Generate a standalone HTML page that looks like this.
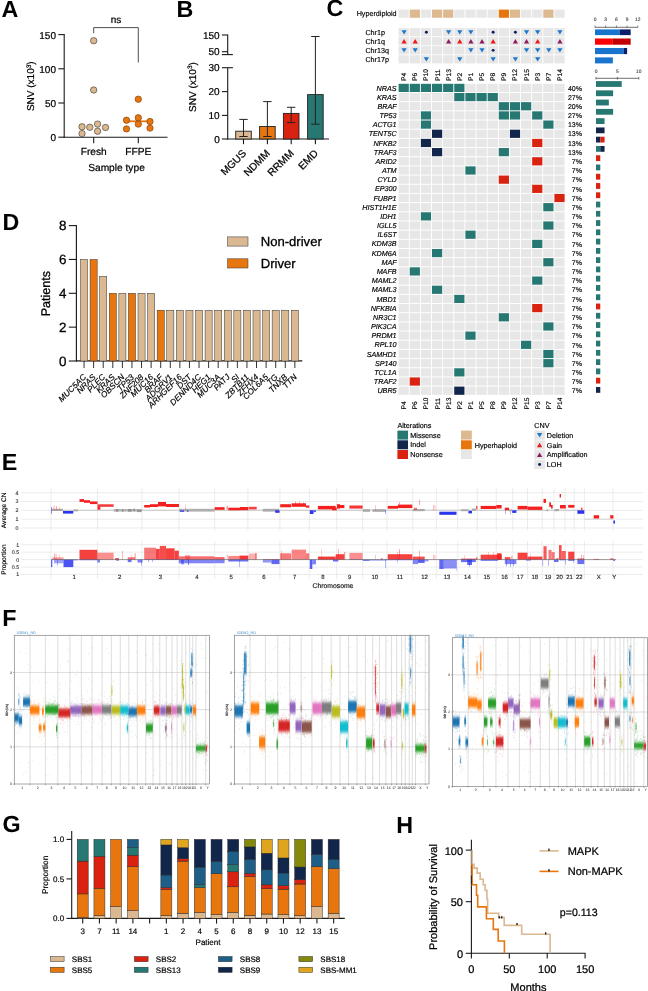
<!DOCTYPE html>
<html lang="en"><head><meta charset="utf-8"><title>Figure</title>
<style>
html,body{margin:0;padding:0;background:#fff;}
svg{display:block;font-family:"Liberation Sans", sans-serif;text-rendering:geometricPrecision;}
</style></head><body>
<svg width="648" height="991" viewBox="0 0 648 991">
<rect width="648" height="991" fill="#fff"/>
<text x="1.40" y="17.40" font-size="23.3" font-weight="bold">A</text>
<text x="176.50" y="17.40" font-size="23.3" font-weight="bold">B</text>
<text x="326.50" y="16.20" font-size="23.3" font-weight="bold">C</text>
<text x="2.50" y="229.80" font-size="23.3" font-weight="bold">D</text>
<text x="1.80" y="469.70" font-size="23.3" font-weight="bold">E</text>
<text x="2.20" y="625.70" font-size="23.3" font-weight="bold">F</text>
<text x="2.50" y="832.20" font-size="23.3" font-weight="bold">G</text>
<text x="396.20" y="833.20" font-size="23.3" font-weight="bold">H</text>
<g id="pA">
<line x1="64.20" y1="34.10" x2="64.20" y2="137.70" stroke="#1a1a1a" stroke-width="1.1"/>
<line x1="63.70" y1="137.20" x2="167.50" y2="137.20" stroke="#1a1a1a" stroke-width="1.1"/>
<line x1="58.30" y1="137.20" x2="64.20" y2="137.20" stroke="#1a1a1a" stroke-width="1.1"/>
<text x="56.00" y="141.20" font-size="10" text-anchor="end" stroke="#000" stroke-width="0.22">0</text>
<line x1="58.30" y1="103.00" x2="64.20" y2="103.00" stroke="#1a1a1a" stroke-width="1.1"/>
<text x="56.00" y="107.00" font-size="10" text-anchor="end" stroke="#000" stroke-width="0.22">50</text>
<line x1="58.30" y1="68.80" x2="64.20" y2="68.80" stroke="#1a1a1a" stroke-width="1.1"/>
<text x="56.00" y="72.80" font-size="10" text-anchor="end" stroke="#000" stroke-width="0.22">100</text>
<line x1="58.30" y1="34.60" x2="64.20" y2="34.60" stroke="#1a1a1a" stroke-width="1.1"/>
<text x="56.00" y="38.60" font-size="10" text-anchor="end" stroke="#000" stroke-width="0.22">150</text>
<line x1="93.70" y1="137.20" x2="93.70" y2="143.30" stroke="#1a1a1a" stroke-width="1.1"/>
<line x1="138.30" y1="137.20" x2="138.30" y2="143.30" stroke="#1a1a1a" stroke-width="1.1"/>
<text x="93.70" y="155.40" font-size="10.2" text-anchor="middle" stroke="#000" stroke-width="0.22">Fresh</text>
<text x="138.30" y="155.40" font-size="10.2" text-anchor="middle" stroke="#000" stroke-width="0.22">FFPE</text>
<text x="116.50" y="170.80" font-size="10.2" text-anchor="middle" stroke="#000" stroke-width="0.22">Sample type</text>
<text x="34.3" y="86.2" font-size="10" text-anchor="middle" stroke="#000" stroke-width="0.22" transform="rotate(-90 34.3 86.2)">SNV (x10<tspan font-size="6.5" dy="-3.6">3</tspan><tspan dy="3.6">)</tspan></text>
<path d="M93.7 33.2V27.6H138.3V62.5" fill="none" stroke="#222" stroke-width="0.8"/>
<text x="116.00" y="22.60" font-size="10" text-anchor="middle" stroke="#000" stroke-width="0.22">ns</text>
<line x1="126.00" y1="121.30" x2="150.50" y2="121.30" stroke="#e8760f" stroke-width="1.8"/>
<circle cx="93.7" cy="40.7" r="3.2" fill="#dab892" stroke="#3a3026" stroke-width="0.6"/>
<circle cx="93.7" cy="90.0" r="3.2" fill="#dab892" stroke="#3a3026" stroke-width="0.6"/>
<circle cx="82.0" cy="126.8" r="3.2" fill="#dab892" stroke="#3a3026" stroke-width="0.6"/>
<circle cx="89.8" cy="127.3" r="3.2" fill="#dab892" stroke="#3a3026" stroke-width="0.6"/>
<circle cx="97.6" cy="124.1" r="3.2" fill="#dab892" stroke="#3a3026" stroke-width="0.6"/>
<circle cx="105.5" cy="127.5" r="3.2" fill="#dab892" stroke="#3a3026" stroke-width="0.6"/>
<circle cx="97.6" cy="131.2" r="3.2" fill="#dab892" stroke="#3a3026" stroke-width="0.6"/>
<circle cx="82.0" cy="133.6" r="3.2" fill="#dab892" stroke="#3a3026" stroke-width="0.6"/>
<circle cx="138.3" cy="99.2" r="3.2" fill="#e8760f" stroke="#7a3a05" stroke-width="0.6"/>
<circle cx="126.5" cy="120.2" r="3.2" fill="#e8760f" stroke="#7a3a05" stroke-width="0.6"/>
<circle cx="138.3" cy="117.8" r="3.2" fill="#e8760f" stroke="#7a3a05" stroke-width="0.6"/>
<circle cx="150.0" cy="121.5" r="3.2" fill="#e8760f" stroke="#7a3a05" stroke-width="0.6"/>
<circle cx="138.3" cy="124.1" r="3.2" fill="#e8760f" stroke="#7a3a05" stroke-width="0.6"/>
<circle cx="126.5" cy="128.9" r="3.2" fill="#e8760f" stroke="#7a3a05" stroke-width="0.6"/>
<circle cx="150.0" cy="128.1" r="3.2" fill="#e8760f" stroke="#7a3a05" stroke-width="0.6"/>
</g>
<g id="pB">
<line x1="227.70" y1="34.50" x2="227.70" y2="54.60" stroke="#1a1a1a" stroke-width="1.1"/>
<line x1="227.70" y1="67.70" x2="227.70" y2="139.50" stroke="#1a1a1a" stroke-width="1.1"/>
<line x1="227.20" y1="139.00" x2="329.00" y2="139.00" stroke="#1a1a1a" stroke-width="1.1"/>
<line x1="221.90" y1="35.00" x2="227.70" y2="35.00" stroke="#1a1a1a" stroke-width="1.1"/>
<text x="219.70" y="38.60" font-size="10" text-anchor="end" stroke="#000" stroke-width="0.22">150</text>
<line x1="221.90" y1="51.70" x2="227.70" y2="51.70" stroke="#1a1a1a" stroke-width="1.1"/>
<text x="219.70" y="55.30" font-size="10" text-anchor="end" stroke="#000" stroke-width="0.22">50</text>
<line x1="221.90" y1="67.70" x2="227.70" y2="67.70" stroke="#1a1a1a" stroke-width="1.1"/>
<text x="219.70" y="71.30" font-size="10" text-anchor="end" stroke="#000" stroke-width="0.22">30</text>
<line x1="221.90" y1="91.60" x2="227.70" y2="91.60" stroke="#1a1a1a" stroke-width="1.1"/>
<text x="219.70" y="95.20" font-size="10" text-anchor="end" stroke="#000" stroke-width="0.22">20</text>
<line x1="221.90" y1="115.40" x2="227.70" y2="115.40" stroke="#1a1a1a" stroke-width="1.1"/>
<text x="219.70" y="119.00" font-size="10" text-anchor="end" stroke="#000" stroke-width="0.22">10</text>
<line x1="221.90" y1="139.00" x2="227.70" y2="139.00" stroke="#1a1a1a" stroke-width="1.1"/>
<text x="219.70" y="142.60" font-size="10" text-anchor="end" stroke="#000" stroke-width="0.22">0</text>
<line x1="221.90" y1="54.60" x2="232.90" y2="54.60" stroke="#1a1a1a" stroke-width="1.1"/>
<line x1="227.70" y1="67.70" x2="232.90" y2="67.70" stroke="#1a1a1a" stroke-width="1.1"/>
<text x="196" y="87" font-size="10" text-anchor="middle" stroke="#000" stroke-width="0.22" transform="rotate(-90 196 87)">SNV (x10<tspan font-size="6.5" dy="-3.6">3</tspan><tspan dy="3.6">)</tspan></text>
<rect x="235.70" y="131.20" width="15.60" height="7.80" fill="#dab892" stroke="#222" stroke-width="0.9"/>
<line x1="243.50" y1="119.40" x2="243.50" y2="136.50" stroke="#222" stroke-width="1.0"/>
<line x1="239.30" y1="119.40" x2="247.70" y2="119.40" stroke="#222" stroke-width="1.0"/>
<line x1="239.30" y1="136.50" x2="247.70" y2="136.50" stroke="#222" stroke-width="1.0"/>
<line x1="243.50" y1="139.00" x2="243.50" y2="144.20" stroke="#1a1a1a" stroke-width="1.1"/>
<text x="246.80" y="154.00" font-size="10.3" text-anchor="end" transform="rotate(-45 246.80 154.00)" stroke="#000" stroke-width="0.23">MGUS</text>
<rect x="259.60" y="126.50" width="15.60" height="12.50" fill="#e8760f" stroke="#222" stroke-width="0.9"/>
<line x1="267.40" y1="101.60" x2="267.40" y2="136.50" stroke="#222" stroke-width="1.0"/>
<line x1="263.20" y1="101.60" x2="271.60" y2="101.60" stroke="#222" stroke-width="1.0"/>
<line x1="263.20" y1="136.50" x2="271.60" y2="136.50" stroke="#222" stroke-width="1.0"/>
<line x1="267.40" y1="139.00" x2="267.40" y2="144.20" stroke="#1a1a1a" stroke-width="1.1"/>
<text x="270.70" y="154.00" font-size="10.3" text-anchor="end" transform="rotate(-45 270.70 154.00)" stroke="#000" stroke-width="0.23">NDMM</text>
<rect x="283.40" y="113.40" width="15.60" height="25.60" fill="#d9220f" stroke="#222" stroke-width="0.9"/>
<line x1="291.20" y1="107.30" x2="291.20" y2="122.60" stroke="#222" stroke-width="1.0"/>
<line x1="287.00" y1="107.30" x2="295.40" y2="107.30" stroke="#222" stroke-width="1.0"/>
<line x1="287.00" y1="122.60" x2="295.40" y2="122.60" stroke="#222" stroke-width="1.0"/>
<line x1="291.20" y1="139.00" x2="291.20" y2="144.20" stroke="#1a1a1a" stroke-width="1.1"/>
<text x="294.50" y="154.00" font-size="10.3" text-anchor="end" transform="rotate(-45 294.50 154.00)" stroke="#000" stroke-width="0.23">RRMM</text>
<rect x="307.60" y="94.60" width="15.60" height="44.40" fill="#277773" stroke="#222" stroke-width="0.9"/>
<line x1="315.40" y1="36.50" x2="315.40" y2="124.20" stroke="#222" stroke-width="1.0"/>
<line x1="311.20" y1="36.50" x2="319.60" y2="36.50" stroke="#222" stroke-width="1.0"/>
<line x1="311.20" y1="124.20" x2="319.60" y2="124.20" stroke="#222" stroke-width="1.0"/>
<line x1="315.40" y1="139.00" x2="315.40" y2="144.20" stroke="#1a1a1a" stroke-width="1.1"/>
<text x="318.70" y="154.00" font-size="10.3" text-anchor="end" transform="rotate(-45 318.70 154.00)" stroke="#000" stroke-width="0.23">EMD</text>
</g>
<g id="pD">
<line x1="76.40" y1="225.00" x2="76.40" y2="361.40" stroke="#1a1a1a" stroke-width="1.15"/>
<line x1="75.85" y1="360.85" x2="302.30" y2="360.85" stroke="#1a1a1a" stroke-width="1.15"/>
<line x1="68.80" y1="361.00" x2="76.40" y2="361.00" stroke="#1a1a1a" stroke-width="1.1"/>
<text x="66.40" y="365.80" font-size="13.4" text-anchor="end" stroke="#000" stroke-width="0.29">0</text>
<line x1="68.80" y1="327.15" x2="76.40" y2="327.15" stroke="#1a1a1a" stroke-width="1.1"/>
<text x="66.40" y="331.95" font-size="13.4" text-anchor="end" stroke="#000" stroke-width="0.29">2</text>
<line x1="68.80" y1="293.30" x2="76.40" y2="293.30" stroke="#1a1a1a" stroke-width="1.1"/>
<text x="66.40" y="298.10" font-size="13.4" text-anchor="end" stroke="#000" stroke-width="0.29">4</text>
<line x1="68.80" y1="259.45" x2="76.40" y2="259.45" stroke="#1a1a1a" stroke-width="1.1"/>
<text x="66.40" y="264.25" font-size="13.4" text-anchor="end" stroke="#000" stroke-width="0.29">6</text>
<line x1="68.80" y1="225.60" x2="76.40" y2="225.60" stroke="#1a1a1a" stroke-width="1.1"/>
<text x="66.40" y="230.40" font-size="13.4" text-anchor="end" stroke="#000" stroke-width="0.29">8</text>
<text x="50.30" y="293.60" font-size="12.6" text-anchor="middle" transform="rotate(-90 50.30 293.60)" stroke="#000" stroke-width="0.28">Patients</text>
<rect x="80.50" y="259.45" width="7.10" height="101.55" fill="#dab892" stroke="#333" stroke-width="0.5"/>
<line x1="84.05" y1="361.00" x2="84.05" y2="368.00" stroke="#1a1a1a" stroke-width="0.9"/>
<text x="86.65" y="377.60" font-size="8.3" text-anchor="end" font-style="italic" transform="rotate(-45 86.65 377.60)" stroke="#000" stroke-width="0.18">MUC5AC</text>
<rect x="90.08" y="259.45" width="7.10" height="101.55" fill="#e8760f" stroke="#333" stroke-width="0.5"/>
<line x1="93.63" y1="361.00" x2="93.63" y2="368.00" stroke="#1a1a1a" stroke-width="0.9"/>
<text x="96.23" y="377.60" font-size="8.3" text-anchor="end" font-style="italic" transform="rotate(-45 96.23 377.60)" stroke="#000" stroke-width="0.18">NRAS</text>
<rect x="99.66" y="276.38" width="7.10" height="84.62" fill="#dab892" stroke="#333" stroke-width="0.5"/>
<line x1="103.21" y1="361.00" x2="103.21" y2="368.00" stroke="#1a1a1a" stroke-width="0.9"/>
<text x="105.81" y="377.60" font-size="8.3" text-anchor="end" font-style="italic" transform="rotate(-45 105.81 377.60)" stroke="#000" stroke-width="0.18">PLEC</text>
<rect x="109.25" y="293.30" width="7.10" height="67.70" fill="#e8760f" stroke="#333" stroke-width="0.5"/>
<line x1="112.80" y1="361.00" x2="112.80" y2="368.00" stroke="#1a1a1a" stroke-width="0.9"/>
<text x="115.40" y="377.60" font-size="8.3" text-anchor="end" font-style="italic" transform="rotate(-45 115.40 377.60)" stroke="#000" stroke-width="0.18">KRAS</text>
<rect x="118.83" y="293.30" width="7.10" height="67.70" fill="#dab892" stroke="#333" stroke-width="0.5"/>
<line x1="122.38" y1="361.00" x2="122.38" y2="368.00" stroke="#1a1a1a" stroke-width="0.9"/>
<text x="124.98" y="377.60" font-size="8.3" text-anchor="end" font-style="italic" transform="rotate(-45 124.98 377.60)" stroke="#000" stroke-width="0.18">OBSCN</text>
<rect x="128.41" y="293.30" width="7.10" height="67.70" fill="#e8760f" stroke="#333" stroke-width="0.5"/>
<line x1="131.96" y1="361.00" x2="131.96" y2="368.00" stroke="#1a1a1a" stroke-width="0.9"/>
<text x="134.56" y="377.60" font-size="8.3" text-anchor="end" font-style="italic" transform="rotate(-45 134.56 377.60)" stroke="#000" stroke-width="0.18">TP53</text>
<rect x="137.99" y="293.30" width="7.10" height="67.70" fill="#dab892" stroke="#333" stroke-width="0.5"/>
<line x1="141.54" y1="361.00" x2="141.54" y2="368.00" stroke="#1a1a1a" stroke-width="0.9"/>
<text x="144.14" y="377.60" font-size="8.3" text-anchor="end" font-style="italic" transform="rotate(-45 144.14 377.60)" stroke="#000" stroke-width="0.18">ZNF208</text>
<rect x="147.57" y="293.30" width="7.10" height="67.70" fill="#dab892" stroke="#333" stroke-width="0.5"/>
<line x1="151.12" y1="361.00" x2="151.12" y2="368.00" stroke="#1a1a1a" stroke-width="0.9"/>
<text x="153.72" y="377.60" font-size="8.3" text-anchor="end" font-style="italic" transform="rotate(-45 153.72 377.60)" stroke="#000" stroke-width="0.18">MUC16</text>
<rect x="157.16" y="310.23" width="7.10" height="50.77" fill="#e8760f" stroke="#333" stroke-width="0.5"/>
<line x1="160.71" y1="361.00" x2="160.71" y2="368.00" stroke="#1a1a1a" stroke-width="0.9"/>
<text x="163.31" y="377.60" font-size="8.3" text-anchor="end" font-style="italic" transform="rotate(-45 163.31 377.60)" stroke="#000" stroke-width="0.18">BRAF</text>
<rect x="166.74" y="310.23" width="7.10" height="50.77" fill="#dab892" stroke="#333" stroke-width="0.5"/>
<line x1="170.29" y1="361.00" x2="170.29" y2="368.00" stroke="#1a1a1a" stroke-width="0.9"/>
<text x="172.89" y="377.60" font-size="8.3" text-anchor="end" font-style="italic" transform="rotate(-45 172.89 377.60)" stroke="#000" stroke-width="0.18">ADGRV1</text>
<rect x="176.32" y="310.23" width="7.10" height="50.77" fill="#dab892" stroke="#333" stroke-width="0.5"/>
<line x1="179.87" y1="361.00" x2="179.87" y2="368.00" stroke="#1a1a1a" stroke-width="0.9"/>
<text x="182.47" y="377.60" font-size="8.3" text-anchor="end" font-style="italic" transform="rotate(-45 182.47 377.60)" stroke="#000" stroke-width="0.18">ARHGEF16</text>
<rect x="185.90" y="310.23" width="7.10" height="50.77" fill="#dab892" stroke="#333" stroke-width="0.5"/>
<line x1="189.45" y1="361.00" x2="189.45" y2="368.00" stroke="#1a1a1a" stroke-width="0.9"/>
<text x="192.05" y="377.60" font-size="8.3" text-anchor="end" font-style="italic" transform="rotate(-45 192.05 377.60)" stroke="#000" stroke-width="0.18">DST</text>
<rect x="195.48" y="310.23" width="7.10" height="50.77" fill="#dab892" stroke="#333" stroke-width="0.5"/>
<line x1="199.03" y1="361.00" x2="199.03" y2="368.00" stroke="#1a1a1a" stroke-width="0.9"/>
<text x="201.63" y="377.60" font-size="8.3" text-anchor="end" font-style="italic" transform="rotate(-45 201.63 377.60)" stroke="#000" stroke-width="0.18">DENND4C</text>
<rect x="205.07" y="310.23" width="7.10" height="50.77" fill="#dab892" stroke="#333" stroke-width="0.5"/>
<line x1="208.62" y1="361.00" x2="208.62" y2="368.00" stroke="#1a1a1a" stroke-width="0.9"/>
<text x="211.22" y="377.60" font-size="8.3" text-anchor="end" font-style="italic" transform="rotate(-45 211.22 377.60)" stroke="#000" stroke-width="0.18">HEG1</text>
<rect x="214.65" y="310.23" width="7.10" height="50.77" fill="#dab892" stroke="#333" stroke-width="0.5"/>
<line x1="218.20" y1="361.00" x2="218.20" y2="368.00" stroke="#1a1a1a" stroke-width="0.9"/>
<text x="220.80" y="377.60" font-size="8.3" text-anchor="end" font-style="italic" transform="rotate(-45 220.80 377.60)" stroke="#000" stroke-width="0.18">MUC3A</text>
<rect x="224.23" y="310.23" width="7.10" height="50.77" fill="#dab892" stroke="#333" stroke-width="0.5"/>
<line x1="227.78" y1="361.00" x2="227.78" y2="368.00" stroke="#1a1a1a" stroke-width="0.9"/>
<text x="230.38" y="377.60" font-size="8.3" text-anchor="end" font-style="italic" transform="rotate(-45 230.38 377.60)" stroke="#000" stroke-width="0.18">PATJ</text>
<rect x="233.81" y="310.23" width="7.10" height="50.77" fill="#dab892" stroke="#333" stroke-width="0.5"/>
<line x1="237.36" y1="361.00" x2="237.36" y2="368.00" stroke="#1a1a1a" stroke-width="0.9"/>
<text x="239.96" y="377.60" font-size="8.3" text-anchor="end" font-style="italic" transform="rotate(-45 239.96 377.60)" stroke="#000" stroke-width="0.18">SI</text>
<rect x="243.39" y="310.23" width="7.10" height="50.77" fill="#dab892" stroke="#333" stroke-width="0.5"/>
<line x1="246.94" y1="361.00" x2="246.94" y2="368.00" stroke="#1a1a1a" stroke-width="0.9"/>
<text x="249.54" y="377.60" font-size="8.3" text-anchor="end" font-style="italic" transform="rotate(-45 249.54 377.60)" stroke="#000" stroke-width="0.18">ZBTB11</text>
<rect x="252.98" y="310.23" width="7.10" height="50.77" fill="#dab892" stroke="#333" stroke-width="0.5"/>
<line x1="256.53" y1="361.00" x2="256.53" y2="368.00" stroke="#1a1a1a" stroke-width="0.9"/>
<text x="259.13" y="377.60" font-size="8.3" text-anchor="end" font-style="italic" transform="rotate(-45 259.13 377.60)" stroke="#000" stroke-width="0.18">ZFHX4</text>
<rect x="262.56" y="310.23" width="7.10" height="50.77" fill="#dab892" stroke="#333" stroke-width="0.5"/>
<line x1="266.11" y1="361.00" x2="266.11" y2="368.00" stroke="#1a1a1a" stroke-width="0.9"/>
<text x="268.71" y="377.60" font-size="8.3" text-anchor="end" font-style="italic" transform="rotate(-45 268.71 377.60)" stroke="#000" stroke-width="0.18">COL6A5</text>
<rect x="272.14" y="310.23" width="7.10" height="50.77" fill="#dab892" stroke="#333" stroke-width="0.5"/>
<line x1="275.69" y1="361.00" x2="275.69" y2="368.00" stroke="#1a1a1a" stroke-width="0.9"/>
<text x="278.29" y="377.60" font-size="8.3" text-anchor="end" font-style="italic" transform="rotate(-45 278.29 377.60)" stroke="#000" stroke-width="0.18">TG</text>
<rect x="281.72" y="310.23" width="7.10" height="50.77" fill="#dab892" stroke="#333" stroke-width="0.5"/>
<line x1="285.27" y1="361.00" x2="285.27" y2="368.00" stroke="#1a1a1a" stroke-width="0.9"/>
<text x="287.87" y="377.60" font-size="8.3" text-anchor="end" font-style="italic" transform="rotate(-45 287.87 377.60)" stroke="#000" stroke-width="0.18">TNXB</text>
<rect x="291.30" y="310.23" width="7.10" height="50.77" fill="#dab892" stroke="#333" stroke-width="0.5"/>
<line x1="294.85" y1="361.00" x2="294.85" y2="368.00" stroke="#1a1a1a" stroke-width="0.9"/>
<text x="297.45" y="377.60" font-size="8.3" text-anchor="end" font-style="italic" transform="rotate(-45 297.45 377.60)" stroke="#000" stroke-width="0.18">TTN</text>
<rect x="227.60" y="236.90" width="20.40" height="9.20" fill="#dab892" stroke="#333" stroke-width="0.5"/>
<rect x="227.60" y="258.80" width="20.40" height="9.20" fill="#e8760f" stroke="#333" stroke-width="0.5"/>
<text x="260.70" y="246.10" font-size="13.1" stroke="#000" stroke-width="0.29">Non-driver</text>
<text x="260.70" y="267.90" font-size="13.1" stroke="#000" stroke-width="0.29">Driver</text>
</g>
<g id="pC">
<rect x="398.60" y="9.60" width="10.20" height="8.15" fill="#e7e7e7"/>
<rect x="409.73" y="9.60" width="10.20" height="8.15" fill="#dcb98f"/>
<rect x="420.86" y="9.60" width="10.20" height="8.15" fill="#e7e7e7"/>
<rect x="431.99" y="9.60" width="10.20" height="8.15" fill="#dcb98f"/>
<rect x="443.12" y="9.60" width="10.20" height="8.15" fill="#dcb98f"/>
<rect x="454.25" y="9.60" width="10.20" height="8.15" fill="#e7e7e7"/>
<rect x="465.38" y="9.60" width="10.20" height="8.15" fill="#e7e7e7"/>
<rect x="476.51" y="9.60" width="10.20" height="8.15" fill="#e7e7e7"/>
<rect x="487.64" y="9.60" width="10.20" height="8.15" fill="#e7e7e7"/>
<rect x="498.77" y="9.60" width="10.20" height="8.15" fill="#e8760f"/>
<rect x="509.90" y="9.60" width="10.20" height="8.15" fill="#dcb98f"/>
<rect x="521.03" y="9.60" width="10.20" height="8.15" fill="#e7e7e7"/>
<rect x="532.16" y="9.60" width="10.20" height="8.15" fill="#e7e7e7"/>
<rect x="543.29" y="9.60" width="10.20" height="8.15" fill="#dcb98f"/>
<rect x="554.42" y="9.60" width="10.20" height="8.15" fill="#e7e7e7"/>
<text x="396.60" y="16.40" font-size="7.2" text-anchor="end" stroke="#000" stroke-width="0.16">Hyperdiploid</text>
<rect x="398.60" y="28.10" width="10.20" height="8.20" fill="#e7e7e7"/>
<path d="M401.50 30.20h5.2l-2.6 4.3z" fill="#1b78cc"/>
<rect x="409.73" y="28.10" width="10.20" height="8.20" fill="#e7e7e7"/>
<rect x="420.86" y="28.10" width="10.20" height="8.20" fill="#e7e7e7"/>
<circle cx="426.36" cy="32.30" r="1.45" fill="#0b1c5e"/>
<rect x="431.99" y="28.10" width="10.20" height="8.20" fill="#e7e7e7"/>
<rect x="443.12" y="28.10" width="10.20" height="8.20" fill="#e7e7e7"/>
<path d="M446.02 30.20h5.2l-2.6 4.3z" fill="#1b78cc"/>
<rect x="454.25" y="28.10" width="10.20" height="8.20" fill="#e7e7e7"/>
<path d="M457.15 30.20h5.2l-2.6 4.3z" fill="#1b78cc"/>
<rect x="465.38" y="28.10" width="10.20" height="8.20" fill="#e7e7e7"/>
<path d="M468.28 30.20h5.2l-2.6 4.3z" fill="#1b78cc"/>
<rect x="476.51" y="28.10" width="10.20" height="8.20" fill="#e7e7e7"/>
<rect x="487.64" y="28.10" width="10.20" height="8.20" fill="#e7e7e7"/>
<circle cx="493.14" cy="32.30" r="1.45" fill="#0b1c5e"/>
<rect x="498.77" y="28.10" width="10.20" height="8.20" fill="#e7e7e7"/>
<rect x="509.90" y="28.10" width="10.20" height="8.20" fill="#e7e7e7"/>
<circle cx="515.40" cy="32.30" r="1.45" fill="#0b1c5e"/>
<rect x="521.03" y="28.10" width="10.20" height="8.20" fill="#e7e7e7"/>
<path d="M523.93 30.20h5.2l-2.6 4.3z" fill="#1b78cc"/>
<rect x="532.16" y="28.10" width="10.20" height="8.20" fill="#e7e7e7"/>
<path d="M535.06 30.20h5.2l-2.6 4.3z" fill="#1b78cc"/>
<rect x="543.29" y="28.10" width="10.20" height="8.20" fill="#e7e7e7"/>
<rect x="554.42" y="28.10" width="10.20" height="8.20" fill="#e7e7e7"/>
<path d="M557.32 30.20h5.2l-2.6 4.3z" fill="#1b78cc"/>
<text x="365.40" y="34.90" font-size="7.2" stroke="#000" stroke-width="0.16">Chr1p</text>
<rect x="398.60" y="37.13" width="10.20" height="8.20" fill="#e7e7e7"/>
<path d="M401.50 43.53h5.2l-2.6 -4.5z" fill="#f01616"/>
<rect x="409.73" y="37.13" width="10.20" height="8.20" fill="#e7e7e7"/>
<path d="M412.63 43.53h5.2l-2.6 -4.5z" fill="#f01616"/>
<rect x="420.86" y="37.13" width="10.20" height="8.20" fill="#e7e7e7"/>
<rect x="431.99" y="37.13" width="10.20" height="8.20" fill="#e7e7e7"/>
<rect x="443.12" y="37.13" width="10.20" height="8.20" fill="#e7e7e7"/>
<path d="M446.02 43.53h5.2l-2.6 -4.5z" fill="#8e1b5e"/>
<rect x="454.25" y="37.13" width="10.20" height="8.20" fill="#e7e7e7"/>
<path d="M457.15 43.53h5.2l-2.6 -4.5z" fill="#f01616"/>
<rect x="465.38" y="37.13" width="10.20" height="8.20" fill="#e7e7e7"/>
<path d="M468.28 43.53h5.2l-2.6 -4.5z" fill="#8e1b5e"/>
<rect x="476.51" y="37.13" width="10.20" height="8.20" fill="#e7e7e7"/>
<path d="M479.41 43.53h5.2l-2.6 -4.5z" fill="#8e1b5e"/>
<rect x="487.64" y="37.13" width="10.20" height="8.20" fill="#e7e7e7"/>
<path d="M490.54 43.53h5.2l-2.6 -4.5z" fill="#f01616"/>
<rect x="498.77" y="37.13" width="10.20" height="8.20" fill="#e7e7e7"/>
<rect x="509.90" y="37.13" width="10.20" height="8.20" fill="#e7e7e7"/>
<path d="M512.80 43.53h5.2l-2.6 -4.5z" fill="#8e1b5e"/>
<rect x="521.03" y="37.13" width="10.20" height="8.20" fill="#e7e7e7"/>
<path d="M523.93 43.53h5.2l-2.6 -4.5z" fill="#8e1b5e"/>
<rect x="532.16" y="37.13" width="10.20" height="8.20" fill="#e7e7e7"/>
<path d="M535.06 43.53h5.2l-2.6 -4.5z" fill="#f01616"/>
<rect x="543.29" y="37.13" width="10.20" height="8.20" fill="#e7e7e7"/>
<rect x="554.42" y="37.13" width="10.20" height="8.20" fill="#e7e7e7"/>
<path d="M557.32 43.53h5.2l-2.6 -4.5z" fill="#8e1b5e"/>
<text x="365.40" y="43.93" font-size="7.2" stroke="#000" stroke-width="0.16">Chr1q</text>
<rect x="398.60" y="46.16" width="10.20" height="8.20" fill="#e7e7e7"/>
<path d="M401.50 48.26h5.2l-2.6 4.3z" fill="#1b78cc"/>
<rect x="409.73" y="46.16" width="10.20" height="8.20" fill="#e7e7e7"/>
<path d="M412.63 48.26h5.2l-2.6 4.3z" fill="#1b78cc"/>
<rect x="420.86" y="46.16" width="10.20" height="8.20" fill="#e7e7e7"/>
<rect x="431.99" y="46.16" width="10.20" height="8.20" fill="#e7e7e7"/>
<rect x="443.12" y="46.16" width="10.20" height="8.20" fill="#e7e7e7"/>
<rect x="454.25" y="46.16" width="10.20" height="8.20" fill="#e7e7e7"/>
<rect x="465.38" y="46.16" width="10.20" height="8.20" fill="#e7e7e7"/>
<path d="M468.28 48.26h5.2l-2.6 4.3z" fill="#1b78cc"/>
<rect x="476.51" y="46.16" width="10.20" height="8.20" fill="#e7e7e7"/>
<path d="M479.41 48.26h5.2l-2.6 4.3z" fill="#1b78cc"/>
<rect x="487.64" y="46.16" width="10.20" height="8.20" fill="#e7e7e7"/>
<circle cx="493.14" cy="50.36" r="1.45" fill="#0b1c5e"/>
<rect x="498.77" y="46.16" width="10.20" height="8.20" fill="#e7e7e7"/>
<rect x="509.90" y="46.16" width="10.20" height="8.20" fill="#e7e7e7"/>
<rect x="521.03" y="46.16" width="10.20" height="8.20" fill="#e7e7e7"/>
<path d="M523.93 48.26h5.2l-2.6 4.3z" fill="#1b78cc"/>
<rect x="532.16" y="46.16" width="10.20" height="8.20" fill="#e7e7e7"/>
<path d="M535.06 48.26h5.2l-2.6 4.3z" fill="#1b78cc"/>
<rect x="543.29" y="46.16" width="10.20" height="8.20" fill="#e7e7e7"/>
<path d="M546.19 48.26h5.2l-2.6 4.3z" fill="#1b78cc"/>
<rect x="554.42" y="46.16" width="10.20" height="8.20" fill="#e7e7e7"/>
<path d="M557.32 48.26h5.2l-2.6 4.3z" fill="#1b78cc"/>
<text x="365.40" y="52.96" font-size="7.2" stroke="#000" stroke-width="0.16">Chr13q</text>
<rect x="398.60" y="55.19" width="10.20" height="8.20" fill="#e7e7e7"/>
<rect x="409.73" y="55.19" width="10.20" height="8.20" fill="#e7e7e7"/>
<rect x="420.86" y="55.19" width="10.20" height="8.20" fill="#e7e7e7"/>
<path d="M423.76 57.29h5.2l-2.6 4.3z" fill="#1b78cc"/>
<rect x="431.99" y="55.19" width="10.20" height="8.20" fill="#e7e7e7"/>
<rect x="443.12" y="55.19" width="10.20" height="8.20" fill="#e7e7e7"/>
<rect x="454.25" y="55.19" width="10.20" height="8.20" fill="#e7e7e7"/>
<path d="M457.15 57.29h5.2l-2.6 4.3z" fill="#1b78cc"/>
<rect x="465.38" y="55.19" width="10.20" height="8.20" fill="#e7e7e7"/>
<rect x="476.51" y="55.19" width="10.20" height="8.20" fill="#e7e7e7"/>
<rect x="487.64" y="55.19" width="10.20" height="8.20" fill="#e7e7e7"/>
<path d="M490.54 57.29h5.2l-2.6 4.3z" fill="#1b78cc"/>
<rect x="498.77" y="55.19" width="10.20" height="8.20" fill="#e7e7e7"/>
<rect x="509.90" y="55.19" width="10.20" height="8.20" fill="#e7e7e7"/>
<path d="M512.80 57.29h5.2l-2.6 4.3z" fill="#1b78cc"/>
<rect x="521.03" y="55.19" width="10.20" height="8.20" fill="#e7e7e7"/>
<rect x="532.16" y="55.19" width="10.20" height="8.20" fill="#e7e7e7"/>
<path d="M535.06 57.29h5.2l-2.6 4.3z" fill="#1b78cc"/>
<rect x="543.29" y="55.19" width="10.20" height="8.20" fill="#e7e7e7"/>
<rect x="554.42" y="55.19" width="10.20" height="8.20" fill="#e7e7e7"/>
<text x="365.40" y="61.99" font-size="7.2" stroke="#000" stroke-width="0.16">Chr17p</text>
<line x1="595.00" y1="27.30" x2="637.80" y2="27.30" stroke="#333" stroke-width="0.7"/>
<line x1="595.00" y1="25.50" x2="595.00" y2="27.60" stroke="#333" stroke-width="0.6"/>
<text x="595.00" y="21.40" font-size="4.9" text-anchor="middle" fill="#444" stroke="#444" stroke-width="0.11">0</text>
<line x1="605.70" y1="25.50" x2="605.70" y2="27.60" stroke="#333" stroke-width="0.6"/>
<text x="605.70" y="21.40" font-size="4.9" text-anchor="middle" fill="#444" stroke="#444" stroke-width="0.11">3</text>
<line x1="616.40" y1="25.50" x2="616.40" y2="27.60" stroke="#333" stroke-width="0.6"/>
<text x="616.40" y="21.40" font-size="4.9" text-anchor="middle" fill="#444" stroke="#444" stroke-width="0.11">6</text>
<line x1="627.10" y1="25.50" x2="627.10" y2="27.60" stroke="#333" stroke-width="0.6"/>
<text x="627.10" y="21.40" font-size="4.9" text-anchor="middle" fill="#444" stroke="#444" stroke-width="0.11">9</text>
<line x1="637.80" y1="25.50" x2="637.80" y2="27.60" stroke="#333" stroke-width="0.6"/>
<text x="637.80" y="21.40" font-size="4.9" text-anchor="middle" fill="#444" stroke="#444" stroke-width="0.11">12</text>
<rect x="595.00" y="29.40" width="24.97" height="5.70" fill="#1874cd"/>
<rect x="619.97" y="29.40" width="10.70" height="5.70" fill="#0c1f6b"/>
<rect x="595.00" y="38.50" width="17.84" height="6.20" fill="#ff0000"/>
<rect x="612.84" y="38.50" width="17.83" height="6.20" fill="#c00000"/>
<rect x="595.00" y="48.00" width="28.54" height="6.10" fill="#1874cd"/>
<rect x="623.54" y="48.00" width="3.57" height="6.10" fill="#0c1f6b"/>
<rect x="595.00" y="57.40" width="17.84" height="6.00" fill="#1874cd"/>
<text x="406.15" y="80.90" font-size="6.7" transform="rotate(-90 406.15 80.90)" stroke="#000" stroke-width="0.15">P4</text>
<text x="406.15" y="409.50" font-size="6.7" transform="rotate(-90 406.15 409.50)" stroke="#000" stroke-width="0.15">P4</text>
<text x="417.28" y="80.90" font-size="6.7" transform="rotate(-90 417.28 80.90)" stroke="#000" stroke-width="0.15">P6</text>
<text x="417.28" y="409.50" font-size="6.7" transform="rotate(-90 417.28 409.50)" stroke="#000" stroke-width="0.15">P6</text>
<text x="428.41" y="80.90" font-size="6.7" transform="rotate(-90 428.41 80.90)" stroke="#000" stroke-width="0.15">P10</text>
<text x="428.41" y="409.50" font-size="6.7" transform="rotate(-90 428.41 409.50)" stroke="#000" stroke-width="0.15">P10</text>
<text x="439.54" y="80.90" font-size="6.7" transform="rotate(-90 439.54 80.90)" stroke="#000" stroke-width="0.15">P11</text>
<text x="439.54" y="409.50" font-size="6.7" transform="rotate(-90 439.54 409.50)" stroke="#000" stroke-width="0.15">P11</text>
<text x="450.67" y="80.90" font-size="6.7" transform="rotate(-90 450.67 80.90)" stroke="#000" stroke-width="0.15">P13</text>
<text x="450.67" y="409.50" font-size="6.7" transform="rotate(-90 450.67 409.50)" stroke="#000" stroke-width="0.15">P13</text>
<text x="461.80" y="80.90" font-size="6.7" transform="rotate(-90 461.80 80.90)" stroke="#000" stroke-width="0.15">P2</text>
<text x="461.80" y="409.50" font-size="6.7" transform="rotate(-90 461.80 409.50)" stroke="#000" stroke-width="0.15">P2</text>
<text x="472.93" y="80.90" font-size="6.7" transform="rotate(-90 472.93 80.90)" stroke="#000" stroke-width="0.15">P1</text>
<text x="472.93" y="409.50" font-size="6.7" transform="rotate(-90 472.93 409.50)" stroke="#000" stroke-width="0.15">P1</text>
<text x="484.06" y="80.90" font-size="6.7" transform="rotate(-90 484.06 80.90)" stroke="#000" stroke-width="0.15">P5</text>
<text x="484.06" y="409.50" font-size="6.7" transform="rotate(-90 484.06 409.50)" stroke="#000" stroke-width="0.15">P5</text>
<text x="495.19" y="80.90" font-size="6.7" transform="rotate(-90 495.19 80.90)" stroke="#000" stroke-width="0.15">P8</text>
<text x="495.19" y="409.50" font-size="6.7" transform="rotate(-90 495.19 409.50)" stroke="#000" stroke-width="0.15">P8</text>
<text x="506.32" y="80.90" font-size="6.7" transform="rotate(-90 506.32 80.90)" stroke="#000" stroke-width="0.15">P9</text>
<text x="506.32" y="409.50" font-size="6.7" transform="rotate(-90 506.32 409.50)" stroke="#000" stroke-width="0.15">P9</text>
<text x="517.45" y="80.90" font-size="6.7" transform="rotate(-90 517.45 80.90)" stroke="#000" stroke-width="0.15">P12</text>
<text x="517.45" y="409.50" font-size="6.7" transform="rotate(-90 517.45 409.50)" stroke="#000" stroke-width="0.15">P12</text>
<text x="528.58" y="80.90" font-size="6.7" transform="rotate(-90 528.58 80.90)" stroke="#000" stroke-width="0.15">P15</text>
<text x="528.58" y="409.50" font-size="6.7" transform="rotate(-90 528.58 409.50)" stroke="#000" stroke-width="0.15">P15</text>
<text x="539.71" y="80.90" font-size="6.7" transform="rotate(-90 539.71 80.90)" stroke="#000" stroke-width="0.15">P3</text>
<text x="539.71" y="409.50" font-size="6.7" transform="rotate(-90 539.71 409.50)" stroke="#000" stroke-width="0.15">P3</text>
<text x="550.84" y="80.90" font-size="6.7" transform="rotate(-90 550.84 80.90)" stroke="#000" stroke-width="0.15">P7</text>
<text x="550.84" y="409.50" font-size="6.7" transform="rotate(-90 550.84 409.50)" stroke="#000" stroke-width="0.15">P7</text>
<text x="561.97" y="80.90" font-size="6.7" transform="rotate(-90 561.97 80.90)" stroke="#000" stroke-width="0.15">P14</text>
<text x="561.97" y="409.50" font-size="6.7" transform="rotate(-90 561.97 409.50)" stroke="#000" stroke-width="0.15">P14</text>
<line x1="596.00" y1="78.30" x2="638.80" y2="78.30" stroke="#333" stroke-width="0.7"/>
<line x1="596.00" y1="76.80" x2="596.00" y2="79.60" stroke="#333" stroke-width="0.6"/>
<text x="596.00" y="72.90" font-size="4.9" text-anchor="middle" fill="#444" stroke="#444" stroke-width="0.11">0</text>
<line x1="617.40" y1="76.80" x2="617.40" y2="79.60" stroke="#333" stroke-width="0.6"/>
<text x="617.40" y="72.90" font-size="4.9" text-anchor="middle" fill="#444" stroke="#444" stroke-width="0.11">5</text>
<line x1="638.80" y1="76.80" x2="638.80" y2="79.60" stroke="#333" stroke-width="0.6"/>
<text x="638.80" y="72.90" font-size="4.9" text-anchor="middle" fill="#444" stroke="#444" stroke-width="0.11">10</text>
<rect x="398.60" y="83.80" width="10.20" height="8.20" fill="#277773"/>
<rect x="409.73" y="83.80" width="10.20" height="8.20" fill="#277773"/>
<rect x="420.86" y="83.80" width="10.20" height="8.20" fill="#277773"/>
<rect x="431.99" y="83.80" width="10.20" height="8.20" fill="#277773"/>
<rect x="443.12" y="83.80" width="10.20" height="8.20" fill="#277773"/>
<rect x="454.25" y="83.80" width="10.20" height="8.20" fill="#277773"/>
<rect x="465.38" y="83.80" width="10.20" height="8.20" fill="#e7e7e7"/>
<rect x="476.51" y="83.80" width="10.20" height="8.20" fill="#e7e7e7"/>
<rect x="487.64" y="83.80" width="10.20" height="8.20" fill="#e7e7e7"/>
<rect x="498.77" y="83.80" width="10.20" height="8.20" fill="#e7e7e7"/>
<rect x="509.90" y="83.80" width="10.20" height="8.20" fill="#e7e7e7"/>
<rect x="521.03" y="83.80" width="10.20" height="8.20" fill="#e7e7e7"/>
<rect x="532.16" y="83.80" width="10.20" height="8.20" fill="#e7e7e7"/>
<rect x="543.29" y="83.80" width="10.20" height="8.20" fill="#e7e7e7"/>
<rect x="554.42" y="83.80" width="10.20" height="8.20" fill="#e7e7e7"/>
<text x="396.60" y="90.50" font-size="7.2" text-anchor="end" font-style="italic" stroke="#000" stroke-width="0.16">NRAS</text>
<text x="581.90" y="90.60" font-size="7.0" text-anchor="end" stroke="#000" stroke-width="0.15">40%</text>
<rect x="596.00" y="81.10" width="25.68" height="5.80" fill="#277773"/>
<rect x="398.60" y="92.98" width="10.20" height="8.20" fill="#e7e7e7"/>
<rect x="409.73" y="92.98" width="10.20" height="8.20" fill="#e7e7e7"/>
<rect x="420.86" y="92.98" width="10.20" height="8.20" fill="#e7e7e7"/>
<rect x="431.99" y="92.98" width="10.20" height="8.20" fill="#e7e7e7"/>
<rect x="443.12" y="92.98" width="10.20" height="8.20" fill="#e7e7e7"/>
<rect x="454.25" y="92.98" width="10.20" height="8.20" fill="#277773"/>
<rect x="465.38" y="92.98" width="10.20" height="8.20" fill="#277773"/>
<rect x="476.51" y="92.98" width="10.20" height="8.20" fill="#277773"/>
<rect x="487.64" y="92.98" width="10.20" height="8.20" fill="#277773"/>
<rect x="498.77" y="92.98" width="10.20" height="8.20" fill="#e7e7e7"/>
<rect x="509.90" y="92.98" width="10.20" height="8.20" fill="#e7e7e7"/>
<rect x="521.03" y="92.98" width="10.20" height="8.20" fill="#e7e7e7"/>
<rect x="532.16" y="92.98" width="10.20" height="8.20" fill="#e7e7e7"/>
<rect x="543.29" y="92.98" width="10.20" height="8.20" fill="#e7e7e7"/>
<rect x="554.42" y="92.98" width="10.20" height="8.20" fill="#e7e7e7"/>
<text x="396.60" y="99.68" font-size="7.2" text-anchor="end" font-style="italic" stroke="#000" stroke-width="0.16">KRAS</text>
<text x="581.90" y="99.78" font-size="7.0" text-anchor="end" stroke="#000" stroke-width="0.15">27%</text>
<rect x="596.00" y="90.37" width="17.12" height="5.80" fill="#277773"/>
<rect x="398.60" y="102.15" width="10.20" height="8.20" fill="#e7e7e7"/>
<rect x="409.73" y="102.15" width="10.20" height="8.20" fill="#e7e7e7"/>
<rect x="420.86" y="102.15" width="10.20" height="8.20" fill="#e7e7e7"/>
<rect x="431.99" y="102.15" width="10.20" height="8.20" fill="#e7e7e7"/>
<rect x="443.12" y="102.15" width="10.20" height="8.20" fill="#e7e7e7"/>
<rect x="454.25" y="102.15" width="10.20" height="8.20" fill="#e7e7e7"/>
<rect x="465.38" y="102.15" width="10.20" height="8.20" fill="#e7e7e7"/>
<rect x="476.51" y="102.15" width="10.20" height="8.20" fill="#e7e7e7"/>
<rect x="487.64" y="102.15" width="10.20" height="8.20" fill="#e7e7e7"/>
<rect x="498.77" y="102.15" width="10.20" height="8.20" fill="#277773"/>
<rect x="509.90" y="102.15" width="10.20" height="8.20" fill="#277773"/>
<rect x="521.03" y="102.15" width="10.20" height="8.20" fill="#277773"/>
<rect x="532.16" y="102.15" width="10.20" height="8.20" fill="#e7e7e7"/>
<rect x="543.29" y="102.15" width="10.20" height="8.20" fill="#e7e7e7"/>
<rect x="554.42" y="102.15" width="10.20" height="8.20" fill="#e7e7e7"/>
<text x="396.60" y="108.85" font-size="7.2" text-anchor="end" font-style="italic" stroke="#000" stroke-width="0.16">BRAF</text>
<text x="581.90" y="108.95" font-size="7.0" text-anchor="end" stroke="#000" stroke-width="0.15">20%</text>
<rect x="596.00" y="99.64" width="12.84" height="5.80" fill="#277773"/>
<rect x="398.60" y="111.33" width="10.20" height="8.20" fill="#e7e7e7"/>
<rect x="409.73" y="111.33" width="10.20" height="8.20" fill="#e7e7e7"/>
<rect x="420.86" y="111.33" width="10.20" height="8.20" fill="#277773"/>
<rect x="431.99" y="111.33" width="10.20" height="8.20" fill="#e7e7e7"/>
<rect x="443.12" y="111.33" width="10.20" height="8.20" fill="#e7e7e7"/>
<rect x="454.25" y="111.33" width="10.20" height="8.20" fill="#e7e7e7"/>
<rect x="465.38" y="111.33" width="10.20" height="8.20" fill="#e7e7e7"/>
<rect x="476.51" y="111.33" width="10.20" height="8.20" fill="#e7e7e7"/>
<rect x="487.64" y="111.33" width="10.20" height="8.20" fill="#e7e7e7"/>
<rect x="498.77" y="111.33" width="10.20" height="8.20" fill="#277773"/>
<rect x="509.90" y="111.33" width="10.20" height="8.20" fill="#277773"/>
<rect x="521.03" y="111.33" width="10.20" height="8.20" fill="#e7e7e7"/>
<rect x="532.16" y="111.33" width="10.20" height="8.20" fill="#277773"/>
<rect x="543.29" y="111.33" width="10.20" height="8.20" fill="#e7e7e7"/>
<rect x="554.42" y="111.33" width="10.20" height="8.20" fill="#e7e7e7"/>
<text x="396.60" y="118.03" font-size="7.2" text-anchor="end" font-style="italic" stroke="#000" stroke-width="0.16">TP53</text>
<text x="581.90" y="118.13" font-size="7.0" text-anchor="end" stroke="#000" stroke-width="0.15">27%</text>
<rect x="596.00" y="108.91" width="17.12" height="5.80" fill="#277773"/>
<rect x="398.60" y="120.50" width="10.20" height="8.20" fill="#e7e7e7"/>
<rect x="409.73" y="120.50" width="10.20" height="8.20" fill="#e7e7e7"/>
<rect x="420.86" y="120.50" width="10.20" height="8.20" fill="#277773"/>
<rect x="431.99" y="120.50" width="10.20" height="8.20" fill="#e7e7e7"/>
<rect x="443.12" y="120.50" width="10.20" height="8.20" fill="#e7e7e7"/>
<rect x="454.25" y="120.50" width="10.20" height="8.20" fill="#e7e7e7"/>
<rect x="465.38" y="120.50" width="10.20" height="8.20" fill="#e7e7e7"/>
<rect x="476.51" y="120.50" width="10.20" height="8.20" fill="#e7e7e7"/>
<rect x="487.64" y="120.50" width="10.20" height="8.20" fill="#e7e7e7"/>
<rect x="498.77" y="120.50" width="10.20" height="8.20" fill="#e7e7e7"/>
<rect x="509.90" y="120.50" width="10.20" height="8.20" fill="#e7e7e7"/>
<rect x="521.03" y="120.50" width="10.20" height="8.20" fill="#e7e7e7"/>
<rect x="532.16" y="120.50" width="10.20" height="8.20" fill="#e7e7e7"/>
<rect x="543.29" y="120.50" width="10.20" height="8.20" fill="#277773"/>
<rect x="554.42" y="120.50" width="10.20" height="8.20" fill="#e7e7e7"/>
<text x="396.60" y="127.20" font-size="7.2" text-anchor="end" font-style="italic" stroke="#000" stroke-width="0.16">ACTG1</text>
<text x="581.90" y="127.30" font-size="7.0" text-anchor="end" stroke="#000" stroke-width="0.15">13%</text>
<rect x="596.00" y="118.18" width="8.56" height="5.80" fill="#277773"/>
<rect x="398.60" y="129.68" width="10.20" height="8.20" fill="#e7e7e7"/>
<rect x="409.73" y="129.68" width="10.20" height="8.20" fill="#e7e7e7"/>
<rect x="420.86" y="129.68" width="10.20" height="8.20" fill="#e7e7e7"/>
<rect x="431.99" y="129.68" width="10.20" height="8.20" fill="#11264a"/>
<rect x="443.12" y="129.68" width="10.20" height="8.20" fill="#e7e7e7"/>
<rect x="454.25" y="129.68" width="10.20" height="8.20" fill="#e7e7e7"/>
<rect x="465.38" y="129.68" width="10.20" height="8.20" fill="#e7e7e7"/>
<rect x="476.51" y="129.68" width="10.20" height="8.20" fill="#e7e7e7"/>
<rect x="487.64" y="129.68" width="10.20" height="8.20" fill="#e7e7e7"/>
<rect x="498.77" y="129.68" width="10.20" height="8.20" fill="#e7e7e7"/>
<rect x="509.90" y="129.68" width="10.20" height="8.20" fill="#11264a"/>
<rect x="521.03" y="129.68" width="10.20" height="8.20" fill="#e7e7e7"/>
<rect x="532.16" y="129.68" width="10.20" height="8.20" fill="#e7e7e7"/>
<rect x="543.29" y="129.68" width="10.20" height="8.20" fill="#e7e7e7"/>
<rect x="554.42" y="129.68" width="10.20" height="8.20" fill="#e7e7e7"/>
<text x="396.60" y="136.38" font-size="7.2" text-anchor="end" font-style="italic" stroke="#000" stroke-width="0.16">TENT5C</text>
<text x="581.90" y="136.48" font-size="7.0" text-anchor="end" stroke="#000" stroke-width="0.15">13%</text>
<rect x="596.00" y="127.45" width="8.56" height="5.80" fill="#11264a"/>
<rect x="398.60" y="138.86" width="10.20" height="8.20" fill="#e7e7e7"/>
<rect x="409.73" y="138.86" width="10.20" height="8.20" fill="#e7e7e7"/>
<rect x="420.86" y="138.86" width="10.20" height="8.20" fill="#11264a"/>
<rect x="431.99" y="138.86" width="10.20" height="8.20" fill="#e7e7e7"/>
<rect x="443.12" y="138.86" width="10.20" height="8.20" fill="#e7e7e7"/>
<rect x="454.25" y="138.86" width="10.20" height="8.20" fill="#e7e7e7"/>
<rect x="465.38" y="138.86" width="10.20" height="8.20" fill="#e7e7e7"/>
<rect x="476.51" y="138.86" width="10.20" height="8.20" fill="#e7e7e7"/>
<rect x="487.64" y="138.86" width="10.20" height="8.20" fill="#e7e7e7"/>
<rect x="498.77" y="138.86" width="10.20" height="8.20" fill="#e7e7e7"/>
<rect x="509.90" y="138.86" width="10.20" height="8.20" fill="#e7e7e7"/>
<rect x="521.03" y="138.86" width="10.20" height="8.20" fill="#e7e7e7"/>
<rect x="532.16" y="138.86" width="10.20" height="8.20" fill="#d9220f"/>
<rect x="543.29" y="138.86" width="10.20" height="8.20" fill="#e7e7e7"/>
<rect x="554.42" y="138.86" width="10.20" height="8.20" fill="#e7e7e7"/>
<text x="396.60" y="145.56" font-size="7.2" text-anchor="end" font-style="italic" stroke="#000" stroke-width="0.16">NFKB2</text>
<text x="581.90" y="145.66" font-size="7.0" text-anchor="end" stroke="#000" stroke-width="0.15">13%</text>
<rect x="596.00" y="136.72" width="4.28" height="5.80" fill="#11264a"/>
<rect x="600.28" y="136.72" width="4.28" height="5.80" fill="#d9220f"/>
<rect x="398.60" y="148.03" width="10.20" height="8.20" fill="#e7e7e7"/>
<rect x="409.73" y="148.03" width="10.20" height="8.20" fill="#e7e7e7"/>
<rect x="420.86" y="148.03" width="10.20" height="8.20" fill="#e7e7e7"/>
<rect x="431.99" y="148.03" width="10.20" height="8.20" fill="#11264a"/>
<rect x="443.12" y="148.03" width="10.20" height="8.20" fill="#e7e7e7"/>
<rect x="454.25" y="148.03" width="10.20" height="8.20" fill="#e7e7e7"/>
<rect x="465.38" y="148.03" width="10.20" height="8.20" fill="#e7e7e7"/>
<rect x="476.51" y="148.03" width="10.20" height="8.20" fill="#e7e7e7"/>
<rect x="487.64" y="148.03" width="10.20" height="8.20" fill="#e7e7e7"/>
<rect x="498.77" y="148.03" width="10.20" height="8.20" fill="#277773"/>
<rect x="509.90" y="148.03" width="10.20" height="8.20" fill="#e7e7e7"/>
<rect x="521.03" y="148.03" width="10.20" height="8.20" fill="#e7e7e7"/>
<rect x="532.16" y="148.03" width="10.20" height="8.20" fill="#e7e7e7"/>
<rect x="543.29" y="148.03" width="10.20" height="8.20" fill="#e7e7e7"/>
<rect x="554.42" y="148.03" width="10.20" height="8.20" fill="#e7e7e7"/>
<text x="396.60" y="154.73" font-size="7.2" text-anchor="end" font-style="italic" stroke="#000" stroke-width="0.16">TRAF3</text>
<text x="581.90" y="154.83" font-size="7.0" text-anchor="end" stroke="#000" stroke-width="0.15">13%</text>
<rect x="596.00" y="145.99" width="4.28" height="5.80" fill="#277773"/>
<rect x="600.28" y="145.99" width="4.28" height="5.80" fill="#11264a"/>
<rect x="398.60" y="157.21" width="10.20" height="8.20" fill="#e7e7e7"/>
<rect x="409.73" y="157.21" width="10.20" height="8.20" fill="#e7e7e7"/>
<rect x="420.86" y="157.21" width="10.20" height="8.20" fill="#e7e7e7"/>
<rect x="431.99" y="157.21" width="10.20" height="8.20" fill="#e7e7e7"/>
<rect x="443.12" y="157.21" width="10.20" height="8.20" fill="#e7e7e7"/>
<rect x="454.25" y="157.21" width="10.20" height="8.20" fill="#e7e7e7"/>
<rect x="465.38" y="157.21" width="10.20" height="8.20" fill="#e7e7e7"/>
<rect x="476.51" y="157.21" width="10.20" height="8.20" fill="#e7e7e7"/>
<rect x="487.64" y="157.21" width="10.20" height="8.20" fill="#e7e7e7"/>
<rect x="498.77" y="157.21" width="10.20" height="8.20" fill="#e7e7e7"/>
<rect x="509.90" y="157.21" width="10.20" height="8.20" fill="#e7e7e7"/>
<rect x="521.03" y="157.21" width="10.20" height="8.20" fill="#e7e7e7"/>
<rect x="532.16" y="157.21" width="10.20" height="8.20" fill="#d9220f"/>
<rect x="543.29" y="157.21" width="10.20" height="8.20" fill="#e7e7e7"/>
<rect x="554.42" y="157.21" width="10.20" height="8.20" fill="#e7e7e7"/>
<text x="396.60" y="163.91" font-size="7.2" text-anchor="end" font-style="italic" stroke="#000" stroke-width="0.16">ARID2</text>
<text x="581.90" y="164.01" font-size="7.0" text-anchor="end" stroke="#000" stroke-width="0.15">7%</text>
<rect x="596.00" y="155.26" width="4.28" height="5.80" fill="#d9220f"/>
<rect x="398.60" y="166.38" width="10.20" height="8.20" fill="#e7e7e7"/>
<rect x="409.73" y="166.38" width="10.20" height="8.20" fill="#e7e7e7"/>
<rect x="420.86" y="166.38" width="10.20" height="8.20" fill="#e7e7e7"/>
<rect x="431.99" y="166.38" width="10.20" height="8.20" fill="#e7e7e7"/>
<rect x="443.12" y="166.38" width="10.20" height="8.20" fill="#e7e7e7"/>
<rect x="454.25" y="166.38" width="10.20" height="8.20" fill="#e7e7e7"/>
<rect x="465.38" y="166.38" width="10.20" height="8.20" fill="#277773"/>
<rect x="476.51" y="166.38" width="10.20" height="8.20" fill="#e7e7e7"/>
<rect x="487.64" y="166.38" width="10.20" height="8.20" fill="#e7e7e7"/>
<rect x="498.77" y="166.38" width="10.20" height="8.20" fill="#e7e7e7"/>
<rect x="509.90" y="166.38" width="10.20" height="8.20" fill="#e7e7e7"/>
<rect x="521.03" y="166.38" width="10.20" height="8.20" fill="#e7e7e7"/>
<rect x="532.16" y="166.38" width="10.20" height="8.20" fill="#e7e7e7"/>
<rect x="543.29" y="166.38" width="10.20" height="8.20" fill="#e7e7e7"/>
<rect x="554.42" y="166.38" width="10.20" height="8.20" fill="#e7e7e7"/>
<text x="396.60" y="173.08" font-size="7.2" text-anchor="end" font-style="italic" stroke="#000" stroke-width="0.16">ATM</text>
<text x="581.90" y="173.18" font-size="7.0" text-anchor="end" stroke="#000" stroke-width="0.15">7%</text>
<rect x="596.00" y="164.53" width="4.28" height="5.80" fill="#277773"/>
<rect x="398.60" y="175.56" width="10.20" height="8.20" fill="#e7e7e7"/>
<rect x="409.73" y="175.56" width="10.20" height="8.20" fill="#e7e7e7"/>
<rect x="420.86" y="175.56" width="10.20" height="8.20" fill="#e7e7e7"/>
<rect x="431.99" y="175.56" width="10.20" height="8.20" fill="#e7e7e7"/>
<rect x="443.12" y="175.56" width="10.20" height="8.20" fill="#e7e7e7"/>
<rect x="454.25" y="175.56" width="10.20" height="8.20" fill="#e7e7e7"/>
<rect x="465.38" y="175.56" width="10.20" height="8.20" fill="#e7e7e7"/>
<rect x="476.51" y="175.56" width="10.20" height="8.20" fill="#e7e7e7"/>
<rect x="487.64" y="175.56" width="10.20" height="8.20" fill="#e7e7e7"/>
<rect x="498.77" y="175.56" width="10.20" height="8.20" fill="#d9220f"/>
<rect x="509.90" y="175.56" width="10.20" height="8.20" fill="#e7e7e7"/>
<rect x="521.03" y="175.56" width="10.20" height="8.20" fill="#e7e7e7"/>
<rect x="532.16" y="175.56" width="10.20" height="8.20" fill="#e7e7e7"/>
<rect x="543.29" y="175.56" width="10.20" height="8.20" fill="#e7e7e7"/>
<rect x="554.42" y="175.56" width="10.20" height="8.20" fill="#e7e7e7"/>
<text x="396.60" y="182.26" font-size="7.2" text-anchor="end" font-style="italic" stroke="#000" stroke-width="0.16">CYLD</text>
<text x="581.90" y="182.36" font-size="7.0" text-anchor="end" stroke="#000" stroke-width="0.15">7%</text>
<rect x="596.00" y="173.80" width="4.28" height="5.80" fill="#d9220f"/>
<rect x="398.60" y="184.74" width="10.20" height="8.20" fill="#e7e7e7"/>
<rect x="409.73" y="184.74" width="10.20" height="8.20" fill="#e7e7e7"/>
<rect x="420.86" y="184.74" width="10.20" height="8.20" fill="#e7e7e7"/>
<rect x="431.99" y="184.74" width="10.20" height="8.20" fill="#e7e7e7"/>
<rect x="443.12" y="184.74" width="10.20" height="8.20" fill="#e7e7e7"/>
<rect x="454.25" y="184.74" width="10.20" height="8.20" fill="#e7e7e7"/>
<rect x="465.38" y="184.74" width="10.20" height="8.20" fill="#e7e7e7"/>
<rect x="476.51" y="184.74" width="10.20" height="8.20" fill="#e7e7e7"/>
<rect x="487.64" y="184.74" width="10.20" height="8.20" fill="#e7e7e7"/>
<rect x="498.77" y="184.74" width="10.20" height="8.20" fill="#e7e7e7"/>
<rect x="509.90" y="184.74" width="10.20" height="8.20" fill="#e7e7e7"/>
<rect x="521.03" y="184.74" width="10.20" height="8.20" fill="#e7e7e7"/>
<rect x="532.16" y="184.74" width="10.20" height="8.20" fill="#d9220f"/>
<rect x="543.29" y="184.74" width="10.20" height="8.20" fill="#e7e7e7"/>
<rect x="554.42" y="184.74" width="10.20" height="8.20" fill="#e7e7e7"/>
<text x="396.60" y="191.44" font-size="7.2" text-anchor="end" font-style="italic" stroke="#000" stroke-width="0.16">EP300</text>
<text x="581.90" y="191.54" font-size="7.0" text-anchor="end" stroke="#000" stroke-width="0.15">7%</text>
<rect x="596.00" y="183.07" width="4.28" height="5.80" fill="#d9220f"/>
<rect x="398.60" y="193.91" width="10.20" height="8.20" fill="#e7e7e7"/>
<rect x="409.73" y="193.91" width="10.20" height="8.20" fill="#e7e7e7"/>
<rect x="420.86" y="193.91" width="10.20" height="8.20" fill="#e7e7e7"/>
<rect x="431.99" y="193.91" width="10.20" height="8.20" fill="#e7e7e7"/>
<rect x="443.12" y="193.91" width="10.20" height="8.20" fill="#e7e7e7"/>
<rect x="454.25" y="193.91" width="10.20" height="8.20" fill="#e7e7e7"/>
<rect x="465.38" y="193.91" width="10.20" height="8.20" fill="#e7e7e7"/>
<rect x="476.51" y="193.91" width="10.20" height="8.20" fill="#e7e7e7"/>
<rect x="487.64" y="193.91" width="10.20" height="8.20" fill="#e7e7e7"/>
<rect x="498.77" y="193.91" width="10.20" height="8.20" fill="#e7e7e7"/>
<rect x="509.90" y="193.91" width="10.20" height="8.20" fill="#e7e7e7"/>
<rect x="521.03" y="193.91" width="10.20" height="8.20" fill="#e7e7e7"/>
<rect x="532.16" y="193.91" width="10.20" height="8.20" fill="#e7e7e7"/>
<rect x="543.29" y="193.91" width="10.20" height="8.20" fill="#e7e7e7"/>
<rect x="554.42" y="193.91" width="10.20" height="8.20" fill="#d9220f"/>
<text x="396.60" y="200.61" font-size="7.2" text-anchor="end" font-style="italic" stroke="#000" stroke-width="0.16">FUBP1</text>
<text x="581.90" y="200.71" font-size="7.0" text-anchor="end" stroke="#000" stroke-width="0.15">7%</text>
<rect x="596.00" y="192.34" width="4.28" height="5.80" fill="#d9220f"/>
<rect x="398.60" y="203.09" width="10.20" height="8.20" fill="#e7e7e7"/>
<rect x="409.73" y="203.09" width="10.20" height="8.20" fill="#e7e7e7"/>
<rect x="420.86" y="203.09" width="10.20" height="8.20" fill="#e7e7e7"/>
<rect x="431.99" y="203.09" width="10.20" height="8.20" fill="#e7e7e7"/>
<rect x="443.12" y="203.09" width="10.20" height="8.20" fill="#e7e7e7"/>
<rect x="454.25" y="203.09" width="10.20" height="8.20" fill="#e7e7e7"/>
<rect x="465.38" y="203.09" width="10.20" height="8.20" fill="#e7e7e7"/>
<rect x="476.51" y="203.09" width="10.20" height="8.20" fill="#e7e7e7"/>
<rect x="487.64" y="203.09" width="10.20" height="8.20" fill="#e7e7e7"/>
<rect x="498.77" y="203.09" width="10.20" height="8.20" fill="#e7e7e7"/>
<rect x="509.90" y="203.09" width="10.20" height="8.20" fill="#e7e7e7"/>
<rect x="521.03" y="203.09" width="10.20" height="8.20" fill="#e7e7e7"/>
<rect x="532.16" y="203.09" width="10.20" height="8.20" fill="#e7e7e7"/>
<rect x="543.29" y="203.09" width="10.20" height="8.20" fill="#277773"/>
<rect x="554.42" y="203.09" width="10.20" height="8.20" fill="#e7e7e7"/>
<text x="396.60" y="209.79" font-size="7.2" text-anchor="end" font-style="italic" stroke="#000" stroke-width="0.16">HIST1H1E</text>
<text x="581.90" y="209.89" font-size="7.0" text-anchor="end" stroke="#000" stroke-width="0.15">7%</text>
<rect x="596.00" y="201.61" width="4.28" height="5.80" fill="#277773"/>
<rect x="398.60" y="212.26" width="10.20" height="8.20" fill="#e7e7e7"/>
<rect x="409.73" y="212.26" width="10.20" height="8.20" fill="#e7e7e7"/>
<rect x="420.86" y="212.26" width="10.20" height="8.20" fill="#277773"/>
<rect x="431.99" y="212.26" width="10.20" height="8.20" fill="#e7e7e7"/>
<rect x="443.12" y="212.26" width="10.20" height="8.20" fill="#e7e7e7"/>
<rect x="454.25" y="212.26" width="10.20" height="8.20" fill="#e7e7e7"/>
<rect x="465.38" y="212.26" width="10.20" height="8.20" fill="#e7e7e7"/>
<rect x="476.51" y="212.26" width="10.20" height="8.20" fill="#e7e7e7"/>
<rect x="487.64" y="212.26" width="10.20" height="8.20" fill="#e7e7e7"/>
<rect x="498.77" y="212.26" width="10.20" height="8.20" fill="#e7e7e7"/>
<rect x="509.90" y="212.26" width="10.20" height="8.20" fill="#e7e7e7"/>
<rect x="521.03" y="212.26" width="10.20" height="8.20" fill="#e7e7e7"/>
<rect x="532.16" y="212.26" width="10.20" height="8.20" fill="#e7e7e7"/>
<rect x="543.29" y="212.26" width="10.20" height="8.20" fill="#e7e7e7"/>
<rect x="554.42" y="212.26" width="10.20" height="8.20" fill="#e7e7e7"/>
<text x="396.60" y="218.96" font-size="7.2" text-anchor="end" font-style="italic" stroke="#000" stroke-width="0.16">IDH1</text>
<text x="581.90" y="219.06" font-size="7.0" text-anchor="end" stroke="#000" stroke-width="0.15">7%</text>
<rect x="596.00" y="210.88" width="4.28" height="5.80" fill="#277773"/>
<rect x="398.60" y="221.44" width="10.20" height="8.20" fill="#e7e7e7"/>
<rect x="409.73" y="221.44" width="10.20" height="8.20" fill="#e7e7e7"/>
<rect x="420.86" y="221.44" width="10.20" height="8.20" fill="#e7e7e7"/>
<rect x="431.99" y="221.44" width="10.20" height="8.20" fill="#e7e7e7"/>
<rect x="443.12" y="221.44" width="10.20" height="8.20" fill="#e7e7e7"/>
<rect x="454.25" y="221.44" width="10.20" height="8.20" fill="#e7e7e7"/>
<rect x="465.38" y="221.44" width="10.20" height="8.20" fill="#e7e7e7"/>
<rect x="476.51" y="221.44" width="10.20" height="8.20" fill="#e7e7e7"/>
<rect x="487.64" y="221.44" width="10.20" height="8.20" fill="#e7e7e7"/>
<rect x="498.77" y="221.44" width="10.20" height="8.20" fill="#e7e7e7"/>
<rect x="509.90" y="221.44" width="10.20" height="8.20" fill="#e7e7e7"/>
<rect x="521.03" y="221.44" width="10.20" height="8.20" fill="#e7e7e7"/>
<rect x="532.16" y="221.44" width="10.20" height="8.20" fill="#e7e7e7"/>
<rect x="543.29" y="221.44" width="10.20" height="8.20" fill="#277773"/>
<rect x="554.42" y="221.44" width="10.20" height="8.20" fill="#e7e7e7"/>
<text x="396.60" y="228.14" font-size="7.2" text-anchor="end" font-style="italic" stroke="#000" stroke-width="0.16">IGLL5</text>
<text x="581.90" y="228.24" font-size="7.0" text-anchor="end" stroke="#000" stroke-width="0.15">7%</text>
<rect x="596.00" y="220.15" width="4.28" height="5.80" fill="#277773"/>
<rect x="398.60" y="230.62" width="10.20" height="8.20" fill="#e7e7e7"/>
<rect x="409.73" y="230.62" width="10.20" height="8.20" fill="#e7e7e7"/>
<rect x="420.86" y="230.62" width="10.20" height="8.20" fill="#e7e7e7"/>
<rect x="431.99" y="230.62" width="10.20" height="8.20" fill="#e7e7e7"/>
<rect x="443.12" y="230.62" width="10.20" height="8.20" fill="#e7e7e7"/>
<rect x="454.25" y="230.62" width="10.20" height="8.20" fill="#e7e7e7"/>
<rect x="465.38" y="230.62" width="10.20" height="8.20" fill="#277773"/>
<rect x="476.51" y="230.62" width="10.20" height="8.20" fill="#e7e7e7"/>
<rect x="487.64" y="230.62" width="10.20" height="8.20" fill="#e7e7e7"/>
<rect x="498.77" y="230.62" width="10.20" height="8.20" fill="#e7e7e7"/>
<rect x="509.90" y="230.62" width="10.20" height="8.20" fill="#e7e7e7"/>
<rect x="521.03" y="230.62" width="10.20" height="8.20" fill="#e7e7e7"/>
<rect x="532.16" y="230.62" width="10.20" height="8.20" fill="#e7e7e7"/>
<rect x="543.29" y="230.62" width="10.20" height="8.20" fill="#e7e7e7"/>
<rect x="554.42" y="230.62" width="10.20" height="8.20" fill="#e7e7e7"/>
<text x="396.60" y="237.32" font-size="7.2" text-anchor="end" font-style="italic" stroke="#000" stroke-width="0.16">IL6ST</text>
<text x="581.90" y="237.42" font-size="7.0" text-anchor="end" stroke="#000" stroke-width="0.15">7%</text>
<rect x="596.00" y="229.42" width="4.28" height="5.80" fill="#277773"/>
<rect x="398.60" y="239.79" width="10.20" height="8.20" fill="#e7e7e7"/>
<rect x="409.73" y="239.79" width="10.20" height="8.20" fill="#e7e7e7"/>
<rect x="420.86" y="239.79" width="10.20" height="8.20" fill="#e7e7e7"/>
<rect x="431.99" y="239.79" width="10.20" height="8.20" fill="#e7e7e7"/>
<rect x="443.12" y="239.79" width="10.20" height="8.20" fill="#e7e7e7"/>
<rect x="454.25" y="239.79" width="10.20" height="8.20" fill="#e7e7e7"/>
<rect x="465.38" y="239.79" width="10.20" height="8.20" fill="#e7e7e7"/>
<rect x="476.51" y="239.79" width="10.20" height="8.20" fill="#e7e7e7"/>
<rect x="487.64" y="239.79" width="10.20" height="8.20" fill="#e7e7e7"/>
<rect x="498.77" y="239.79" width="10.20" height="8.20" fill="#e7e7e7"/>
<rect x="509.90" y="239.79" width="10.20" height="8.20" fill="#e7e7e7"/>
<rect x="521.03" y="239.79" width="10.20" height="8.20" fill="#e7e7e7"/>
<rect x="532.16" y="239.79" width="10.20" height="8.20" fill="#277773"/>
<rect x="543.29" y="239.79" width="10.20" height="8.20" fill="#e7e7e7"/>
<rect x="554.42" y="239.79" width="10.20" height="8.20" fill="#e7e7e7"/>
<text x="396.60" y="246.49" font-size="7.2" text-anchor="end" font-style="italic" stroke="#000" stroke-width="0.16">KDM3B</text>
<text x="581.90" y="246.59" font-size="7.0" text-anchor="end" stroke="#000" stroke-width="0.15">7%</text>
<rect x="596.00" y="238.69" width="4.28" height="5.80" fill="#277773"/>
<rect x="398.60" y="248.97" width="10.20" height="8.20" fill="#e7e7e7"/>
<rect x="409.73" y="248.97" width="10.20" height="8.20" fill="#e7e7e7"/>
<rect x="420.86" y="248.97" width="10.20" height="8.20" fill="#e7e7e7"/>
<rect x="431.99" y="248.97" width="10.20" height="8.20" fill="#277773"/>
<rect x="443.12" y="248.97" width="10.20" height="8.20" fill="#e7e7e7"/>
<rect x="454.25" y="248.97" width="10.20" height="8.20" fill="#e7e7e7"/>
<rect x="465.38" y="248.97" width="10.20" height="8.20" fill="#e7e7e7"/>
<rect x="476.51" y="248.97" width="10.20" height="8.20" fill="#e7e7e7"/>
<rect x="487.64" y="248.97" width="10.20" height="8.20" fill="#e7e7e7"/>
<rect x="498.77" y="248.97" width="10.20" height="8.20" fill="#e7e7e7"/>
<rect x="509.90" y="248.97" width="10.20" height="8.20" fill="#e7e7e7"/>
<rect x="521.03" y="248.97" width="10.20" height="8.20" fill="#e7e7e7"/>
<rect x="532.16" y="248.97" width="10.20" height="8.20" fill="#e7e7e7"/>
<rect x="543.29" y="248.97" width="10.20" height="8.20" fill="#e7e7e7"/>
<rect x="554.42" y="248.97" width="10.20" height="8.20" fill="#e7e7e7"/>
<text x="396.60" y="255.67" font-size="7.2" text-anchor="end" font-style="italic" stroke="#000" stroke-width="0.16">KDM6A</text>
<text x="581.90" y="255.77" font-size="7.0" text-anchor="end" stroke="#000" stroke-width="0.15">7%</text>
<rect x="596.00" y="247.96" width="4.28" height="5.80" fill="#277773"/>
<rect x="398.60" y="258.14" width="10.20" height="8.20" fill="#e7e7e7"/>
<rect x="409.73" y="258.14" width="10.20" height="8.20" fill="#e7e7e7"/>
<rect x="420.86" y="258.14" width="10.20" height="8.20" fill="#e7e7e7"/>
<rect x="431.99" y="258.14" width="10.20" height="8.20" fill="#e7e7e7"/>
<rect x="443.12" y="258.14" width="10.20" height="8.20" fill="#e7e7e7"/>
<rect x="454.25" y="258.14" width="10.20" height="8.20" fill="#e7e7e7"/>
<rect x="465.38" y="258.14" width="10.20" height="8.20" fill="#e7e7e7"/>
<rect x="476.51" y="258.14" width="10.20" height="8.20" fill="#e7e7e7"/>
<rect x="487.64" y="258.14" width="10.20" height="8.20" fill="#e7e7e7"/>
<rect x="498.77" y="258.14" width="10.20" height="8.20" fill="#e7e7e7"/>
<rect x="509.90" y="258.14" width="10.20" height="8.20" fill="#e7e7e7"/>
<rect x="521.03" y="258.14" width="10.20" height="8.20" fill="#e7e7e7"/>
<rect x="532.16" y="258.14" width="10.20" height="8.20" fill="#e7e7e7"/>
<rect x="543.29" y="258.14" width="10.20" height="8.20" fill="#277773"/>
<rect x="554.42" y="258.14" width="10.20" height="8.20" fill="#e7e7e7"/>
<text x="396.60" y="264.84" font-size="7.2" text-anchor="end" font-style="italic" stroke="#000" stroke-width="0.16">MAF</text>
<text x="581.90" y="264.94" font-size="7.0" text-anchor="end" stroke="#000" stroke-width="0.15">7%</text>
<rect x="596.00" y="257.23" width="4.28" height="5.80" fill="#277773"/>
<rect x="398.60" y="267.32" width="10.20" height="8.20" fill="#e7e7e7"/>
<rect x="409.73" y="267.32" width="10.20" height="8.20" fill="#277773"/>
<rect x="420.86" y="267.32" width="10.20" height="8.20" fill="#e7e7e7"/>
<rect x="431.99" y="267.32" width="10.20" height="8.20" fill="#e7e7e7"/>
<rect x="443.12" y="267.32" width="10.20" height="8.20" fill="#e7e7e7"/>
<rect x="454.25" y="267.32" width="10.20" height="8.20" fill="#e7e7e7"/>
<rect x="465.38" y="267.32" width="10.20" height="8.20" fill="#e7e7e7"/>
<rect x="476.51" y="267.32" width="10.20" height="8.20" fill="#e7e7e7"/>
<rect x="487.64" y="267.32" width="10.20" height="8.20" fill="#e7e7e7"/>
<rect x="498.77" y="267.32" width="10.20" height="8.20" fill="#e7e7e7"/>
<rect x="509.90" y="267.32" width="10.20" height="8.20" fill="#e7e7e7"/>
<rect x="521.03" y="267.32" width="10.20" height="8.20" fill="#e7e7e7"/>
<rect x="532.16" y="267.32" width="10.20" height="8.20" fill="#e7e7e7"/>
<rect x="543.29" y="267.32" width="10.20" height="8.20" fill="#e7e7e7"/>
<rect x="554.42" y="267.32" width="10.20" height="8.20" fill="#e7e7e7"/>
<text x="396.60" y="274.02" font-size="7.2" text-anchor="end" font-style="italic" stroke="#000" stroke-width="0.16">MAFB</text>
<text x="581.90" y="274.12" font-size="7.0" text-anchor="end" stroke="#000" stroke-width="0.15">7%</text>
<rect x="596.00" y="266.50" width="4.28" height="5.80" fill="#277773"/>
<rect x="398.60" y="276.50" width="10.20" height="8.20" fill="#e7e7e7"/>
<rect x="409.73" y="276.50" width="10.20" height="8.20" fill="#e7e7e7"/>
<rect x="420.86" y="276.50" width="10.20" height="8.20" fill="#e7e7e7"/>
<rect x="431.99" y="276.50" width="10.20" height="8.20" fill="#e7e7e7"/>
<rect x="443.12" y="276.50" width="10.20" height="8.20" fill="#e7e7e7"/>
<rect x="454.25" y="276.50" width="10.20" height="8.20" fill="#e7e7e7"/>
<rect x="465.38" y="276.50" width="10.20" height="8.20" fill="#e7e7e7"/>
<rect x="476.51" y="276.50" width="10.20" height="8.20" fill="#e7e7e7"/>
<rect x="487.64" y="276.50" width="10.20" height="8.20" fill="#e7e7e7"/>
<rect x="498.77" y="276.50" width="10.20" height="8.20" fill="#e7e7e7"/>
<rect x="509.90" y="276.50" width="10.20" height="8.20" fill="#e7e7e7"/>
<rect x="521.03" y="276.50" width="10.20" height="8.20" fill="#e7e7e7"/>
<rect x="532.16" y="276.50" width="10.20" height="8.20" fill="#277773"/>
<rect x="543.29" y="276.50" width="10.20" height="8.20" fill="#e7e7e7"/>
<rect x="554.42" y="276.50" width="10.20" height="8.20" fill="#e7e7e7"/>
<text x="396.60" y="283.20" font-size="7.2" text-anchor="end" font-style="italic" stroke="#000" stroke-width="0.16">MAML2</text>
<text x="581.90" y="283.30" font-size="7.0" text-anchor="end" stroke="#000" stroke-width="0.15">7%</text>
<rect x="596.00" y="275.77" width="4.28" height="5.80" fill="#277773"/>
<rect x="398.60" y="285.67" width="10.20" height="8.20" fill="#e7e7e7"/>
<rect x="409.73" y="285.67" width="10.20" height="8.20" fill="#e7e7e7"/>
<rect x="420.86" y="285.67" width="10.20" height="8.20" fill="#e7e7e7"/>
<rect x="431.99" y="285.67" width="10.20" height="8.20" fill="#277773"/>
<rect x="443.12" y="285.67" width="10.20" height="8.20" fill="#e7e7e7"/>
<rect x="454.25" y="285.67" width="10.20" height="8.20" fill="#e7e7e7"/>
<rect x="465.38" y="285.67" width="10.20" height="8.20" fill="#e7e7e7"/>
<rect x="476.51" y="285.67" width="10.20" height="8.20" fill="#e7e7e7"/>
<rect x="487.64" y="285.67" width="10.20" height="8.20" fill="#e7e7e7"/>
<rect x="498.77" y="285.67" width="10.20" height="8.20" fill="#e7e7e7"/>
<rect x="509.90" y="285.67" width="10.20" height="8.20" fill="#e7e7e7"/>
<rect x="521.03" y="285.67" width="10.20" height="8.20" fill="#e7e7e7"/>
<rect x="532.16" y="285.67" width="10.20" height="8.20" fill="#e7e7e7"/>
<rect x="543.29" y="285.67" width="10.20" height="8.20" fill="#e7e7e7"/>
<rect x="554.42" y="285.67" width="10.20" height="8.20" fill="#e7e7e7"/>
<text x="396.60" y="292.37" font-size="7.2" text-anchor="end" font-style="italic" stroke="#000" stroke-width="0.16">MAML3</text>
<text x="581.90" y="292.47" font-size="7.0" text-anchor="end" stroke="#000" stroke-width="0.15">7%</text>
<rect x="596.00" y="285.04" width="4.28" height="5.80" fill="#277773"/>
<rect x="398.60" y="294.85" width="10.20" height="8.20" fill="#e7e7e7"/>
<rect x="409.73" y="294.85" width="10.20" height="8.20" fill="#e7e7e7"/>
<rect x="420.86" y="294.85" width="10.20" height="8.20" fill="#e7e7e7"/>
<rect x="431.99" y="294.85" width="10.20" height="8.20" fill="#e7e7e7"/>
<rect x="443.12" y="294.85" width="10.20" height="8.20" fill="#e7e7e7"/>
<rect x="454.25" y="294.85" width="10.20" height="8.20" fill="#277773"/>
<rect x="465.38" y="294.85" width="10.20" height="8.20" fill="#e7e7e7"/>
<rect x="476.51" y="294.85" width="10.20" height="8.20" fill="#e7e7e7"/>
<rect x="487.64" y="294.85" width="10.20" height="8.20" fill="#e7e7e7"/>
<rect x="498.77" y="294.85" width="10.20" height="8.20" fill="#e7e7e7"/>
<rect x="509.90" y="294.85" width="10.20" height="8.20" fill="#e7e7e7"/>
<rect x="521.03" y="294.85" width="10.20" height="8.20" fill="#e7e7e7"/>
<rect x="532.16" y="294.85" width="10.20" height="8.20" fill="#e7e7e7"/>
<rect x="543.29" y="294.85" width="10.20" height="8.20" fill="#e7e7e7"/>
<rect x="554.42" y="294.85" width="10.20" height="8.20" fill="#e7e7e7"/>
<text x="396.60" y="301.55" font-size="7.2" text-anchor="end" font-style="italic" stroke="#000" stroke-width="0.16">MBD1</text>
<text x="581.90" y="301.65" font-size="7.0" text-anchor="end" stroke="#000" stroke-width="0.15">7%</text>
<rect x="596.00" y="294.31" width="4.28" height="5.80" fill="#277773"/>
<rect x="398.60" y="304.02" width="10.20" height="8.20" fill="#e7e7e7"/>
<rect x="409.73" y="304.02" width="10.20" height="8.20" fill="#e7e7e7"/>
<rect x="420.86" y="304.02" width="10.20" height="8.20" fill="#e7e7e7"/>
<rect x="431.99" y="304.02" width="10.20" height="8.20" fill="#e7e7e7"/>
<rect x="443.12" y="304.02" width="10.20" height="8.20" fill="#e7e7e7"/>
<rect x="454.25" y="304.02" width="10.20" height="8.20" fill="#e7e7e7"/>
<rect x="465.38" y="304.02" width="10.20" height="8.20" fill="#e7e7e7"/>
<rect x="476.51" y="304.02" width="10.20" height="8.20" fill="#e7e7e7"/>
<rect x="487.64" y="304.02" width="10.20" height="8.20" fill="#e7e7e7"/>
<rect x="498.77" y="304.02" width="10.20" height="8.20" fill="#e7e7e7"/>
<rect x="509.90" y="304.02" width="10.20" height="8.20" fill="#e7e7e7"/>
<rect x="521.03" y="304.02" width="10.20" height="8.20" fill="#e7e7e7"/>
<rect x="532.16" y="304.02" width="10.20" height="8.20" fill="#d9220f"/>
<rect x="543.29" y="304.02" width="10.20" height="8.20" fill="#e7e7e7"/>
<rect x="554.42" y="304.02" width="10.20" height="8.20" fill="#e7e7e7"/>
<text x="396.60" y="310.72" font-size="7.2" text-anchor="end" font-style="italic" stroke="#000" stroke-width="0.16">NFKBIA</text>
<text x="581.90" y="310.82" font-size="7.0" text-anchor="end" stroke="#000" stroke-width="0.15">7%</text>
<rect x="596.00" y="303.58" width="4.28" height="5.80" fill="#d9220f"/>
<rect x="398.60" y="313.20" width="10.20" height="8.20" fill="#e7e7e7"/>
<rect x="409.73" y="313.20" width="10.20" height="8.20" fill="#e7e7e7"/>
<rect x="420.86" y="313.20" width="10.20" height="8.20" fill="#e7e7e7"/>
<rect x="431.99" y="313.20" width="10.20" height="8.20" fill="#e7e7e7"/>
<rect x="443.12" y="313.20" width="10.20" height="8.20" fill="#e7e7e7"/>
<rect x="454.25" y="313.20" width="10.20" height="8.20" fill="#e7e7e7"/>
<rect x="465.38" y="313.20" width="10.20" height="8.20" fill="#e7e7e7"/>
<rect x="476.51" y="313.20" width="10.20" height="8.20" fill="#e7e7e7"/>
<rect x="487.64" y="313.20" width="10.20" height="8.20" fill="#e7e7e7"/>
<rect x="498.77" y="313.20" width="10.20" height="8.20" fill="#277773"/>
<rect x="509.90" y="313.20" width="10.20" height="8.20" fill="#e7e7e7"/>
<rect x="521.03" y="313.20" width="10.20" height="8.20" fill="#e7e7e7"/>
<rect x="532.16" y="313.20" width="10.20" height="8.20" fill="#e7e7e7"/>
<rect x="543.29" y="313.20" width="10.20" height="8.20" fill="#e7e7e7"/>
<rect x="554.42" y="313.20" width="10.20" height="8.20" fill="#e7e7e7"/>
<text x="396.60" y="319.90" font-size="7.2" text-anchor="end" font-style="italic" stroke="#000" stroke-width="0.16">NR3C1</text>
<text x="581.90" y="320.00" font-size="7.0" text-anchor="end" stroke="#000" stroke-width="0.15">7%</text>
<rect x="596.00" y="312.85" width="4.28" height="5.80" fill="#277773"/>
<rect x="398.60" y="322.38" width="10.20" height="8.20" fill="#e7e7e7"/>
<rect x="409.73" y="322.38" width="10.20" height="8.20" fill="#e7e7e7"/>
<rect x="420.86" y="322.38" width="10.20" height="8.20" fill="#e7e7e7"/>
<rect x="431.99" y="322.38" width="10.20" height="8.20" fill="#e7e7e7"/>
<rect x="443.12" y="322.38" width="10.20" height="8.20" fill="#e7e7e7"/>
<rect x="454.25" y="322.38" width="10.20" height="8.20" fill="#e7e7e7"/>
<rect x="465.38" y="322.38" width="10.20" height="8.20" fill="#e7e7e7"/>
<rect x="476.51" y="322.38" width="10.20" height="8.20" fill="#e7e7e7"/>
<rect x="487.64" y="322.38" width="10.20" height="8.20" fill="#e7e7e7"/>
<rect x="498.77" y="322.38" width="10.20" height="8.20" fill="#e7e7e7"/>
<rect x="509.90" y="322.38" width="10.20" height="8.20" fill="#e7e7e7"/>
<rect x="521.03" y="322.38" width="10.20" height="8.20" fill="#e7e7e7"/>
<rect x="532.16" y="322.38" width="10.20" height="8.20" fill="#e7e7e7"/>
<rect x="543.29" y="322.38" width="10.20" height="8.20" fill="#277773"/>
<rect x="554.42" y="322.38" width="10.20" height="8.20" fill="#e7e7e7"/>
<text x="396.60" y="329.08" font-size="7.2" text-anchor="end" font-style="italic" stroke="#000" stroke-width="0.16">PIK3CA</text>
<text x="581.90" y="329.18" font-size="7.0" text-anchor="end" stroke="#000" stroke-width="0.15">7%</text>
<rect x="596.00" y="322.12" width="4.28" height="5.80" fill="#277773"/>
<rect x="398.60" y="331.55" width="10.20" height="8.20" fill="#e7e7e7"/>
<rect x="409.73" y="331.55" width="10.20" height="8.20" fill="#e7e7e7"/>
<rect x="420.86" y="331.55" width="10.20" height="8.20" fill="#e7e7e7"/>
<rect x="431.99" y="331.55" width="10.20" height="8.20" fill="#e7e7e7"/>
<rect x="443.12" y="331.55" width="10.20" height="8.20" fill="#e7e7e7"/>
<rect x="454.25" y="331.55" width="10.20" height="8.20" fill="#e7e7e7"/>
<rect x="465.38" y="331.55" width="10.20" height="8.20" fill="#277773"/>
<rect x="476.51" y="331.55" width="10.20" height="8.20" fill="#e7e7e7"/>
<rect x="487.64" y="331.55" width="10.20" height="8.20" fill="#e7e7e7"/>
<rect x="498.77" y="331.55" width="10.20" height="8.20" fill="#e7e7e7"/>
<rect x="509.90" y="331.55" width="10.20" height="8.20" fill="#e7e7e7"/>
<rect x="521.03" y="331.55" width="10.20" height="8.20" fill="#e7e7e7"/>
<rect x="532.16" y="331.55" width="10.20" height="8.20" fill="#e7e7e7"/>
<rect x="543.29" y="331.55" width="10.20" height="8.20" fill="#e7e7e7"/>
<rect x="554.42" y="331.55" width="10.20" height="8.20" fill="#e7e7e7"/>
<text x="396.60" y="338.25" font-size="7.2" text-anchor="end" font-style="italic" stroke="#000" stroke-width="0.16">PRDM1</text>
<text x="581.90" y="338.35" font-size="7.0" text-anchor="end" stroke="#000" stroke-width="0.15">7%</text>
<rect x="596.00" y="331.39" width="4.28" height="5.80" fill="#277773"/>
<rect x="398.60" y="340.73" width="10.20" height="8.20" fill="#e7e7e7"/>
<rect x="409.73" y="340.73" width="10.20" height="8.20" fill="#e7e7e7"/>
<rect x="420.86" y="340.73" width="10.20" height="8.20" fill="#e7e7e7"/>
<rect x="431.99" y="340.73" width="10.20" height="8.20" fill="#e7e7e7"/>
<rect x="443.12" y="340.73" width="10.20" height="8.20" fill="#e7e7e7"/>
<rect x="454.25" y="340.73" width="10.20" height="8.20" fill="#e7e7e7"/>
<rect x="465.38" y="340.73" width="10.20" height="8.20" fill="#e7e7e7"/>
<rect x="476.51" y="340.73" width="10.20" height="8.20" fill="#e7e7e7"/>
<rect x="487.64" y="340.73" width="10.20" height="8.20" fill="#e7e7e7"/>
<rect x="498.77" y="340.73" width="10.20" height="8.20" fill="#e7e7e7"/>
<rect x="509.90" y="340.73" width="10.20" height="8.20" fill="#e7e7e7"/>
<rect x="521.03" y="340.73" width="10.20" height="8.20" fill="#277773"/>
<rect x="532.16" y="340.73" width="10.20" height="8.20" fill="#e7e7e7"/>
<rect x="543.29" y="340.73" width="10.20" height="8.20" fill="#e7e7e7"/>
<rect x="554.42" y="340.73" width="10.20" height="8.20" fill="#e7e7e7"/>
<text x="396.60" y="347.43" font-size="7.2" text-anchor="end" font-style="italic" stroke="#000" stroke-width="0.16">RPL10</text>
<text x="581.90" y="347.53" font-size="7.0" text-anchor="end" stroke="#000" stroke-width="0.15">7%</text>
<rect x="596.00" y="340.66" width="4.28" height="5.80" fill="#277773"/>
<rect x="398.60" y="349.90" width="10.20" height="8.20" fill="#e7e7e7"/>
<rect x="409.73" y="349.90" width="10.20" height="8.20" fill="#e7e7e7"/>
<rect x="420.86" y="349.90" width="10.20" height="8.20" fill="#e7e7e7"/>
<rect x="431.99" y="349.90" width="10.20" height="8.20" fill="#e7e7e7"/>
<rect x="443.12" y="349.90" width="10.20" height="8.20" fill="#e7e7e7"/>
<rect x="454.25" y="349.90" width="10.20" height="8.20" fill="#e7e7e7"/>
<rect x="465.38" y="349.90" width="10.20" height="8.20" fill="#e7e7e7"/>
<rect x="476.51" y="349.90" width="10.20" height="8.20" fill="#e7e7e7"/>
<rect x="487.64" y="349.90" width="10.20" height="8.20" fill="#e7e7e7"/>
<rect x="498.77" y="349.90" width="10.20" height="8.20" fill="#e7e7e7"/>
<rect x="509.90" y="349.90" width="10.20" height="8.20" fill="#e7e7e7"/>
<rect x="521.03" y="349.90" width="10.20" height="8.20" fill="#e7e7e7"/>
<rect x="532.16" y="349.90" width="10.20" height="8.20" fill="#e7e7e7"/>
<rect x="543.29" y="349.90" width="10.20" height="8.20" fill="#277773"/>
<rect x="554.42" y="349.90" width="10.20" height="8.20" fill="#e7e7e7"/>
<text x="396.60" y="356.60" font-size="7.2" text-anchor="end" font-style="italic" stroke="#000" stroke-width="0.16">SAMHD1</text>
<text x="581.90" y="356.70" font-size="7.0" text-anchor="end" stroke="#000" stroke-width="0.15">7%</text>
<rect x="596.00" y="349.93" width="4.28" height="5.80" fill="#277773"/>
<rect x="398.60" y="359.08" width="10.20" height="8.20" fill="#e7e7e7"/>
<rect x="409.73" y="359.08" width="10.20" height="8.20" fill="#e7e7e7"/>
<rect x="420.86" y="359.08" width="10.20" height="8.20" fill="#e7e7e7"/>
<rect x="431.99" y="359.08" width="10.20" height="8.20" fill="#e7e7e7"/>
<rect x="443.12" y="359.08" width="10.20" height="8.20" fill="#e7e7e7"/>
<rect x="454.25" y="359.08" width="10.20" height="8.20" fill="#e7e7e7"/>
<rect x="465.38" y="359.08" width="10.20" height="8.20" fill="#e7e7e7"/>
<rect x="476.51" y="359.08" width="10.20" height="8.20" fill="#e7e7e7"/>
<rect x="487.64" y="359.08" width="10.20" height="8.20" fill="#e7e7e7"/>
<rect x="498.77" y="359.08" width="10.20" height="8.20" fill="#e7e7e7"/>
<rect x="509.90" y="359.08" width="10.20" height="8.20" fill="#e7e7e7"/>
<rect x="521.03" y="359.08" width="10.20" height="8.20" fill="#e7e7e7"/>
<rect x="532.16" y="359.08" width="10.20" height="8.20" fill="#e7e7e7"/>
<rect x="543.29" y="359.08" width="10.20" height="8.20" fill="#277773"/>
<rect x="554.42" y="359.08" width="10.20" height="8.20" fill="#e7e7e7"/>
<text x="396.60" y="365.78" font-size="7.2" text-anchor="end" font-style="italic" stroke="#000" stroke-width="0.16">SP140</text>
<text x="581.90" y="365.88" font-size="7.0" text-anchor="end" stroke="#000" stroke-width="0.15">7%</text>
<rect x="596.00" y="359.20" width="4.28" height="5.80" fill="#277773"/>
<rect x="398.60" y="368.26" width="10.20" height="8.20" fill="#e7e7e7"/>
<rect x="409.73" y="368.26" width="10.20" height="8.20" fill="#e7e7e7"/>
<rect x="420.86" y="368.26" width="10.20" height="8.20" fill="#e7e7e7"/>
<rect x="431.99" y="368.26" width="10.20" height="8.20" fill="#e7e7e7"/>
<rect x="443.12" y="368.26" width="10.20" height="8.20" fill="#e7e7e7"/>
<rect x="454.25" y="368.26" width="10.20" height="8.20" fill="#277773"/>
<rect x="465.38" y="368.26" width="10.20" height="8.20" fill="#e7e7e7"/>
<rect x="476.51" y="368.26" width="10.20" height="8.20" fill="#e7e7e7"/>
<rect x="487.64" y="368.26" width="10.20" height="8.20" fill="#e7e7e7"/>
<rect x="498.77" y="368.26" width="10.20" height="8.20" fill="#e7e7e7"/>
<rect x="509.90" y="368.26" width="10.20" height="8.20" fill="#e7e7e7"/>
<rect x="521.03" y="368.26" width="10.20" height="8.20" fill="#e7e7e7"/>
<rect x="532.16" y="368.26" width="10.20" height="8.20" fill="#e7e7e7"/>
<rect x="543.29" y="368.26" width="10.20" height="8.20" fill="#e7e7e7"/>
<rect x="554.42" y="368.26" width="10.20" height="8.20" fill="#e7e7e7"/>
<text x="396.60" y="374.96" font-size="7.2" text-anchor="end" font-style="italic" stroke="#000" stroke-width="0.16">TCL1A</text>
<text x="581.90" y="375.06" font-size="7.0" text-anchor="end" stroke="#000" stroke-width="0.15">7%</text>
<rect x="596.00" y="368.47" width="4.28" height="5.80" fill="#277773"/>
<rect x="398.60" y="377.43" width="10.20" height="8.20" fill="#e7e7e7"/>
<rect x="409.73" y="377.43" width="10.20" height="8.20" fill="#d9220f"/>
<rect x="420.86" y="377.43" width="10.20" height="8.20" fill="#e7e7e7"/>
<rect x="431.99" y="377.43" width="10.20" height="8.20" fill="#e7e7e7"/>
<rect x="443.12" y="377.43" width="10.20" height="8.20" fill="#e7e7e7"/>
<rect x="454.25" y="377.43" width="10.20" height="8.20" fill="#e7e7e7"/>
<rect x="465.38" y="377.43" width="10.20" height="8.20" fill="#e7e7e7"/>
<rect x="476.51" y="377.43" width="10.20" height="8.20" fill="#e7e7e7"/>
<rect x="487.64" y="377.43" width="10.20" height="8.20" fill="#e7e7e7"/>
<rect x="498.77" y="377.43" width="10.20" height="8.20" fill="#e7e7e7"/>
<rect x="509.90" y="377.43" width="10.20" height="8.20" fill="#e7e7e7"/>
<rect x="521.03" y="377.43" width="10.20" height="8.20" fill="#e7e7e7"/>
<rect x="532.16" y="377.43" width="10.20" height="8.20" fill="#e7e7e7"/>
<rect x="543.29" y="377.43" width="10.20" height="8.20" fill="#e7e7e7"/>
<rect x="554.42" y="377.43" width="10.20" height="8.20" fill="#e7e7e7"/>
<text x="396.60" y="384.13" font-size="7.2" text-anchor="end" font-style="italic" stroke="#000" stroke-width="0.16">TRAF2</text>
<text x="581.90" y="384.23" font-size="7.0" text-anchor="end" stroke="#000" stroke-width="0.15">7%</text>
<rect x="596.00" y="377.74" width="4.28" height="5.80" fill="#d9220f"/>
<rect x="398.60" y="386.61" width="10.20" height="8.20" fill="#e7e7e7"/>
<rect x="409.73" y="386.61" width="10.20" height="8.20" fill="#e7e7e7"/>
<rect x="420.86" y="386.61" width="10.20" height="8.20" fill="#e7e7e7"/>
<rect x="431.99" y="386.61" width="10.20" height="8.20" fill="#e7e7e7"/>
<rect x="443.12" y="386.61" width="10.20" height="8.20" fill="#e7e7e7"/>
<rect x="454.25" y="386.61" width="10.20" height="8.20" fill="#11264a"/>
<rect x="465.38" y="386.61" width="10.20" height="8.20" fill="#e7e7e7"/>
<rect x="476.51" y="386.61" width="10.20" height="8.20" fill="#e7e7e7"/>
<rect x="487.64" y="386.61" width="10.20" height="8.20" fill="#e7e7e7"/>
<rect x="498.77" y="386.61" width="10.20" height="8.20" fill="#e7e7e7"/>
<rect x="509.90" y="386.61" width="10.20" height="8.20" fill="#e7e7e7"/>
<rect x="521.03" y="386.61" width="10.20" height="8.20" fill="#e7e7e7"/>
<rect x="532.16" y="386.61" width="10.20" height="8.20" fill="#e7e7e7"/>
<rect x="543.29" y="386.61" width="10.20" height="8.20" fill="#e7e7e7"/>
<rect x="554.42" y="386.61" width="10.20" height="8.20" fill="#e7e7e7"/>
<text x="396.60" y="393.31" font-size="7.2" text-anchor="end" font-style="italic" stroke="#000" stroke-width="0.16">UBR5</text>
<text x="581.90" y="393.41" font-size="7.0" text-anchor="end" stroke="#000" stroke-width="0.15">7%</text>
<rect x="596.00" y="387.01" width="4.28" height="5.80" fill="#11264a"/>
<text x="397.40" y="427.60" font-size="7.2" stroke="#000" stroke-width="0.16">Alterations</text>
<rect x="397.40" y="430.60" width="10.60" height="9.00" fill="#277773"/>
<text x="410.30" y="437.70" font-size="7.2" stroke="#000" stroke-width="0.16">Missense</text>
<rect x="397.40" y="440.30" width="10.60" height="9.00" fill="#11264a"/>
<text x="410.30" y="447.40" font-size="7.2" stroke="#000" stroke-width="0.16">Indel</text>
<rect x="397.40" y="450.00" width="10.60" height="9.00" fill="#d9220f"/>
<text x="410.30" y="457.10" font-size="7.2" stroke="#000" stroke-width="0.16">Nonsense</text>
<rect x="461.00" y="430.60" width="10.80" height="9.00" fill="#dcb98f"/>
<rect x="461.00" y="440.30" width="10.80" height="9.00" fill="#e8760f"/>
<rect x="461.00" y="450.00" width="10.80" height="9.00" fill="#e7e7e7"/>
<text x="474.70" y="448.00" font-size="7.2" stroke="#000" stroke-width="0.16">Hyperhaploid</text>
<text x="534.30" y="427.60" font-size="7.2" stroke="#000" stroke-width="0.16">CNV</text>
<rect x="534.30" y="430.70" width="10.60" height="9.00" fill="#e7e7e7"/>
<path d="M537.00 433.10h5.2l-2.6 4.3z" fill="#1b78cc"/>
<text x="546.80" y="437.80" font-size="7.2" stroke="#000" stroke-width="0.16">Deletion</text>
<rect x="534.30" y="440.45" width="10.60" height="9.00" fill="#e7e7e7"/>
<path d="M537.00 447.15h5.2l-2.6 -4.5z" fill="#f01616"/>
<text x="546.80" y="447.55" font-size="7.2" stroke="#000" stroke-width="0.16">Gain</text>
<rect x="534.30" y="450.20" width="10.60" height="9.00" fill="#e7e7e7"/>
<path d="M537.00 456.90h5.2l-2.6 -4.5z" fill="#8e1b5e"/>
<text x="546.80" y="457.30" font-size="7.2" stroke="#000" stroke-width="0.16">Amplification</text>
<rect x="534.30" y="459.95" width="10.60" height="9.00" fill="#e7e7e7"/>
<circle cx="539.60" cy="464.45" r="1.45" fill="#0b1c5e"/>
<text x="546.80" y="467.05" font-size="7.2" stroke="#000" stroke-width="0.16">LOH</text>
</g>
<g id="pE">
<line x1="21.00" y1="528.00" x2="643.00" y2="528.00" stroke="#e4e4e4" stroke-width="0.7"/>
<text x="17.00" y="529.90" font-size="5.3" text-anchor="middle" fill="#333" stroke="#333" stroke-width="0.12">0</text>
<line x1="21.00" y1="519.17" x2="643.00" y2="519.17" stroke="#e4e4e4" stroke-width="0.7"/>
<text x="17.00" y="521.07" font-size="5.3" text-anchor="middle" fill="#333" stroke="#333" stroke-width="0.12">1</text>
<line x1="21.00" y1="510.34" x2="643.00" y2="510.34" stroke="#e4e4e4" stroke-width="0.7"/>
<text x="17.00" y="512.24" font-size="5.3" text-anchor="middle" fill="#333" stroke="#333" stroke-width="0.12">2</text>
<line x1="21.00" y1="501.51" x2="643.00" y2="501.51" stroke="#e4e4e4" stroke-width="0.7"/>
<text x="17.00" y="503.41" font-size="5.3" text-anchor="middle" fill="#333" stroke="#333" stroke-width="0.12">3</text>
<line x1="21.00" y1="492.68" x2="643.00" y2="492.68" stroke="#e4e4e4" stroke-width="0.7"/>
<text x="17.00" y="494.58" font-size="5.3" text-anchor="middle" fill="#333" stroke="#333" stroke-width="0.12">4</text>
<line x1="21.00" y1="544.70" x2="643.00" y2="544.70" stroke="#e4e4e4" stroke-width="0.7"/>
<text x="19.20" y="546.60" font-size="5.3" text-anchor="end" fill="#333" stroke="#333" stroke-width="0.12">1</text>
<line x1="21.00" y1="552.15" x2="643.00" y2="552.15" stroke="#e4e4e4" stroke-width="0.7"/>
<text x="19.20" y="554.05" font-size="5.3" text-anchor="end" fill="#333" stroke="#333" stroke-width="0.12">0.5</text>
<line x1="21.00" y1="559.60" x2="643.00" y2="559.60" stroke="#e4e4e4" stroke-width="0.7"/>
<text x="19.20" y="561.50" font-size="5.3" text-anchor="end" fill="#333" stroke="#333" stroke-width="0.12">0</text>
<line x1="21.00" y1="567.05" x2="643.00" y2="567.05" stroke="#e4e4e4" stroke-width="0.7"/>
<text x="19.20" y="568.95" font-size="5.3" text-anchor="end" fill="#333" stroke="#333" stroke-width="0.12">0.5</text>
<line x1="21.00" y1="574.50" x2="643.00" y2="574.50" stroke="#e4e4e4" stroke-width="0.7"/>
<text x="19.20" y="576.40" font-size="5.3" text-anchor="end" fill="#333" stroke="#333" stroke-width="0.12">1</text>
<line x1="51.00" y1="488.50" x2="51.00" y2="530.50" stroke="#e4e4e4" stroke-width="0.7"/>
<line x1="51.00" y1="541.00" x2="51.00" y2="579.00" stroke="#e4e4e4" stroke-width="0.7"/>
<line x1="97.50" y1="488.50" x2="97.50" y2="530.50" stroke="#e4e4e4" stroke-width="0.7"/>
<line x1="97.50" y1="541.00" x2="97.50" y2="579.00" stroke="#e4e4e4" stroke-width="0.7"/>
<line x1="142.00" y1="488.50" x2="142.00" y2="530.50" stroke="#e4e4e4" stroke-width="0.7"/>
<line x1="142.00" y1="541.00" x2="142.00" y2="579.00" stroke="#e4e4e4" stroke-width="0.7"/>
<line x1="179.00" y1="488.50" x2="179.00" y2="530.50" stroke="#e4e4e4" stroke-width="0.7"/>
<line x1="179.00" y1="541.00" x2="179.00" y2="579.00" stroke="#e4e4e4" stroke-width="0.7"/>
<line x1="214.60" y1="488.50" x2="214.60" y2="530.50" stroke="#e4e4e4" stroke-width="0.7"/>
<line x1="214.60" y1="541.00" x2="214.60" y2="579.00" stroke="#e4e4e4" stroke-width="0.7"/>
<line x1="247.90" y1="488.50" x2="247.90" y2="530.50" stroke="#e4e4e4" stroke-width="0.7"/>
<line x1="247.90" y1="541.00" x2="247.90" y2="579.00" stroke="#e4e4e4" stroke-width="0.7"/>
<line x1="279.90" y1="488.50" x2="279.90" y2="530.50" stroke="#e4e4e4" stroke-width="0.7"/>
<line x1="279.90" y1="541.00" x2="279.90" y2="579.00" stroke="#e4e4e4" stroke-width="0.7"/>
<line x1="309.30" y1="488.50" x2="309.30" y2="530.50" stroke="#e4e4e4" stroke-width="0.7"/>
<line x1="309.30" y1="541.00" x2="309.30" y2="579.00" stroke="#e4e4e4" stroke-width="0.7"/>
<line x1="336.70" y1="488.50" x2="336.70" y2="530.50" stroke="#e4e4e4" stroke-width="0.7"/>
<line x1="336.70" y1="541.00" x2="336.70" y2="579.00" stroke="#e4e4e4" stroke-width="0.7"/>
<line x1="362.60" y1="488.50" x2="362.60" y2="530.50" stroke="#e4e4e4" stroke-width="0.7"/>
<line x1="362.60" y1="541.00" x2="362.60" y2="579.00" stroke="#e4e4e4" stroke-width="0.7"/>
<line x1="387.00" y1="488.50" x2="387.00" y2="530.50" stroke="#e4e4e4" stroke-width="0.7"/>
<line x1="387.00" y1="541.00" x2="387.00" y2="579.00" stroke="#e4e4e4" stroke-width="0.7"/>
<line x1="412.80" y1="488.50" x2="412.80" y2="530.50" stroke="#e4e4e4" stroke-width="0.7"/>
<line x1="412.80" y1="541.00" x2="412.80" y2="579.00" stroke="#e4e4e4" stroke-width="0.7"/>
<line x1="436.40" y1="488.50" x2="436.40" y2="530.50" stroke="#e4e4e4" stroke-width="0.7"/>
<line x1="436.40" y1="541.00" x2="436.40" y2="579.00" stroke="#e4e4e4" stroke-width="0.7"/>
<line x1="457.70" y1="488.50" x2="457.70" y2="530.50" stroke="#e4e4e4" stroke-width="0.7"/>
<line x1="457.70" y1="541.00" x2="457.70" y2="579.00" stroke="#e4e4e4" stroke-width="0.7"/>
<line x1="477.20" y1="488.50" x2="477.20" y2="530.50" stroke="#e4e4e4" stroke-width="0.7"/>
<line x1="477.20" y1="541.00" x2="477.20" y2="579.00" stroke="#e4e4e4" stroke-width="0.7"/>
<line x1="496.30" y1="488.50" x2="496.30" y2="530.50" stroke="#e4e4e4" stroke-width="0.7"/>
<line x1="496.30" y1="541.00" x2="496.30" y2="579.00" stroke="#e4e4e4" stroke-width="0.7"/>
<line x1="512.80" y1="488.50" x2="512.80" y2="530.50" stroke="#e4e4e4" stroke-width="0.7"/>
<line x1="512.80" y1="541.00" x2="512.80" y2="579.00" stroke="#e4e4e4" stroke-width="0.7"/>
<line x1="527.50" y1="488.50" x2="527.50" y2="530.50" stroke="#e4e4e4" stroke-width="0.7"/>
<line x1="527.50" y1="541.00" x2="527.50" y2="579.00" stroke="#e4e4e4" stroke-width="0.7"/>
<line x1="542.20" y1="488.50" x2="542.20" y2="530.50" stroke="#e4e4e4" stroke-width="0.7"/>
<line x1="542.20" y1="541.00" x2="542.20" y2="579.00" stroke="#e4e4e4" stroke-width="0.7"/>
<line x1="554.00" y1="488.50" x2="554.00" y2="530.50" stroke="#e4e4e4" stroke-width="0.7"/>
<line x1="554.00" y1="541.00" x2="554.00" y2="579.00" stroke="#e4e4e4" stroke-width="0.7"/>
<line x1="565.00" y1="488.50" x2="565.00" y2="530.50" stroke="#e4e4e4" stroke-width="0.7"/>
<line x1="565.00" y1="541.00" x2="565.00" y2="579.00" stroke="#e4e4e4" stroke-width="0.7"/>
<line x1="574.20" y1="488.50" x2="574.20" y2="530.50" stroke="#e4e4e4" stroke-width="0.7"/>
<line x1="574.20" y1="541.00" x2="574.20" y2="579.00" stroke="#e4e4e4" stroke-width="0.7"/>
<line x1="584.40" y1="488.50" x2="584.40" y2="530.50" stroke="#e4e4e4" stroke-width="0.7"/>
<line x1="584.40" y1="541.00" x2="584.40" y2="579.00" stroke="#e4e4e4" stroke-width="0.7"/>
<line x1="613.00" y1="488.50" x2="613.00" y2="530.50" stroke="#e4e4e4" stroke-width="0.7"/>
<line x1="613.00" y1="541.00" x2="613.00" y2="579.00" stroke="#e4e4e4" stroke-width="0.7"/>
<text x="74.25" y="579.40" font-size="6.0" text-anchor="middle" fill="#222" stroke="#222" stroke-width="0.13">1</text>
<text x="119.75" y="579.40" font-size="6.0" text-anchor="middle" fill="#222" stroke="#222" stroke-width="0.13">2</text>
<text x="160.50" y="579.40" font-size="6.0" text-anchor="middle" fill="#222" stroke="#222" stroke-width="0.13">3</text>
<text x="196.80" y="579.40" font-size="6.0" text-anchor="middle" fill="#222" stroke="#222" stroke-width="0.13">4</text>
<text x="231.25" y="579.40" font-size="6.0" text-anchor="middle" fill="#222" stroke="#222" stroke-width="0.13">5</text>
<text x="263.90" y="579.40" font-size="6.0" text-anchor="middle" fill="#222" stroke="#222" stroke-width="0.13">6</text>
<text x="294.60" y="579.40" font-size="6.0" text-anchor="middle" fill="#222" stroke="#222" stroke-width="0.13">7</text>
<text x="323.00" y="579.40" font-size="6.0" text-anchor="middle" fill="#222" stroke="#222" stroke-width="0.13">8</text>
<text x="349.65" y="579.40" font-size="6.0" text-anchor="middle" fill="#222" stroke="#222" stroke-width="0.13">9</text>
<text x="374.80" y="579.40" font-size="6.0" text-anchor="middle" fill="#222" stroke="#222" stroke-width="0.13">10</text>
<text x="399.90" y="579.40" font-size="6.0" text-anchor="middle" fill="#222" stroke="#222" stroke-width="0.13">11</text>
<text x="424.60" y="579.40" font-size="6.0" text-anchor="middle" fill="#222" stroke="#222" stroke-width="0.13">12</text>
<text x="447.05" y="579.40" font-size="6.0" text-anchor="middle" fill="#222" stroke="#222" stroke-width="0.13">13</text>
<text x="467.45" y="579.40" font-size="6.0" text-anchor="middle" fill="#222" stroke="#222" stroke-width="0.13">14</text>
<text x="486.75" y="579.40" font-size="6.0" text-anchor="middle" fill="#222" stroke="#222" stroke-width="0.13">15</text>
<text x="504.55" y="579.40" font-size="6.0" text-anchor="middle" fill="#222" stroke="#222" stroke-width="0.13">16</text>
<text x="520.15" y="579.40" font-size="6.0" text-anchor="middle" fill="#222" stroke="#222" stroke-width="0.13">17</text>
<text x="534.85" y="579.40" font-size="6.0" text-anchor="middle" fill="#222" stroke="#222" stroke-width="0.13">18</text>
<text x="548.10" y="579.40" font-size="6.0" text-anchor="middle" fill="#222" stroke="#222" stroke-width="0.13">19</text>
<text x="559.50" y="579.40" font-size="6.0" text-anchor="middle" fill="#222" stroke="#222" stroke-width="0.13">20</text>
<text x="569.60" y="579.40" font-size="6.0" text-anchor="middle" fill="#222" stroke="#222" stroke-width="0.13">21</text>
<text x="579.30" y="579.40" font-size="6.0" text-anchor="middle" fill="#222" stroke="#222" stroke-width="0.13">22</text>
<text x="598.70" y="579.40" font-size="6.0" text-anchor="middle" fill="#222" stroke="#222" stroke-width="0.13">X</text>
<text x="614.25" y="579.40" font-size="6.0" text-anchor="middle" fill="#222" stroke="#222" stroke-width="0.13">Y</text>
<text x="333.00" y="588.40" font-size="6.8" text-anchor="middle" fill="#111" stroke="#111" stroke-width="0.15">Chromosome</text>
<text x="6.00" y="510.30" font-size="6.6" text-anchor="middle" transform="rotate(-90 6.00 510.30)" stroke="#000" stroke-width="0.15">Average CN</text>
<text x="6.00" y="559.60" font-size="6.6" text-anchor="middle" transform="rotate(-90 6.00 559.60)" stroke="#000" stroke-width="0.15">Proportion</text>
<rect x="51.0" y="509.7" width="533.4" height="1.2" fill="#c4c4c4" opacity="0.8"/>
<rect x="584.4" y="518.7" width="28.6" height="0.9" fill="#c9c9c9" opacity="0.8"/>
<rect x="51.5" y="508.8" width="11.5" height="2.2" fill="#a9a9a9"/>
<rect x="51.2" y="507.2" width="0.7" height="6.6" fill="#2b35f0" opacity="0.8"/>
<rect x="53.8" y="505.5" width="0.5" height="4.9" fill="#f42020" opacity="0.7"/>
<rect x="56.3" y="505.9" width="0.5" height="4.4" fill="#f42020" opacity="0.7"/>
<rect x="59.0" y="506.8" width="0.4" height="3.5" fill="#f42020" opacity="0.6"/>
<rect x="63.0" y="511.0" width="10.3" height="2.6" fill="#2b35f0"/>
<rect x="73.3" y="509.5" width="4.7" height="1.8" fill="#a9a9a9"/>
<rect x="79.5" y="499.1" width="4.5" height="2.8" fill="#f42020"/>
<rect x="84.0" y="500.2" width="6.0" height="2.6" fill="#f42020"/>
<rect x="90.0" y="501.5" width="7.5" height="2.6" fill="#f42020"/>
<rect x="97.5" y="506.4" width="2.8" height="3.3" fill="#f42020"/>
<rect x="97.5" y="504.3" width="16.1" height="2.5" fill="#f42020" opacity="0.9"/>
<rect x="113.6" y="509.1" width="28.4" height="2.5" fill="#a9a9a9" opacity="0.8"/>
<rect x="115.8" y="509.0" width="2.5" height="2.6" fill="#8f8f8f"/>
<rect x="122.0" y="509.0" width="1.5" height="2.6" fill="#8f8f8f"/>
<rect x="128.0" y="509.0" width="3.5" height="2.6" fill="#8f8f8f"/>
<rect x="133.5" y="508.6" width="1.5" height="2.6" fill="#8f8f8f"/>
<rect x="137.0" y="509.5" width="4.5" height="2.6" fill="#999"/>
<rect x="144.2" y="505.0" width="5.8" height="2.5" fill="#f42020"/>
<rect x="150.0" y="504.2" width="8.0" height="2.8" fill="#f42020"/>
<rect x="158.0" y="502.0" width="8.0" height="4.4" fill="#f42020"/>
<rect x="166.0" y="504.0" width="13.0" height="3.0" fill="#f42020"/>
<rect x="179.0" y="508.8" width="35.6" height="2.8" fill="#a9a9a9" opacity="0.9"/>
<rect x="180.0" y="510.3" width="4.0" height="1.6" fill="#2b35f0" opacity="0.8"/>
<rect x="187.0" y="510.3" width="1.5" height="1.6" fill="#2b35f0" opacity="0.7"/>
<rect x="185.0" y="504.2" width="0.4" height="6.2" fill="#f42020" opacity="0.5"/>
<rect x="214.6" y="507.2" width="10.0" height="2.6" fill="#f42020"/>
<rect x="226.8" y="505.9" width="0.8" height="3.5" fill="#f42020" opacity="0.9"/>
<rect x="228.3" y="507.7" width="11.7" height="2.6" fill="#f42020"/>
<rect x="240.0" y="507.0" width="8.3" height="3.2" fill="#f42020"/>
<rect x="248.8" y="506.8" width="7.9" height="2.6" fill="#f42020" opacity="0.85"/>
<rect x="262.8" y="508.8" width="16.2" height="2.8" fill="#a9a9a9"/>
<rect x="275.2" y="510.3" width="4.4" height="2.5" fill="#2b35f0"/>
<rect x="280.2" y="504.2" width="11.0" height="3.1" fill="#f42020"/>
<rect x="291.7" y="503.3" width="14.3" height="3.5" fill="#f42020"/>
<rect x="306.0" y="505.5" width="3.3" height="2.2" fill="#f42020"/>
<rect x="295.0" y="501.5" width="0.5" height="2.6" fill="#f42020" opacity="0.8"/>
<rect x="299.0" y="501.1" width="0.4" height="3.1" fill="#f42020" opacity="0.8"/>
<rect x="303.0" y="502.0" width="0.4" height="2.2" fill="#f42020" opacity="0.8"/>
<rect x="309.8" y="510.3" width="3.7" height="3.7" fill="#2b35f0"/>
<rect x="313.5" y="510.3" width="2.5" height="1.8" fill="#2b35f0" opacity="0.8"/>
<rect x="317.9" y="505.9" width="17.8" height="3.5" fill="#f42020"/>
<rect x="332.0" y="507.7" width="4.7" height="2.6" fill="#f42020"/>
<rect x="336.9" y="504.2" width="3.1" height="4.4" fill="#f42020"/>
<rect x="340.0" y="505.0" width="4.4" height="3.1" fill="#f42020"/>
<rect x="349.4" y="505.5" width="13.2" height="3.1" fill="#f42020" opacity="0.9"/>
<rect x="362.8" y="509.2" width="7.2" height="2.6" fill="#a9a9a9"/>
<rect x="372.5" y="509.2" width="13.2" height="2.6" fill="#a9a9a9"/>
<rect x="375.6" y="505.0" width="0.4" height="5.3" fill="#f42020" opacity="0.6"/>
<rect x="385.5" y="510.3" width="0.5" height="3.5" fill="#2b35f0" opacity="0.8"/>
<rect x="387.7" y="505.9" width="10.3" height="2.8" fill="#f42020"/>
<rect x="398.0" y="504.6" width="14.3" height="3.5" fill="#f42020"/>
<rect x="399.0" y="502.0" width="0.5" height="3.1" fill="#f42020" opacity="0.8"/>
<rect x="412.8" y="509.0" width="11.9" height="2.2" fill="#a9a9a9"/>
<rect x="419.3" y="499.7" width="0.5" height="5.3" fill="#f42020" opacity="0.8"/>
<rect x="414.0" y="507.7" width="3.0" height="2.2" fill="#f42020" opacity="0.6"/>
<rect x="433.1" y="505.0" width="0.4" height="5.3" fill="#f42020" opacity="0.7"/>
<rect x="434.8" y="505.0" width="0.4" height="5.3" fill="#f42020" opacity="0.7"/>
<rect x="439.3" y="511.7" width="17.2" height="3.1" fill="#2b35f0"/>
<rect x="461.0" y="509.3" width="7.4" height="1.9" fill="#a9a9a9"/>
<rect x="468.4" y="510.8" width="3.6" height="2.6" fill="#2b35f0"/>
<rect x="472.0" y="508.6" width="4.0" height="2.2" fill="#a9a9a9"/>
<rect x="476.0" y="505.9" width="1.5" height="3.5" fill="#f42020" opacity="0.7"/>
<rect x="480.7" y="505.9" width="15.6" height="3.1" fill="#f42020"/>
<rect x="496.3" y="505.0" width="5.3" height="3.5" fill="#f42020"/>
<rect x="504.8" y="507.7" width="4.2" height="2.6" fill="#f42020"/>
<rect x="505.3" y="510.3" width="0.5" height="3.5" fill="#2b35f0" opacity="0.8"/>
<rect x="510.0" y="510.3" width="0.4" height="4.4" fill="#2b35f0" opacity="0.7"/>
<rect x="509.0" y="509.5" width="3.0" height="1.8" fill="#a9a9a9"/>
<rect x="512.2" y="510.3" width="4.2" height="2.6" fill="#2b35f0"/>
<rect x="517.6" y="505.9" width="9.9" height="3.5" fill="#f42020"/>
<rect x="527.5" y="506.6" width="14.8" height="3.3" fill="#f42020"/>
<rect x="543.5" y="498.9" width="2.5" height="4.0" fill="#f42020"/>
<rect x="546.5" y="509.5" width="1.5" height="1.8" fill="#a9a9a9"/>
<rect x="549.2" y="502.4" width="1.8" height="4.4" fill="#f42020"/>
<rect x="551.0" y="505.0" width="1.7" height="3.5" fill="#f42020"/>
<rect x="554.5" y="509.0" width="4.5" height="2.2" fill="#a9a9a9"/>
<rect x="559.6" y="494.0" width="1.4" height="3.5" fill="#f42020"/>
<rect x="560.0" y="505.0" width="5.8" height="3.5" fill="#f42020"/>
<rect x="568.2" y="504.9" width="6.2" height="2.8" fill="#f42020"/>
<rect x="577.4" y="510.3" width="6.9" height="3.5" fill="#2b35f0"/>
<rect x="581.0" y="507.7" width="1.5" height="2.6" fill="#f42020" opacity="0.8"/>
<rect x="593.7" y="515.2" width="5.4" height="3.3" fill="#f42020"/>
<rect x="610.2" y="515.2" width="3.2" height="3.3" fill="#f42020"/>
<rect x="613.4" y="520.5" width="1.6" height="3.1" fill="#2b35f0"/>
<rect x="51.1" y="559.6" width="1.2" height="7.5" fill="#2b35f0" opacity="0.8"/>
<rect x="52.3" y="557.4" width="11.2" height="2.2" fill="#f42020" opacity="0.45"/>
<rect x="54.2" y="553.3" width="0.5" height="6.3" fill="#f42020" opacity="0.7"/>
<rect x="55.8" y="553.9" width="0.5" height="5.7" fill="#f42020" opacity="0.7"/>
<rect x="59.0" y="555.1" width="0.4" height="4.5" fill="#f42020" opacity="0.6"/>
<rect x="54.0" y="559.6" width="9.5" height="3.7" fill="#2b35f0" opacity="0.45"/>
<rect x="57.0" y="559.6" width="0.5" height="6.0" fill="#2b35f0" opacity="0.7"/>
<rect x="63.5" y="559.6" width="9.8" height="7.5" fill="#2b35f0" opacity="0.85"/>
<rect x="73.3" y="559.6" width="4.7" height="0.7" fill="#2b35f0" opacity="0.6"/>
<rect x="79.5" y="549.8" width="17.8" height="9.8" fill="#f42020" opacity="0.85"/>
<rect x="79.5" y="559.6" width="17.8" height="0.6" fill="#2b35f0" opacity="0.6"/>
<rect x="97.3" y="552.7" width="16.3" height="6.9" fill="#f42020" opacity="0.5"/>
<rect x="97.3" y="559.6" width="2.7" height="3.0" fill="#2b35f0" opacity="0.6"/>
<rect x="115.0" y="558.1" width="4.0" height="1.5" fill="#f42020" opacity="0.8"/>
<rect x="116.0" y="559.6" width="3.0" height="0.9" fill="#2b35f0" opacity="0.8"/>
<rect x="122.5" y="551.0" width="0.5" height="8.6" fill="#f42020" opacity="0.6"/>
<rect x="127.7" y="557.2" width="7.3" height="2.4" fill="#f42020" opacity="0.6"/>
<rect x="134.8" y="553.3" width="0.6" height="6.3" fill="#f42020" opacity="0.8"/>
<rect x="131.0" y="555.1" width="0.4" height="4.5" fill="#f42020" opacity="0.6"/>
<rect x="127.7" y="559.6" width="3.8" height="2.5" fill="#2b35f0" opacity="0.7"/>
<rect x="137.5" y="559.6" width="5.0" height="3.0" fill="#2b35f0" opacity="0.6"/>
<rect x="141.5" y="559.6" width="0.5" height="6.0" fill="#2b35f0" opacity="0.7"/>
<rect x="144.2" y="547.7" width="11.8" height="11.9" fill="#f42020" opacity="0.6"/>
<rect x="156.0" y="548.9" width="3.8" height="10.7" fill="#f42020" opacity="0.85"/>
<rect x="159.8" y="545.9" width="6.2" height="13.7" fill="#f42020" opacity="0.8"/>
<rect x="166.0" y="548.3" width="8.6" height="11.3" fill="#f42020" opacity="0.85"/>
<rect x="174.6" y="550.7" width="4.2" height="8.9" fill="#f42020" opacity="0.85"/>
<rect x="148.5" y="559.6" width="0.5" height="2.5" fill="#2b35f0" opacity="0.7"/>
<rect x="152.2" y="559.6" width="0.5" height="2.5" fill="#2b35f0" opacity="0.7"/>
<rect x="144.2" y="559.6" width="34.6" height="0.4" fill="#2b35f0" opacity="0.5"/>
<rect x="178.8" y="556.3" width="35.6" height="3.3" fill="#f42020" opacity="0.65"/>
<rect x="178.8" y="559.6" width="35.6" height="3.7" fill="#2b35f0" opacity="0.6"/>
<rect x="185.0" y="555.1" width="5.0" height="4.5" fill="#f42020" opacity="0.4"/>
<rect x="181.0" y="559.6" width="3.0" height="4.8" fill="#2b35f0" opacity="0.5"/>
<rect x="188.0" y="559.6" width="1.0" height="5.4" fill="#2b35f0" opacity="0.6"/>
<rect x="214.4" y="557.1" width="10.2" height="2.5" fill="#f42020" opacity="0.7"/>
<rect x="214.4" y="559.6" width="10.2" height="3.6" fill="#2b35f0" opacity="0.6"/>
<rect x="226.9" y="554.4" width="0.5" height="5.2" fill="#f42020" opacity="0.7"/>
<rect x="228.3" y="555.9" width="11.1" height="3.7" fill="#f42020" opacity="0.55"/>
<rect x="239.4" y="555.6" width="8.9" height="4.0" fill="#f42020" opacity="0.9"/>
<rect x="228.3" y="559.6" width="20.0" height="1.9" fill="#2b35f0" opacity="0.7"/>
<rect x="239.2" y="559.6" width="0.5" height="7.5" fill="#2b35f0" opacity="0.7"/>
<rect x="248.8" y="553.6" width="7.9" height="6.0" fill="#f42020" opacity="0.35"/>
<rect x="255.0" y="552.9" width="1.7" height="6.7" fill="#f42020" opacity="0.4"/>
<rect x="262.8" y="559.6" width="8.7" height="3.0" fill="#2b35f0" opacity="0.5"/>
<rect x="271.5" y="559.6" width="8.0" height="4.5" fill="#2b35f0" opacity="0.75"/>
<rect x="262.8" y="559.0" width="16.7" height="0.6" fill="#f42020" opacity="0.5"/>
<rect x="280.2" y="553.3" width="11.0" height="6.3" fill="#f42020" opacity="0.6"/>
<rect x="291.7" y="549.6" width="14.3" height="10.0" fill="#f42020" opacity="0.55"/>
<rect x="306.0" y="553.3" width="3.3" height="6.3" fill="#f42020" opacity="0.6"/>
<rect x="281.0" y="550.7" width="0.4" height="8.9" fill="#f42020" opacity="0.6"/>
<rect x="309.8" y="559.6" width="2.5" height="9.4" fill="#2b35f0" opacity="0.8"/>
<rect x="312.3" y="559.6" width="3.7" height="4.8" fill="#2b35f0" opacity="0.6"/>
<rect x="317.9" y="556.6" width="17.8" height="3.0" fill="#f42020" opacity="0.9"/>
<rect x="335.7" y="554.2" width="8.6" height="5.4" fill="#f42020" opacity="0.85"/>
<rect x="338.0" y="548.9" width="0.5" height="10.7" fill="#f42020" opacity="0.6"/>
<rect x="321.5" y="549.2" width="0.5" height="10.4" fill="#f42020" opacity="0.4"/>
<rect x="333.0" y="559.6" width="5.3" height="1.9" fill="#2b35f0" opacity="0.7"/>
<rect x="344.3" y="552.1" width="0.9" height="7.5" fill="#f42020" opacity="0.6"/>
<rect x="349.4" y="552.9" width="13.2" height="6.7" fill="#f42020" opacity="0.5"/>
<rect x="349.4" y="559.6" width="13.2" height="0.4" fill="#2b35f0" opacity="0.5"/>
<rect x="362.8" y="559.6" width="6.8" height="1.3" fill="#2b35f0" opacity="0.7"/>
<rect x="369.6" y="559.6" width="17.4" height="0.9" fill="#2b35f0" opacity="0.55"/>
<rect x="375.6" y="554.8" width="0.4" height="4.8" fill="#f42020" opacity="0.6"/>
<rect x="385.5" y="559.6" width="0.5" height="8.6" fill="#2b35f0" opacity="0.7"/>
<rect x="381.0" y="558.1" width="1.5" height="1.5" fill="#f42020" opacity="0.6"/>
<rect x="387.7" y="554.2" width="24.6" height="5.4" fill="#f42020" opacity="0.85"/>
<rect x="399.0" y="549.2" width="0.6" height="10.4" fill="#f42020" opacity="0.7"/>
<rect x="397.0" y="552.1" width="0.4" height="7.5" fill="#f42020" opacity="0.7"/>
<rect x="387.7" y="559.6" width="24.6" height="0.6" fill="#2b35f0" opacity="0.5"/>
<rect x="397.5" y="559.6" width="0.5" height="3.0" fill="#2b35f0" opacity="0.6"/>
<rect x="412.8" y="556.6" width="11.9" height="3.0" fill="#f42020" opacity="0.8"/>
<rect x="412.8" y="559.6" width="5.2" height="4.5" fill="#2b35f0" opacity="0.6"/>
<rect x="418.0" y="559.6" width="6.7" height="3.3" fill="#2b35f0" opacity="0.8"/>
<rect x="424.7" y="559.6" width="3.8" height="1.8" fill="#2b35f0" opacity="0.5"/>
<rect x="419.3" y="550.7" width="0.5" height="8.9" fill="#f42020" opacity="0.7"/>
<rect x="433.1" y="554.8" width="0.4" height="4.8" fill="#f42020" opacity="0.7"/>
<rect x="434.8" y="554.8" width="0.4" height="4.8" fill="#f42020" opacity="0.7"/>
<rect x="439.3" y="559.6" width="4.4" height="9.4" fill="#2b35f0" opacity="0.75"/>
<rect x="443.7" y="559.6" width="12.8" height="8.9" fill="#2b35f0" opacity="0.55"/>
<rect x="456.0" y="559.6" width="0.5" height="11.2" fill="#2b35f0" opacity="0.5"/>
<rect x="461.0" y="558.6" width="14.8" height="1.0" fill="#f42020" opacity="0.8"/>
<rect x="461.0" y="559.6" width="14.8" height="2.5" fill="#2b35f0" opacity="0.7"/>
<rect x="467.2" y="559.6" width="4.8" height="5.4" fill="#2b35f0" opacity="0.75"/>
<rect x="469.0" y="559.6" width="0.5" height="7.5" fill="#2b35f0" opacity="0.7"/>
<rect x="464.0" y="555.1" width="0.4" height="4.5" fill="#f42020" opacity="0.5"/>
<rect x="476.0" y="557.4" width="1.5" height="2.2" fill="#f42020" opacity="0.7"/>
<rect x="480.7" y="554.7" width="20.9" height="4.9" fill="#f42020" opacity="0.85"/>
<rect x="497.0" y="553.3" width="4.6" height="6.3" fill="#f42020" opacity="0.9"/>
<rect x="488.0" y="552.1" width="0.4" height="7.5" fill="#f42020" opacity="0.6"/>
<rect x="493.0" y="552.1" width="0.4" height="7.5" fill="#f42020" opacity="0.6"/>
<rect x="480.7" y="559.6" width="17.3" height="1.2" fill="#2b35f0" opacity="0.7"/>
<rect x="504.8" y="557.1" width="5.5" height="2.5" fill="#f42020" opacity="0.8"/>
<rect x="504.8" y="559.6" width="11.6" height="4.5" fill="#2b35f0" opacity="0.6"/>
<rect x="506.0" y="559.6" width="0.6" height="6.7" fill="#2b35f0" opacity="0.7"/>
<rect x="510.5" y="559.6" width="0.5" height="7.5" fill="#2b35f0" opacity="0.7"/>
<rect x="513.0" y="559.6" width="0.5" height="6.7" fill="#2b35f0" opacity="0.7"/>
<rect x="511.5" y="555.9" width="0.8" height="3.7" fill="#f42020" opacity="0.7"/>
<rect x="517.6" y="552.7" width="9.9" height="6.9" fill="#f42020" opacity="0.85"/>
<rect x="527.5" y="556.6" width="14.8" height="3.0" fill="#f42020" opacity="0.85"/>
<rect x="530.0" y="553.6" width="0.4" height="6.0" fill="#f42020" opacity="0.6"/>
<rect x="526.0" y="559.6" width="5.0" height="0.9" fill="#2b35f0" opacity="0.7"/>
<rect x="542.6" y="559.6" width="0.5" height="6.3" fill="#2b35f0" opacity="0.7"/>
<rect x="543.5" y="546.2" width="3.1" height="13.4" fill="#f42020" opacity="0.75"/>
<rect x="548.5" y="549.8" width="3.0" height="9.8" fill="#f42020" opacity="0.6"/>
<rect x="551.5" y="552.1" width="3.2" height="7.5" fill="#f42020" opacity="0.6"/>
<rect x="548.4" y="559.6" width="0.5" height="6.3" fill="#2b35f0" opacity="0.7"/>
<rect x="554.0" y="559.6" width="4.5" height="2.4" fill="#2b35f0" opacity="0.7"/>
<rect x="556.0" y="558.1" width="2.5" height="1.5" fill="#f42020" opacity="0.6"/>
<rect x="559.0" y="545.1" width="2.6" height="14.5" fill="#f42020" opacity="0.8"/>
<rect x="561.6" y="551.0" width="4.2" height="8.6" fill="#f42020" opacity="0.7"/>
<rect x="565.2" y="559.6" width="0.5" height="4.9" fill="#2b35f0" opacity="0.7"/>
<rect x="560.0" y="559.6" width="5.0" height="0.7" fill="#2b35f0" opacity="0.6"/>
<rect x="568.2" y="551.7" width="6.2" height="7.9" fill="#f42020" opacity="0.85"/>
<rect x="568.2" y="559.6" width="6.2" height="1.2" fill="#2b35f0" opacity="0.7"/>
<rect x="573.6" y="559.6" width="0.4" height="3.3" fill="#2b35f0" opacity="0.7"/>
<rect x="577.4" y="558.4" width="6.9" height="1.2" fill="#f42020" opacity="0.7"/>
<rect x="581.2" y="554.7" width="0.5" height="4.9" fill="#f42020" opacity="0.7"/>
<rect x="583.0" y="555.1" width="0.4" height="4.5" fill="#f42020" opacity="0.7"/>
<rect x="577.4" y="559.6" width="6.9" height="4.5" fill="#2b35f0" opacity="0.7"/>
<rect x="593.7" y="558.9" width="5.4" height="0.7" fill="#f42020" opacity="0.7"/>
<rect x="610.2" y="558.4" width="3.2" height="1.2" fill="#f42020" opacity="0.8"/>
<rect x="613.4" y="559.6" width="1.6" height="1.3" fill="#2b35f0" opacity="0.8"/>
<line x1="51.00" y1="559.60" x2="616.00" y2="559.60" stroke="#444" stroke-width="0.5"/>
</g>
<g id="pF">
<defs><filter id="fb" x="-20%" y="-60%" width="140%" height="220%"><feGaussianBlur stdDeviation="0.3 1.4"/></filter><filter id="fc" x="-200%" y="-30%" width="500%" height="160%"><feGaussianBlur stdDeviation="0.35 1.2"/></filter></defs>
<g>
<line x1="14.30" y1="746.83" x2="209.50" y2="746.83" stroke="#bdbdbd" stroke-width="0.5"/>
<line x1="14.30" y1="709.65" x2="209.50" y2="709.65" stroke="#bdbdbd" stroke-width="0.5"/>
<line x1="14.30" y1="672.47" x2="209.50" y2="672.47" stroke="#bdbdbd" stroke-width="0.5"/>
<line x1="30.02" y1="635.30" x2="30.02" y2="784.00" stroke="#bdbdbd" stroke-width="0.5"/>
<line x1="45.35" y1="635.30" x2="45.35" y2="784.00" stroke="#bdbdbd" stroke-width="0.5"/>
<line x1="57.84" y1="635.30" x2="57.84" y2="784.00" stroke="#bdbdbd" stroke-width="0.5"/>
<line x1="69.89" y1="635.30" x2="69.89" y2="784.00" stroke="#bdbdbd" stroke-width="0.5"/>
<line x1="81.30" y1="635.30" x2="81.30" y2="784.00" stroke="#bdbdbd" stroke-width="0.5"/>
<line x1="92.09" y1="635.30" x2="92.09" y2="784.00" stroke="#bdbdbd" stroke-width="0.5"/>
<line x1="102.12" y1="635.30" x2="102.12" y2="784.00" stroke="#bdbdbd" stroke-width="0.5"/>
<line x1="111.35" y1="635.30" x2="111.35" y2="784.00" stroke="#bdbdbd" stroke-width="0.5"/>
<line x1="120.26" y1="635.30" x2="120.26" y2="784.00" stroke="#bdbdbd" stroke-width="0.5"/>
<line x1="128.80" y1="635.30" x2="128.80" y2="784.00" stroke="#bdbdbd" stroke-width="0.5"/>
<line x1="137.31" y1="635.30" x2="137.31" y2="784.00" stroke="#bdbdbd" stroke-width="0.5"/>
<line x1="145.76" y1="635.30" x2="145.76" y2="784.00" stroke="#bdbdbd" stroke-width="0.5"/>
<line x1="153.02" y1="635.30" x2="153.02" y2="784.00" stroke="#bdbdbd" stroke-width="0.5"/>
<line x1="159.79" y1="635.30" x2="159.79" y2="784.00" stroke="#bdbdbd" stroke-width="0.5"/>
<line x1="166.25" y1="635.30" x2="166.25" y2="784.00" stroke="#bdbdbd" stroke-width="0.5"/>
<line x1="171.95" y1="635.30" x2="171.95" y2="784.00" stroke="#bdbdbd" stroke-width="0.5"/>
<line x1="177.07" y1="635.30" x2="177.07" y2="784.00" stroke="#bdbdbd" stroke-width="0.5"/>
<line x1="181.99" y1="635.30" x2="181.99" y2="784.00" stroke="#bdbdbd" stroke-width="0.5"/>
<line x1="185.72" y1="635.30" x2="185.72" y2="784.00" stroke="#bdbdbd" stroke-width="0.5"/>
<line x1="189.69" y1="635.30" x2="189.69" y2="784.00" stroke="#bdbdbd" stroke-width="0.5"/>
<line x1="192.73" y1="635.30" x2="192.73" y2="784.00" stroke="#bdbdbd" stroke-width="0.5"/>
<line x1="195.96" y1="635.30" x2="195.96" y2="784.00" stroke="#bdbdbd" stroke-width="0.5"/>
<line x1="205.75" y1="635.30" x2="205.75" y2="784.00" stroke="#bdbdbd" stroke-width="0.5"/>
<rect x="14.3" y="713.6" width="4.4" height="8.4" fill="#1f77b4" filter="url(#fb)"/>
<rect x="18.7" y="716.3" width="3.4" height="8.4" fill="#1f77b4" filter="url(#fb)"/>
<rect x="18.3" y="698.8" width="1.0" height="6.1" fill="#1f77b4" opacity="0.8" filter="url(#fc)"/>
<rect x="23.1" y="697.6" width="6.8" height="8.4" fill="#1f77b4" filter="url(#fb)"/>
<rect x="29.9" y="705.8" width="9.5" height="8.4" fill="#ff7f0e" filter="url(#fb)"/>
<rect x="38.7" y="724.7" width="2.7" height="6.5" fill="#ff7f0e" filter="url(#fb)"/>
<rect x="43.0" y="724.1" width="2.3" height="6.5" fill="#ff7f0e" filter="url(#fb)"/>
<rect x="41.9" y="707.8" width="1.9" height="6.5" fill="#ff7f0e" filter="url(#fb)"/>
<rect x="45.2" y="705.4" width="13.2" height="8.4" fill="#2ca02c" filter="url(#fb)"/>
<rect x="56.0" y="725.4" width="1.4" height="6.5" fill="#2ca02c" filter="url(#fb)"/>
<rect x="58.4" y="708.8" width="11.9" height="8.4" fill="#d62728" filter="url(#fb)"/>
<rect x="70.3" y="705.8" width="11.2" height="8.4" fill="#9467bd" filter="url(#fb)"/>
<rect x="81.5" y="705.8" width="10.9" height="8.4" fill="#8c564b" filter="url(#fb)"/>
<rect x="92.4" y="705.4" width="9.5" height="8.4" fill="#e377c2" filter="url(#fb)"/>
<rect x="101.9" y="705.4" width="9.5" height="8.4" fill="#7f7f7f" filter="url(#fb)"/>
<rect x="111.7" y="705.8" width="8.5" height="8.4" fill="#bcbd22" filter="url(#fb)"/>
<rect x="111.4" y="687.2" width="1.0" height="6.8" fill="#bcbd22" opacity="0.8" filter="url(#fc)"/>
<rect x="120.2" y="705.8" width="8.1" height="8.4" fill="#17becf" filter="url(#fb)"/>
<rect x="126.7" y="724.7" width="1.4" height="6.5" fill="#17becf" filter="url(#fb)"/>
<rect x="128.4" y="707.5" width="8.5" height="8.4" fill="#1f77b4" filter="url(#fb)"/>
<rect x="136.8" y="706.1" width="8.5" height="8.4" fill="#ff7f0e" filter="url(#fb)"/>
<rect x="146.0" y="723.8" width="6.8" height="8.4" fill="#2ca02c" filter="url(#fb)"/>
<rect x="153.8" y="706.1" width="5.8" height="8.4" fill="#d62728" filter="url(#fb)"/>
<rect x="160.3" y="706.5" width="5.4" height="8.4" fill="#9467bd" filter="url(#fb)"/>
<rect x="165.0" y="725.9" width="1.0" height="5.4" fill="#9467bd" opacity="0.8" filter="url(#fc)"/>
<rect x="166.0" y="706.1" width="5.4" height="8.4" fill="#8c564b" filter="url(#fb)"/>
<rect x="165.7" y="725.3" width="1.0" height="5.4" fill="#8c564b" opacity="0.8" filter="url(#fc)"/>
<rect x="171.8" y="706.1" width="5.1" height="8.4" fill="#e377c2" filter="url(#fb)"/>
<rect x="171.1" y="723.6" width="1.0" height="6.8" fill="#e377c2" opacity="0.8" filter="url(#fc)"/>
<rect x="176.9" y="705.8" width="4.8" height="8.4" fill="#7f7f7f" filter="url(#fb)"/>
<rect x="182.0" y="665.8" width="1.0" height="22.1" fill="#bcbd22" opacity="0.8" filter="url(#fc)"/>
<rect x="183.0" y="684.5" width="1.0" height="15.3" fill="#bcbd22" opacity="0.8" filter="url(#fc)"/>
<rect x="183.4" y="723.6" width="1.0" height="7.8" fill="#bcbd22" opacity="0.8" filter="url(#fc)"/>
<rect x="184.4" y="706.4" width="1.0" height="6.5" fill="#bcbd22" filter="url(#fb)"/>
<rect x="185.4" y="705.8" width="4.1" height="8.4" fill="#17becf" filter="url(#fb)"/>
<rect x="190.2" y="669.2" width="2.0" height="7.8" fill="#1f77b4" opacity="0.8" filter="url(#fc)"/>
<rect x="191.2" y="654.0" width="1.4" height="11.9" fill="#1f77b4" opacity="0.8" filter="url(#fc)"/>
<rect x="189.8" y="706.4" width="2.4" height="6.5" fill="#1f77b4" filter="url(#fb)"/>
<rect x="192.9" y="706.1" width="3.1" height="8.4" fill="#ff7f0e" filter="url(#fb)"/>
<rect x="195.9" y="745.7" width="9.5" height="5.4" fill="#2ca02c" filter="url(#fb)"/>
<rect x="205.4" y="746.0" width="1.7" height="5.4" fill="#d62728" filter="url(#fb)"/>
<path d="M15.7 730.8h.5M16.6 716.8h.5M14.4 718.9h.5M14.6 721.6h.5M14.8 720.2h.5M17.0 723.1h.5M18.6 723.5h.5M14.9 710.5h.5M15.1 725.2h.5M17.1 727.8h.5M14.5 719.6h.5M15.6 724.0h.5M16.3 715.4h.5M15.3 725.1h.5M16.6 722.7h.5M18.6 701.7h.5M14.9 721.4h.5M14.4 714.2h.5M18.1 711.4h.5M17.3 713.1h.5M18.0 714.6h.5M16.4 717.0h.5M17.1 716.5h.5M17.9 716.9h.5M14.4 721.9h.5M15.0 718.9h.5M14.8 718.8h.5M16.0 719.0h.5M16.7 716.5h.5M17.9 720.1h.5M15.8 715.2h.5M18.5 719.4h.5M15.3 720.0h.5M16.9 717.8h.5M15.9 718.2h.5M18.5 715.9h.5M17.2 733.2h.5M18.1 713.4h.5M16.0 716.2h.5M14.5 719.5h.5M15.8 724.1h.5M14.7 717.8h.5M14.4 722.0h.5M15.4 713.6h.5M15.9 723.8h.5M16.3 723.6h.5M14.6 720.9h.5M17.9 720.2h.5M14.4 722.8h.5M16.7 687.8h.5M18.1 715.7h.5M15.4 716.1h.5M16.6 719.7h.5M15.7 719.1h.5M18.0 725.5h.5M17.9 717.6h.5M19.9 729.3h.5M19.6 721.1h.5M21.9 710.9h.5M21.9 723.8h.5M19.4 720.9h.5M20.8 723.3h.5M21.5 714.3h.5M19.0 721.3h.5M21.8 722.0h.5M19.3 713.5h.5M19.8 724.1h.5M20.0 709.6h.5M21.1 721.6h.5M21.7 722.5h.5M19.2 726.1h.5M19.9 709.8h.5M19.1 731.9h.5M20.5 721.5h.5M20.1 726.1h.5M19.5 714.7h.5M19.5 717.7h.5M19.1 718.8h.5M19.9 715.0h.5M20.1 722.0h.5M20.4 717.8h.5M20.2 720.7h.5M19.3 720.9h.5M21.1 716.9h.5M20.6 719.2h.5M19.0 717.5h.5M21.3 719.3h.5M20.6 721.1h.5M20.8 711.0h.5M20.4 718.8h.5M20.3 716.1h.5M21.0 727.8h.5M20.6 713.3h.5M21.5 721.9h.5M18.9 722.2h.5M18.9 716.9h.5M19.2 713.9h.5M20.9 726.1h.5M19.4 727.5h.5M20.0 707.5h.5M19.1 696.0h.5M17.8 699.6h.5M19.3 696.7h.5M18.2 693.2h.5M20.2 703.9h.5M18.7 699.4h.5M18.9 705.3h.5M18.5 712.6h.5M18.8 708.6h.5M19.3 698.1h.5M18.8 693.6h.5M19.0 695.4h.5M18.1 701.3h.5M20.3 698.0h.5M18.0 695.8h.5M19.9 706.9h.5M18.3 694.6h.5M20.1 701.3h.5M19.3 694.2h.5M20.0 708.9h.5M18.4 694.5h.5M28.9 709.7h.5M25.4 705.3h.5M29.4 701.6h.5M24.7 703.7h.5M24.5 703.0h.5M25.2 702.0h.5M24.3 698.3h.5M23.2 701.8h.5M26.8 702.6h.5M26.3 703.7h.5M26.0 701.0h.5M28.8 697.8h.5M29.8 705.0h.5M28.7 700.2h.5M25.5 704.7h.5M28.1 703.0h.5M24.2 708.9h.5M27.6 706.0h.5M24.7 700.6h.5M26.1 706.4h.5M29.6 707.2h.5M29.6 700.9h.5M25.5 706.0h.5M26.5 701.9h.5M26.5 702.1h.5M25.8 702.7h.5M24.7 702.1h.5M26.7 701.9h.5M29.1 695.5h.5M25.3 704.3h.5M27.5 713.7h.5M27.4 694.0h.5M28.6 705.2h.5M28.8 705.9h.5M28.7 694.0h.5M27.8 697.3h.5M23.3 709.6h.5M28.8 696.2h.5M27.7 699.7h.5M23.1 703.9h.5M26.7 695.0h.5M23.5 693.5h.5M24.9 701.5h.5M29.7 698.9h.5M25.7 695.4h.5M27.3 702.7h.5M23.6 703.8h.5M25.2 704.5h.5M23.2 705.0h.5M27.8 703.1h.5M25.1 697.1h.5M23.9 701.3h.5M24.4 698.3h.5M26.2 706.6h.5M24.9 691.6h.5M29.5 703.2h.5M26.6 707.3h.5M24.0 704.0h.5M27.9 697.2h.5M29.2 702.0h.5M26.4 698.4h.5M25.4 702.9h.5M28.8 709.0h.5M23.9 701.9h.5M27.9 704.7h.5M25.8 699.8h.5M27.1 698.9h.5M23.4 706.4h.5M29.4 698.8h.5M24.9 699.0h.5M29.6 701.6h.5M28.6 695.4h.5M26.8 694.9h.5M23.4 701.3h.5M27.5 697.2h.5M23.4 703.8h.5M25.4 700.8h.5M28.1 705.1h.5M25.1 701.3h.5M25.8 703.1h.5M29.2 704.1h.5M24.6 713.9h.5M24.0 693.8h.5M23.7 700.8h.5M24.8 703.4h.5M136.0 712.4h.5M132.7 716.7h.5M133.7 709.4h.5M132.0 709.0h.5M131.9 709.7h.5M132.3 712.1h.5M134.4 711.9h.5M130.4 711.5h.5M133.5 716.9h.5M130.1 705.8h.5M134.4 708.2h.5M130.7 690.4h.5M136.4 713.3h.5M135.1 710.6h.5M133.8 709.5h.5M131.2 712.0h.5M129.7 708.5h.5M133.6 710.8h.5M129.1 714.1h.5M131.0 708.9h.5M132.1 711.6h.5M132.5 716.2h.5M133.4 710.0h.5M129.8 717.7h.5M131.8 714.7h.5M132.0 707.7h.5M129.6 717.0h.5M133.2 720.0h.5M131.4 712.0h.5M136.2 707.9h.5M133.1 714.3h.5M134.6 714.0h.5M135.6 710.9h.5M133.4 710.0h.5M133.0 708.2h.5M129.9 718.5h.5M128.6 717.8h.5M132.4 707.6h.5M131.3 711.8h.5M136.2 708.5h.5M131.6 707.9h.5M135.0 711.4h.5M131.4 715.8h.5M132.9 711.1h.5M129.7 715.5h.5M128.5 712.2h.5M129.6 713.1h.5M128.8 711.1h.5M136.1 718.6h.5M133.0 713.3h.5M132.0 710.8h.5M134.7 703.3h.5M135.8 711.8h.5M128.7 713.3h.5M134.4 712.3h.5M129.3 713.1h.5M134.1 714.0h.5M131.4 716.2h.5M130.5 711.1h.5M136.6 718.4h.5M129.9 711.5h.5M131.3 711.6h.5M134.1 693.6h.5M133.2 714.5h.5M135.8 708.5h.5M136.4 709.4h.5M136.1 709.5h.5M131.6 710.8h.5M128.4 714.1h.5M128.4 704.5h.5M131.9 709.0h.5M131.8 706.8h.5M136.5 717.0h.5M131.6 709.1h.5M136.0 713.7h.5M136.8 704.4h.5M131.1 711.8h.5M129.7 708.3h.5M132.5 736.3h.5M136.2 711.8h.5M133.2 709.2h.5M133.3 723.0h.5M134.9 717.0h.5M135.7 705.2h.5M134.6 714.2h.5M129.2 704.8h.5M133.9 711.9h.5M131.5 720.7h.5M132.0 706.7h.5M135.2 711.9h.5M131.8 706.9h.5M132.4 716.9h.5M134.1 725.4h.5M134.6 711.3h.5M133.8 709.4h.5M128.6 714.0h.5M129.1 693.0h.5M132.3 705.0h.5M131.3 713.0h.5M129.9 716.8h.5M129.9 717.7h.5M131.2 716.8h.5M135.0 720.2h.5M136.1 713.4h.5M136.6 720.9h.5M191.6 666.1h.5M193.4 663.7h.5M191.0 668.9h.5M191.2 671.6h.5M191.2 668.9h.5M191.3 668.6h.5M190.5 671.1h.5M192.6 670.3h.5M194.1 679.3h.5M191.5 674.0h.5M192.3 682.9h.5M191.2 673.2h.5M192.0 682.7h.5M193.9 665.9h.5M189.2 665.8h.5M191.2 670.2h.5M189.5 676.9h.5M189.6 676.8h.5M190.8 663.6h.5M191.6 681.5h.5M193.4 664.9h.5M188.7 680.0h.5M191.8 667.6h.5M192.4 682.0h.5M192.4 671.6h.5M188.6 683.7h.5M191.8 665.4h.5M193.3 654.0h.5M191.5 668.6h.5M192.2 652.7h.5M192.4 664.5h.5M192.5 664.4h.5M189.7 667.4h.5M191.5 653.4h.5M191.2 654.2h.5M191.7 651.8h.5M192.8 670.9h.5M192.3 664.9h.5M192.5 663.3h.5M192.3 661.7h.5M192.3 662.6h.5M191.9 663.5h.5M193.5 654.2h.5M192.8 663.2h.5M190.9 672.5h.5M191.7 658.2h.5M190.6 669.7h.5M192.5 673.5h.5M192.0 666.5h.5M190.5 664.5h.5M194.7 667.6h.5M191.1 653.6h.5M190.8 653.9h.5M191.4 668.2h.5M192.2 660.6h.5M193.6 659.0h.5M191.4 673.6h.5M190.1 673.8h.5M192.1 665.3h.5M191.0 660.8h.5M193.0 657.2h.5M191.4 648.6h.5M190.5 655.9h.5M192.1 650.7h.5M191.0 712.0h.5M190.6 710.8h.5M191.1 713.4h.5M191.1 713.1h.5M190.6 709.0h.5M191.0 709.8h.5M190.3 709.2h.5M190.8 701.2h.5M191.2 717.0h.5M191.3 703.0h.5M189.9 705.1h.5M191.1 708.3h.5M190.7 708.9h.5M190.5 713.2h.5M191.9 707.6h.5M190.5 712.2h.5M190.3 710.1h.5M191.7 708.0h.5M191.7 716.3h.5M191.7 715.7h.5M191.9 706.4h.5M191.0 721.2h.5M191.2 717.2h.5M190.2 711.2h.5M190.4 715.7h.5M191.3 706.4h.5M192.1 708.5h.5M190.2 708.9h.5M190.1 704.0h.5M190.9 709.2h.5M191.5 706.0h.5M192.0 708.8h.5M20.8 723.6h.5M23.0 774.6h.5M22.3 715.4h.5M21.6 696.9h.5M25.1 653.4h.5M25.2 771.7h.5M26.3 715.9h.5M19.9 651.4h.5M15.8 715.3h.5M28.1 762.6h.5M17.2 745.7h.5M27.0 706.7h.5M27.8 664.3h.5M19.6 711.7h.5M25.7 702.2h.5M19.0 762.7h.5M20.5 698.0h.5M17.8 707.2h.5M131.5 731.6h.5M136.3 737.0h.5M130.4 780.6h.5M135.0 710.6h.5M136.0 652.8h.5M133.9 751.0h.5M135.4 734.7h.5M129.3 706.5h.5M131.1 725.3h.5M132.2 703.3h.5M190.1 731.8h.5M190.9 673.0h.5M191.8 684.8h.5" stroke="#1f77b4" stroke-width=".5" opacity=".65" fill="none"/>
<path d="M38.3 710.0h.5M34.9 705.5h.5M33.1 713.2h.5M31.1 711.3h.5M35.9 711.9h.5M32.2 707.7h.5M34.1 718.0h.5M30.1 704.1h.5M34.4 701.1h.5M29.9 702.3h.5M38.0 716.2h.5M32.2 711.9h.5M36.4 711.6h.5M36.7 705.6h.5M35.1 711.6h.5M38.6 706.9h.5M32.8 712.3h.5M36.5 722.1h.5M35.4 712.2h.5M32.0 709.5h.5M34.3 709.6h.5M36.0 713.6h.5M32.2 706.7h.5M36.6 709.7h.5M36.3 710.8h.5M32.3 705.1h.5M30.2 701.5h.5M33.9 708.8h.5M36.9 707.4h.5M31.8 713.6h.5M32.1 709.3h.5M37.1 707.0h.5M31.7 720.2h.5M33.8 704.7h.5M33.6 701.0h.5M39.1 712.8h.5M33.6 717.1h.5M39.4 704.7h.5M33.0 714.0h.5M30.2 719.2h.5M33.5 707.3h.5M29.9 712.7h.5M33.2 712.1h.5M31.9 709.4h.5M37.7 699.5h.5M34.4 703.3h.5M33.3 716.9h.5M30.2 703.3h.5M30.3 732.8h.5M32.3 713.7h.5M38.4 708.2h.5M35.7 712.9h.5M36.7 718.1h.5M37.1 715.3h.5M30.1 706.9h.5M34.4 720.3h.5M32.3 707.1h.5M34.6 712.4h.5M36.9 708.8h.5M37.2 707.0h.5M33.3 707.6h.5M30.6 712.3h.5M30.5 700.7h.5M39.2 708.7h.5M39.3 714.6h.5M34.6 708.8h.5M33.8 705.5h.5M36.3 709.9h.5M31.0 701.7h.5M32.7 706.2h.5M31.8 708.3h.5M32.2 715.1h.5M33.0 717.3h.5M39.3 706.9h.5M36.1 709.8h.5M30.9 702.1h.5M38.6 708.5h.5M31.7 712.1h.5M35.4 713.7h.5M34.2 708.2h.5M37.3 711.9h.5M35.8 709.3h.5M33.4 711.8h.5M35.6 712.2h.5M31.8 713.8h.5M31.6 710.3h.5M31.8 696.7h.5M30.8 705.7h.5M30.7 713.3h.5M36.5 707.0h.5M38.9 711.9h.5M35.3 707.2h.5M39.4 713.5h.5M31.8 702.6h.5M38.5 702.9h.5M38.3 713.7h.5M31.4 715.4h.5M38.5 702.4h.5M34.7 707.1h.5M32.6 706.7h.5M34.5 713.8h.5M31.1 699.4h.5M39.2 708.6h.5M33.6 710.1h.5M35.8 711.1h.5M32.0 707.7h.5M37.9 711.3h.5M33.7 707.6h.5M33.5 712.3h.5M38.4 692.9h.5M30.2 707.2h.5M31.0 705.6h.5M32.8 706.8h.5M35.4 704.4h.5M34.0 700.6h.5M32.1 706.6h.5M37.3 707.4h.5M30.9 710.7h.5M39.9 731.9h.5M38.8 730.5h.5M38.9 727.2h.5M38.9 720.6h.5M39.7 730.2h.5M41.4 727.3h.5M40.9 732.2h.5M41.3 739.4h.5M39.2 703.3h.5M39.7 728.1h.5M39.5 725.5h.5M39.1 718.3h.5M39.4 727.8h.5M39.6 730.6h.5M41.3 728.6h.5M41.1 744.8h.5M40.2 725.3h.5M40.2 724.9h.5M41.1 738.7h.5M39.8 736.3h.5M39.4 733.6h.5M40.8 727.6h.5M39.2 727.9h.5M39.4 726.6h.5M41.4 722.5h.5M38.7 737.0h.5M39.9 732.8h.5M41.1 730.1h.5M38.8 724.8h.5M39.7 729.6h.5M40.3 725.5h.5M40.0 726.4h.5M41.3 734.2h.5M40.4 733.2h.5M39.4 719.3h.5M39.7 723.6h.5M44.0 733.8h.5M45.1 716.3h.5M43.5 727.6h.5M44.2 726.6h.5M43.3 729.1h.5M44.5 732.9h.5M43.4 736.0h.5M45.0 710.2h.5M44.9 727.2h.5M44.0 722.5h.5M43.2 727.4h.5M44.7 728.5h.5M44.9 726.5h.5M44.0 724.0h.5M44.2 726.7h.5M43.5 733.4h.5M43.0 727.1h.5M45.2 730.4h.5M43.7 730.1h.5M45.1 724.7h.5M44.6 721.2h.5M44.9 717.0h.5M45.0 720.9h.5M43.7 730.0h.5M44.4 735.6h.5M43.0 736.4h.5M43.3 743.6h.5M44.4 729.0h.5M44.7 732.6h.5M44.9 729.6h.5M45.0 735.2h.5M45.2 728.8h.5M42.0 713.0h.5M43.5 705.7h.5M42.5 726.1h.5M42.3 715.2h.5M42.7 714.3h.5M43.3 711.4h.5M42.5 716.0h.5M43.1 700.9h.5M43.4 713.4h.5M43.3 708.1h.5M42.1 710.3h.5M42.3 713.9h.5M43.8 698.2h.5M43.4 711.3h.5M42.9 706.3h.5M43.7 717.7h.5M42.3 698.7h.5M43.1 717.6h.5M43.4 714.7h.5M42.6 707.5h.5M42.1 713.5h.5M42.0 711.9h.5M42.9 714.2h.5M43.6 711.5h.5M43.3 715.8h.5M43.1 708.8h.5M142.2 702.1h.5M137.7 708.6h.5M143.7 707.4h.5M140.8 703.9h.5M145.0 712.6h.5M141.5 709.1h.5M138.3 713.5h.5M139.1 714.0h.5M141.5 710.8h.5M144.4 704.6h.5M145.0 712.7h.5M145.0 710.1h.5M141.5 709.9h.5M137.9 711.3h.5M142.2 700.7h.5M139.9 706.3h.5M142.2 702.1h.5M139.9 708.0h.5M139.4 713.5h.5M137.4 703.3h.5M141.1 718.8h.5M142.7 704.9h.5M145.3 694.7h.5M137.3 700.2h.5M141.7 689.8h.5M141.8 715.0h.5M137.0 711.1h.5M137.7 712.9h.5M139.1 714.1h.5M145.0 706.8h.5M142.8 717.7h.5M137.8 713.6h.5M139.1 712.8h.5M144.9 713.6h.5M145.3 705.8h.5M143.0 705.9h.5M139.9 713.0h.5M138.2 708.4h.5M141.8 711.1h.5M141.7 707.9h.5M140.3 709.8h.5M140.4 710.9h.5M143.8 717.5h.5M137.6 706.1h.5M143.3 710.9h.5M142.5 712.7h.5M144.7 706.3h.5M138.4 711.9h.5M137.6 711.1h.5M140.4 708.5h.5M138.9 715.1h.5M139.4 706.1h.5M140.5 718.7h.5M137.2 716.3h.5M138.2 716.1h.5M137.3 709.9h.5M143.1 709.3h.5M142.5 705.3h.5M142.5 723.2h.5M138.7 714.7h.5M142.7 714.2h.5M142.5 710.2h.5M140.2 708.6h.5M137.4 706.1h.5M145.3 712.1h.5M141.0 709.4h.5M142.5 702.5h.5M144.8 710.5h.5M140.9 713.4h.5M142.7 714.2h.5M141.7 711.6h.5M143.6 708.7h.5M141.8 711.6h.5M139.8 708.9h.5M139.2 706.5h.5M140.6 712.2h.5M144.2 710.4h.5M138.2 697.7h.5M140.1 709.5h.5M139.8 720.5h.5M144.6 700.1h.5M144.2 700.7h.5M144.9 704.3h.5M138.5 705.4h.5M140.0 709.7h.5M141.8 710.9h.5M141.1 713.7h.5M142.5 712.4h.5M143.4 715.2h.5M143.5 707.1h.5M141.2 710.0h.5M139.3 704.8h.5M140.9 714.2h.5M138.6 706.5h.5M139.9 711.5h.5M143.1 711.2h.5M142.4 713.3h.5M142.2 702.1h.5M139.9 721.1h.5M142.5 712.5h.5M143.7 720.2h.5M143.6 709.9h.5M139.1 705.4h.5M142.9 716.9h.5M140.6 705.2h.5M195.9 714.2h.5M193.7 712.1h.5M195.6 713.6h.5M195.6 714.2h.5M193.2 705.3h.5M193.4 711.7h.5M195.9 711.4h.5M195.2 701.6h.5M195.6 714.9h.5M193.0 711.8h.5M195.8 711.2h.5M195.1 715.4h.5M193.2 711.4h.5M194.2 706.5h.5M193.2 718.5h.5M194.8 711.4h.5M195.8 711.8h.5M195.2 708.7h.5M195.9 708.6h.5M193.3 709.1h.5M194.8 709.1h.5M195.8 710.1h.5M193.2 713.7h.5M195.6 704.6h.5M194.7 704.7h.5M193.2 705.5h.5M194.9 712.1h.5M195.3 711.3h.5M194.0 715.8h.5M194.6 709.0h.5M194.0 705.1h.5M194.8 712.6h.5M194.6 708.2h.5M192.9 714.7h.5M193.8 703.8h.5M194.8 705.7h.5M193.7 705.0h.5M195.2 710.0h.5M194.0 710.1h.5M195.7 718.5h.5M40.8 689.6h.5M40.2 708.7h.5M30.2 776.6h.5M34.4 716.3h.5M44.7 667.2h.5M31.0 667.0h.5M32.4 760.5h.5M37.9 643.4h.5M34.2 711.3h.5M32.7 681.6h.5M43.9 701.6h.5M33.6 723.8h.5M31.7 712.5h.5M40.0 650.1h.5M38.4 682.1h.5M41.4 726.4h.5M44.0 725.2h.5M32.8 664.1h.5M141.9 722.4h.5M144.8 678.1h.5M139.6 664.0h.5M138.3 760.2h.5M145.1 655.5h.5M140.4 768.1h.5M144.6 778.9h.5M145.7 681.2h.5M137.9 673.4h.5M141.6 639.5h.5M192.8 758.6h.5M195.2 764.4h.5M193.7 675.5h.5" stroke="#ff7f0e" stroke-width=".5" opacity=".65" fill="none"/>
<path d="M56.3 712.8h.5M55.0 711.9h.5M52.8 713.7h.5M51.3 712.0h.5M49.2 707.5h.5M56.3 711.1h.5M49.5 711.7h.5M47.3 708.3h.5M54.8 714.6h.5M50.2 709.2h.5M55.7 709.2h.5M53.6 712.6h.5M45.6 713.7h.5M55.6 707.9h.5M51.3 704.9h.5M53.2 703.8h.5M50.9 713.6h.5M55.1 706.9h.5M56.8 711.1h.5M54.4 713.5h.5M51.2 704.5h.5M53.5 713.3h.5M54.6 712.2h.5M48.5 705.4h.5M50.6 711.8h.5M57.5 712.2h.5M50.3 715.4h.5M58.1 714.9h.5M55.5 710.9h.5M52.0 714.2h.5M54.7 713.0h.5M53.6 712.1h.5M57.7 705.1h.5M54.2 704.0h.5M58.2 714.2h.5M45.9 720.6h.5M50.7 703.8h.5M48.7 712.8h.5M55.0 714.5h.5M55.8 707.7h.5M48.0 714.8h.5M53.6 715.0h.5M52.6 711.3h.5M53.6 720.6h.5M56.0 706.1h.5M46.8 710.4h.5M49.9 711.6h.5M48.5 706.9h.5M47.6 716.5h.5M48.4 709.8h.5M51.5 704.1h.5M50.0 712.3h.5M56.5 717.2h.5M55.5 712.5h.5M56.2 708.2h.5M57.8 702.7h.5M47.1 710.4h.5M47.2 717.0h.5M55.6 714.1h.5M55.5 717.5h.5M57.0 711.6h.5M54.3 701.7h.5M55.0 701.4h.5M48.7 713.0h.5M47.0 708.2h.5M47.1 709.7h.5M51.8 704.3h.5M56.3 704.2h.5M56.3 710.7h.5M50.7 711.3h.5M53.6 696.8h.5M57.5 705.5h.5M58.2 704.7h.5M45.6 709.3h.5M53.4 705.1h.5M51.4 716.9h.5M55.4 710.8h.5M52.5 714.1h.5M49.0 711.7h.5M48.8 705.8h.5M58.1 705.3h.5M49.4 703.4h.5M52.9 695.2h.5M54.7 700.5h.5M49.1 712.4h.5M53.2 709.8h.5M55.6 714.6h.5M53.5 706.5h.5M53.1 708.4h.5M51.2 706.9h.5M46.5 710.1h.5M57.3 710.7h.5M50.0 713.0h.5M48.6 702.9h.5M50.7 707.7h.5M57.5 706.8h.5M46.7 709.1h.5M52.8 703.8h.5M50.3 701.2h.5M51.5 704.1h.5M46.5 707.8h.5M45.4 707.4h.5M58.0 713.6h.5M45.4 708.0h.5M48.4 702.6h.5M55.4 707.7h.5M46.3 701.4h.5M54.6 700.0h.5M57.9 712.1h.5M45.3 715.9h.5M46.2 710.2h.5M54.8 713.9h.5M46.0 717.0h.5M52.8 703.7h.5M55.7 712.1h.5M53.7 706.6h.5M55.6 706.4h.5M55.6 705.9h.5M58.1 707.3h.5M53.2 701.9h.5M56.2 706.7h.5M56.9 707.5h.5M54.2 702.3h.5M48.9 708.7h.5M52.9 714.1h.5M56.9 717.5h.5M56.6 711.8h.5M48.8 714.3h.5M57.3 703.4h.5M46.3 702.4h.5M55.1 707.1h.5M48.3 704.6h.5M47.9 705.6h.5M55.1 697.9h.5M55.8 710.1h.5M57.0 706.5h.5M52.1 704.0h.5M47.7 710.5h.5M54.4 706.0h.5M52.0 713.9h.5M45.8 709.5h.5M53.5 710.2h.5M49.7 707.2h.5M45.4 722.5h.5M51.6 712.4h.5M48.6 710.5h.5M55.3 705.2h.5M57.9 709.6h.5M47.6 723.0h.5M56.7 711.4h.5M57.7 711.0h.5M50.4 717.8h.5M52.6 708.8h.5M57.8 707.6h.5M47.3 705.9h.5M58.3 709.9h.5M49.8 710.8h.5M57.1 710.3h.5M54.6 708.5h.5M58.2 711.9h.5M57.6 710.5h.5M49.1 699.6h.5M56.5 728.6h.5M56.3 730.9h.5M56.2 728.4h.5M56.3 735.6h.5M57.3 727.3h.5M57.2 737.9h.5M57.3 732.0h.5M56.5 723.6h.5M56.7 727.0h.5M56.1 726.9h.5M56.8 734.0h.5M56.6 735.5h.5M56.4 730.7h.5M56.7 725.4h.5M57.3 748.7h.5M57.2 727.2h.5M56.4 726.1h.5M56.3 720.0h.5M57.3 722.9h.5M56.1 737.5h.5M148.1 730.7h.5M147.9 727.5h.5M151.8 723.9h.5M148.9 735.3h.5M151.3 726.5h.5M149.0 729.5h.5M150.1 728.0h.5M148.6 715.1h.5M148.3 733.2h.5M150.3 728.3h.5M150.2 728.8h.5M147.4 733.8h.5M150.0 720.5h.5M148.2 731.7h.5M150.1 728.8h.5M146.8 728.8h.5M148.5 731.6h.5M146.8 731.2h.5M147.7 727.7h.5M148.6 735.4h.5M147.8 729.8h.5M149.3 729.4h.5M147.6 727.9h.5M151.3 730.9h.5M151.4 726.8h.5M149.0 735.2h.5M146.6 729.8h.5M146.6 731.4h.5M149.5 730.2h.5M150.8 715.9h.5M149.5 726.7h.5M148.5 729.9h.5M148.4 725.7h.5M150.2 724.5h.5M152.5 726.5h.5M149.6 729.5h.5M148.2 730.2h.5M152.5 724.7h.5M148.7 731.3h.5M149.0 733.4h.5M147.6 729.2h.5M148.6 723.4h.5M146.2 730.0h.5M150.6 738.7h.5M149.2 728.8h.5M150.7 730.5h.5M150.4 731.9h.5M149.5 732.5h.5M149.7 731.3h.5M146.9 731.7h.5M150.6 722.3h.5M149.9 726.3h.5M149.0 730.7h.5M148.5 723.1h.5M152.6 713.6h.5M150.2 737.8h.5M151.0 730.1h.5M151.8 731.5h.5M146.1 735.2h.5M149.0 731.2h.5M151.9 722.2h.5M152.1 727.5h.5M146.5 724.0h.5M147.1 726.4h.5M147.9 736.2h.5M152.7 723.5h.5M151.4 726.1h.5M151.0 737.6h.5M146.6 732.8h.5M151.9 725.5h.5M150.8 720.6h.5M147.3 729.7h.5M147.9 727.7h.5M150.7 719.9h.5M147.5 730.2h.5M149.5 738.4h.5M146.2 728.1h.5M148.4 720.9h.5M148.4 727.3h.5M149.6 721.7h.5M152.2 722.9h.5M147.4 728.9h.5M148.4 728.7h.5M150.3 726.2h.5M148.6 725.3h.5M196.6 747.7h.5M202.4 747.6h.5M200.1 747.3h.5M203.4 746.0h.5M201.5 750.8h.5M196.2 750.2h.5M201.4 753.2h.5M200.4 745.8h.5M198.6 738.5h.5M195.9 750.6h.5M197.8 744.7h.5M204.7 744.8h.5M196.8 754.9h.5M202.1 749.6h.5M196.3 740.6h.5M196.3 750.8h.5M204.5 745.9h.5M204.7 747.6h.5M202.1 749.0h.5M203.6 746.6h.5M197.3 735.5h.5M196.5 738.4h.5M204.3 742.2h.5M199.1 747.1h.5M200.3 754.4h.5M204.5 750.2h.5M196.6 752.0h.5M200.6 746.4h.5M205.3 745.8h.5M204.5 744.5h.5M202.7 748.5h.5M198.5 742.4h.5M197.4 751.6h.5M202.2 751.5h.5M198.5 749.7h.5M198.8 752.6h.5M203.3 743.9h.5M200.5 742.6h.5M200.9 751.1h.5M198.9 754.4h.5M201.3 741.6h.5M199.6 747.9h.5M196.1 747.6h.5M204.6 749.3h.5M197.4 750.5h.5M202.1 745.6h.5M203.0 747.5h.5M203.1 756.5h.5M198.3 753.9h.5M204.3 746.4h.5M204.3 737.9h.5M201.0 753.5h.5M198.4 749.4h.5M204.8 754.7h.5M205.2 761.4h.5M199.3 752.9h.5M203.2 750.6h.5M198.6 749.6h.5M204.1 763.5h.5M199.6 746.5h.5M201.7 739.8h.5M199.0 751.2h.5M202.2 769.3h.5M199.4 752.6h.5M205.2 763.1h.5M201.3 748.2h.5M205.1 745.8h.5M203.4 754.8h.5M203.8 746.1h.5M201.9 747.0h.5M199.0 746.0h.5M203.4 782.3h.5M196.5 747.5h.5M199.3 749.9h.5M204.1 742.4h.5M200.3 747.1h.5M198.6 743.5h.5M197.3 747.6h.5M203.5 747.0h.5M197.2 749.0h.5M196.4 746.9h.5M199.9 746.4h.5M200.1 744.6h.5M198.6 750.5h.5M197.7 752.0h.5M202.8 743.7h.5M204.7 744.7h.5M200.0 746.2h.5M202.3 753.2h.5M202.7 747.1h.5M202.8 752.9h.5M200.0 750.2h.5M197.7 749.4h.5M202.2 743.3h.5M198.3 756.3h.5M197.3 746.0h.5M203.6 743.2h.5M200.0 743.5h.5M196.8 744.4h.5M204.9 759.6h.5M203.3 751.1h.5M200.8 745.2h.5M197.9 752.9h.5M205.0 753.1h.5M204.2 741.2h.5M197.2 757.0h.5M201.8 747.0h.5M200.0 751.7h.5M197.1 752.7h.5M201.4 750.9h.5M198.6 745.8h.5M197.9 745.1h.5M196.7 744.0h.5M200.9 749.6h.5M198.8 745.7h.5M198.1 746.3h.5M202.7 746.3h.5M204.9 748.4h.5M54.1 754.6h.5M46.1 697.6h.5M48.9 704.9h.5M56.2 718.3h.5M54.6 748.0h.5M48.8 726.8h.5M50.0 705.9h.5M52.0 733.8h.5M47.5 758.6h.5M47.4 682.6h.5M56.0 779.9h.5M49.9 775.1h.5M45.8 775.5h.5M47.9 642.4h.5M147.6 705.7h.5M150.7 659.7h.5M146.7 685.1h.5M146.4 655.0h.5M146.5 753.0h.5M152.1 643.5h.5M151.6 759.4h.5M150.5 680.7h.5M202.8 658.5h.5M205.4 731.8h.5M201.3 644.8h.5M198.7 698.6h.5M205.6 658.3h.5M201.8 648.6h.5M205.5 745.4h.5M203.9 745.7h.5M197.7 672.2h.5M196.3 717.1h.5M196.8 664.6h.5" stroke="#2ca02c" stroke-width=".5" opacity=".65" fill="none"/>
<path d="M61.9 713.8h.5M62.5 712.9h.5M58.4 715.6h.5M63.6 708.5h.5M61.0 710.9h.5M67.6 712.0h.5M60.7 714.7h.5M64.3 713.9h.5M60.9 707.9h.5M65.3 708.7h.5M59.2 712.6h.5M59.1 708.7h.5M62.4 717.7h.5M58.6 705.8h.5M64.1 715.4h.5M68.3 710.6h.5M60.3 723.7h.5M64.6 708.2h.5M66.9 714.8h.5M68.7 710.1h.5M67.3 732.1h.5M64.3 705.4h.5M64.7 712.2h.5M61.1 712.8h.5M59.6 733.3h.5M59.6 706.2h.5M65.5 708.4h.5M59.6 710.6h.5M66.9 715.2h.5M64.4 713.7h.5M59.9 711.1h.5M68.6 714.3h.5M65.2 713.0h.5M69.5 710.5h.5M63.4 715.8h.5M69.6 708.6h.5M62.4 713.3h.5M70.1 716.9h.5M69.3 693.5h.5M64.6 722.7h.5M63.4 710.4h.5M62.7 711.4h.5M64.4 731.7h.5M67.6 721.8h.5M65.9 716.3h.5M58.8 704.7h.5M61.6 711.5h.5M69.4 709.9h.5M61.4 708.5h.5M61.8 712.5h.5M66.1 717.2h.5M64.5 717.0h.5M63.9 710.7h.5M60.0 712.5h.5M63.2 721.0h.5M64.9 716.2h.5M66.1 708.1h.5M66.8 707.8h.5M64.0 714.4h.5M61.3 714.0h.5M65.4 699.9h.5M61.2 719.9h.5M64.2 710.3h.5M67.6 725.5h.5M59.2 704.5h.5M63.0 719.7h.5M61.1 719.9h.5M62.4 711.3h.5M66.4 706.8h.5M64.6 707.4h.5M67.2 713.3h.5M66.8 708.2h.5M59.9 713.3h.5M65.4 712.7h.5M69.8 709.0h.5M68.8 711.1h.5M62.9 708.5h.5M61.9 714.4h.5M65.0 710.2h.5M68.5 715.6h.5M63.7 714.5h.5M65.2 716.4h.5M59.4 716.4h.5M68.4 711.2h.5M60.8 723.8h.5M59.0 708.4h.5M67.6 711.0h.5M70.3 707.9h.5M63.0 712.5h.5M65.5 706.8h.5M64.6 705.2h.5M65.1 716.1h.5M68.9 717.9h.5M65.8 711.9h.5M62.5 705.3h.5M62.2 711.5h.5M68.2 711.0h.5M66.6 712.9h.5M70.2 716.5h.5M61.8 710.1h.5M64.4 714.1h.5M65.6 715.6h.5M70.2 712.2h.5M67.8 712.1h.5M66.6 716.7h.5M65.4 713.1h.5M60.7 707.6h.5M66.1 713.1h.5M70.3 709.1h.5M60.3 711.0h.5M59.7 715.2h.5M68.2 714.6h.5M68.0 713.7h.5M62.2 713.3h.5M62.6 720.6h.5M69.1 709.6h.5M63.0 724.3h.5M69.8 709.4h.5M65.8 713.0h.5M68.6 714.3h.5M69.1 714.5h.5M69.8 709.7h.5M69.7 713.2h.5M61.0 717.3h.5M68.8 705.4h.5M60.5 713.8h.5M60.6 716.5h.5M59.8 712.4h.5M63.0 711.7h.5M68.2 713.9h.5M61.3 714.3h.5M58.8 716.3h.5M62.5 727.3h.5M61.6 714.2h.5M68.3 711.1h.5M60.3 708.9h.5M69.8 718.5h.5M69.7 710.0h.5M60.0 712.9h.5M61.5 717.7h.5M61.3 709.7h.5M60.9 714.6h.5M64.9 711.5h.5M67.6 708.3h.5M62.1 717.2h.5M59.4 716.8h.5M153.8 708.9h.5M155.3 713.0h.5M157.4 705.6h.5M158.3 708.1h.5M157.7 718.6h.5M156.3 705.4h.5M154.4 700.9h.5M156.8 712.1h.5M156.1 712.8h.5M154.9 707.9h.5M156.9 709.0h.5M156.7 710.7h.5M155.0 711.9h.5M156.9 704.8h.5M158.3 707.9h.5M157.1 716.8h.5M156.0 708.8h.5M157.8 710.5h.5M157.0 710.1h.5M158.8 710.4h.5M155.3 702.0h.5M155.6 710.5h.5M156.0 693.2h.5M155.1 710.8h.5M157.8 713.0h.5M154.0 696.4h.5M156.2 714.2h.5M154.2 708.5h.5M156.8 706.0h.5M158.6 712.0h.5M154.8 702.8h.5M157.6 715.4h.5M156.5 707.4h.5M158.8 694.9h.5M159.5 699.5h.5M158.7 706.0h.5M154.6 708.2h.5M155.0 716.8h.5M157.6 709.8h.5M155.7 709.6h.5M155.8 714.8h.5M158.4 714.9h.5M157.0 711.1h.5M154.2 708.3h.5M154.0 709.7h.5M156.1 706.3h.5M156.2 714.1h.5M159.4 714.0h.5M156.3 711.9h.5M157.6 721.5h.5M156.1 701.4h.5M154.1 702.0h.5M156.4 713.1h.5M155.4 713.3h.5M159.2 714.6h.5M155.2 706.1h.5M156.4 713.5h.5M157.9 715.0h.5M155.6 709.4h.5M153.9 708.7h.5M153.9 711.9h.5M155.1 712.0h.5M156.8 711.2h.5M158.6 707.5h.5M158.7 710.1h.5M159.3 708.4h.5M157.3 706.5h.5M157.8 704.5h.5M156.7 706.7h.5M156.3 709.2h.5M155.4 715.9h.5M154.3 711.9h.5M154.5 705.5h.5M206.4 755.0h.5M206.9 745.2h.5M205.8 746.8h.5M206.9 744.5h.5M205.8 748.1h.5M206.4 755.2h.5M206.5 749.0h.5M207.1 737.4h.5M207.1 750.2h.5M206.9 745.7h.5M205.6 749.1h.5M205.8 747.9h.5M206.5 746.2h.5M207.0 746.9h.5M207.0 754.9h.5M206.7 746.0h.5M207.1 746.7h.5M206.0 751.5h.5M206.8 742.9h.5M206.1 750.5h.5M206.9 760.9h.5M205.6 749.1h.5M205.6 751.0h.5M206.7 746.6h.5M67.0 660.7h.5M66.9 638.3h.5M59.3 689.0h.5M58.9 705.5h.5M62.0 744.2h.5M63.8 777.0h.5M68.0 662.1h.5M68.9 766.8h.5M64.6 713.5h.5M59.9 683.7h.5M60.5 665.7h.5M65.2 684.2h.5M67.1 720.2h.5M67.8 650.0h.5M158.6 649.1h.5M153.3 775.4h.5M154.5 769.7h.5M158.1 644.1h.5M153.7 730.8h.5M154.0 733.7h.5M157.6 670.8h.5M156.2 668.0h.5M206.4 770.4h.5M208.7 678.6h.5M209.4 660.4h.5M206.3 692.5h.5" stroke="#d62728" stroke-width=".5" opacity=".65" fill="none"/>
<path d="M77.7 700.3h.5M75.9 708.4h.5M71.0 708.8h.5M78.3 712.8h.5M74.8 716.2h.5M79.9 706.0h.5M73.4 716.4h.5M74.2 711.2h.5M77.7 709.0h.5M74.2 706.9h.5M72.3 717.1h.5M78.3 716.3h.5M72.5 710.6h.5M74.6 713.6h.5M72.3 710.9h.5M76.7 709.3h.5M78.0 706.8h.5M70.3 713.7h.5M70.8 703.6h.5M77.1 712.4h.5M79.2 712.3h.5M71.3 719.2h.5M74.7 709.9h.5M71.3 701.9h.5M75.0 716.0h.5M79.6 707.2h.5M75.4 716.3h.5M76.0 712.2h.5M71.7 710.1h.5M79.3 708.7h.5M76.4 716.0h.5M73.1 702.9h.5M72.5 713.4h.5M71.8 708.3h.5M73.0 703.8h.5M75.3 713.7h.5M80.2 708.4h.5M76.6 706.0h.5M78.8 716.8h.5M77.8 706.1h.5M79.6 707.4h.5M72.6 708.6h.5M78.2 712.8h.5M71.6 707.8h.5M72.2 744.1h.5M78.7 703.7h.5M76.6 698.3h.5M72.4 710.3h.5M70.4 715.4h.5M80.8 707.0h.5M73.1 716.0h.5M79.0 711.9h.5M77.4 706.9h.5M80.7 713.7h.5M78.6 716.6h.5M72.4 711.7h.5M76.5 706.6h.5M79.6 710.1h.5M77.3 711.2h.5M78.2 718.6h.5M75.9 704.2h.5M73.6 708.4h.5M72.1 709.1h.5M81.2 711.0h.5M72.4 710.6h.5M70.3 714.6h.5M75.1 702.9h.5M77.7 705.5h.5M75.2 709.6h.5M79.5 712.1h.5M75.3 708.5h.5M74.2 710.6h.5M75.4 711.7h.5M80.5 717.7h.5M77.2 701.3h.5M71.0 707.4h.5M76.7 704.7h.5M75.7 707.8h.5M80.2 716.2h.5M75.3 704.3h.5M76.8 706.5h.5M76.2 705.6h.5M72.3 701.1h.5M79.9 709.9h.5M73.1 711.9h.5M76.5 724.2h.5M76.0 708.5h.5M71.1 709.1h.5M80.0 703.5h.5M71.6 707.9h.5M78.4 716.5h.5M72.2 714.8h.5M76.6 710.3h.5M70.9 707.7h.5M74.5 715.7h.5M73.6 710.5h.5M75.1 714.6h.5M76.6 706.1h.5M80.0 713.5h.5M78.8 716.2h.5M79.5 713.0h.5M80.9 712.9h.5M70.8 708.4h.5M79.3 724.7h.5M73.1 707.1h.5M75.3 697.6h.5M70.5 715.9h.5M76.5 714.9h.5M78.0 708.2h.5M76.3 711.6h.5M79.3 710.7h.5M72.0 709.8h.5M80.1 710.3h.5M79.5 708.9h.5M74.7 707.5h.5M74.7 710.4h.5M77.1 713.4h.5M80.3 711.7h.5M70.8 711.9h.5M76.8 713.5h.5M74.3 715.6h.5M70.5 710.2h.5M81.3 712.3h.5M73.3 710.7h.5M75.9 709.6h.5M81.0 715.5h.5M70.7 703.1h.5M79.0 707.2h.5M77.4 707.7h.5M80.1 712.6h.5M77.9 707.6h.5M76.0 716.9h.5M74.2 706.5h.5M74.1 704.3h.5M74.4 721.5h.5M72.9 714.8h.5M80.0 705.5h.5M73.7 711.3h.5M163.0 709.9h.5M165.1 706.6h.5M165.6 720.9h.5M161.7 702.5h.5M163.6 714.9h.5M164.7 724.9h.5M160.7 712.4h.5M163.6 708.6h.5M162.8 710.2h.5M160.8 708.8h.5M163.8 710.2h.5M165.5 709.5h.5M162.6 706.0h.5M163.8 715.4h.5M163.4 707.9h.5M165.5 710.4h.5M165.7 702.6h.5M164.3 712.4h.5M165.4 715.1h.5M164.5 703.0h.5M162.0 705.4h.5M164.9 716.3h.5M161.2 713.8h.5M162.1 720.5h.5M161.5 716.3h.5M162.1 712.8h.5M162.4 700.8h.5M160.3 712.3h.5M162.3 721.6h.5M161.6 724.7h.5M163.4 714.6h.5M161.6 708.1h.5M165.6 721.8h.5M160.9 711.2h.5M164.7 709.9h.5M163.3 711.6h.5M161.7 708.4h.5M161.3 709.2h.5M163.7 705.2h.5M165.3 712.8h.5M165.3 705.5h.5M160.8 707.3h.5M163.8 716.5h.5M165.4 711.5h.5M164.4 706.1h.5M160.9 704.9h.5M164.0 705.3h.5M161.0 714.0h.5M165.4 714.4h.5M162.7 712.3h.5M165.6 704.8h.5M160.7 709.9h.5M162.5 710.9h.5M162.5 715.1h.5M161.6 704.6h.5M162.9 705.8h.5M162.0 714.5h.5M165.7 720.2h.5M160.8 714.9h.5M164.1 712.2h.5M164.8 703.2h.5M162.4 725.9h.5M163.2 707.1h.5M160.8 714.2h.5M164.6 708.9h.5M165.0 709.4h.5M164.4 719.1h.5M161.8 713.2h.5M164.8 713.2h.5M165.1 727.3h.5M165.1 731.9h.5M167.0 726.4h.5M163.5 731.0h.5M165.0 737.7h.5M162.9 720.5h.5M164.4 728.9h.5M164.1 738.8h.5M165.1 732.1h.5M164.3 730.3h.5M165.7 733.6h.5M165.7 726.2h.5M165.5 737.0h.5M167.0 720.5h.5M166.1 732.5h.5M165.7 727.4h.5M164.9 724.3h.5M165.2 731.7h.5M164.5 726.3h.5M79.6 710.8h.5M77.1 671.8h.5M77.8 696.1h.5M78.1 721.8h.5M71.5 680.8h.5M78.5 639.6h.5M77.1 716.2h.5M78.0 684.9h.5M75.3 706.3h.5M78.4 647.9h.5M75.7 674.9h.5M76.6 674.8h.5M72.2 670.8h.5M165.4 728.6h.5M164.3 727.2h.5M160.2 765.5h.5M164.8 711.8h.5M163.6 708.5h.5M164.7 714.4h.5M161.6 712.0h.5" stroke="#9467bd" stroke-width=".5" opacity=".65" fill="none"/>
<path d="M82.2 708.8h.5M87.5 713.5h.5M85.2 703.1h.5M83.4 698.9h.5M89.9 703.8h.5M90.9 714.5h.5M84.5 712.0h.5M81.7 711.7h.5M83.9 712.9h.5M83.7 703.1h.5M83.6 704.8h.5M92.0 708.6h.5M91.0 708.9h.5M83.0 712.0h.5M88.4 714.9h.5M83.8 706.7h.5M85.9 716.3h.5M85.2 714.0h.5M88.3 707.4h.5M84.3 714.3h.5M81.6 714.9h.5M82.1 707.5h.5M89.4 709.1h.5M83.0 711.7h.5M82.5 711.7h.5M87.9 705.8h.5M88.6 706.9h.5M84.3 707.7h.5M89.8 710.6h.5M92.1 706.3h.5M84.5 699.9h.5M81.6 708.5h.5M88.6 710.6h.5M84.0 705.9h.5M82.5 711.0h.5M86.9 707.4h.5M85.5 709.1h.5M83.4 709.2h.5M81.8 700.3h.5M84.1 715.0h.5M85.2 709.4h.5M86.5 731.3h.5M89.5 715.7h.5M90.9 699.6h.5M91.5 708.2h.5M88.3 710.5h.5M86.2 713.2h.5M83.7 710.3h.5M92.3 703.8h.5M87.7 714.7h.5M84.4 717.1h.5M90.4 709.2h.5M91.2 713.8h.5M88.9 706.1h.5M91.1 707.3h.5M91.1 705.2h.5M83.5 715.7h.5M92.3 712.3h.5M92.1 719.4h.5M89.5 718.1h.5M82.5 715.7h.5M91.5 708.1h.5M81.9 701.3h.5M90.1 709.5h.5M84.0 708.9h.5M82.6 723.0h.5M91.0 711.6h.5M86.8 713.0h.5M88.9 713.4h.5M89.5 707.9h.5M86.9 710.0h.5M85.3 712.4h.5M89.4 721.0h.5M83.4 714.1h.5M87.0 705.4h.5M81.6 713.0h.5M88.6 704.8h.5M92.2 708.5h.5M89.3 706.9h.5M92.1 712.2h.5M85.7 708.0h.5M81.6 711.3h.5M91.6 709.8h.5M84.1 715.9h.5M82.8 714.1h.5M82.0 703.7h.5M85.0 706.7h.5M92.1 709.5h.5M87.0 701.6h.5M92.3 710.6h.5M85.6 716.0h.5M85.8 704.1h.5M85.0 709.0h.5M87.4 711.0h.5M91.4 715.8h.5M89.3 705.1h.5M83.0 709.3h.5M87.2 704.8h.5M84.1 709.2h.5M90.4 704.0h.5M91.2 711.5h.5M82.0 704.0h.5M82.8 715.5h.5M84.2 713.2h.5M87.2 712.4h.5M82.5 698.4h.5M86.4 718.9h.5M90.2 710.1h.5M85.5 707.5h.5M84.1 707.3h.5M81.7 712.8h.5M87.7 712.5h.5M84.5 710.9h.5M84.1 710.9h.5M90.8 708.4h.5M86.1 711.6h.5M82.0 704.2h.5M85.5 709.1h.5M88.5 706.5h.5M85.3 705.7h.5M83.6 713.7h.5M89.2 705.6h.5M82.3 714.6h.5M85.6 705.0h.5M89.7 699.7h.5M86.5 707.3h.5M86.0 701.1h.5M86.8 711.5h.5M90.5 706.6h.5M81.9 703.8h.5M87.5 691.3h.5M83.9 719.4h.5M82.5 695.8h.5M88.9 697.7h.5M169.2 717.5h.5M167.4 708.2h.5M168.1 705.9h.5M169.1 716.7h.5M171.1 713.7h.5M171.1 710.7h.5M170.6 706.0h.5M166.4 713.6h.5M166.9 712.8h.5M169.2 713.0h.5M170.4 707.9h.5M170.5 710.2h.5M171.1 703.0h.5M170.8 711.2h.5M170.2 708.6h.5M170.6 714.1h.5M171.0 710.0h.5M169.8 707.0h.5M167.5 702.7h.5M169.0 715.9h.5M167.4 716.7h.5M169.7 715.7h.5M167.7 706.6h.5M168.6 717.6h.5M166.9 713.4h.5M166.9 710.4h.5M169.7 710.6h.5M170.8 716.7h.5M168.5 714.2h.5M170.3 711.1h.5M170.3 703.8h.5M168.1 709.0h.5M167.6 710.1h.5M167.6 707.3h.5M169.5 706.2h.5M171.1 710.8h.5M169.1 712.5h.5M166.6 707.8h.5M170.2 712.9h.5M168.7 714.1h.5M170.6 713.6h.5M169.5 707.7h.5M171.1 708.3h.5M167.6 707.2h.5M168.6 718.3h.5M168.6 705.4h.5M166.8 715.7h.5M168.3 707.4h.5M166.2 714.9h.5M170.5 703.8h.5M170.1 706.0h.5M170.4 711.2h.5M166.5 713.3h.5M168.3 709.9h.5M170.9 716.1h.5M166.6 695.9h.5M168.5 709.7h.5M168.3 707.7h.5M171.1 713.9h.5M169.0 707.4h.5M168.7 711.8h.5M171.4 707.4h.5M166.9 706.1h.5M167.3 716.5h.5M168.4 707.2h.5M166.4 707.1h.5M171.0 704.6h.5M167.7 715.3h.5M167.3 707.4h.5M166.2 733.6h.5M165.7 727.9h.5M165.7 723.8h.5M166.4 735.1h.5M166.7 728.1h.5M166.0 734.9h.5M165.4 730.8h.5M165.7 730.2h.5M165.5 723.0h.5M167.6 729.6h.5M166.0 731.7h.5M166.9 723.7h.5M166.7 735.6h.5M167.2 736.1h.5M166.3 734.5h.5M166.1 723.8h.5M165.5 733.0h.5M165.8 726.1h.5M167.6 734.0h.5M91.0 689.9h.5M90.8 743.7h.5M84.2 717.5h.5M81.4 772.3h.5M88.1 653.6h.5M86.9 708.9h.5M88.5 679.2h.5M91.1 727.4h.5M82.1 755.8h.5M90.8 681.3h.5M89.0 761.8h.5M90.8 647.5h.5M167.5 638.0h.5M169.2 763.3h.5M170.4 667.6h.5M169.1 721.7h.5M169.6 703.9h.5M169.2 736.9h.5" stroke="#8c564b" stroke-width=".5" opacity=".65" fill="none"/>
<path d="M98.9 704.7h.5M100.1 712.5h.5M93.7 721.1h.5M101.8 709.1h.5M94.8 713.0h.5M97.6 708.9h.5M95.3 714.8h.5M94.8 703.9h.5M92.9 705.6h.5M97.0 708.7h.5M95.8 710.6h.5M97.6 704.3h.5M96.2 714.5h.5M95.4 708.5h.5M99.1 717.2h.5M98.0 700.0h.5M100.7 695.3h.5M92.8 712.1h.5M93.0 707.4h.5M97.7 708.1h.5M97.1 706.7h.5M94.4 703.9h.5M93.7 705.9h.5M93.3 711.9h.5M98.6 699.3h.5M101.0 703.8h.5M99.0 717.5h.5M94.6 711.8h.5M95.4 707.3h.5M95.4 708.7h.5M93.8 713.3h.5M92.7 698.2h.5M98.5 723.3h.5M96.8 709.0h.5M93.4 705.1h.5M93.5 722.3h.5M97.4 703.0h.5M95.7 709.7h.5M93.2 704.6h.5M100.6 701.7h.5M93.7 708.4h.5M94.5 718.7h.5M92.7 700.5h.5M101.3 703.1h.5M92.8 707.3h.5M99.4 713.7h.5M99.8 709.2h.5M93.3 711.2h.5M99.9 702.7h.5M97.2 714.7h.5M97.9 713.2h.5M95.9 708.3h.5M101.3 707.4h.5M100.4 713.1h.5M93.3 706.1h.5M93.5 710.0h.5M96.8 712.4h.5M95.8 714.2h.5M96.2 710.3h.5M100.6 711.8h.5M100.8 719.9h.5M99.9 710.6h.5M98.9 710.6h.5M94.9 699.2h.5M95.1 712.9h.5M93.2 706.9h.5M99.8 708.2h.5M93.0 709.8h.5M92.8 715.5h.5M98.9 711.2h.5M96.8 706.0h.5M92.5 713.8h.5M93.2 708.0h.5M99.3 708.6h.5M93.7 707.4h.5M94.4 703.9h.5M99.9 719.9h.5M97.1 711.4h.5M98.4 700.4h.5M98.3 693.7h.5M99.2 708.2h.5M98.8 711.7h.5M93.6 714.4h.5M99.4 700.7h.5M100.0 705.8h.5M99.8 707.2h.5M95.2 714.8h.5M93.5 708.4h.5M99.8 709.5h.5M94.2 717.9h.5M94.6 700.3h.5M99.1 710.1h.5M99.8 711.4h.5M100.2 703.4h.5M93.2 704.9h.5M98.0 703.0h.5M99.9 710.0h.5M93.4 711.4h.5M96.7 705.5h.5M94.4 704.6h.5M95.1 707.4h.5M96.6 716.3h.5M100.0 721.1h.5M100.2 711.0h.5M95.8 712.8h.5M100.8 702.6h.5M97.1 703.8h.5M97.2 712.4h.5M93.9 709.4h.5M92.4 714.3h.5M100.1 718.9h.5M95.7 714.0h.5M97.2 712.9h.5M101.2 699.6h.5M98.3 699.5h.5M98.6 713.4h.5M95.9 703.2h.5M97.1 708.7h.5M174.7 715.3h.5M176.8 712.3h.5M174.6 709.6h.5M175.7 709.2h.5M174.6 713.0h.5M174.3 717.5h.5M174.2 709.4h.5M175.7 716.7h.5M174.1 709.6h.5M174.5 704.0h.5M175.5 711.5h.5M172.3 713.8h.5M175.5 708.0h.5M172.4 709.1h.5M172.6 713.0h.5M173.2 712.2h.5M176.6 708.8h.5M174.7 717.3h.5M176.7 711.0h.5M173.5 710.1h.5M174.0 711.1h.5M173.4 717.4h.5M172.9 706.6h.5M172.7 711.9h.5M174.8 706.9h.5M175.8 711.5h.5M173.6 716.9h.5M174.2 706.6h.5M172.5 700.4h.5M176.5 711.2h.5M173.0 709.6h.5M176.1 707.3h.5M172.8 714.4h.5M174.0 713.1h.5M172.0 710.0h.5M172.4 713.4h.5M175.9 694.7h.5M172.5 704.4h.5M175.7 700.5h.5M173.8 712.2h.5M173.6 719.2h.5M174.6 708.4h.5M172.4 714.6h.5M174.9 715.3h.5M175.8 709.8h.5M173.4 708.6h.5M172.0 706.3h.5M173.8 711.9h.5M173.4 705.7h.5M171.9 708.6h.5M175.3 710.4h.5M176.8 701.3h.5M175.4 695.5h.5M176.5 705.0h.5M173.2 718.1h.5M172.0 708.7h.5M176.9 710.1h.5M176.4 707.4h.5M174.8 713.3h.5M171.8 713.6h.5M172.1 712.3h.5M176.1 710.3h.5M172.0 708.6h.5M172.6 705.6h.5M175.9 716.3h.5M173.0 723.1h.5M171.7 731.0h.5M172.7 729.4h.5M172.5 728.2h.5M171.0 738.1h.5M171.7 724.4h.5M171.8 724.1h.5M172.3 718.3h.5M172.3 736.7h.5M169.8 732.1h.5M171.8 732.7h.5M171.7 732.7h.5M170.9 721.8h.5M170.5 733.7h.5M171.2 721.1h.5M170.7 734.3h.5M173.1 737.9h.5M172.1 719.8h.5M172.1 732.6h.5M171.6 733.8h.5M170.3 728.3h.5M169.7 731.0h.5M170.9 731.2h.5M100.5 673.2h.5M100.1 736.7h.5M96.8 767.8h.5M100.1 781.2h.5M101.7 720.2h.5M99.5 734.3h.5M96.1 709.5h.5M97.2 668.5h.5M94.7 759.5h.5M100.6 738.2h.5M99.0 711.1h.5M97.8 733.7h.5M176.5 711.9h.5M176.0 735.7h.5M172.6 674.8h.5M173.6 688.5h.5M174.5 679.9h.5M177.1 743.5h.5" stroke="#e377c2" stroke-width=".5" opacity=".65" fill="none"/>
<path d="M111.1 717.3h.5M107.2 712.5h.5M109.0 715.0h.5M102.2 705.3h.5M103.2 718.3h.5M107.5 707.0h.5M102.3 704.1h.5M104.5 714.1h.5M104.6 705.3h.5M108.0 708.4h.5M108.3 701.6h.5M108.4 717.2h.5M103.4 702.5h.5M105.2 706.0h.5M106.8 711.5h.5M103.5 707.9h.5M102.4 708.4h.5M111.0 713.7h.5M104.8 712.3h.5M106.0 708.9h.5M105.5 713.9h.5M104.4 712.3h.5M109.8 718.7h.5M109.3 708.7h.5M106.3 711.9h.5M108.2 709.7h.5M110.6 706.2h.5M104.6 707.4h.5M102.3 707.2h.5M107.3 703.5h.5M104.2 692.1h.5M108.3 707.5h.5M109.5 712.5h.5M111.1 712.0h.5M108.4 710.3h.5M108.9 705.4h.5M105.6 711.0h.5M110.2 705.9h.5M106.8 705.2h.5M105.1 698.5h.5M110.0 712.3h.5M107.4 705.0h.5M109.9 712.8h.5M109.8 713.4h.5M106.6 714.9h.5M110.4 709.3h.5M110.2 701.7h.5M108.6 707.9h.5M102.5 704.0h.5M109.7 709.2h.5M102.8 712.6h.5M111.1 710.9h.5M102.6 705.8h.5M105.0 715.7h.5M104.5 696.5h.5M109.5 712.1h.5M104.0 707.8h.5M105.1 706.9h.5M109.4 714.5h.5M109.8 696.9h.5M109.3 714.7h.5M102.5 710.5h.5M108.8 705.9h.5M107.5 707.4h.5M110.1 717.4h.5M105.0 709.4h.5M102.5 707.4h.5M108.4 710.0h.5M106.2 708.1h.5M104.6 712.0h.5M108.9 705.0h.5M108.6 709.2h.5M104.4 703.4h.5M109.0 707.2h.5M110.6 692.4h.5M103.8 718.2h.5M107.9 710.3h.5M105.2 712.8h.5M104.8 714.3h.5M110.4 713.2h.5M106.2 711.3h.5M109.3 710.9h.5M111.3 716.1h.5M109.7 705.6h.5M102.9 704.9h.5M104.3 724.2h.5M110.9 706.0h.5M106.0 709.2h.5M109.9 705.4h.5M102.0 710.9h.5M102.0 715.2h.5M109.3 708.4h.5M106.9 702.8h.5M110.3 715.0h.5M107.9 710.5h.5M105.5 704.8h.5M103.8 708.4h.5M107.4 705.2h.5M102.5 704.6h.5M102.4 705.4h.5M108.7 710.4h.5M108.0 707.9h.5M110.5 705.1h.5M102.5 710.5h.5M105.6 722.3h.5M109.7 696.2h.5M102.8 706.7h.5M102.3 710.2h.5M108.3 719.6h.5M107.9 712.6h.5M102.0 708.0h.5M102.9 716.3h.5M109.5 708.5h.5M106.7 715.6h.5M110.6 718.0h.5M109.7 705.2h.5M107.8 698.6h.5M102.4 706.2h.5M179.7 702.8h.5M177.5 710.3h.5M178.9 705.0h.5M178.8 712.3h.5M178.7 709.1h.5M180.3 706.3h.5M178.7 712.9h.5M177.0 717.1h.5M179.1 702.7h.5M177.2 716.4h.5M178.1 704.9h.5M180.7 705.8h.5M180.7 710.8h.5M181.0 714.3h.5M180.3 713.8h.5M177.6 716.6h.5M180.8 707.5h.5M181.3 705.8h.5M177.4 706.2h.5M181.3 707.6h.5M177.5 710.5h.5M178.5 713.9h.5M180.8 712.8h.5M181.4 716.2h.5M178.5 708.3h.5M179.9 708.7h.5M178.5 712.1h.5M177.7 710.5h.5M179.8 714.2h.5M179.7 707.0h.5M180.6 711.8h.5M181.2 712.8h.5M177.8 712.0h.5M178.8 712.2h.5M178.8 705.7h.5M181.2 710.7h.5M181.3 709.9h.5M180.2 721.9h.5M178.2 715.9h.5M180.2 716.7h.5M179.4 710.7h.5M180.1 712.6h.5M176.9 698.6h.5M178.1 711.9h.5M178.5 717.8h.5M178.3 709.2h.5M180.7 713.9h.5M181.1 705.5h.5M177.7 709.7h.5M179.7 715.2h.5M178.1 717.1h.5M177.1 709.2h.5M178.1 711.2h.5M178.6 708.2h.5M178.3 712.3h.5M181.6 711.7h.5M180.2 718.6h.5M181.6 715.7h.5M177.8 711.6h.5M181.3 710.0h.5M180.0 712.6h.5M102.2 701.5h.5M111.1 667.1h.5M106.4 648.5h.5M104.5 756.5h.5M102.4 752.9h.5M109.5 762.9h.5M104.5 772.1h.5M105.6 702.5h.5M110.9 716.1h.5M108.4 653.3h.5M102.2 675.6h.5M178.9 738.6h.5M181.6 660.4h.5M180.2 776.0h.5M178.9 764.3h.5M181.0 683.6h.5" stroke="#7f7f7f" stroke-width=".5" opacity=".65" fill="none"/>
<path d="M111.8 709.0h.5M111.9 713.8h.5M112.8 703.1h.5M113.5 708.1h.5M116.4 710.9h.5M112.5 708.9h.5M112.6 701.7h.5M114.3 710.2h.5M120.0 707.6h.5M111.8 711.9h.5M116.8 710.9h.5M115.6 705.0h.5M119.5 713.2h.5M118.5 717.0h.5M112.0 705.7h.5M118.9 702.0h.5M119.7 713.7h.5M117.7 709.9h.5M114.5 681.0h.5M117.3 714.2h.5M118.2 717.2h.5M114.0 698.2h.5M115.2 713.1h.5M119.5 710.4h.5M118.3 711.4h.5M116.2 714.3h.5M117.0 706.7h.5M116.3 712.5h.5M117.2 709.4h.5M119.7 702.0h.5M119.9 712.1h.5M119.4 708.9h.5M120.1 716.8h.5M115.4 707.4h.5M118.1 703.9h.5M113.9 716.5h.5M113.9 711.1h.5M117.2 704.7h.5M117.6 706.6h.5M112.3 710.7h.5M112.9 680.9h.5M117.6 710.4h.5M118.2 710.8h.5M115.2 711.8h.5M115.5 709.7h.5M114.6 708.1h.5M112.0 711.4h.5M118.5 707.3h.5M114.1 712.8h.5M113.1 710.2h.5M116.7 708.5h.5M112.5 707.7h.5M115.0 706.8h.5M112.3 713.5h.5M119.9 708.2h.5M117.8 714.9h.5M114.8 715.8h.5M112.7 710.1h.5M114.9 717.6h.5M113.6 711.0h.5M114.8 712.8h.5M115.7 710.9h.5M118.8 709.0h.5M112.0 708.0h.5M117.8 719.3h.5M113.2 713.3h.5M115.5 711.2h.5M115.7 711.1h.5M116.4 712.7h.5M116.5 711.3h.5M119.9 711.3h.5M116.2 708.4h.5M113.2 704.3h.5M114.0 714.2h.5M112.3 707.8h.5M114.4 711.7h.5M112.7 716.1h.5M115.8 710.3h.5M116.1 692.2h.5M116.3 711.3h.5M116.0 705.1h.5M118.5 706.2h.5M118.0 712.6h.5M113.3 706.8h.5M116.8 711.4h.5M112.0 709.0h.5M112.9 712.6h.5M119.7 716.7h.5M117.5 720.4h.5M115.8 710.8h.5M119.8 696.7h.5M113.6 710.6h.5M113.4 714.7h.5M119.9 710.0h.5M115.2 723.6h.5M114.9 727.6h.5M116.9 709.7h.5M117.8 714.7h.5M113.8 717.9h.5M112.9 717.5h.5M116.7 711.1h.5M113.1 709.0h.5M115.6 702.4h.5M119.0 714.9h.5M114.0 706.0h.5M112.3 681.6h.5M111.7 687.3h.5M111.3 699.3h.5M114.2 690.0h.5M110.1 698.0h.5M111.6 694.8h.5M111.4 686.3h.5M111.8 694.9h.5M110.5 699.9h.5M111.0 701.2h.5M112.0 699.9h.5M112.2 693.1h.5M112.5 686.5h.5M113.2 686.2h.5M111.1 695.3h.5M112.7 682.8h.5M111.8 691.0h.5M110.6 695.2h.5M111.9 691.1h.5M111.8 695.3h.5M111.6 685.0h.5M110.6 701.2h.5M112.0 690.2h.5M183.3 663.8h.5M184.2 666.1h.5M182.6 677.0h.5M183.6 679.8h.5M182.2 676.7h.5M180.6 661.4h.5M182.6 671.3h.5M182.4 665.0h.5M181.2 664.5h.5M181.6 670.5h.5M183.3 663.8h.5M181.4 684.6h.5M182.8 665.4h.5M181.6 683.6h.5M182.3 665.8h.5M183.0 674.4h.5M183.1 679.7h.5M183.2 679.8h.5M181.2 663.0h.5M183.4 671.7h.5M184.2 693.1h.5M181.8 687.4h.5M180.9 680.5h.5M182.2 664.1h.5M182.5 691.4h.5M182.9 671.5h.5M181.6 663.5h.5M183.1 685.3h.5M183.0 691.6h.5M181.0 671.3h.5M183.5 684.8h.5M183.7 673.2h.5M182.2 689.8h.5M183.0 676.5h.5M182.8 671.4h.5M181.7 678.4h.5M182.5 672.6h.5M180.6 684.9h.5M181.0 687.3h.5M183.5 679.9h.5M182.0 691.8h.5M183.1 688.7h.5M182.4 666.9h.5M182.9 694.6h.5M184.1 678.9h.5M182.9 679.8h.5M181.6 679.9h.5M182.3 663.1h.5M182.9 664.8h.5M182.3 684.1h.5M181.5 684.8h.5M181.2 693.4h.5M182.6 668.4h.5M182.6 687.9h.5M183.2 687.6h.5M183.4 665.5h.5M180.6 686.8h.5M182.2 674.2h.5M181.8 694.5h.5M182.6 688.1h.5M182.2 686.2h.5M181.8 677.4h.5M182.8 691.6h.5M181.7 684.5h.5M181.4 688.9h.5M182.9 678.9h.5M182.6 692.2h.5M182.5 685.6h.5M180.7 665.2h.5M183.6 688.4h.5M183.1 689.4h.5M181.9 707.6h.5M183.4 682.1h.5M183.3 680.8h.5M182.8 686.2h.5M183.2 691.6h.5M185.3 703.1h.5M184.5 694.9h.5M182.8 696.2h.5M183.8 688.7h.5M185.8 699.8h.5M183.2 702.7h.5M183.9 688.6h.5M183.7 682.2h.5M181.2 702.9h.5M184.8 706.6h.5M183.6 679.2h.5M184.2 686.5h.5M184.6 687.3h.5M183.9 698.2h.5M182.4 687.3h.5M183.1 700.0h.5M183.0 692.3h.5M182.2 692.1h.5M183.5 692.2h.5M183.8 696.6h.5M184.2 704.3h.5M185.2 703.5h.5M184.0 683.7h.5M182.6 686.5h.5M183.3 681.8h.5M180.9 678.7h.5M183.0 696.0h.5M184.2 681.8h.5M184.0 705.1h.5M182.8 688.2h.5M183.3 706.8h.5M184.1 695.8h.5M183.7 694.4h.5M183.2 700.0h.5M185.7 681.6h.5M183.3 689.4h.5M184.7 706.5h.5M183.5 685.9h.5M185.7 686.2h.5M183.9 694.9h.5M182.8 705.9h.5M184.8 738.2h.5M184.4 735.5h.5M183.4 718.0h.5M182.0 723.1h.5M185.0 725.6h.5M183.3 733.0h.5M183.5 731.8h.5M185.6 719.1h.5M185.0 732.8h.5M183.6 719.3h.5M184.3 739.3h.5M184.2 734.9h.5M182.9 738.7h.5M184.9 723.6h.5M183.4 728.9h.5M185.3 732.2h.5M183.7 735.9h.5M182.9 736.1h.5M184.5 721.9h.5M184.0 729.3h.5M183.7 730.1h.5M185.1 727.1h.5M185.5 721.6h.5M182.8 726.9h.5M184.5 717.6h.5M185.1 720.4h.5M184.6 713.4h.5M185.3 705.0h.5M185.1 703.5h.5M184.8 710.1h.5M184.6 707.9h.5M184.6 707.7h.5M185.4 708.0h.5M184.5 713.0h.5M185.1 706.2h.5M184.5 716.5h.5M184.8 711.4h.5M185.1 708.6h.5M184.5 704.1h.5M184.9 705.0h.5M185.0 707.2h.5M184.9 710.9h.5M112.3 756.5h.5M113.6 775.9h.5M117.4 665.0h.5M117.7 683.3h.5M116.0 648.3h.5M118.8 751.2h.5M116.5 737.2h.5M114.4 655.8h.5M114.2 744.4h.5M116.4 656.8h.5M182.5 754.0h.5M183.5 688.0h.5M183.7 742.7h.5M185.3 769.9h.5" stroke="#bcbd22" stroke-width=".5" opacity=".65" fill="none"/>
<path d="M128.0 706.9h.5M123.5 718.9h.5M126.2 707.8h.5M125.6 710.2h.5M122.0 707.7h.5M120.5 712.9h.5M120.8 713.3h.5M127.9 706.4h.5M123.8 708.1h.5M124.1 716.4h.5M123.2 710.7h.5M126.5 713.1h.5M125.9 704.7h.5M121.8 710.4h.5M126.9 706.4h.5M127.1 714.0h.5M120.3 705.9h.5M126.1 714.1h.5M121.6 709.9h.5M122.4 709.6h.5M128.2 712.1h.5M128.1 710.2h.5M122.9 706.2h.5M124.1 709.5h.5M120.7 713.3h.5M125.3 708.9h.5M126.1 706.8h.5M124.2 713.7h.5M120.6 719.1h.5M125.8 704.9h.5M126.7 714.5h.5M121.0 707.6h.5M126.8 708.5h.5M122.1 715.3h.5M121.3 713.5h.5M125.0 714.7h.5M122.3 713.8h.5M124.5 709.8h.5M122.0 708.9h.5M125.4 707.8h.5M121.9 704.4h.5M125.6 709.8h.5M126.5 712.5h.5M126.0 717.4h.5M122.8 708.0h.5M120.7 707.0h.5M124.4 715.8h.5M124.0 718.1h.5M121.2 704.8h.5M126.0 709.8h.5M126.5 711.3h.5M124.1 711.0h.5M125.7 710.6h.5M126.0 713.7h.5M123.2 700.7h.5M125.2 694.9h.5M122.5 733.9h.5M121.3 708.9h.5M125.3 709.5h.5M126.5 711.5h.5M120.9 708.5h.5M120.6 711.2h.5M126.5 713.9h.5M121.5 702.0h.5M121.6 708.4h.5M123.7 708.8h.5M128.1 708.9h.5M127.5 717.0h.5M124.1 715.6h.5M124.0 708.4h.5M126.2 711.9h.5M121.1 712.0h.5M123.0 710.0h.5M128.3 713.3h.5M127.2 708.8h.5M123.0 712.4h.5M123.6 713.7h.5M120.3 702.3h.5M125.1 718.5h.5M127.1 703.7h.5M122.4 707.2h.5M123.3 713.4h.5M123.5 719.3h.5M127.4 710.1h.5M126.8 706.8h.5M126.1 710.2h.5M125.5 702.1h.5M127.0 713.6h.5M126.9 714.0h.5M127.1 715.1h.5M127.8 702.8h.5M125.7 709.2h.5M124.7 708.9h.5M123.0 711.5h.5M121.9 702.6h.5M122.2 715.8h.5M126.7 714.2h.5M126.2 711.5h.5M126.7 714.5h.5M122.7 703.8h.5M127.5 703.2h.5M127.1 717.8h.5M127.5 730.5h.5M127.2 723.4h.5M127.6 729.0h.5M128.0 731.9h.5M126.8 729.0h.5M127.2 727.4h.5M127.2 732.4h.5M127.7 730.9h.5M127.0 727.7h.5M127.9 720.2h.5M127.2 723.0h.5M126.9 732.6h.5M127.1 727.7h.5M127.3 725.2h.5M126.8 746.6h.5M127.7 722.8h.5M127.9 721.1h.5M127.1 725.7h.5M126.9 733.0h.5M189.5 706.4h.5M188.0 708.6h.5M186.4 704.0h.5M189.2 694.8h.5M188.1 711.9h.5M189.4 705.7h.5M188.4 714.6h.5M189.2 709.5h.5M185.5 709.1h.5M188.0 710.4h.5M188.9 700.6h.5M187.9 715.6h.5M186.5 710.1h.5M186.7 709.6h.5M187.4 713.5h.5M188.7 712.0h.5M187.5 705.8h.5M187.2 719.6h.5M188.4 709.4h.5M186.0 717.9h.5M188.0 711.8h.5M186.5 703.5h.5M186.8 709.0h.5M189.1 711.3h.5M185.4 708.2h.5M188.7 711.0h.5M188.6 711.2h.5M188.8 712.5h.5M188.9 705.4h.5M186.7 722.2h.5M188.5 710.1h.5M187.8 717.4h.5M189.3 710.0h.5M186.7 706.9h.5M189.4 714.3h.5M189.5 711.7h.5M188.3 702.7h.5M187.1 709.1h.5M188.3 712.8h.5M188.4 707.6h.5M187.1 708.2h.5M186.7 711.0h.5M188.4 710.9h.5M186.2 708.6h.5M186.3 702.1h.5M187.0 709.7h.5M188.0 712.4h.5M186.1 723.1h.5M186.6 705.2h.5M187.8 708.8h.5M187.8 699.7h.5M189.4 704.5h.5M122.3 706.0h.5M120.4 643.8h.5M124.1 656.7h.5M127.9 655.9h.5M126.7 752.3h.5M123.0 715.7h.5M128.7 726.6h.5M123.6 778.5h.5M122.5 775.5h.5M122.9 698.3h.5M188.8 662.7h.5M187.2 638.3h.5M186.5 686.5h.5M186.4 706.2h.5" stroke="#17becf" stroke-width=".5" opacity=".65" fill="none"/>
<rect x="14.3" y="635.3" width="195.2" height="148.7" fill="none" stroke="#808080" stroke-width="0.7"/>
<text x="16.70" y="634.30" font-size="3.7" fill="#3f8ccb">03EM1_RD</text>
<text x="22.16" y="788.60" font-size="3.5" text-anchor="middle" fill="#222">1</text>
<line x1="14.30" y1="784.00" x2="14.30" y2="785.20" stroke="#444" stroke-width="0.4"/>
<text x="37.68" y="788.60" font-size="3.5" text-anchor="middle" fill="#222">2</text>
<line x1="30.02" y1="784.00" x2="30.02" y2="785.20" stroke="#444" stroke-width="0.4"/>
<text x="51.59" y="788.60" font-size="3.5" text-anchor="middle" fill="#222">3</text>
<line x1="45.35" y1="784.00" x2="45.35" y2="785.20" stroke="#444" stroke-width="0.4"/>
<text x="63.87" y="788.60" font-size="3.5" text-anchor="middle" fill="#222">4</text>
<line x1="57.84" y1="784.00" x2="57.84" y2="785.20" stroke="#444" stroke-width="0.4"/>
<text x="75.60" y="788.60" font-size="3.5" text-anchor="middle" fill="#222">5</text>
<line x1="69.89" y1="784.00" x2="69.89" y2="785.20" stroke="#444" stroke-width="0.4"/>
<text x="86.69" y="788.60" font-size="3.5" text-anchor="middle" fill="#222">6</text>
<line x1="81.30" y1="784.00" x2="81.30" y2="785.20" stroke="#444" stroke-width="0.4"/>
<text x="97.11" y="788.60" font-size="3.5" text-anchor="middle" fill="#222">7</text>
<line x1="92.09" y1="784.00" x2="92.09" y2="785.20" stroke="#444" stroke-width="0.4"/>
<text x="106.74" y="788.60" font-size="3.5" text-anchor="middle" fill="#222">8</text>
<line x1="102.12" y1="784.00" x2="102.12" y2="785.20" stroke="#444" stroke-width="0.4"/>
<text x="115.80" y="788.60" font-size="3.5" text-anchor="middle" fill="#222">9</text>
<line x1="111.35" y1="784.00" x2="111.35" y2="785.20" stroke="#444" stroke-width="0.4"/>
<text x="124.53" y="788.60" font-size="3.5" text-anchor="middle" fill="#222">10</text>
<line x1="120.26" y1="784.00" x2="120.26" y2="785.20" stroke="#444" stroke-width="0.4"/>
<text x="133.06" y="788.60" font-size="3.5" text-anchor="middle" fill="#222">11</text>
<line x1="128.80" y1="784.00" x2="128.80" y2="785.20" stroke="#444" stroke-width="0.4"/>
<text x="141.53" y="788.60" font-size="3.5" text-anchor="middle" fill="#222">12</text>
<line x1="137.31" y1="784.00" x2="137.31" y2="785.20" stroke="#444" stroke-width="0.4"/>
<text x="149.39" y="788.60" font-size="3.5" text-anchor="middle" fill="#222">13</text>
<line x1="145.76" y1="784.00" x2="145.76" y2="785.20" stroke="#444" stroke-width="0.4"/>
<text x="156.40" y="788.60" font-size="3.5" text-anchor="middle" fill="#222">14</text>
<line x1="153.02" y1="784.00" x2="153.02" y2="785.20" stroke="#444" stroke-width="0.4"/>
<text x="163.02" y="788.60" font-size="3.5" text-anchor="middle" fill="#222">15</text>
<line x1="159.79" y1="784.00" x2="159.79" y2="785.20" stroke="#444" stroke-width="0.4"/>
<text x="169.10" y="788.60" font-size="3.5" text-anchor="middle" fill="#222">16</text>
<line x1="166.25" y1="784.00" x2="166.25" y2="785.20" stroke="#444" stroke-width="0.4"/>
<text x="174.51" y="788.60" font-size="3.5" text-anchor="middle" fill="#222">17</text>
<line x1="171.95" y1="784.00" x2="171.95" y2="785.20" stroke="#444" stroke-width="0.4"/>
<text x="179.53" y="788.60" font-size="3.5" text-anchor="middle" fill="#222">18</text>
<line x1="177.07" y1="784.00" x2="177.07" y2="785.20" stroke="#444" stroke-width="0.4"/>
<text x="183.86" y="788.60" font-size="3.5" text-anchor="middle" fill="#222">19</text>
<line x1="181.99" y1="784.00" x2="181.99" y2="785.20" stroke="#444" stroke-width="0.4"/>
<text x="187.71" y="788.60" font-size="3.5" text-anchor="middle" fill="#222">20</text>
<line x1="185.72" y1="784.00" x2="185.72" y2="785.20" stroke="#444" stroke-width="0.4"/>
<text x="191.21" y="788.60" font-size="3.5" text-anchor="middle" fill="#222">21</text>
<line x1="189.69" y1="784.00" x2="189.69" y2="785.20" stroke="#444" stroke-width="0.4"/>
<text x="194.34" y="788.60" font-size="3.5" text-anchor="middle" fill="#222">22</text>
<line x1="192.73" y1="784.00" x2="192.73" y2="785.20" stroke="#444" stroke-width="0.4"/>
<text x="200.86" y="788.60" font-size="3.5" text-anchor="middle" fill="#222">X</text>
<line x1="195.96" y1="784.00" x2="195.96" y2="785.20" stroke="#444" stroke-width="0.4"/>
<text x="207.63" y="788.60" font-size="3.5" text-anchor="middle" fill="#222">Y</text>
<line x1="205.75" y1="784.00" x2="205.75" y2="785.20" stroke="#444" stroke-width="0.4"/>
<text x="12.00" y="785.25" font-size="3.6" text-anchor="end" fill="#222">0</text>
<line x1="13.10" y1="784.00" x2="14.30" y2="784.00" stroke="#444" stroke-width="0.4"/>
<text x="12.00" y="748.08" font-size="3.6" text-anchor="end" fill="#222">1</text>
<line x1="13.10" y1="746.83" x2="14.30" y2="746.83" stroke="#444" stroke-width="0.4"/>
<text x="12.00" y="710.90" font-size="3.6" text-anchor="end" fill="#222">2</text>
<line x1="13.10" y1="709.65" x2="14.30" y2="709.65" stroke="#444" stroke-width="0.4"/>
<text x="12.00" y="673.72" font-size="3.6" text-anchor="end" fill="#222">3</text>
<line x1="13.10" y1="672.47" x2="14.30" y2="672.47" stroke="#444" stroke-width="0.4"/>
<text x="7.60" y="709.95" font-size="3.2" text-anchor="middle" fill="#111" transform="rotate(-90 7.60 709.95)" stroke="#111" stroke-width="0.15">RD (CN)</text>
</g>
<g>
<line x1="234.40" y1="746.83" x2="429.00" y2="746.83" stroke="#bdbdbd" stroke-width="0.5"/>
<line x1="234.40" y1="709.65" x2="429.00" y2="709.65" stroke="#bdbdbd" stroke-width="0.5"/>
<line x1="234.40" y1="672.47" x2="429.00" y2="672.47" stroke="#bdbdbd" stroke-width="0.5"/>
<line x1="250.07" y1="635.30" x2="250.07" y2="784.00" stroke="#bdbdbd" stroke-width="0.5"/>
<line x1="265.36" y1="635.30" x2="265.36" y2="784.00" stroke="#bdbdbd" stroke-width="0.5"/>
<line x1="277.80" y1="635.30" x2="277.80" y2="784.00" stroke="#bdbdbd" stroke-width="0.5"/>
<line x1="289.82" y1="635.30" x2="289.82" y2="784.00" stroke="#bdbdbd" stroke-width="0.5"/>
<line x1="301.19" y1="635.30" x2="301.19" y2="784.00" stroke="#bdbdbd" stroke-width="0.5"/>
<line x1="311.95" y1="635.30" x2="311.95" y2="784.00" stroke="#bdbdbd" stroke-width="0.5"/>
<line x1="321.95" y1="635.30" x2="321.95" y2="784.00" stroke="#bdbdbd" stroke-width="0.5"/>
<line x1="331.15" y1="635.30" x2="331.15" y2="784.00" stroke="#bdbdbd" stroke-width="0.5"/>
<line x1="340.03" y1="635.30" x2="340.03" y2="784.00" stroke="#bdbdbd" stroke-width="0.5"/>
<line x1="348.55" y1="635.30" x2="348.55" y2="784.00" stroke="#bdbdbd" stroke-width="0.5"/>
<line x1="357.04" y1="635.30" x2="357.04" y2="784.00" stroke="#bdbdbd" stroke-width="0.5"/>
<line x1="365.45" y1="635.30" x2="365.45" y2="784.00" stroke="#bdbdbd" stroke-width="0.5"/>
<line x1="372.69" y1="635.30" x2="372.69" y2="784.00" stroke="#bdbdbd" stroke-width="0.5"/>
<line x1="379.44" y1="635.30" x2="379.44" y2="784.00" stroke="#bdbdbd" stroke-width="0.5"/>
<line x1="385.88" y1="635.30" x2="385.88" y2="784.00" stroke="#bdbdbd" stroke-width="0.5"/>
<line x1="391.57" y1="635.30" x2="391.57" y2="784.00" stroke="#bdbdbd" stroke-width="0.5"/>
<line x1="396.67" y1="635.30" x2="396.67" y2="784.00" stroke="#bdbdbd" stroke-width="0.5"/>
<line x1="401.58" y1="635.30" x2="401.58" y2="784.00" stroke="#bdbdbd" stroke-width="0.5"/>
<line x1="405.29" y1="635.30" x2="405.29" y2="784.00" stroke="#bdbdbd" stroke-width="0.5"/>
<line x1="409.25" y1="635.30" x2="409.25" y2="784.00" stroke="#bdbdbd" stroke-width="0.5"/>
<line x1="412.28" y1="635.30" x2="412.28" y2="784.00" stroke="#bdbdbd" stroke-width="0.5"/>
<line x1="415.50" y1="635.30" x2="415.50" y2="784.00" stroke="#bdbdbd" stroke-width="0.5"/>
<line x1="425.27" y1="635.30" x2="425.27" y2="784.00" stroke="#bdbdbd" stroke-width="0.5"/>
<rect x="234.4" y="705.5" width="8.5" height="11.1" fill="#1f77b4" filter="url(#fb)"/>
<rect x="243.9" y="652.3" width="2.7" height="22.1" fill="#1f77b4" opacity="0.8" filter="url(#fc)"/>
<rect x="243.2" y="674.3" width="1.0" height="30.6" fill="#1f77b4" opacity="0.8" filter="url(#fc)"/>
<rect x="246.6" y="722.4" width="3.4" height="11.1" fill="#1f77b4" filter="url(#fb)"/>
<rect x="250.7" y="702.7" width="8.5" height="11.1" fill="#ff7f0e" filter="url(#fb)"/>
<rect x="259.1" y="736.7" width="6.1" height="11.1" fill="#ff7f0e" filter="url(#fb)"/>
<rect x="265.9" y="702.7" width="12.6" height="11.1" fill="#2ca02c" filter="url(#fb)"/>
<rect x="273.1" y="721.2" width="1.0" height="5.4" fill="#2ca02c" opacity="0.8" filter="url(#fc)"/>
<rect x="276.5" y="739.6" width="1.4" height="8.6" fill="#2ca02c" filter="url(#fb)"/>
<rect x="278.5" y="720.4" width="11.2" height="11.1" fill="#d62728" filter="url(#fb)"/>
<rect x="289.7" y="702.1" width="5.8" height="11.1" fill="#9467bd" filter="url(#fb)"/>
<rect x="295.5" y="720.4" width="6.1" height="11.1" fill="#9467bd" filter="url(#fb)"/>
<rect x="301.9" y="721.4" width="9.8" height="11.1" fill="#8c564b" filter="url(#fb)"/>
<rect x="300.6" y="704.9" width="1.0" height="6.1" fill="#8c564b" opacity="0.8" filter="url(#fc)"/>
<rect x="312.5" y="702.7" width="9.5" height="11.1" fill="#e377c2" filter="url(#fb)"/>
<rect x="322.0" y="702.1" width="9.5" height="11.1" fill="#7f7f7f" filter="url(#fb)"/>
<rect x="331.8" y="706.1" width="8.1" height="11.1" fill="#bcbd22" filter="url(#fb)"/>
<rect x="331.1" y="665.8" width="1.0" height="12.6" fill="#bcbd22" opacity="0.8" filter="url(#fc)"/>
<rect x="340.0" y="721.4" width="8.1" height="11.1" fill="#17becf" filter="url(#fb)"/>
<rect x="346.1" y="738.6" width="1.4" height="8.6" fill="#17becf" filter="url(#fb)"/>
<rect x="348.1" y="701.0" width="8.5" height="11.1" fill="#1f77b4" filter="url(#fb)"/>
<rect x="356.6" y="706.8" width="8.5" height="11.1" fill="#ff7f0e" filter="url(#fb)"/>
<rect x="366.1" y="737.7" width="6.1" height="11.1" fill="#2ca02c" filter="url(#fb)"/>
<rect x="372.9" y="739.0" width="1.7" height="8.6" fill="#d62728" filter="url(#fb)"/>
<rect x="374.9" y="665.8" width="1.0" height="28.9" fill="#d62728" opacity="0.8" filter="url(#fc)"/>
<rect x="376.3" y="704.0" width="2.7" height="8.6" fill="#d62728" filter="url(#fb)"/>
<rect x="379.7" y="704.4" width="5.8" height="11.1" fill="#9467bd" filter="url(#fb)"/>
<rect x="385.8" y="706.1" width="5.1" height="11.1" fill="#8c564b" filter="url(#fb)"/>
<rect x="384.4" y="740.5" width="1.0" height="6.8" fill="#8c564b" opacity="0.8" filter="url(#fc)"/>
<rect x="391.2" y="704.4" width="4.8" height="11.1" fill="#e377c2" filter="url(#fb)"/>
<rect x="390.6" y="740.5" width="1.0" height="6.8" fill="#e377c2" opacity="0.8" filter="url(#fc)"/>
<rect x="396.0" y="702.7" width="5.1" height="11.1" fill="#7f7f7f" filter="url(#fb)"/>
<rect x="401.4" y="674.3" width="1.0" height="13.6" fill="#bcbd22" opacity="0.8" filter="url(#fc)"/>
<rect x="402.8" y="709.1" width="1.4" height="8.6" fill="#bcbd22" filter="url(#fb)"/>
<rect x="402.1" y="742.9" width="1.0" height="6.1" fill="#bcbd22" opacity="0.8" filter="url(#fc)"/>
<rect x="404.5" y="703.4" width="4.1" height="11.1" fill="#17becf" filter="url(#fb)"/>
<rect x="409.6" y="635.3" width="1.7" height="17.3" fill="#1f77b4" opacity="0.8" filter="url(#fc)"/>
<rect x="410.1" y="668.2" width="1.0" height="9.5" fill="#1f77b4" opacity="0.8" filter="url(#fc)"/>
<rect x="411.9" y="704.4" width="3.4" height="11.1" fill="#ff7f0e" filter="url(#fb)"/>
<rect x="415.3" y="744.8" width="9.5" height="7.1" fill="#2ca02c" filter="url(#fb)"/>
<rect x="424.8" y="744.8" width="1.7" height="7.1" fill="#d62728" filter="url(#fb)"/>
<path d="M241.2 719.2h.5M241.1 716.8h.5M234.7 718.4h.5M240.8 716.3h.5M236.7 713.7h.5M235.7 721.8h.5M234.7 706.7h.5M240.5 711.9h.5M236.0 718.8h.5M234.4 713.2h.5M242.0 706.6h.5M242.2 716.3h.5M238.7 698.3h.5M239.0 706.6h.5M236.2 713.6h.5M240.7 715.7h.5M235.4 706.9h.5M240.7 712.1h.5M242.5 705.5h.5M239.9 709.4h.5M237.8 713.3h.5M240.0 711.3h.5M235.5 703.6h.5M239.3 706.9h.5M240.3 709.8h.5M238.5 702.7h.5M239.8 713.1h.5M234.5 709.7h.5M238.9 716.3h.5M241.7 691.4h.5M235.3 710.4h.5M242.3 708.9h.5M236.2 714.2h.5M240.4 717.7h.5M238.0 708.2h.5M234.4 709.9h.5M241.2 706.9h.5M238.8 723.7h.5M237.8 700.5h.5M242.8 712.8h.5M239.0 713.0h.5M241.0 716.4h.5M242.7 715.6h.5M239.5 710.8h.5M237.6 717.1h.5M235.1 696.3h.5M238.6 719.0h.5M241.3 710.5h.5M236.0 705.5h.5M234.5 712.2h.5M240.6 714.4h.5M242.4 709.3h.5M239.6 718.3h.5M241.6 714.1h.5M240.9 703.0h.5M235.1 703.3h.5M235.9 709.9h.5M242.6 710.8h.5M240.1 721.5h.5M237.9 712.2h.5M236.7 716.6h.5M241.8 721.8h.5M242.0 718.1h.5M236.4 705.6h.5M237.0 711.8h.5M237.2 709.5h.5M239.0 728.9h.5M242.5 709.0h.5M238.8 707.5h.5M238.5 709.5h.5M242.2 704.8h.5M235.5 704.9h.5M234.9 717.7h.5M235.5 725.4h.5M234.9 707.8h.5M239.8 708.5h.5M234.5 709.4h.5M237.9 703.0h.5M237.2 716.5h.5M237.2 716.9h.5M238.5 702.5h.5M241.5 716.3h.5M238.5 697.4h.5M237.8 715.1h.5M235.2 711.1h.5M241.8 715.4h.5M242.8 717.0h.5M236.6 712.3h.5M234.5 706.0h.5M237.0 712.5h.5M241.9 708.9h.5M241.2 717.2h.5M235.4 713.0h.5M240.6 708.3h.5M234.9 709.6h.5M240.8 696.7h.5M236.1 713.5h.5M236.0 705.7h.5M240.9 705.5h.5M237.0 687.6h.5M238.5 717.0h.5M241.5 718.2h.5M242.5 704.3h.5M241.2 707.3h.5M235.2 712.8h.5M244.9 679.9h.5M242.7 668.2h.5M241.2 673.2h.5M244.1 649.1h.5M244.4 673.1h.5M244.3 666.4h.5M245.5 655.8h.5M244.9 668.6h.5M249.2 673.2h.5M246.1 662.5h.5M243.3 661.8h.5M243.1 678.2h.5M247.8 657.0h.5M244.9 646.5h.5M243.9 671.0h.5M245.5 682.1h.5M243.5 672.2h.5M243.8 676.7h.5M248.2 651.3h.5M247.0 656.2h.5M244.1 659.9h.5M242.9 656.9h.5M244.8 648.4h.5M243.1 671.3h.5M243.0 660.6h.5M245.4 650.9h.5M244.9 646.9h.5M243.0 654.5h.5M244.4 665.2h.5M245.7 681.0h.5M245.2 678.2h.5M247.8 664.6h.5M246.4 665.7h.5M246.7 680.2h.5M242.9 670.8h.5M246.0 675.9h.5M244.7 657.8h.5M248.2 681.1h.5M243.6 673.5h.5M243.4 674.5h.5M246.7 648.3h.5M242.8 672.2h.5M244.6 658.6h.5M242.7 660.0h.5M243.3 670.8h.5M246.7 665.2h.5M244.2 663.7h.5M246.0 656.6h.5M243.9 660.4h.5M244.6 681.6h.5M244.3 664.4h.5M245.0 647.2h.5M243.2 660.2h.5M244.5 681.6h.5M244.9 667.4h.5M244.8 655.2h.5M245.3 658.4h.5M244.5 663.8h.5M244.3 656.0h.5M242.5 664.9h.5M244.1 673.3h.5M244.6 669.9h.5M244.7 663.7h.5M245.5 658.9h.5M240.7 676.9h.5M245.6 646.5h.5M248.0 676.0h.5M243.2 664.2h.5M245.9 659.7h.5M243.7 696.3h.5M244.9 670.8h.5M243.3 680.9h.5M245.6 681.4h.5M242.8 710.6h.5M243.1 712.1h.5M244.0 675.9h.5M244.0 688.1h.5M243.2 707.8h.5M244.8 671.5h.5M244.0 682.1h.5M243.6 674.3h.5M242.7 700.7h.5M243.9 711.4h.5M244.5 697.0h.5M243.4 674.2h.5M242.1 707.8h.5M242.3 674.6h.5M244.5 699.4h.5M245.2 702.3h.5M244.7 669.3h.5M244.0 701.2h.5M243.7 668.5h.5M242.8 701.0h.5M244.8 684.6h.5M243.5 683.0h.5M244.4 684.6h.5M241.3 678.2h.5M244.5 688.0h.5M243.5 682.2h.5M243.1 689.2h.5M241.0 706.4h.5M242.8 704.1h.5M244.1 711.6h.5M243.6 705.2h.5M242.1 709.3h.5M244.6 685.6h.5M243.2 668.6h.5M242.7 668.3h.5M243.4 712.6h.5M242.8 669.0h.5M245.5 684.4h.5M243.8 698.3h.5M242.2 690.1h.5M244.9 702.2h.5M244.4 689.6h.5M242.0 690.4h.5M242.9 689.5h.5M242.1 701.1h.5M243.7 683.2h.5M243.7 698.3h.5M242.7 685.1h.5M245.2 703.0h.5M242.3 685.3h.5M243.0 695.3h.5M244.3 669.8h.5M241.5 671.2h.5M242.9 708.0h.5M240.7 700.5h.5M242.2 700.4h.5M243.5 673.6h.5M242.6 706.4h.5M244.6 678.0h.5M242.5 690.6h.5M242.7 690.1h.5M243.4 688.7h.5M244.8 711.8h.5M243.4 708.8h.5M244.2 685.3h.5M244.9 694.9h.5M242.2 681.7h.5M243.0 698.5h.5M242.4 690.3h.5M244.7 697.0h.5M244.3 668.5h.5M243.5 708.2h.5M242.2 705.3h.5M243.3 708.0h.5M241.5 685.7h.5M245.3 700.7h.5M243.9 687.0h.5M242.8 684.7h.5M243.0 706.1h.5M244.3 671.0h.5M245.1 693.3h.5M243.4 696.9h.5M243.1 707.3h.5M245.0 685.3h.5M242.9 679.5h.5M243.5 706.3h.5M242.9 696.9h.5M242.8 676.6h.5M244.4 694.0h.5M243.5 676.6h.5M248.4 726.0h.5M247.8 731.9h.5M249.1 727.0h.5M248.5 729.0h.5M248.9 720.8h.5M249.9 723.7h.5M249.6 724.1h.5M246.6 723.8h.5M249.4 723.9h.5M249.4 735.7h.5M246.9 727.2h.5M247.2 734.9h.5M247.8 724.6h.5M247.1 712.5h.5M247.0 726.0h.5M249.7 726.2h.5M247.1 730.0h.5M247.8 736.9h.5M248.7 719.3h.5M248.3 724.3h.5M249.4 722.5h.5M248.0 721.7h.5M248.0 714.8h.5M247.3 721.8h.5M248.2 735.9h.5M248.5 728.4h.5M247.2 725.2h.5M248.9 728.7h.5M247.7 732.0h.5M249.5 729.4h.5M247.3 722.5h.5M249.8 732.8h.5M249.4 731.1h.5M248.2 736.2h.5M249.3 730.8h.5M249.1 727.6h.5M246.7 732.3h.5M249.0 728.4h.5M248.5 722.5h.5M248.9 718.1h.5M249.9 729.9h.5M247.7 720.6h.5M249.4 726.3h.5M249.4 727.9h.5M355.5 707.5h.5M349.6 705.8h.5M350.0 704.5h.5M355.3 697.7h.5M355.7 708.5h.5M353.3 701.2h.5M352.0 720.3h.5M351.7 711.2h.5M356.2 704.8h.5M349.7 713.4h.5M354.5 710.3h.5M355.8 703.6h.5M349.6 710.4h.5M354.1 712.6h.5M354.3 701.5h.5M350.6 692.5h.5M354.4 702.8h.5M350.0 716.9h.5M349.3 701.3h.5M354.3 704.6h.5M355.0 709.1h.5M349.1 701.6h.5M355.9 710.1h.5M351.5 706.1h.5M353.1 705.8h.5M354.7 718.2h.5M356.4 699.1h.5M350.1 713.1h.5M354.5 698.5h.5M349.8 712.4h.5M352.8 701.0h.5M348.6 710.2h.5M351.4 709.8h.5M355.7 705.2h.5M354.1 703.1h.5M350.2 704.3h.5M350.5 702.1h.5M354.0 705.3h.5M356.2 702.9h.5M355.8 709.1h.5M354.3 697.7h.5M348.4 691.7h.5M350.5 704.5h.5M351.6 704.2h.5M353.8 712.8h.5M352.1 703.6h.5M353.8 700.4h.5M352.4 718.1h.5M350.9 705.9h.5M350.6 695.4h.5M353.0 705.9h.5M356.1 710.3h.5M355.0 704.3h.5M353.0 702.4h.5M354.5 703.3h.5M356.3 704.3h.5M356.3 705.6h.5M351.1 706.9h.5M352.5 709.9h.5M348.2 705.9h.5M350.0 705.2h.5M355.9 706.6h.5M354.0 707.1h.5M356.0 715.4h.5M352.7 696.6h.5M349.2 703.3h.5M350.8 713.5h.5M348.2 697.6h.5M348.3 703.3h.5M350.8 705.6h.5M350.3 707.2h.5M350.0 706.2h.5M351.3 709.9h.5M352.0 714.3h.5M353.0 712.2h.5M349.6 700.5h.5M353.8 705.8h.5M348.2 715.9h.5M349.4 710.6h.5M350.7 711.8h.5M348.8 709.0h.5M351.9 714.6h.5M355.1 696.6h.5M355.6 701.6h.5M353.3 708.5h.5M348.9 712.2h.5M351.6 709.6h.5M353.5 703.7h.5M349.6 698.2h.5M348.5 707.6h.5M353.4 692.3h.5M353.9 705.3h.5M351.4 702.1h.5M355.3 698.9h.5M349.0 699.6h.5M348.8 718.2h.5M351.4 715.9h.5M348.4 709.1h.5M356.4 706.6h.5M355.9 711.5h.5M353.8 696.7h.5M351.3 701.4h.5M351.6 692.9h.5M353.3 719.0h.5M348.4 704.2h.5M411.9 651.3h.5M412.1 639.6h.5M409.2 644.7h.5M409.6 639.3h.5M413.6 651.2h.5M409.3 648.7h.5M409.4 651.1h.5M408.4 638.7h.5M409.4 636.5h.5M408.2 644.9h.5M411.0 647.2h.5M410.1 653.2h.5M412.0 639.6h.5M411.1 660.1h.5M410.1 644.1h.5M411.3 653.9h.5M409.8 646.0h.5M409.2 659.7h.5M407.0 648.4h.5M410.3 640.0h.5M411.8 653.2h.5M413.2 647.3h.5M411.5 642.5h.5M410.7 645.7h.5M413.0 655.0h.5M409.6 638.8h.5M410.6 658.5h.5M411.6 645.3h.5M410.2 638.8h.5M408.4 643.7h.5M410.5 639.0h.5M407.8 639.5h.5M412.3 657.2h.5M409.9 648.3h.5M412.4 638.3h.5M410.1 656.4h.5M408.4 650.9h.5M412.4 659.2h.5M411.6 656.8h.5M410.2 682.6h.5M410.1 673.8h.5M410.2 667.2h.5M408.5 662.8h.5M412.2 664.2h.5M409.8 673.0h.5M411.3 674.5h.5M409.5 685.7h.5M411.4 665.9h.5M410.7 684.8h.5M409.9 682.6h.5M410.1 683.7h.5M408.3 667.3h.5M410.7 678.5h.5M411.2 678.7h.5M410.5 681.7h.5M411.0 671.2h.5M410.0 664.9h.5M408.7 669.2h.5M410.4 682.9h.5M410.4 677.8h.5M411.5 681.3h.5M411.3 671.4h.5M410.2 680.1h.5M411.0 668.5h.5M409.0 682.5h.5M410.6 670.1h.5M409.3 679.2h.5M411.8 672.0h.5M411.1 680.1h.5M409.8 669.7h.5M239.8 673.7h.5M244.6 753.4h.5M236.0 693.1h.5M245.1 744.2h.5M246.5 661.1h.5M245.7 702.5h.5M248.3 665.6h.5M247.5 769.8h.5M243.9 661.8h.5M239.8 690.6h.5M248.2 662.2h.5M240.9 690.7h.5M242.7 742.7h.5M234.9 671.0h.5M235.7 708.6h.5M244.5 751.0h.5M245.8 660.8h.5M249.9 639.6h.5M356.4 750.4h.5M351.1 749.3h.5M349.5 694.2h.5M353.4 681.7h.5M348.6 720.4h.5M353.8 733.1h.5M350.0 647.5h.5M348.9 716.0h.5M348.9 666.8h.5M352.8 691.7h.5M411.7 686.8h.5M410.2 714.1h.5M410.7 695.5h.5" stroke="#1f77b4" stroke-width=".5" opacity=".65" fill="none"/>
<path d="M255.6 712.9h.5M252.0 702.6h.5M255.4 707.7h.5M258.4 705.0h.5M256.1 711.2h.5M250.9 710.6h.5M254.5 710.9h.5M250.8 706.8h.5M251.1 711.6h.5M254.6 713.0h.5M256.9 701.4h.5M258.8 715.4h.5M254.8 712.4h.5M251.9 706.0h.5M257.9 696.1h.5M255.0 711.5h.5M250.9 703.8h.5M251.8 712.7h.5M258.9 706.2h.5M254.3 712.6h.5M258.7 711.6h.5M258.9 708.1h.5M251.3 710.0h.5M255.7 706.0h.5M259.0 718.8h.5M258.7 713.3h.5M256.8 706.0h.5M250.9 704.6h.5M251.5 703.3h.5M257.9 707.5h.5M259.1 707.7h.5M254.3 702.3h.5M258.0 702.2h.5M256.3 705.1h.5M257.5 700.7h.5M257.6 718.0h.5M251.5 718.0h.5M256.1 703.7h.5M254.8 720.8h.5M258.6 704.3h.5M255.5 719.6h.5M258.2 694.5h.5M252.5 706.6h.5M253.6 706.0h.5M257.6 713.4h.5M255.2 700.4h.5M258.5 706.5h.5M251.0 704.3h.5M257.1 705.1h.5M252.1 725.2h.5M259.0 697.3h.5M254.7 714.3h.5M251.4 696.3h.5M256.6 706.0h.5M251.9 710.8h.5M251.5 707.7h.5M251.6 704.4h.5M256.1 710.8h.5M255.9 715.9h.5M254.7 712.3h.5M253.5 701.5h.5M251.1 701.5h.5M250.7 714.9h.5M253.1 703.0h.5M251.1 717.6h.5M252.3 713.5h.5M251.3 705.4h.5M254.9 714.6h.5M259.1 706.7h.5M256.4 707.6h.5M258.3 710.1h.5M254.1 708.9h.5M255.7 712.1h.5M256.9 711.8h.5M256.6 710.9h.5M252.1 714.0h.5M255.9 709.6h.5M254.6 708.2h.5M257.8 714.6h.5M257.1 712.6h.5M254.2 713.9h.5M255.4 716.2h.5M258.7 708.6h.5M252.9 717.0h.5M253.3 715.5h.5M258.2 706.2h.5M253.8 701.0h.5M254.2 710.2h.5M252.5 705.1h.5M253.1 694.4h.5M254.0 704.9h.5M255.3 707.3h.5M250.8 706.1h.5M257.9 713.3h.5M256.4 714.0h.5M257.7 722.7h.5M259.0 705.1h.5M253.0 705.0h.5M251.5 714.4h.5M256.3 703.4h.5M254.1 705.1h.5M254.4 686.4h.5M250.8 711.8h.5M254.1 706.9h.5M250.8 714.7h.5M259.2 739.5h.5M260.7 753.6h.5M261.7 741.0h.5M262.2 737.7h.5M261.8 729.2h.5M261.3 738.5h.5M262.6 740.5h.5M260.3 743.7h.5M259.7 740.8h.5M262.5 735.5h.5M261.1 749.2h.5M262.8 753.3h.5M261.5 738.4h.5M264.7 750.0h.5M261.2 737.8h.5M264.0 736.0h.5M263.4 738.3h.5M260.3 741.2h.5M264.7 751.3h.5M259.5 743.8h.5M262.1 738.2h.5M259.3 743.6h.5M264.5 751.6h.5M262.4 742.6h.5M262.4 746.6h.5M262.7 739.9h.5M261.5 737.7h.5M263.2 743.3h.5M259.6 744.9h.5M260.9 741.8h.5M262.1 744.4h.5M263.0 740.7h.5M261.3 731.1h.5M262.1 729.5h.5M261.8 750.4h.5M263.0 750.2h.5M259.8 744.3h.5M264.4 741.7h.5M262.5 749.2h.5M261.2 750.0h.5M261.2 738.3h.5M261.4 745.9h.5M260.2 738.2h.5M260.8 746.9h.5M262.6 739.4h.5M262.5 750.2h.5M262.6 738.6h.5M260.0 746.2h.5M261.0 735.2h.5M262.4 734.7h.5M263.3 758.1h.5M263.4 731.6h.5M263.2 751.6h.5M262.2 753.7h.5M262.8 745.6h.5M264.1 747.9h.5M262.9 743.0h.5M262.9 735.4h.5M259.2 745.5h.5M259.3 765.6h.5M259.4 742.3h.5M262.0 738.6h.5M263.0 740.5h.5M259.7 741.5h.5M260.4 745.3h.5M263.7 738.0h.5M264.0 749.7h.5M263.0 743.4h.5M261.7 745.3h.5M262.2 735.9h.5M260.3 737.2h.5M259.2 732.7h.5M263.8 746.8h.5M262.4 747.2h.5M259.2 741.3h.5M262.3 739.0h.5M259.8 751.5h.5M363.1 715.3h.5M361.2 716.2h.5M359.9 711.0h.5M358.3 720.7h.5M358.5 707.9h.5M360.0 706.8h.5M357.3 704.3h.5M359.8 718.4h.5M363.6 710.5h.5M359.8 713.7h.5M358.9 704.4h.5M360.7 717.9h.5M363.9 709.9h.5M363.6 718.8h.5M363.2 716.8h.5M362.7 715.1h.5M363.8 710.4h.5M359.9 707.1h.5M359.2 714.2h.5M363.5 716.2h.5M358.7 701.8h.5M358.5 718.2h.5M357.1 717.4h.5M356.9 712.3h.5M364.4 715.5h.5M358.6 705.7h.5M364.0 713.3h.5M359.2 717.5h.5M364.0 718.5h.5M360.6 717.5h.5M362.9 712.5h.5M363.3 715.1h.5M364.0 721.4h.5M364.1 716.1h.5M363.3 714.7h.5M361.4 703.8h.5M359.3 715.9h.5M362.5 706.6h.5M360.8 719.2h.5M359.5 710.2h.5M359.6 713.6h.5M360.9 721.3h.5M357.7 726.3h.5M362.9 706.0h.5M360.0 713.5h.5M363.1 708.2h.5M358.4 713.3h.5M362.1 717.0h.5M357.1 710.6h.5M356.9 715.2h.5M360.5 712.4h.5M360.7 715.1h.5M364.9 714.0h.5M358.6 708.9h.5M359.0 717.4h.5M356.8 723.6h.5M359.8 701.8h.5M358.4 712.7h.5M363.4 712.6h.5M358.6 705.3h.5M360.4 713.2h.5M360.4 721.4h.5M364.4 711.8h.5M360.4 715.5h.5M360.5 720.1h.5M360.1 719.9h.5M361.8 710.8h.5M361.7 711.5h.5M364.5 716.2h.5M360.7 726.4h.5M360.8 684.2h.5M358.3 704.6h.5M357.5 713.3h.5M360.7 712.7h.5M362.6 711.0h.5M358.1 721.0h.5M361.2 716.5h.5M363.1 707.9h.5M357.2 715.5h.5M360.5 708.1h.5M359.2 711.5h.5M357.1 699.3h.5M357.9 712.0h.5M363.8 713.7h.5M360.9 717.2h.5M358.9 711.7h.5M360.6 717.0h.5M364.0 717.0h.5M363.9 705.7h.5M358.3 712.9h.5M360.9 710.4h.5M362.1 708.8h.5M361.2 713.3h.5M363.4 711.4h.5M364.7 710.9h.5M358.7 715.2h.5M360.7 711.5h.5M358.8 713.0h.5M357.9 716.3h.5M360.4 706.4h.5M361.8 708.3h.5M363.8 719.2h.5M364.3 716.6h.5M361.4 708.4h.5M364.2 710.1h.5M413.7 707.2h.5M412.8 707.6h.5M413.7 707.1h.5M412.5 709.0h.5M413.0 715.6h.5M415.1 721.8h.5M415.2 702.8h.5M413.3 714.0h.5M415.1 717.2h.5M413.4 699.7h.5M414.8 686.4h.5M413.8 713.7h.5M413.4 706.2h.5M414.8 712.1h.5M412.8 702.2h.5M414.2 692.1h.5M414.6 705.2h.5M414.9 709.5h.5M412.6 717.0h.5M412.1 717.8h.5M414.6 701.9h.5M414.7 693.4h.5M413.0 704.4h.5M414.3 700.8h.5M413.9 709.2h.5M413.8 713.7h.5M412.9 706.4h.5M413.5 715.8h.5M413.3 708.8h.5M413.0 711.3h.5M415.2 706.1h.5M415.1 713.6h.5M414.1 713.8h.5M414.2 713.1h.5M414.4 712.2h.5M412.3 706.3h.5M413.9 711.7h.5M414.2 706.7h.5M412.2 706.8h.5M414.2 709.6h.5M415.3 714.5h.5M414.6 706.6h.5M414.9 708.0h.5M413.9 720.9h.5M253.0 728.5h.5M259.9 693.8h.5M260.5 702.6h.5M254.9 682.7h.5M256.6 653.0h.5M261.0 661.7h.5M258.9 771.5h.5M262.5 755.6h.5M252.9 753.8h.5M250.3 670.0h.5M254.3 735.4h.5M265.1 668.1h.5M257.7 678.8h.5M261.1 638.8h.5M263.9 680.7h.5M252.8 756.8h.5M261.2 751.3h.5M263.5 703.0h.5M362.8 656.7h.5M361.4 698.4h.5M358.7 768.8h.5M364.9 776.9h.5M359.1 640.8h.5M362.9 767.7h.5M360.0 680.3h.5M363.8 717.3h.5M362.0 740.2h.5M361.4 755.9h.5M413.2 639.0h.5M415.3 687.9h.5M415.2 728.0h.5" stroke="#ff7f0e" stroke-width=".5" opacity=".65" fill="none"/>
<path d="M268.3 706.7h.5M270.7 705.6h.5M277.8 699.9h.5M271.8 707.6h.5M270.1 705.1h.5M267.8 713.7h.5M271.5 713.6h.5M275.0 707.6h.5M266.5 699.7h.5M267.0 706.8h.5M276.2 701.3h.5M276.3 707.9h.5M274.8 704.2h.5M271.7 701.4h.5M270.7 717.2h.5M277.2 719.0h.5M271.4 712.0h.5M270.8 713.8h.5M269.1 712.1h.5M276.4 707.6h.5M275.0 707.4h.5M269.0 714.0h.5M277.8 705.3h.5M271.5 707.8h.5M278.3 701.2h.5M269.2 706.6h.5M275.4 709.5h.5M268.3 696.6h.5M267.3 705.4h.5M268.8 710.5h.5M277.0 702.8h.5M271.6 713.1h.5M274.1 707.7h.5M273.8 698.9h.5M275.1 713.4h.5M274.7 705.8h.5M270.0 709.9h.5M272.0 701.4h.5M266.8 720.7h.5M276.9 693.5h.5M271.1 707.5h.5M271.4 709.1h.5M278.4 702.0h.5M272.4 708.0h.5M271.2 701.7h.5M278.3 702.5h.5M273.0 712.1h.5M269.1 706.5h.5M269.5 697.5h.5M276.5 704.1h.5M272.9 707.7h.5M268.2 712.0h.5M271.0 710.0h.5M275.1 703.2h.5M273.6 713.9h.5M268.9 706.7h.5M272.8 705.6h.5M274.3 710.3h.5M270.7 717.3h.5M275.5 706.6h.5M277.4 704.7h.5M277.6 713.5h.5M269.0 708.1h.5M267.7 726.1h.5M273.6 700.8h.5M271.9 713.2h.5M266.1 711.9h.5M277.7 704.2h.5M272.7 712.0h.5M276.3 712.8h.5M277.4 708.5h.5M274.1 710.1h.5M270.6 707.3h.5M271.2 704.4h.5M275.7 712.4h.5M271.4 717.6h.5M268.5 713.9h.5M273.0 715.0h.5M269.3 713.3h.5M267.9 716.5h.5M267.9 708.7h.5M275.7 723.5h.5M276.4 704.3h.5M271.4 712.0h.5M269.5 710.7h.5M276.4 711.0h.5M276.4 706.8h.5M269.0 715.2h.5M268.6 709.2h.5M273.9 712.9h.5M271.2 717.1h.5M273.1 707.5h.5M273.0 710.9h.5M269.0 706.2h.5M273.3 695.8h.5M271.8 704.0h.5M272.7 716.6h.5M267.8 712.3h.5M273.4 699.9h.5M275.6 726.0h.5M273.4 698.9h.5M272.8 705.2h.5M274.9 709.6h.5M277.2 694.7h.5M266.2 706.7h.5M272.7 700.3h.5M275.0 712.3h.5M267.6 718.6h.5M275.6 735.4h.5M267.8 701.2h.5M277.5 703.5h.5M266.5 703.1h.5M270.9 707.1h.5M269.5 705.7h.5M277.4 701.4h.5M269.7 711.4h.5M270.5 700.0h.5M272.9 705.4h.5M266.0 718.3h.5M267.0 711.3h.5M271.3 710.7h.5M267.1 704.1h.5M266.6 696.1h.5M277.4 699.2h.5M277.9 712.0h.5M277.5 705.7h.5M270.9 709.2h.5M271.4 700.9h.5M268.0 706.5h.5M277.2 719.7h.5M273.1 708.8h.5M276.3 722.3h.5M277.7 704.5h.5M270.6 717.1h.5M269.5 711.8h.5M268.3 712.3h.5M269.9 710.8h.5M266.0 705.7h.5M272.9 693.3h.5M272.7 709.8h.5M276.5 718.5h.5M278.1 706.5h.5M272.8 699.7h.5M268.8 713.4h.5M272.8 707.7h.5M270.8 710.1h.5M273.5 706.5h.5M270.0 697.3h.5M273.0 699.5h.5M274.1 707.2h.5M270.8 699.8h.5M270.4 708.6h.5M268.1 710.9h.5M269.7 704.2h.5M274.3 725.4h.5M272.7 725.8h.5M273.3 731.0h.5M272.5 722.0h.5M273.4 718.8h.5M273.7 720.7h.5M274.0 716.0h.5M272.5 717.4h.5M274.2 729.9h.5M272.4 723.5h.5M274.0 730.6h.5M273.4 725.9h.5M273.2 720.3h.5M273.6 719.5h.5M272.7 715.8h.5M274.0 720.1h.5M273.5 733.3h.5M274.5 723.6h.5M273.9 728.4h.5M277.5 742.4h.5M276.8 748.4h.5M277.7 741.3h.5M277.3 755.8h.5M276.6 747.7h.5M276.5 745.3h.5M277.6 748.6h.5M277.3 744.0h.5M277.4 739.2h.5M277.1 746.0h.5M277.2 736.7h.5M277.1 739.6h.5M277.3 748.8h.5M277.8 743.9h.5M277.2 742.7h.5M277.0 747.3h.5M276.8 745.7h.5M277.4 743.0h.5M276.5 740.3h.5M277.4 737.5h.5M371.9 747.3h.5M368.3 748.8h.5M368.7 744.1h.5M371.6 751.8h.5M367.9 739.7h.5M371.0 743.2h.5M370.3 741.3h.5M368.1 745.6h.5M367.0 742.4h.5M368.7 743.5h.5M367.6 740.2h.5M368.7 750.3h.5M369.6 746.7h.5M366.3 734.8h.5M366.8 744.9h.5M368.2 740.3h.5M370.4 745.4h.5M370.0 748.2h.5M370.2 747.2h.5M368.7 728.9h.5M368.2 746.8h.5M371.1 737.1h.5M371.5 734.9h.5M369.1 745.8h.5M367.8 749.3h.5M372.0 752.6h.5M367.7 752.0h.5M367.1 751.7h.5M370.5 741.7h.5M370.2 742.5h.5M371.7 743.9h.5M368.0 743.6h.5M370.3 745.2h.5M367.6 742.0h.5M369.2 748.2h.5M368.2 746.7h.5M366.8 743.7h.5M371.6 741.9h.5M371.9 740.8h.5M368.6 749.7h.5M368.6 745.2h.5M371.3 736.8h.5M366.2 735.5h.5M368.6 737.7h.5M367.1 739.5h.5M370.9 743.9h.5M370.9 735.3h.5M370.8 741.1h.5M372.2 742.8h.5M367.7 749.0h.5M371.3 747.9h.5M367.8 751.2h.5M370.9 739.6h.5M371.1 739.0h.5M371.4 735.3h.5M367.4 742.2h.5M370.4 748.9h.5M368.8 743.8h.5M371.2 750.1h.5M366.6 749.2h.5M366.9 739.9h.5M366.9 744.1h.5M367.4 736.0h.5M366.9 745.9h.5M368.4 748.5h.5M368.3 746.3h.5M368.0 748.6h.5M366.5 731.2h.5M369.4 740.6h.5M366.8 745.7h.5M368.7 748.8h.5M370.2 743.1h.5M371.7 735.2h.5M371.0 738.6h.5M366.1 744.6h.5M366.5 742.7h.5M368.7 750.4h.5M421.2 753.4h.5M421.0 750.3h.5M420.0 751.5h.5M419.1 747.4h.5M418.5 743.7h.5M422.9 753.0h.5M419.1 733.6h.5M423.2 754.4h.5M424.0 743.0h.5M420.9 754.8h.5M419.8 750.7h.5M417.4 754.4h.5M420.3 751.0h.5M424.8 753.4h.5M420.8 747.5h.5M424.3 750.0h.5M420.1 733.8h.5M416.3 747.9h.5M415.9 756.6h.5M420.2 744.6h.5M418.3 747.6h.5M423.7 750.4h.5M420.1 744.6h.5M423.3 756.0h.5M417.6 743.0h.5M417.6 752.7h.5M421.2 761.7h.5M420.0 746.7h.5M421.5 742.6h.5M424.3 741.5h.5M417.3 740.3h.5M416.0 744.3h.5M418.2 749.4h.5M416.3 754.8h.5M423.0 735.7h.5M417.5 745.4h.5M416.0 748.0h.5M423.8 737.0h.5M418.3 747.7h.5M418.8 749.9h.5M417.4 748.1h.5M419.0 754.0h.5M420.5 753.7h.5M420.1 748.4h.5M419.0 750.0h.5M419.2 750.4h.5M417.0 746.3h.5M416.9 742.1h.5M420.3 745.8h.5M424.4 745.0h.5M420.2 760.8h.5M422.2 750.0h.5M421.5 747.8h.5M420.4 757.5h.5M419.2 747.8h.5M422.6 748.9h.5M419.4 753.5h.5M420.3 743.7h.5M420.1 744.1h.5M424.2 744.8h.5M424.7 750.7h.5M424.0 752.7h.5M420.6 757.0h.5M417.5 753.6h.5M415.5 750.7h.5M423.6 744.9h.5M419.6 749.0h.5M422.4 762.5h.5M419.0 754.2h.5M417.5 724.1h.5M422.3 752.3h.5M418.2 751.8h.5M417.7 738.4h.5M423.1 739.9h.5M422.9 749.5h.5M415.6 746.1h.5M420.9 744.8h.5M421.9 754.6h.5M423.2 740.0h.5M422.4 742.7h.5M420.8 750.7h.5M416.3 751.1h.5M424.0 744.7h.5M422.0 751.0h.5M416.4 748.1h.5M418.5 743.7h.5M420.3 742.8h.5M419.2 749.1h.5M416.3 740.8h.5M415.6 755.3h.5M417.1 749.6h.5M417.2 754.0h.5M420.7 743.7h.5M420.0 762.9h.5M422.2 755.6h.5M416.3 752.1h.5M417.2 749.8h.5M423.2 740.8h.5M424.1 743.4h.5M416.6 741.9h.5M420.6 735.9h.5M416.2 753.1h.5M422.7 742.9h.5M418.4 748.2h.5M417.5 749.6h.5M423.7 752.2h.5M424.2 756.9h.5M417.5 750.2h.5M417.5 739.1h.5M423.9 746.8h.5M417.1 748.6h.5M416.1 749.2h.5M416.5 744.0h.5M422.9 748.9h.5M420.4 750.1h.5M416.2 749.4h.5M417.6 749.3h.5M424.2 752.2h.5M270.7 752.0h.5M271.5 672.6h.5M273.0 700.7h.5M274.8 763.4h.5M275.2 647.3h.5M272.2 701.9h.5M265.9 679.0h.5M265.4 739.5h.5M268.0 663.0h.5M276.1 676.2h.5M273.9 733.3h.5M273.2 648.4h.5M268.1 756.5h.5M270.2 680.9h.5M369.5 744.1h.5M365.5 707.0h.5M372.0 707.8h.5M370.5 714.1h.5M372.2 648.3h.5M367.5 661.4h.5M371.8 778.4h.5M366.8 678.7h.5M416.6 663.1h.5M419.2 665.8h.5M416.5 748.1h.5M420.3 659.3h.5M420.5 735.7h.5M423.7 700.3h.5M417.6 642.8h.5M421.3 713.6h.5M425.2 673.1h.5M416.0 714.0h.5M422.3 671.2h.5" stroke="#2ca02c" stroke-width=".5" opacity=".65" fill="none"/>
<path d="M279.0 701.0h.5M286.4 725.4h.5M281.4 731.5h.5M282.9 723.0h.5M287.1 734.7h.5M288.4 725.0h.5M288.5 726.7h.5M279.5 724.7h.5M278.8 731.5h.5M284.4 725.8h.5M289.0 727.4h.5M288.1 714.3h.5M282.0 720.8h.5M279.3 723.0h.5M286.0 724.0h.5M280.1 732.0h.5M281.1 734.4h.5M282.8 720.2h.5M282.1 717.6h.5M289.6 737.2h.5M284.0 719.3h.5M288.8 715.5h.5M281.7 720.4h.5M281.4 732.7h.5M279.7 742.5h.5M284.1 715.2h.5M286.2 719.5h.5M281.2 728.4h.5M282.5 723.7h.5M288.3 722.4h.5M288.9 726.6h.5M287.8 722.3h.5M281.1 727.6h.5M281.2 725.5h.5M284.9 717.5h.5M282.4 734.0h.5M283.4 730.7h.5M287.8 722.2h.5M278.9 716.3h.5M283.6 708.2h.5M285.1 733.7h.5M282.7 730.8h.5M287.6 722.9h.5M280.6 722.2h.5M285.3 726.7h.5M286.3 718.1h.5M285.1 721.7h.5M287.4 724.0h.5M289.3 723.3h.5M286.4 719.7h.5M289.1 725.9h.5M279.0 720.4h.5M283.3 724.5h.5M288.6 727.1h.5M286.8 726.4h.5M281.3 717.6h.5M285.0 732.6h.5M288.7 724.5h.5M282.3 724.0h.5M288.4 723.3h.5M287.5 727.3h.5M287.5 732.2h.5M282.9 723.0h.5M286.2 728.5h.5M279.7 721.2h.5M282.8 730.0h.5M289.4 724.8h.5M281.0 719.8h.5M283.8 724.2h.5M280.4 723.9h.5M282.4 720.9h.5M282.8 729.6h.5M287.5 733.6h.5M289.4 730.6h.5M286.0 723.2h.5M282.6 724.8h.5M284.8 716.9h.5M280.4 726.8h.5M286.4 719.4h.5M283.2 724.9h.5M280.9 733.3h.5M282.8 726.3h.5M282.3 726.4h.5M281.6 736.0h.5M283.6 732.2h.5M289.6 732.7h.5M288.6 725.7h.5M279.7 728.7h.5M280.5 722.4h.5M288.2 719.8h.5M287.3 725.3h.5M286.4 721.2h.5M281.0 730.1h.5M281.6 730.3h.5M284.8 736.7h.5M286.1 733.7h.5M287.9 737.6h.5M287.8 725.0h.5M286.3 724.8h.5M289.1 728.7h.5M282.3 715.5h.5M278.5 726.7h.5M283.4 713.3h.5M281.0 718.4h.5M287.1 724.9h.5M289.1 725.7h.5M281.7 714.7h.5M282.8 729.5h.5M278.8 731.0h.5M280.1 730.2h.5M279.1 733.9h.5M285.0 728.2h.5M281.7 720.9h.5M279.7 725.5h.5M278.5 729.4h.5M280.6 724.1h.5M281.5 719.7h.5M289.4 718.3h.5M284.7 723.2h.5M289.4 725.8h.5M285.2 720.9h.5M286.6 721.1h.5M278.5 729.8h.5M283.0 724.7h.5M278.9 729.4h.5M283.4 724.3h.5M285.3 731.7h.5M287.3 729.5h.5M286.1 730.0h.5M279.0 730.1h.5M279.6 721.8h.5M289.2 724.2h.5M286.7 720.2h.5M279.2 721.4h.5M281.0 721.3h.5M281.1 722.7h.5M288.8 724.9h.5M286.7 720.0h.5M374.4 751.5h.5M373.8 734.2h.5M373.8 746.5h.5M373.5 746.7h.5M374.1 746.1h.5M373.2 740.6h.5M374.4 743.7h.5M373.8 735.5h.5M372.9 748.6h.5M374.3 747.7h.5M373.5 744.4h.5M374.2 750.6h.5M373.3 745.3h.5M373.3 742.1h.5M373.9 747.1h.5M374.1 743.0h.5M373.4 744.6h.5M373.6 750.5h.5M373.0 740.7h.5M374.1 729.3h.5M374.6 752.9h.5M374.5 744.3h.5M374.2 751.2h.5M373.6 750.0h.5M375.1 670.3h.5M375.3 693.2h.5M375.1 696.9h.5M376.6 687.1h.5M376.3 670.4h.5M373.5 667.8h.5M377.5 673.6h.5M375.4 699.5h.5M376.0 696.9h.5M375.8 664.3h.5M375.9 692.8h.5M374.9 665.3h.5M374.3 683.8h.5M375.4 696.8h.5M376.8 696.4h.5M375.8 682.2h.5M375.6 678.3h.5M377.1 671.0h.5M375.7 695.2h.5M373.9 681.0h.5M375.6 683.5h.5M375.5 661.4h.5M375.1 693.1h.5M375.1 660.7h.5M375.2 702.7h.5M374.8 680.2h.5M373.7 672.0h.5M375.3 701.5h.5M375.4 671.8h.5M375.7 675.6h.5M375.2 698.6h.5M375.2 693.2h.5M375.4 662.1h.5M372.7 689.3h.5M375.8 677.5h.5M375.0 668.4h.5M376.4 695.4h.5M375.0 670.6h.5M374.2 674.5h.5M374.5 671.3h.5M376.5 677.4h.5M376.1 668.4h.5M375.1 665.2h.5M376.2 685.3h.5M375.8 675.3h.5M376.0 702.2h.5M375.3 696.0h.5M374.8 700.1h.5M374.7 686.8h.5M376.9 683.6h.5M376.6 687.6h.5M374.7 700.0h.5M375.0 660.2h.5M375.6 690.8h.5M373.6 701.5h.5M375.8 670.8h.5M375.8 660.8h.5M376.6 664.2h.5M376.1 678.8h.5M375.8 668.2h.5M374.9 695.5h.5M374.0 683.3h.5M375.5 691.1h.5M373.8 673.4h.5M373.9 670.4h.5M374.7 675.2h.5M376.7 664.7h.5M375.5 678.9h.5M375.6 697.9h.5M375.9 673.9h.5M376.9 685.0h.5M375.1 680.6h.5M374.5 668.0h.5M374.1 683.0h.5M375.4 669.2h.5M376.0 693.6h.5M376.3 667.3h.5M375.0 667.4h.5M375.1 697.7h.5M376.3 682.4h.5M374.2 667.4h.5M375.5 675.7h.5M375.1 673.0h.5M375.6 684.3h.5M374.9 662.9h.5M375.0 684.3h.5M375.5 701.1h.5M375.5 691.2h.5M376.2 692.9h.5M378.6 706.4h.5M376.4 707.4h.5M377.8 713.7h.5M376.9 709.8h.5M376.9 719.1h.5M377.7 709.6h.5M376.4 698.5h.5M378.0 705.4h.5M377.8 704.0h.5M377.5 713.6h.5M378.3 708.3h.5M376.8 702.2h.5M377.8 712.8h.5M377.7 710.1h.5M378.5 713.2h.5M378.6 710.3h.5M378.9 713.6h.5M376.8 703.2h.5M376.5 705.9h.5M378.0 705.0h.5M376.4 714.3h.5M378.4 716.3h.5M376.3 704.1h.5M376.7 714.7h.5M377.2 705.0h.5M376.9 698.3h.5M378.6 713.9h.5M377.0 714.0h.5M376.7 714.1h.5M376.4 703.7h.5M377.2 700.5h.5M376.4 720.9h.5M376.7 709.6h.5M378.6 710.2h.5M377.8 701.0h.5M377.8 703.8h.5M426.0 749.2h.5M425.7 761.5h.5M426.1 740.3h.5M425.0 756.1h.5M426.4 736.2h.5M425.4 748.9h.5M425.2 744.1h.5M425.7 752.3h.5M425.5 747.1h.5M426.0 751.2h.5M426.4 752.7h.5M426.0 743.8h.5M426.2 755.7h.5M426.4 747.3h.5M425.3 753.9h.5M424.9 747.2h.5M425.3 749.1h.5M426.1 752.0h.5M426.0 751.4h.5M425.1 750.9h.5M426.0 752.9h.5M426.0 741.8h.5M424.9 737.1h.5M426.3 746.7h.5M283.8 642.3h.5M286.3 749.1h.5M289.4 683.0h.5M286.1 773.0h.5M288.1 704.1h.5M289.3 715.8h.5M284.6 720.6h.5M280.0 694.0h.5M283.9 751.1h.5M284.5 687.4h.5M289.5 648.7h.5M279.9 687.8h.5M289.6 704.9h.5M282.6 756.4h.5M374.4 724.9h.5M377.5 674.3h.5M378.3 702.7h.5M376.0 690.1h.5M375.8 642.1h.5M373.0 777.3h.5M374.6 688.1h.5M379.3 682.2h.5M426.3 664.6h.5M428.4 720.5h.5M426.3 689.3h.5M426.2 640.6h.5" stroke="#d62728" stroke-width=".5" opacity=".65" fill="none"/>
<path d="M293.9 727.3h.5M295.0 708.4h.5M295.0 706.6h.5M291.4 710.0h.5M293.7 700.5h.5M290.5 713.0h.5M292.2 700.3h.5M291.8 707.3h.5M290.3 714.5h.5M292.5 704.3h.5M293.4 710.1h.5M292.6 710.6h.5M295.3 699.5h.5M290.1 716.6h.5M291.3 710.6h.5M292.7 707.2h.5M290.8 698.0h.5M295.4 708.3h.5M294.9 713.8h.5M294.8 714.5h.5M292.4 709.3h.5M294.6 703.6h.5M292.5 717.2h.5M291.1 708.6h.5M290.5 713.1h.5M293.6 699.1h.5M292.1 707.9h.5M290.6 707.6h.5M291.3 706.1h.5M292.2 706.2h.5M290.3 702.4h.5M290.3 706.8h.5M292.6 713.4h.5M293.1 711.0h.5M293.3 710.6h.5M292.8 709.6h.5M294.9 711.7h.5M293.6 709.8h.5M291.6 701.8h.5M293.7 715.4h.5M292.5 711.8h.5M292.5 702.4h.5M290.0 700.0h.5M295.0 700.1h.5M293.4 705.1h.5M295.2 706.9h.5M291.2 697.3h.5M293.1 713.9h.5M290.7 700.1h.5M290.3 703.0h.5M293.5 707.8h.5M293.3 718.8h.5M294.9 712.1h.5M293.4 714.8h.5M289.9 703.2h.5M291.9 696.8h.5M292.3 712.8h.5M290.9 699.6h.5M294.0 707.5h.5M290.8 719.5h.5M290.5 708.5h.5M291.9 713.4h.5M294.7 724.4h.5M294.7 717.0h.5M293.0 701.5h.5M293.8 695.3h.5M294.9 698.5h.5M292.3 710.3h.5M293.0 703.8h.5M291.1 712.4h.5M291.4 700.8h.5M294.8 714.2h.5M293.4 701.8h.5M296.7 710.5h.5M295.7 724.1h.5M296.9 727.9h.5M296.7 722.9h.5M301.4 731.2h.5M300.1 722.2h.5M301.3 722.0h.5M299.6 739.2h.5M301.1 728.4h.5M295.8 725.7h.5M300.9 720.4h.5M297.6 732.9h.5M296.9 729.3h.5M297.1 727.0h.5M297.2 728.8h.5M299.2 717.1h.5M300.5 732.1h.5M296.0 722.7h.5M301.4 724.1h.5M295.7 730.1h.5M300.2 725.4h.5M300.4 727.2h.5M296.8 721.5h.5M301.5 724.8h.5M299.1 722.5h.5M295.6 744.9h.5M296.7 732.7h.5M300.3 729.1h.5M300.3 738.9h.5M297.7 718.1h.5M297.5 730.7h.5M297.0 724.0h.5M297.2 717.9h.5M296.3 730.2h.5M296.8 726.9h.5M300.4 717.5h.5M298.5 731.2h.5M297.1 726.1h.5M296.8 717.9h.5M299.5 729.0h.5M295.8 732.4h.5M299.6 731.0h.5M299.5 727.9h.5M298.7 715.3h.5M296.9 728.3h.5M297.3 727.4h.5M300.5 724.5h.5M296.6 737.9h.5M296.7 729.6h.5M295.5 733.7h.5M300.8 747.4h.5M297.8 727.6h.5M299.8 721.0h.5M296.2 725.0h.5M301.0 729.9h.5M297.1 726.9h.5M298.5 725.7h.5M300.4 728.8h.5M298.8 728.7h.5M301.1 719.1h.5M301.6 723.9h.5M300.6 732.2h.5M298.8 714.0h.5M296.3 724.8h.5M297.0 738.8h.5M300.4 734.7h.5M298.7 727.8h.5M298.0 737.7h.5M300.8 732.4h.5M300.5 725.8h.5M296.7 721.1h.5M300.2 726.6h.5M299.3 725.0h.5M300.2 728.6h.5M299.2 729.0h.5M300.3 731.9h.5M299.3 726.9h.5M381.0 719.4h.5M384.2 705.0h.5M383.7 710.0h.5M384.8 705.0h.5M384.1 713.2h.5M380.7 709.0h.5M380.4 710.1h.5M381.8 716.2h.5M383.4 705.2h.5M379.7 701.8h.5M385.3 699.3h.5M382.3 709.5h.5M382.2 700.8h.5M383.1 707.4h.5M380.3 707.4h.5M383.6 712.6h.5M383.0 717.7h.5M381.8 702.1h.5M382.1 720.9h.5M385.5 719.8h.5M381.2 708.2h.5M382.0 713.9h.5M380.2 724.9h.5M384.4 712.1h.5M380.5 704.1h.5M384.1 711.7h.5M381.8 718.2h.5M384.0 702.3h.5M381.6 709.0h.5M384.1 706.5h.5M380.4 706.1h.5M384.9 702.3h.5M382.6 699.3h.5M381.1 713.3h.5M384.4 709.8h.5M385.4 706.3h.5M384.2 707.2h.5M379.7 702.6h.5M381.6 714.9h.5M383.9 700.0h.5M384.4 721.9h.5M381.5 705.4h.5M380.2 714.6h.5M385.2 720.4h.5M380.1 716.9h.5M382.2 719.5h.5M379.9 714.3h.5M382.5 708.2h.5M382.5 709.3h.5M381.6 706.4h.5M384.9 709.4h.5M382.1 700.8h.5M382.7 712.0h.5M382.4 707.1h.5M383.8 715.2h.5M381.1 707.2h.5M381.5 711.8h.5M383.9 717.7h.5M385.3 702.3h.5M382.4 708.6h.5M381.5 706.6h.5M382.8 715.9h.5M385.4 694.9h.5M383.2 701.3h.5M382.3 705.9h.5M380.1 711.0h.5M382.5 707.2h.5M381.6 714.0h.5M382.1 706.2h.5M380.3 709.6h.5M382.7 709.7h.5M384.0 709.2h.5M381.6 711.6h.5M292.5 753.1h.5M290.7 723.2h.5M300.5 724.6h.5M292.6 668.1h.5M299.0 675.8h.5M300.4 699.5h.5M291.0 742.8h.5M298.2 734.3h.5M289.9 690.9h.5M295.4 769.7h.5M290.9 699.7h.5M293.8 727.8h.5M295.0 683.4h.5M380.0 763.2h.5M382.0 731.1h.5M381.4 655.6h.5M380.9 748.3h.5M382.9 733.3h.5M384.1 720.1h.5M383.8 665.3h.5" stroke="#9467bd" stroke-width=".5" opacity=".65" fill="none"/>
<path d="M302.1 728.6h.5M305.9 724.3h.5M311.1 718.6h.5M304.4 733.8h.5M311.4 721.2h.5M310.9 727.3h.5M304.6 736.7h.5M307.2 725.4h.5M304.2 734.2h.5M307.0 722.0h.5M303.6 730.6h.5M309.1 721.2h.5M307.0 720.5h.5M310.9 720.8h.5M305.6 725.7h.5M305.9 727.9h.5M304.6 724.2h.5M304.9 720.5h.5M310.4 731.9h.5M310.3 717.7h.5M304.5 730.9h.5M308.2 725.8h.5M311.3 720.2h.5M311.5 724.2h.5M310.1 730.8h.5M306.2 715.2h.5M303.6 734.1h.5M304.9 722.1h.5M302.3 729.7h.5M306.9 733.1h.5M308.4 729.1h.5M310.4 727.0h.5M307.6 729.8h.5M309.4 722.7h.5M306.5 732.0h.5M308.9 732.1h.5M302.7 729.4h.5M305.3 722.6h.5M306.3 732.8h.5M302.1 718.2h.5M301.9 731.2h.5M310.8 711.7h.5M311.3 722.6h.5M305.7 730.0h.5M308.4 728.0h.5M303.5 718.6h.5M311.7 716.9h.5M304.0 730.7h.5M303.9 735.1h.5M303.3 728.0h.5M304.3 730.9h.5M304.3 726.4h.5M302.4 743.4h.5M302.4 727.2h.5M310.7 723.3h.5M306.1 723.8h.5M302.5 728.7h.5M305.2 721.5h.5M307.0 724.4h.5M306.8 726.4h.5M304.0 723.3h.5M304.8 736.8h.5M306.6 737.8h.5M310.2 727.0h.5M304.3 731.0h.5M311.1 721.1h.5M310.4 728.2h.5M308.9 730.4h.5M311.0 715.6h.5M304.3 723.8h.5M304.6 728.9h.5M311.2 731.0h.5M306.7 731.5h.5M305.5 717.8h.5M307.0 734.1h.5M303.9 723.8h.5M311.0 717.9h.5M306.3 722.6h.5M308.7 720.6h.5M310.6 729.5h.5M305.5 723.7h.5M304.3 720.5h.5M304.4 710.6h.5M303.0 731.7h.5M305.3 713.9h.5M306.2 723.0h.5M305.3 728.1h.5M309.0 737.3h.5M304.2 725.4h.5M311.0 735.3h.5M304.5 729.9h.5M309.0 729.1h.5M307.7 730.3h.5M304.7 731.3h.5M306.9 729.1h.5M308.1 731.0h.5M305.1 744.7h.5M308.4 722.7h.5M302.3 727.8h.5M308.3 723.4h.5M304.8 721.8h.5M305.8 715.5h.5M310.5 721.9h.5M311.3 715.0h.5M308.6 727.7h.5M311.2 729.7h.5M305.0 741.4h.5M305.4 719.8h.5M302.6 729.0h.5M304.3 727.1h.5M306.3 730.9h.5M305.3 701.0h.5M311.5 730.9h.5M302.9 716.9h.5M302.6 730.8h.5M302.8 726.4h.5M302.4 718.0h.5M309.7 728.0h.5M309.7 733.2h.5M303.6 734.6h.5M303.4 732.4h.5M310.3 724.4h.5M301.4 710.0h.5M301.5 718.4h.5M301.8 712.0h.5M300.5 702.9h.5M300.0 712.7h.5M301.5 715.8h.5M301.0 705.8h.5M301.5 716.0h.5M302.3 702.2h.5M301.4 703.0h.5M302.1 709.1h.5M301.3 707.5h.5M301.1 703.0h.5M301.7 717.9h.5M302.1 708.3h.5M299.8 716.2h.5M300.6 718.3h.5M300.8 717.3h.5M301.6 711.1h.5M301.5 714.8h.5M300.7 701.3h.5M389.4 718.7h.5M386.0 699.4h.5M387.6 708.9h.5M387.0 709.5h.5M390.6 707.1h.5M389.7 716.6h.5M387.2 708.9h.5M389.0 707.6h.5M390.8 709.4h.5M390.4 714.9h.5M386.1 713.6h.5M389.3 715.4h.5M389.8 718.6h.5M390.0 703.9h.5M390.5 715.3h.5M390.0 716.1h.5M388.5 707.1h.5M386.0 710.6h.5M390.7 705.6h.5M387.7 713.4h.5M386.9 703.0h.5M387.4 712.4h.5M389.3 726.3h.5M390.3 714.4h.5M389.8 705.5h.5M387.1 714.6h.5M389.2 707.6h.5M387.6 698.6h.5M389.8 712.5h.5M387.9 711.6h.5M386.9 702.5h.5M389.3 714.9h.5M390.0 710.7h.5M389.0 713.4h.5M387.1 721.5h.5M387.9 714.3h.5M386.9 715.7h.5M388.4 714.2h.5M386.3 718.7h.5M387.2 707.7h.5M390.4 705.7h.5M387.8 714.8h.5M386.1 710.9h.5M386.2 708.9h.5M390.3 699.2h.5M388.4 701.2h.5M390.8 707.0h.5M389.4 711.3h.5M385.9 703.6h.5M387.5 703.0h.5M387.2 712.7h.5M390.4 713.6h.5M388.1 704.9h.5M389.9 714.7h.5M389.1 701.5h.5M388.5 715.0h.5M386.7 714.3h.5M386.6 713.1h.5M390.4 712.0h.5M387.6 707.3h.5M388.2 718.4h.5M387.2 717.2h.5M385.8 717.9h.5M390.1 704.6h.5M386.8 707.0h.5M386.1 746.7h.5M386.5 752.7h.5M384.5 749.3h.5M384.3 740.2h.5M383.7 750.7h.5M384.9 739.6h.5M385.0 747.6h.5M383.8 736.5h.5M384.6 747.6h.5M384.9 751.0h.5M384.2 747.5h.5M385.6 746.2h.5M386.7 748.8h.5M384.7 741.8h.5M386.2 739.2h.5M385.4 749.2h.5M383.9 735.8h.5M383.5 744.6h.5M384.5 739.9h.5M385.7 751.9h.5M383.8 737.0h.5M385.3 746.1h.5M384.6 741.6h.5M306.4 716.0h.5M301.6 683.6h.5M303.9 677.4h.5M305.0 677.2h.5M305.1 736.3h.5M303.7 775.2h.5M302.0 679.9h.5M309.0 731.9h.5M304.5 678.4h.5M308.9 691.7h.5M309.9 768.7h.5M302.8 734.8h.5M386.9 700.6h.5M390.7 669.7h.5M390.3 757.0h.5M390.1 653.0h.5M386.6 754.3h.5M387.1 640.6h.5" stroke="#8c564b" stroke-width=".5" opacity=".65" fill="none"/>
<path d="M313.7 712.2h.5M318.7 712.0h.5M316.5 703.1h.5M315.0 707.6h.5M320.0 717.4h.5M316.6 705.2h.5M321.9 710.2h.5M316.3 701.8h.5M316.4 706.8h.5M321.0 711.9h.5M314.6 705.3h.5M313.7 707.4h.5M316.8 715.8h.5M317.0 713.7h.5M313.0 717.4h.5M318.2 709.6h.5M312.6 715.2h.5M318.5 715.1h.5M318.8 702.9h.5M320.2 708.5h.5M312.9 701.7h.5M315.9 698.5h.5M317.2 735.1h.5M314.5 711.5h.5M313.6 714.4h.5M315.0 705.5h.5M314.8 700.8h.5M318.0 703.5h.5M321.5 711.7h.5M321.7 708.7h.5M314.8 714.2h.5M318.6 706.1h.5M320.8 712.3h.5M315.5 705.3h.5M314.0 705.2h.5M318.8 704.6h.5M321.6 715.3h.5M312.6 714.5h.5M313.6 710.9h.5M317.6 708.3h.5M321.3 701.2h.5M313.9 704.8h.5M312.8 710.3h.5M319.7 714.6h.5M314.4 699.7h.5M314.4 707.0h.5M315.9 700.9h.5M315.7 715.3h.5M314.4 723.0h.5M315.5 711.9h.5M316.8 710.7h.5M319.2 718.0h.5M320.4 711.6h.5M314.1 706.9h.5M320.0 700.4h.5M313.1 713.3h.5M313.2 697.6h.5M315.0 711.3h.5M317.8 696.0h.5M316.9 707.6h.5M316.0 710.5h.5M314.3 713.4h.5M317.5 714.3h.5M312.8 705.9h.5M315.7 713.1h.5M315.8 712.6h.5M318.5 710.0h.5M318.2 709.0h.5M314.6 703.2h.5M317.5 715.8h.5M318.4 707.9h.5M320.1 708.3h.5M321.4 706.4h.5M319.1 702.2h.5M315.5 714.0h.5M319.8 713.5h.5M314.4 706.3h.5M321.3 706.0h.5M314.9 699.3h.5M318.6 704.6h.5M321.1 709.7h.5M320.9 700.0h.5M319.0 707.3h.5M314.6 710.8h.5M314.6 712.3h.5M317.9 705.2h.5M321.9 706.3h.5M313.5 706.5h.5M317.5 704.9h.5M320.2 716.1h.5M314.9 709.0h.5M312.7 707.1h.5M317.5 680.2h.5M321.0 717.0h.5M316.1 709.4h.5M319.7 703.7h.5M313.2 708.4h.5M317.4 720.8h.5M315.3 706.7h.5M313.7 705.4h.5M314.5 719.8h.5M315.1 703.0h.5M313.1 705.3h.5M313.8 712.4h.5M320.0 711.5h.5M320.2 715.4h.5M313.2 708.8h.5M318.7 716.4h.5M313.7 708.1h.5M321.0 700.7h.5M315.9 709.7h.5M313.3 709.6h.5M319.1 689.7h.5M314.4 711.5h.5M314.7 703.8h.5M317.5 709.0h.5M320.0 712.6h.5M318.7 704.5h.5M392.5 707.8h.5M391.6 715.6h.5M391.4 709.4h.5M395.5 704.9h.5M392.7 712.0h.5M395.6 705.8h.5M395.0 704.8h.5M392.6 720.4h.5M393.2 716.3h.5M392.8 715.5h.5M392.4 711.5h.5M393.8 721.7h.5M395.8 707.2h.5M391.2 708.0h.5M394.8 711.3h.5M394.9 715.8h.5M394.0 712.7h.5M391.9 685.7h.5M392.8 707.9h.5M391.7 718.5h.5M394.6 701.8h.5M393.3 711.3h.5M391.8 708.8h.5M394.7 711.1h.5M393.9 718.2h.5M393.9 705.4h.5M392.0 708.1h.5M395.1 711.0h.5M392.1 727.6h.5M391.9 712.1h.5M393.7 712.4h.5M392.3 717.1h.5M394.3 714.9h.5M394.2 708.4h.5M391.4 720.9h.5M391.7 711.2h.5M392.4 707.5h.5M393.1 709.3h.5M395.7 716.2h.5M391.8 709.8h.5M394.9 706.6h.5M393.7 709.8h.5M394.1 699.9h.5M394.8 706.0h.5M395.6 713.7h.5M395.6 712.4h.5M392.5 701.6h.5M394.5 706.1h.5M395.1 710.9h.5M392.0 708.1h.5M392.2 709.6h.5M393.9 710.5h.5M395.2 710.7h.5M395.0 709.7h.5M395.8 719.7h.5M396.0 703.3h.5M394.3 713.2h.5M391.7 706.9h.5M395.9 708.2h.5M392.2 703.9h.5M392.6 702.6h.5M391.1 746.9h.5M390.1 744.6h.5M391.6 752.1h.5M392.0 750.3h.5M390.3 740.8h.5M391.5 737.4h.5M391.7 750.5h.5M392.2 739.1h.5M390.4 737.3h.5M391.2 737.6h.5M389.9 755.2h.5M391.1 755.0h.5M388.7 750.8h.5M393.0 737.9h.5M390.1 741.8h.5M389.8 737.7h.5M390.8 740.2h.5M391.4 744.4h.5M388.7 753.9h.5M392.4 738.5h.5M389.7 742.5h.5M390.2 751.8h.5M389.6 737.0h.5M314.3 719.1h.5M320.9 729.2h.5M320.7 686.5h.5M314.8 715.7h.5M315.5 713.1h.5M314.5 667.4h.5M318.0 653.6h.5M314.3 650.4h.5M318.8 660.1h.5M314.7 761.3h.5M317.2 704.9h.5M315.2 712.1h.5M394.5 738.1h.5M395.8 740.6h.5M394.6 689.4h.5M396.3 676.0h.5M393.9 653.4h.5M394.5 736.7h.5" stroke="#e377c2" stroke-width=".5" opacity=".65" fill="none"/>
<path d="M327.6 712.8h.5M327.4 713.9h.5M322.2 706.1h.5M326.6 708.5h.5M324.5 691.3h.5M327.5 705.7h.5M327.0 707.8h.5M327.4 714.8h.5M323.8 710.8h.5M330.8 713.7h.5M329.1 702.6h.5M328.7 702.6h.5M327.5 712.8h.5M325.6 702.7h.5M326.2 714.3h.5M324.7 699.4h.5M328.1 699.3h.5M328.0 698.1h.5M325.4 699.7h.5M328.2 706.5h.5M325.3 708.4h.5M326.6 704.7h.5M328.5 689.6h.5M322.6 702.6h.5M324.1 710.5h.5M324.7 727.6h.5M324.1 707.6h.5M328.9 710.7h.5M323.0 704.1h.5M330.2 692.0h.5M326.1 700.4h.5M330.3 705.7h.5M330.4 702.4h.5M330.8 716.5h.5M325.4 715.6h.5M324.8 726.3h.5M326.7 704.3h.5M323.9 707.4h.5M323.6 701.0h.5M323.4 708.5h.5M331.2 710.5h.5M325.7 703.3h.5M330.2 706.0h.5M329.0 710.7h.5M325.8 706.1h.5M325.0 701.5h.5M324.3 708.3h.5M328.9 722.4h.5M328.2 705.8h.5M323.9 682.7h.5M329.7 708.3h.5M322.9 709.8h.5M330.0 706.9h.5M329.1 706.0h.5M325.6 704.8h.5M322.7 702.9h.5M330.6 706.6h.5M326.8 704.5h.5M327.2 703.5h.5M326.2 717.8h.5M330.1 693.9h.5M322.7 708.7h.5M328.9 714.2h.5M329.4 707.0h.5M325.1 709.4h.5M330.6 698.1h.5M326.9 705.3h.5M331.0 709.8h.5M323.4 700.5h.5M327.2 706.3h.5M330.2 710.3h.5M330.5 711.3h.5M326.6 707.3h.5M323.1 706.1h.5M331.0 721.1h.5M326.7 713.2h.5M331.4 705.7h.5M331.2 706.1h.5M328.6 705.0h.5M326.0 704.7h.5M325.7 715.8h.5M327.1 711.1h.5M326.9 713.3h.5M322.9 714.9h.5M323.1 707.3h.5M322.6 706.7h.5M323.8 698.8h.5M330.3 706.0h.5M328.8 704.5h.5M330.9 703.3h.5M330.4 700.9h.5M324.3 709.2h.5M324.8 718.2h.5M323.5 717.2h.5M323.4 709.3h.5M327.0 706.8h.5M330.8 710.2h.5M329.7 725.4h.5M331.4 706.4h.5M330.3 701.3h.5M331.4 714.6h.5M323.6 701.3h.5M328.8 710.0h.5M324.0 708.5h.5M325.5 698.0h.5M323.4 708.5h.5M329.0 713.7h.5M329.0 704.3h.5M327.2 714.3h.5M323.4 713.4h.5M322.8 699.0h.5M329.1 710.4h.5M326.0 700.2h.5M326.5 705.8h.5M325.0 712.9h.5M327.6 714.3h.5M328.1 708.5h.5M328.0 709.2h.5M399.4 709.8h.5M398.6 714.1h.5M400.1 714.2h.5M401.0 710.0h.5M398.5 709.9h.5M396.1 710.1h.5M400.2 712.1h.5M397.2 700.9h.5M396.5 714.6h.5M396.1 704.3h.5M397.7 709.4h.5M396.4 710.8h.5M398.2 709.9h.5M399.7 707.9h.5M400.2 711.3h.5M399.9 698.9h.5M396.9 719.0h.5M399.0 703.1h.5M398.4 712.7h.5M398.5 711.2h.5M400.6 715.6h.5M399.5 708.6h.5M399.8 678.7h.5M397.2 695.3h.5M397.0 709.5h.5M397.6 717.4h.5M400.3 705.4h.5M400.3 710.7h.5M399.1 714.1h.5M399.6 710.2h.5M401.0 705.0h.5M397.7 731.9h.5M401.0 711.3h.5M396.7 717.3h.5M397.7 707.3h.5M398.8 713.2h.5M397.5 717.0h.5M400.1 712.4h.5M400.1 715.6h.5M398.9 713.6h.5M398.3 702.5h.5M400.3 711.0h.5M398.8 705.6h.5M396.0 710.5h.5M396.2 712.9h.5M397.5 716.5h.5M400.7 705.0h.5M397.2 706.3h.5M400.0 698.1h.5M399.5 709.4h.5M400.3 712.6h.5M398.8 707.0h.5M400.7 703.1h.5M400.8 711.7h.5M400.7 713.1h.5M400.5 725.6h.5M398.3 714.3h.5M398.1 708.7h.5M399.4 718.0h.5M397.7 699.4h.5M397.3 713.9h.5M399.3 699.9h.5M397.4 708.5h.5M396.7 705.8h.5M399.9 711.1h.5M329.1 689.5h.5M323.2 663.9h.5M328.4 706.5h.5M330.5 669.2h.5M328.5 693.7h.5M324.5 741.1h.5M324.9 669.3h.5M326.1 698.9h.5M322.7 779.8h.5M325.6 689.8h.5M323.1 658.6h.5M399.2 691.5h.5M396.9 729.1h.5M396.9 747.1h.5M399.7 762.1h.5M399.9 747.5h.5" stroke="#7f7f7f" stroke-width=".5" opacity=".65" fill="none"/>
<path d="M333.4 711.6h.5M334.2 697.9h.5M336.8 709.6h.5M337.0 715.5h.5M337.6 713.4h.5M339.4 712.5h.5M339.9 711.3h.5M336.2 704.3h.5M339.7 708.2h.5M335.3 713.2h.5M339.3 710.0h.5M332.9 710.1h.5M338.5 708.7h.5M339.4 706.0h.5M335.8 719.8h.5M335.0 714.4h.5M334.0 716.9h.5M335.3 718.0h.5M335.9 714.0h.5M337.2 715.5h.5M337.9 705.6h.5M333.9 719.2h.5M336.9 719.7h.5M338.5 700.3h.5M333.8 708.4h.5M335.8 722.5h.5M332.0 714.6h.5M338.2 728.6h.5M333.2 725.9h.5M336.6 698.7h.5M338.1 711.3h.5M334.2 710.1h.5M336.1 706.8h.5M338.8 709.1h.5M333.4 711.3h.5M337.7 711.8h.5M339.7 708.3h.5M333.3 706.4h.5M337.2 714.1h.5M339.7 711.6h.5M332.3 729.4h.5M339.2 713.7h.5M335.1 713.1h.5M333.4 712.7h.5M333.0 709.2h.5M332.9 717.3h.5M335.5 727.8h.5M339.9 709.0h.5M337.4 710.8h.5M334.9 712.6h.5M336.2 709.8h.5M338.2 712.1h.5M334.9 723.8h.5M333.0 711.4h.5M331.9 714.3h.5M339.5 710.0h.5M336.6 709.8h.5M333.5 720.0h.5M335.2 702.0h.5M334.0 704.8h.5M333.0 712.3h.5M336.5 712.2h.5M336.3 713.2h.5M335.1 715.3h.5M339.3 715.4h.5M335.8 715.2h.5M334.9 712.9h.5M339.4 720.6h.5M334.8 713.2h.5M336.8 704.7h.5M335.3 714.9h.5M333.6 706.3h.5M332.3 715.1h.5M335.6 718.9h.5M335.2 710.3h.5M339.7 710.8h.5M334.6 700.6h.5M335.2 700.8h.5M338.7 712.9h.5M334.7 720.0h.5M334.8 717.3h.5M332.9 708.3h.5M332.1 719.2h.5M335.6 702.4h.5M335.0 710.6h.5M338.3 714.6h.5M337.8 697.6h.5M337.1 716.1h.5M337.1 707.0h.5M333.6 680.2h.5M337.2 710.1h.5M334.3 711.6h.5M332.9 706.1h.5M339.9 717.3h.5M333.4 704.5h.5M336.7 708.9h.5M333.7 705.9h.5M337.2 701.7h.5M333.9 702.2h.5M331.8 706.9h.5M338.5 713.4h.5M332.5 671.9h.5M330.5 682.4h.5M331.3 671.9h.5M332.8 670.5h.5M330.8 676.2h.5M331.5 672.7h.5M331.9 661.1h.5M331.1 685.6h.5M333.3 665.1h.5M332.1 671.8h.5M332.4 663.6h.5M331.8 674.2h.5M331.1 667.1h.5M331.4 673.0h.5M331.3 682.4h.5M332.2 661.8h.5M331.7 682.0h.5M331.3 683.7h.5M331.0 664.4h.5M330.2 675.8h.5M331.7 661.6h.5M332.2 685.0h.5M331.8 683.7h.5M331.5 676.7h.5M331.9 665.1h.5M333.2 680.6h.5M330.4 680.5h.5M331.9 669.9h.5M329.9 679.0h.5M333.0 671.7h.5M331.8 686.0h.5M331.9 678.6h.5M330.7 675.4h.5M331.6 665.8h.5M331.6 666.7h.5M331.1 676.5h.5M329.7 680.0h.5M331.3 666.6h.5M331.3 675.3h.5M331.7 678.3h.5M401.6 682.4h.5M402.7 674.7h.5M402.7 686.2h.5M400.7 693.7h.5M400.7 692.1h.5M401.3 692.3h.5M400.6 691.4h.5M399.8 694.8h.5M402.0 673.8h.5M402.2 683.4h.5M403.1 680.0h.5M401.3 679.8h.5M401.9 684.7h.5M402.0 671.2h.5M400.5 674.1h.5M400.4 675.9h.5M402.1 688.7h.5M402.0 691.8h.5M402.7 673.7h.5M402.5 669.0h.5M401.0 681.3h.5M401.5 678.6h.5M401.8 681.7h.5M399.9 679.0h.5M402.3 693.1h.5M401.5 672.6h.5M403.4 684.4h.5M401.9 669.8h.5M400.2 688.9h.5M403.3 676.7h.5M403.9 691.9h.5M403.3 683.2h.5M404.2 674.4h.5M403.3 688.3h.5M401.1 680.1h.5M402.1 691.7h.5M403.2 688.7h.5M401.8 681.1h.5M401.6 676.3h.5M400.6 684.9h.5M401.6 668.4h.5M401.7 680.0h.5M402.6 676.2h.5M403.0 714.5h.5M403.1 719.9h.5M403.7 722.8h.5M404.0 706.2h.5M403.6 711.2h.5M403.7 716.0h.5M402.9 696.7h.5M403.0 720.4h.5M403.0 713.5h.5M403.4 712.4h.5M402.9 705.9h.5M403.8 714.0h.5M403.8 713.9h.5M404.0 703.6h.5M403.4 709.0h.5M403.9 717.6h.5M402.9 713.3h.5M403.3 724.2h.5M404.1 710.7h.5M402.9 714.9h.5M402.4 750.0h.5M401.8 754.0h.5M403.2 746.2h.5M402.6 749.9h.5M401.6 746.1h.5M403.0 745.2h.5M401.8 742.9h.5M402.2 745.3h.5M402.7 746.4h.5M402.1 741.6h.5M402.7 743.9h.5M402.6 756.3h.5M402.4 751.7h.5M402.0 747.0h.5M403.0 737.8h.5M402.8 742.7h.5M400.6 754.8h.5M403.9 748.0h.5M402.0 753.3h.5M401.5 744.4h.5M402.2 741.5h.5M332.8 647.6h.5M336.0 730.8h.5M338.7 675.2h.5M338.3 745.5h.5M331.7 665.9h.5M332.9 763.3h.5M337.8 646.4h.5M333.3 660.7h.5M336.7 699.4h.5M339.5 758.5h.5M402.6 773.4h.5M403.8 716.6h.5M403.0 759.3h.5M403.9 717.4h.5" stroke="#bcbd22" stroke-width=".5" opacity=".65" fill="none"/>
<path d="M342.7 721.0h.5M341.3 734.4h.5M347.5 736.2h.5M347.6 727.4h.5M340.2 724.9h.5M345.4 721.8h.5M345.3 724.8h.5M345.3 722.4h.5M340.3 736.9h.5M344.2 723.2h.5M346.0 698.7h.5M344.9 716.8h.5M341.9 727.9h.5M341.3 731.9h.5M344.0 709.4h.5M346.2 720.4h.5M347.0 729.8h.5M346.4 730.2h.5M347.4 733.4h.5M340.4 718.1h.5M341.1 729.2h.5M340.4 729.0h.5M346.9 727.3h.5M340.1 733.7h.5M344.4 738.7h.5M340.8 729.2h.5M344.7 721.3h.5M345.7 720.2h.5M344.6 725.1h.5M344.6 721.4h.5M344.6 718.4h.5M343.8 725.8h.5M342.4 725.4h.5M344.1 738.1h.5M342.0 725.9h.5M346.6 726.3h.5M343.0 731.7h.5M340.6 735.2h.5M344.4 725.6h.5M344.9 723.4h.5M347.7 723.5h.5M342.2 719.2h.5M346.6 723.2h.5M344.2 724.4h.5M345.3 726.5h.5M343.9 721.8h.5M343.2 723.5h.5M343.3 726.5h.5M341.2 729.6h.5M347.1 707.5h.5M346.1 730.7h.5M344.2 727.6h.5M341.8 729.5h.5M344.5 724.3h.5M345.2 736.3h.5M346.4 723.6h.5M344.0 730.2h.5M342.6 729.9h.5M342.6 729.6h.5M343.3 725.5h.5M340.4 725.2h.5M342.1 732.8h.5M347.3 722.9h.5M346.4 722.3h.5M341.9 730.2h.5M340.2 722.5h.5M341.9 730.1h.5M342.6 737.1h.5M342.4 723.7h.5M344.2 725.1h.5M346.4 720.4h.5M343.8 726.0h.5M342.4 729.3h.5M344.8 732.5h.5M344.1 733.9h.5M347.3 736.2h.5M346.0 731.4h.5M343.1 721.0h.5M345.8 720.7h.5M342.7 729.1h.5M342.6 719.6h.5M347.0 727.5h.5M341.2 718.2h.5M345.3 730.3h.5M341.5 725.7h.5M347.7 734.0h.5M340.7 731.7h.5M345.8 721.1h.5M342.9 728.2h.5M347.0 733.1h.5M341.5 741.5h.5M347.1 726.9h.5M345.9 721.7h.5M342.7 733.0h.5M340.7 732.6h.5M345.7 735.4h.5M345.8 726.4h.5M342.1 729.3h.5M343.7 715.0h.5M343.5 727.3h.5M344.8 730.2h.5M347.3 746.4h.5M346.4 752.8h.5M346.6 743.5h.5M347.2 739.0h.5M347.1 739.7h.5M346.9 749.8h.5M346.3 743.5h.5M346.8 745.1h.5M346.3 746.0h.5M346.4 733.9h.5M346.8 741.7h.5M347.0 751.6h.5M346.5 741.7h.5M346.3 747.3h.5M346.5 747.6h.5M347.4 741.5h.5M347.2 743.8h.5M346.2 742.9h.5M346.5 747.0h.5M347.0 746.0h.5M405.6 705.8h.5M405.7 707.6h.5M406.9 708.0h.5M407.7 715.4h.5M408.2 692.1h.5M406.2 705.7h.5M405.1 719.4h.5M405.3 713.8h.5M408.4 723.5h.5M405.8 704.0h.5M407.4 710.8h.5M405.9 719.9h.5M407.1 708.5h.5M407.7 716.1h.5M405.9 696.2h.5M405.5 719.4h.5M408.0 719.1h.5M406.6 689.6h.5M405.3 712.5h.5M405.9 705.9h.5M404.8 713.1h.5M406.5 705.1h.5M407.6 705.7h.5M406.0 712.6h.5M406.8 704.4h.5M408.2 709.0h.5M405.0 711.0h.5M406.1 717.1h.5M405.4 710.9h.5M405.4 713.1h.5M405.9 709.7h.5M408.5 706.0h.5M407.6 698.9h.5M404.5 707.0h.5M406.0 711.2h.5M405.1 713.5h.5M406.0 708.1h.5M405.2 697.9h.5M408.3 717.2h.5M406.7 716.9h.5M404.5 712.0h.5M405.0 718.6h.5M404.8 711.1h.5M406.8 701.1h.5M405.5 708.3h.5M408.4 708.8h.5M406.2 701.8h.5M405.8 704.2h.5M405.9 710.2h.5M408.1 702.3h.5M406.5 707.8h.5M405.3 710.6h.5M342.5 676.7h.5M344.3 696.0h.5M346.8 665.1h.5M347.4 722.5h.5M343.4 777.3h.5M343.0 748.9h.5M348.2 766.4h.5M348.4 701.4h.5M346.6 758.0h.5M342.6 702.9h.5M407.7 751.0h.5M409.2 665.9h.5M409.1 678.4h.5M407.0 743.6h.5" stroke="#17becf" stroke-width=".5" opacity=".65" fill="none"/>
<rect x="234.4" y="635.3" width="194.6" height="148.7" fill="none" stroke="#808080" stroke-width="0.7"/>
<text x="236.80" y="634.30" font-size="3.7" fill="#3f8ccb">03EM2_RD</text>
<text x="242.23" y="788.60" font-size="3.5" text-anchor="middle" fill="#222">1</text>
<line x1="234.40" y1="784.00" x2="234.40" y2="785.20" stroke="#444" stroke-width="0.4"/>
<text x="257.71" y="788.60" font-size="3.5" text-anchor="middle" fill="#222">2</text>
<line x1="250.07" y1="784.00" x2="250.07" y2="785.20" stroke="#444" stroke-width="0.4"/>
<text x="271.58" y="788.60" font-size="3.5" text-anchor="middle" fill="#222">3</text>
<line x1="265.36" y1="784.00" x2="265.36" y2="785.20" stroke="#444" stroke-width="0.4"/>
<text x="283.81" y="788.60" font-size="3.5" text-anchor="middle" fill="#222">4</text>
<line x1="277.80" y1="784.00" x2="277.80" y2="785.20" stroke="#444" stroke-width="0.4"/>
<text x="295.51" y="788.60" font-size="3.5" text-anchor="middle" fill="#222">5</text>
<line x1="289.82" y1="784.00" x2="289.82" y2="785.20" stroke="#444" stroke-width="0.4"/>
<text x="306.57" y="788.60" font-size="3.5" text-anchor="middle" fill="#222">6</text>
<line x1="301.19" y1="784.00" x2="301.19" y2="785.20" stroke="#444" stroke-width="0.4"/>
<text x="316.95" y="788.60" font-size="3.5" text-anchor="middle" fill="#222">7</text>
<line x1="311.95" y1="784.00" x2="311.95" y2="785.20" stroke="#444" stroke-width="0.4"/>
<text x="326.55" y="788.60" font-size="3.5" text-anchor="middle" fill="#222">8</text>
<line x1="321.95" y1="784.00" x2="321.95" y2="785.20" stroke="#444" stroke-width="0.4"/>
<text x="335.59" y="788.60" font-size="3.5" text-anchor="middle" fill="#222">9</text>
<line x1="331.15" y1="784.00" x2="331.15" y2="785.20" stroke="#444" stroke-width="0.4"/>
<text x="344.29" y="788.60" font-size="3.5" text-anchor="middle" fill="#222">10</text>
<line x1="340.03" y1="784.00" x2="340.03" y2="785.20" stroke="#444" stroke-width="0.4"/>
<text x="352.79" y="788.60" font-size="3.5" text-anchor="middle" fill="#222">11</text>
<line x1="348.55" y1="784.00" x2="348.55" y2="785.20" stroke="#444" stroke-width="0.4"/>
<text x="361.24" y="788.60" font-size="3.5" text-anchor="middle" fill="#222">12</text>
<line x1="357.04" y1="784.00" x2="357.04" y2="785.20" stroke="#444" stroke-width="0.4"/>
<text x="369.07" y="788.60" font-size="3.5" text-anchor="middle" fill="#222">13</text>
<line x1="365.45" y1="784.00" x2="365.45" y2="785.20" stroke="#444" stroke-width="0.4"/>
<text x="376.07" y="788.60" font-size="3.5" text-anchor="middle" fill="#222">14</text>
<line x1="372.69" y1="784.00" x2="372.69" y2="785.20" stroke="#444" stroke-width="0.4"/>
<text x="382.66" y="788.60" font-size="3.5" text-anchor="middle" fill="#222">15</text>
<line x1="379.44" y1="784.00" x2="379.44" y2="785.20" stroke="#444" stroke-width="0.4"/>
<text x="388.72" y="788.60" font-size="3.5" text-anchor="middle" fill="#222">16</text>
<line x1="385.88" y1="784.00" x2="385.88" y2="785.20" stroke="#444" stroke-width="0.4"/>
<text x="394.12" y="788.60" font-size="3.5" text-anchor="middle" fill="#222">17</text>
<line x1="391.57" y1="784.00" x2="391.57" y2="785.20" stroke="#444" stroke-width="0.4"/>
<text x="399.12" y="788.60" font-size="3.5" text-anchor="middle" fill="#222">18</text>
<line x1="396.67" y1="784.00" x2="396.67" y2="785.20" stroke="#444" stroke-width="0.4"/>
<text x="403.44" y="788.60" font-size="3.5" text-anchor="middle" fill="#222">19</text>
<line x1="401.58" y1="784.00" x2="401.58" y2="785.20" stroke="#444" stroke-width="0.4"/>
<text x="407.27" y="788.60" font-size="3.5" text-anchor="middle" fill="#222">20</text>
<line x1="405.29" y1="784.00" x2="405.29" y2="785.20" stroke="#444" stroke-width="0.4"/>
<text x="410.77" y="788.60" font-size="3.5" text-anchor="middle" fill="#222">21</text>
<line x1="409.25" y1="784.00" x2="409.25" y2="785.20" stroke="#444" stroke-width="0.4"/>
<text x="413.89" y="788.60" font-size="3.5" text-anchor="middle" fill="#222">22</text>
<line x1="412.28" y1="784.00" x2="412.28" y2="785.20" stroke="#444" stroke-width="0.4"/>
<text x="420.38" y="788.60" font-size="3.5" text-anchor="middle" fill="#222">X</text>
<line x1="415.50" y1="784.00" x2="415.50" y2="785.20" stroke="#444" stroke-width="0.4"/>
<text x="427.13" y="788.60" font-size="3.5" text-anchor="middle" fill="#222">Y</text>
<line x1="425.27" y1="784.00" x2="425.27" y2="785.20" stroke="#444" stroke-width="0.4"/>
<text x="232.10" y="785.25" font-size="3.6" text-anchor="end" fill="#222">0</text>
<line x1="233.20" y1="784.00" x2="234.40" y2="784.00" stroke="#444" stroke-width="0.4"/>
<text x="232.10" y="748.08" font-size="3.6" text-anchor="end" fill="#222">1</text>
<line x1="233.20" y1="746.83" x2="234.40" y2="746.83" stroke="#444" stroke-width="0.4"/>
<text x="232.10" y="710.90" font-size="3.6" text-anchor="end" fill="#222">2</text>
<line x1="233.20" y1="709.65" x2="234.40" y2="709.65" stroke="#444" stroke-width="0.4"/>
<text x="232.10" y="673.72" font-size="3.6" text-anchor="end" fill="#222">3</text>
<line x1="233.20" y1="672.47" x2="234.40" y2="672.47" stroke="#444" stroke-width="0.4"/>
<text x="227.70" y="709.95" font-size="3.2" text-anchor="middle" fill="#111" transform="rotate(-90 227.70 709.95)" stroke="#111" stroke-width="0.15">RD (CN)</text>
</g>
<g>
<line x1="452.40" y1="749.23" x2="647.60" y2="749.23" stroke="#bdbdbd" stroke-width="0.5"/>
<line x1="452.40" y1="712.05" x2="647.60" y2="712.05" stroke="#bdbdbd" stroke-width="0.5"/>
<line x1="452.40" y1="674.88" x2="647.60" y2="674.88" stroke="#bdbdbd" stroke-width="0.5"/>
<line x1="468.12" y1="637.70" x2="468.12" y2="786.40" stroke="#bdbdbd" stroke-width="0.5"/>
<line x1="483.45" y1="637.70" x2="483.45" y2="786.40" stroke="#bdbdbd" stroke-width="0.5"/>
<line x1="495.94" y1="637.70" x2="495.94" y2="786.40" stroke="#bdbdbd" stroke-width="0.5"/>
<line x1="507.99" y1="637.70" x2="507.99" y2="786.40" stroke="#bdbdbd" stroke-width="0.5"/>
<line x1="519.40" y1="637.70" x2="519.40" y2="786.40" stroke="#bdbdbd" stroke-width="0.5"/>
<line x1="530.19" y1="637.70" x2="530.19" y2="786.40" stroke="#bdbdbd" stroke-width="0.5"/>
<line x1="540.22" y1="637.70" x2="540.22" y2="786.40" stroke="#bdbdbd" stroke-width="0.5"/>
<line x1="549.45" y1="637.70" x2="549.45" y2="786.40" stroke="#bdbdbd" stroke-width="0.5"/>
<line x1="558.36" y1="637.70" x2="558.36" y2="786.40" stroke="#bdbdbd" stroke-width="0.5"/>
<line x1="566.90" y1="637.70" x2="566.90" y2="786.40" stroke="#bdbdbd" stroke-width="0.5"/>
<line x1="575.41" y1="637.70" x2="575.41" y2="786.40" stroke="#bdbdbd" stroke-width="0.5"/>
<line x1="583.86" y1="637.70" x2="583.86" y2="786.40" stroke="#bdbdbd" stroke-width="0.5"/>
<line x1="591.12" y1="637.70" x2="591.12" y2="786.40" stroke="#bdbdbd" stroke-width="0.5"/>
<line x1="597.89" y1="637.70" x2="597.89" y2="786.40" stroke="#bdbdbd" stroke-width="0.5"/>
<line x1="604.35" y1="637.70" x2="604.35" y2="786.40" stroke="#bdbdbd" stroke-width="0.5"/>
<line x1="610.05" y1="637.70" x2="610.05" y2="786.40" stroke="#bdbdbd" stroke-width="0.5"/>
<line x1="615.17" y1="637.70" x2="615.17" y2="786.40" stroke="#bdbdbd" stroke-width="0.5"/>
<line x1="620.09" y1="637.70" x2="620.09" y2="786.40" stroke="#bdbdbd" stroke-width="0.5"/>
<line x1="623.82" y1="637.70" x2="623.82" y2="786.40" stroke="#bdbdbd" stroke-width="0.5"/>
<line x1="627.79" y1="637.70" x2="627.79" y2="786.40" stroke="#bdbdbd" stroke-width="0.5"/>
<line x1="630.83" y1="637.70" x2="630.83" y2="786.40" stroke="#bdbdbd" stroke-width="0.5"/>
<line x1="634.06" y1="637.70" x2="634.06" y2="786.40" stroke="#bdbdbd" stroke-width="0.5"/>
<line x1="643.85" y1="637.70" x2="643.85" y2="786.40" stroke="#bdbdbd" stroke-width="0.5"/>
<rect x="452.4" y="717.2" width="7.1" height="9.4" fill="#1f77b4" filter="url(#fb)"/>
<rect x="462.3" y="636.3" width="1.7" height="12.2" fill="#1f77b4" opacity="0.8" filter="url(#fc)"/>
<rect x="462.5" y="655.3" width="1.2" height="13.6" fill="#1f77b4" opacity="0.8" filter="url(#fc)"/>
<rect x="463.5" y="671.6" width="1.0" height="12.2" fill="#1f77b4" opacity="0.8" filter="url(#fc)"/>
<rect x="458.6" y="737.9" width="1.7" height="7.3" fill="#1f77b4" filter="url(#fb)"/>
<rect x="464.3" y="717.5" width="1.7" height="7.3" fill="#1f77b4" filter="url(#fb)"/>
<rect x="465.4" y="738.6" width="2.7" height="7.3" fill="#1f77b4" filter="url(#fb)"/>
<rect x="459.9" y="758.5" width="1.0" height="4.8" fill="#1f77b4" opacity="0.8" filter="url(#fc)"/>
<rect x="468.1" y="697.8" width="9.2" height="9.4" fill="#ff7f0e" filter="url(#fb)"/>
<rect x="477.2" y="700.2" width="4.4" height="9.4" fill="#ff7f0e" filter="url(#fb)"/>
<rect x="476.4" y="661.4" width="1.4" height="12.6" fill="#ff7f0e" opacity="0.8" filter="url(#fc)"/>
<rect x="480.0" y="652.3" width="1.4" height="18.7" fill="#ff7f0e" opacity="0.8" filter="url(#fc)"/>
<rect x="481.7" y="737.9" width="1.7" height="7.3" fill="#ff7f0e" filter="url(#fb)"/>
<rect x="484.0" y="717.2" width="3.4" height="9.4" fill="#2ca02c" filter="url(#fb)"/>
<rect x="488.1" y="698.5" width="7.8" height="9.4" fill="#2ca02c" filter="url(#fb)"/>
<rect x="490.1" y="718.2" width="2.4" height="7.3" fill="#2ca02c" filter="url(#fb)"/>
<rect x="493.2" y="739.5" width="1.0" height="5.4" fill="#2ca02c" opacity="0.8" filter="url(#fc)"/>
<rect x="487.1" y="739.5" width="1.0" height="5.4" fill="#2ca02c" opacity="0.8" filter="url(#fc)"/>
<rect x="495.9" y="736.9" width="7.5" height="9.4" fill="#d62728" filter="url(#fb)"/>
<rect x="498.6" y="718.2" width="2.0" height="7.3" fill="#d62728" filter="url(#fb)"/>
<rect x="502.7" y="702.9" width="5.4" height="9.4" fill="#d62728" filter="url(#fb)"/>
<rect x="508.1" y="698.5" width="5.4" height="9.4" fill="#9467bd" filter="url(#fb)"/>
<rect x="513.6" y="704.3" width="6.1" height="9.4" fill="#9467bd" filter="url(#fb)"/>
<rect x="513.2" y="720.2" width="1.0" height="10.2" fill="#9467bd" opacity="0.8" filter="url(#fc)"/>
<rect x="519.7" y="718.9" width="10.9" height="9.4" fill="#8c564b" filter="url(#fb)"/>
<rect x="518.7" y="699.8" width="1.0" height="6.8" fill="#8c564b" opacity="0.8" filter="url(#fc)"/>
<rect x="530.5" y="698.5" width="9.5" height="9.4" fill="#e377c2" filter="url(#fb)"/>
<rect x="539.0" y="718.5" width="1.0" height="6.8" fill="#e377c2" opacity="0.8" filter="url(#fc)"/>
<rect x="530.2" y="738.8" width="1.0" height="5.4" fill="#e377c2" opacity="0.8" filter="url(#fc)"/>
<rect x="540.7" y="678.8" width="7.8" height="9.4" fill="#7f7f7f" filter="url(#fb)"/>
<rect x="548.5" y="696.4" width="1.0" height="10.2" fill="#7f7f7f" opacity="0.8" filter="url(#fc)"/>
<rect x="549.2" y="670.3" width="1.0" height="8.1" fill="#bcbd22" opacity="0.8" filter="url(#fc)"/>
<rect x="550.2" y="711.4" width="2.0" height="7.3" fill="#bcbd22" filter="url(#fb)"/>
<rect x="553.6" y="717.8" width="4.1" height="9.4" fill="#bcbd22" filter="url(#fb)"/>
<rect x="557.7" y="717.8" width="8.1" height="9.4" fill="#17becf" filter="url(#fb)"/>
<rect x="564.8" y="738.8" width="1.0" height="5.4" fill="#17becf" opacity="0.8" filter="url(#fc)"/>
<rect x="565.9" y="718.9" width="2.0" height="7.3" fill="#1f77b4" filter="url(#fb)"/>
<rect x="567.9" y="696.8" width="6.8" height="9.4" fill="#1f77b4" filter="url(#fb)"/>
<rect x="575.7" y="698.5" width="7.8" height="9.4" fill="#ff7f0e" filter="url(#fb)"/>
<rect x="574.7" y="717.2" width="4.4" height="9.4" fill="#ff7f0e" filter="url(#fb)"/>
<rect x="584.2" y="736.9" width="6.1" height="9.4" fill="#2ca02c" filter="url(#fb)"/>
<rect x="592.0" y="737.9" width="1.4" height="7.3" fill="#d62728" filter="url(#fb)"/>
<rect x="593.7" y="655.7" width="1.4" height="13.6" fill="#d62728" opacity="0.8" filter="url(#fc)"/>
<rect x="594.0" y="677.7" width="1.0" height="10.2" fill="#d62728" opacity="0.8" filter="url(#fc)"/>
<rect x="594.4" y="698.5" width="2.4" height="7.3" fill="#d62728" filter="url(#fb)"/>
<rect x="598.5" y="698.5" width="5.1" height="9.4" fill="#9467bd" filter="url(#fb)"/>
<rect x="604.2" y="677.7" width="1.4" height="10.2" fill="#8c564b" opacity="0.8" filter="url(#fc)"/>
<rect x="604.6" y="717.8" width="4.4" height="9.4" fill="#8c564b" filter="url(#fb)"/>
<rect x="602.5" y="738.8" width="1.0" height="5.4" fill="#8c564b" opacity="0.8" filter="url(#fc)"/>
<rect x="609.7" y="698.5" width="5.1" height="9.4" fill="#e377c2" filter="url(#fb)"/>
<rect x="609.3" y="737.8" width="1.0" height="5.4" fill="#e377c2" opacity="0.8" filter="url(#fc)"/>
<rect x="614.8" y="717.2" width="5.1" height="9.4" fill="#7f7f7f" filter="url(#fb)"/>
<rect x="619.9" y="674.3" width="1.4" height="13.6" fill="#bcbd22" opacity="0.8" filter="url(#fc)"/>
<rect x="621.5" y="739.5" width="1.0" height="5.4" fill="#bcbd22" opacity="0.8" filter="url(#fc)"/>
<rect x="623.2" y="698.5" width="4.1" height="9.4" fill="#17becf" filter="url(#fb)"/>
<rect x="629.0" y="650.6" width="1.4" height="15.3" fill="#1f77b4" opacity="0.8" filter="url(#fc)"/>
<rect x="629.4" y="677.0" width="1.0" height="8.1" fill="#1f77b4" opacity="0.8" filter="url(#fc)"/>
<rect x="629.4" y="715.8" width="1.0" height="5.4" fill="#1f77b4" opacity="0.8" filter="url(#fc)"/>
<rect x="631.7" y="697.2" width="2.4" height="7.3" fill="#ff7f0e" filter="url(#fb)"/>
<rect x="632.1" y="717.8" width="1.0" height="4.8" fill="#ff7f0e" opacity="0.8" filter="url(#fc)"/>
<rect x="634.1" y="742.6" width="9.5" height="6.0" fill="#2ca02c" filter="url(#fb)"/>
<rect x="635.5" y="723.6" width="1.0" height="6.8" fill="#2ca02c" opacity="0.8" filter="url(#fc)"/>
<rect x="643.6" y="743.3" width="2.4" height="6.0" fill="#d62728" filter="url(#fb)"/>
<path d="M458.4 722.3h.5M459.1 717.7h.5M457.5 725.4h.5M454.7 719.8h.5M453.5 725.3h.5M455.7 728.5h.5M453.6 722.9h.5M455.7 728.5h.5M457.0 721.0h.5M459.1 720.6h.5M458.1 718.2h.5M457.5 731.5h.5M454.9 725.8h.5M457.5 731.0h.5M454.8 726.6h.5M456.7 724.6h.5M457.1 717.1h.5M455.2 724.8h.5M459.0 716.1h.5M457.0 717.0h.5M453.0 720.8h.5M452.6 715.3h.5M459.2 726.3h.5M453.4 722.5h.5M452.8 718.6h.5M454.9 721.2h.5M455.2 720.2h.5M455.5 723.1h.5M454.9 721.6h.5M458.3 716.1h.5M455.6 718.6h.5M455.9 714.6h.5M459.2 736.3h.5M453.7 722.9h.5M459.3 721.0h.5M459.0 719.3h.5M459.1 714.5h.5M453.7 720.2h.5M455.5 723.4h.5M453.2 715.6h.5M457.5 723.6h.5M452.7 726.4h.5M458.1 717.6h.5M458.6 727.2h.5M455.7 714.0h.5M453.8 713.9h.5M453.4 722.1h.5M453.7 742.7h.5M457.0 720.3h.5M455.9 736.3h.5M457.1 719.0h.5M459.1 722.5h.5M454.8 727.5h.5M456.6 726.6h.5M456.4 724.5h.5M458.7 722.1h.5M457.8 721.5h.5M456.3 728.5h.5M457.3 729.8h.5M459.6 718.9h.5M459.5 713.1h.5M454.8 711.2h.5M456.8 740.7h.5M457.6 719.6h.5M458.1 723.5h.5M459.3 731.5h.5M455.2 719.1h.5M454.0 716.0h.5M453.0 730.6h.5M459.5 718.6h.5M455.9 731.9h.5M453.2 719.0h.5M456.4 718.0h.5M454.6 720.9h.5M459.3 723.5h.5M453.4 710.9h.5M457.1 725.7h.5M459.0 730.5h.5M456.8 722.7h.5M453.3 711.1h.5M457.0 718.9h.5M455.0 732.5h.5M459.1 715.8h.5M456.3 722.6h.5M457.1 725.2h.5M458.0 724.0h.5M452.6 726.4h.5M459.5 720.1h.5M455.0 721.7h.5M461.5 646.5h.5M462.3 652.8h.5M463.2 653.6h.5M462.5 648.0h.5M461.3 650.5h.5M463.0 645.8h.5M464.6 649.0h.5M462.1 646.7h.5M461.9 648.2h.5M462.8 638.9h.5M466.2 643.5h.5M464.7 641.7h.5M461.6 645.5h.5M463.2 643.7h.5M461.1 644.2h.5M465.1 645.9h.5M462.5 639.9h.5M464.1 646.5h.5M462.4 639.7h.5M464.1 652.6h.5M465.4 650.3h.5M462.8 640.3h.5M462.9 656.2h.5M464.7 648.8h.5M463.7 667.0h.5M462.9 672.8h.5M464.1 669.5h.5M463.0 653.3h.5M462.5 670.7h.5M463.1 664.1h.5M465.6 662.9h.5M464.0 672.9h.5M464.2 661.4h.5M462.4 668.1h.5M462.4 649.4h.5M463.1 670.4h.5M464.4 664.0h.5M462.3 672.4h.5M462.7 671.0h.5M463.8 673.7h.5M461.9 666.3h.5M462.6 660.0h.5M462.7 665.5h.5M463.2 671.5h.5M462.1 669.5h.5M464.3 668.3h.5M463.6 665.9h.5M464.0 673.7h.5M463.5 654.6h.5M463.1 671.2h.5M463.8 657.7h.5M464.1 668.4h.5M462.3 664.0h.5M463.4 673.9h.5M463.9 669.1h.5M462.1 674.8h.5M462.7 670.6h.5M461.7 652.4h.5M462.3 663.1h.5M462.7 651.7h.5M462.8 671.8h.5M464.3 676.3h.5M464.5 671.6h.5M462.8 660.1h.5M463.7 668.0h.5M463.7 664.8h.5M463.6 668.2h.5M464.1 690.3h.5M462.7 689.1h.5M464.1 685.0h.5M463.2 687.0h.5M462.7 674.1h.5M465.3 683.4h.5M464.3 668.2h.5M464.7 677.6h.5M463.4 667.7h.5M464.7 684.2h.5M465.0 680.6h.5M462.9 686.3h.5M463.6 691.3h.5M464.3 685.9h.5M464.1 683.7h.5M463.8 676.3h.5M463.3 678.0h.5M464.9 669.9h.5M463.9 678.7h.5M463.8 690.2h.5M463.3 685.2h.5M463.5 683.6h.5M464.0 676.9h.5M464.8 681.7h.5M463.7 674.5h.5M464.3 671.4h.5M464.5 678.9h.5M463.7 688.1h.5M465.2 683.4h.5M463.7 685.3h.5M464.0 676.1h.5M464.2 681.8h.5M463.7 688.1h.5M463.4 672.4h.5M464.6 666.0h.5M464.6 687.3h.5M463.5 665.7h.5M464.6 687.4h.5M463.1 673.6h.5M459.0 736.8h.5M458.9 747.7h.5M458.9 741.9h.5M459.7 739.8h.5M460.2 740.9h.5M460.1 737.1h.5M459.7 746.9h.5M459.6 744.9h.5M459.4 742.7h.5M459.2 735.4h.5M459.1 741.7h.5M459.6 741.1h.5M459.2 734.8h.5M459.8 748.1h.5M459.6 737.2h.5M459.5 738.7h.5M460.2 744.8h.5M459.1 739.8h.5M459.0 741.4h.5M459.0 734.2h.5M460.1 740.9h.5M459.4 737.8h.5M460.0 735.9h.5M458.7 748.6h.5M464.9 723.8h.5M465.8 718.8h.5M465.3 723.0h.5M465.9 709.8h.5M466.0 722.7h.5M465.4 699.2h.5M465.3 716.3h.5M464.9 715.0h.5M464.8 718.6h.5M465.2 719.9h.5M464.8 723.2h.5M465.3 726.2h.5M465.8 723.5h.5M464.6 726.6h.5M465.3 714.6h.5M464.5 720.4h.5M465.9 721.0h.5M464.5 724.1h.5M464.9 723.7h.5M464.5 720.6h.5M465.5 721.8h.5M464.6 718.5h.5M464.8 736.0h.5M465.7 726.0h.5M465.7 731.2h.5M465.7 748.2h.5M467.4 739.5h.5M468.0 744.1h.5M467.0 746.4h.5M466.0 757.4h.5M467.6 746.6h.5M465.9 744.9h.5M465.9 747.3h.5M466.5 746.6h.5M466.2 738.0h.5M467.3 733.5h.5M466.4 748.6h.5M466.4 750.3h.5M466.5 736.6h.5M466.6 739.3h.5M466.0 743.0h.5M466.8 742.2h.5M465.8 749.2h.5M466.1 746.7h.5M467.0 743.9h.5M465.5 748.4h.5M467.0 746.2h.5M466.9 751.7h.5M466.5 746.9h.5M466.0 741.6h.5M466.1 753.2h.5M467.4 739.5h.5M467.2 745.8h.5M467.5 740.8h.5M466.6 740.4h.5M465.4 730.8h.5M465.5 749.8h.5M465.7 736.6h.5M465.5 737.0h.5M465.9 747.4h.5M461.8 765.7h.5M460.0 756.4h.5M459.3 756.1h.5M460.6 757.8h.5M460.5 762.9h.5M461.3 761.9h.5M460.8 758.3h.5M461.1 768.5h.5M460.7 766.4h.5M460.1 755.7h.5M459.5 767.0h.5M461.1 759.3h.5M460.8 756.1h.5M461.0 763.3h.5M460.5 761.9h.5M460.8 770.6h.5M459.1 756.8h.5M566.2 726.6h.5M567.0 724.5h.5M567.5 712.9h.5M567.3 719.6h.5M567.5 726.3h.5M566.3 721.9h.5M567.6 725.8h.5M566.9 727.6h.5M566.1 729.7h.5M567.1 720.4h.5M566.9 721.6h.5M566.3 721.5h.5M567.2 728.9h.5M567.8 721.7h.5M566.6 717.0h.5M566.6 720.8h.5M566.2 733.0h.5M566.5 723.8h.5M567.1 722.7h.5M566.8 724.1h.5M566.9 720.1h.5M567.9 733.4h.5M566.3 717.1h.5M567.4 726.7h.5M566.9 721.6h.5M566.6 704.3h.5M566.7 721.8h.5M567.8 721.5h.5M568.3 703.3h.5M568.1 699.3h.5M574.0 705.8h.5M573.4 702.1h.5M573.3 704.4h.5M573.1 710.3h.5M570.9 715.4h.5M568.4 694.3h.5M569.4 695.6h.5M571.0 688.4h.5M567.9 703.8h.5M573.1 698.2h.5M570.4 699.5h.5M569.3 704.7h.5M574.4 692.6h.5M572.3 705.9h.5M570.4 698.3h.5M574.3 696.5h.5M570.5 698.0h.5M570.3 700.0h.5M573.2 707.2h.5M571.2 695.7h.5M573.3 702.5h.5M568.5 698.7h.5M569.2 697.3h.5M571.9 700.7h.5M572.8 698.3h.5M570.1 703.5h.5M573.3 708.3h.5M573.9 707.1h.5M569.3 703.0h.5M571.6 704.6h.5M568.9 690.8h.5M574.1 703.1h.5M567.9 697.9h.5M573.6 710.4h.5M568.2 702.0h.5M573.4 704.0h.5M568.0 701.7h.5M572.3 701.0h.5M570.3 700.7h.5M574.6 706.2h.5M573.5 706.6h.5M572.1 697.0h.5M568.7 694.8h.5M569.3 705.7h.5M571.2 700.9h.5M568.5 707.1h.5M571.8 694.5h.5M571.6 707.9h.5M572.4 705.2h.5M569.1 703.0h.5M571.9 691.6h.5M572.2 708.2h.5M574.0 701.2h.5M574.5 696.9h.5M571.6 694.0h.5M570.2 706.4h.5M574.2 700.5h.5M574.6 714.7h.5M570.0 702.5h.5M569.6 698.5h.5M570.1 688.5h.5M573.5 705.8h.5M574.4 708.7h.5M572.1 722.7h.5M573.5 696.9h.5M568.1 699.7h.5M571.1 699.3h.5M571.0 703.8h.5M569.5 702.0h.5M569.1 702.4h.5M570.5 704.2h.5M570.1 703.5h.5M568.5 706.6h.5M569.4 699.9h.5M569.5 697.4h.5M568.6 692.1h.5M573.2 687.6h.5M569.9 699.8h.5M568.8 704.5h.5M569.1 721.3h.5M568.2 702.0h.5M569.0 697.5h.5M568.7 708.3h.5M628.2 650.1h.5M630.2 645.4h.5M630.9 668.8h.5M629.3 668.6h.5M630.7 655.7h.5M631.7 658.7h.5M628.6 670.1h.5M629.8 651.1h.5M628.5 652.9h.5M629.6 646.8h.5M629.8 646.5h.5M627.8 659.0h.5M628.0 649.7h.5M629.5 671.8h.5M629.5 673.7h.5M629.1 660.0h.5M629.6 657.5h.5M628.0 658.4h.5M631.7 664.3h.5M630.1 646.8h.5M628.4 650.1h.5M628.4 669.6h.5M629.3 660.4h.5M628.8 666.3h.5M630.8 653.1h.5M627.9 660.4h.5M631.4 649.7h.5M629.0 648.6h.5M629.9 648.4h.5M629.6 645.5h.5M629.5 652.7h.5M629.5 671.7h.5M629.7 654.5h.5M630.9 667.1h.5M630.9 646.1h.5M629.9 672.8h.5M631.8 657.7h.5M628.8 672.1h.5M629.7 657.0h.5M629.0 659.3h.5M630.6 666.0h.5M630.9 646.8h.5M628.1 670.3h.5M628.7 668.6h.5M629.6 664.1h.5M629.2 663.3h.5M629.2 655.3h.5M630.2 647.3h.5M629.2 692.7h.5M629.0 677.0h.5M629.6 691.4h.5M630.4 681.1h.5M629.9 690.5h.5M629.7 689.3h.5M629.2 684.0h.5M629.8 692.8h.5M630.3 692.6h.5M630.9 687.5h.5M630.3 681.1h.5M629.9 677.5h.5M629.8 687.0h.5M631.0 684.9h.5M630.1 675.7h.5M629.3 672.8h.5M628.2 675.2h.5M628.4 678.1h.5M629.3 690.1h.5M629.8 676.2h.5M629.8 693.1h.5M629.4 679.7h.5M629.0 683.5h.5M630.1 677.3h.5M628.7 673.6h.5M629.7 680.1h.5M630.4 684.3h.5M629.1 709.8h.5M629.6 716.8h.5M629.6 728.1h.5M629.2 724.8h.5M630.0 718.4h.5M629.3 715.0h.5M630.2 712.2h.5M628.9 719.4h.5M629.8 717.1h.5M629.2 713.1h.5M629.4 720.0h.5M629.8 720.9h.5M630.1 718.4h.5M629.5 726.7h.5M630.2 728.3h.5M630.9 727.6h.5M631.1 713.4h.5M630.5 719.1h.5M628.6 721.7h.5M461.5 772.9h.5M464.3 696.0h.5M464.2 738.4h.5M456.4 739.3h.5M461.4 664.8h.5M461.2 718.2h.5M460.5 758.2h.5M463.4 769.5h.5M455.0 764.8h.5M465.9 640.8h.5M459.1 766.6h.5M456.8 774.9h.5M453.4 758.2h.5M467.9 728.1h.5M460.3 717.6h.5M458.5 685.1h.5M463.9 698.0h.5M461.9 647.3h.5M573.4 696.7h.5M568.2 727.3h.5M567.3 661.2h.5M575.4 690.7h.5M575.0 779.0h.5M569.7 767.8h.5M574.8 756.8h.5M569.4 706.1h.5M572.7 742.5h.5M574.7 705.2h.5M627.9 766.8h.5M628.9 774.8h.5M628.1 692.5h.5" stroke="#1f77b4" stroke-width=".5" opacity=".65" fill="none"/>
<path d="M470.9 700.9h.5M472.7 704.7h.5M470.7 703.8h.5M473.1 694.8h.5M473.5 706.3h.5M472.7 700.5h.5M475.3 700.9h.5M469.6 708.8h.5M476.8 701.2h.5M472.4 704.7h.5M469.2 697.3h.5M472.4 701.7h.5M477.1 703.7h.5M469.2 702.3h.5M468.1 693.4h.5M470.0 725.6h.5M471.6 699.3h.5M474.5 702.0h.5M475.4 701.1h.5M468.2 698.4h.5M475.4 700.6h.5M468.5 696.3h.5M469.1 700.2h.5M476.3 710.4h.5M474.7 705.1h.5M473.9 701.4h.5M469.2 692.1h.5M476.6 702.5h.5M468.7 695.0h.5M472.6 708.0h.5M471.7 699.5h.5M473.5 705.8h.5M469.6 698.2h.5M472.8 697.9h.5M477.2 700.7h.5M473.6 708.2h.5M471.9 706.7h.5M473.7 703.8h.5M468.5 700.9h.5M476.4 705.7h.5M474.7 707.7h.5M469.3 700.3h.5M470.5 699.2h.5M471.7 701.3h.5M472.9 702.9h.5M472.9 698.8h.5M471.9 705.2h.5M474.3 702.9h.5M474.6 705.4h.5M469.3 704.3h.5M473.2 693.0h.5M473.4 704.9h.5M472.1 704.8h.5M475.1 702.3h.5M468.9 706.7h.5M469.6 692.3h.5M469.4 710.0h.5M475.2 703.3h.5M468.7 709.3h.5M471.2 704.1h.5M471.5 695.4h.5M474.0 704.5h.5M474.4 704.0h.5M473.5 694.6h.5M477.2 706.2h.5M475.0 701.9h.5M470.7 700.8h.5M472.8 704.8h.5M470.0 709.4h.5M469.0 696.9h.5M473.9 702.6h.5M476.5 701.6h.5M474.3 701.3h.5M471.5 697.9h.5M475.5 693.4h.5M476.8 688.6h.5M474.6 705.2h.5M471.3 699.0h.5M471.1 697.3h.5M468.8 699.5h.5M476.9 706.7h.5M469.2 697.2h.5M469.0 708.5h.5M473.4 697.9h.5M469.0 706.1h.5M474.6 707.9h.5M468.8 676.0h.5M469.4 708.2h.5M470.9 700.3h.5M477.1 705.1h.5M475.7 704.0h.5M473.1 697.4h.5M468.6 702.9h.5M477.0 688.7h.5M468.7 697.3h.5M475.6 700.3h.5M476.5 698.4h.5M470.4 706.0h.5M477.2 695.2h.5M473.5 705.7h.5M471.7 700.7h.5M476.0 703.3h.5M471.4 711.3h.5M475.1 709.4h.5M474.3 716.5h.5M471.0 703.4h.5M472.1 704.7h.5M475.2 697.9h.5M469.8 696.9h.5M468.7 684.3h.5M471.2 710.5h.5M470.3 706.4h.5M476.6 694.8h.5M471.4 701.9h.5M481.0 712.4h.5M481.2 698.9h.5M480.7 706.5h.5M477.6 702.9h.5M478.5 708.7h.5M479.5 710.6h.5M478.4 707.6h.5M478.7 707.7h.5M481.1 701.1h.5M477.9 701.8h.5M480.0 697.6h.5M480.3 705.2h.5M480.4 705.1h.5M478.9 707.0h.5M477.8 701.7h.5M479.4 701.4h.5M480.8 694.9h.5M481.2 699.8h.5M478.2 703.7h.5M477.7 707.6h.5M481.1 700.2h.5M479.8 712.8h.5M478.4 694.7h.5M481.6 704.5h.5M479.3 710.7h.5M481.6 708.7h.5M477.3 700.8h.5M481.6 705.0h.5M477.6 702.2h.5M481.4 710.5h.5M477.7 705.9h.5M480.8 708.2h.5M479.6 699.9h.5M481.6 703.0h.5M479.4 702.0h.5M480.7 712.0h.5M480.6 705.6h.5M480.8 705.0h.5M478.4 703.5h.5M478.1 706.8h.5M480.4 702.3h.5M481.5 697.0h.5M478.4 697.1h.5M480.6 715.1h.5M478.7 715.6h.5M479.8 701.1h.5M479.9 703.8h.5M478.6 703.6h.5M479.8 709.0h.5M480.5 710.9h.5M477.6 707.4h.5M479.4 717.8h.5M480.9 706.3h.5M477.4 704.1h.5M480.4 710.4h.5M479.3 697.8h.5M478.1 665.7h.5M477.9 681.8h.5M476.2 658.9h.5M478.5 679.0h.5M478.0 656.8h.5M476.1 674.6h.5M478.6 670.2h.5M476.2 670.8h.5M475.0 665.5h.5M477.3 677.1h.5M478.0 678.2h.5M476.5 681.4h.5M477.7 656.9h.5M476.2 674.0h.5M477.8 656.5h.5M476.9 660.9h.5M476.8 667.2h.5M477.1 672.8h.5M476.3 656.1h.5M477.6 657.5h.5M477.9 676.9h.5M475.2 667.8h.5M476.1 670.2h.5M479.6 663.8h.5M477.5 672.5h.5M477.7 664.6h.5M476.1 675.7h.5M477.9 666.2h.5M474.8 664.4h.5M475.6 673.3h.5M477.0 677.4h.5M476.5 676.0h.5M476.4 676.0h.5M477.3 666.1h.5M476.6 678.1h.5M476.6 656.4h.5M477.5 674.1h.5M478.1 667.6h.5M477.3 659.9h.5M475.3 657.3h.5M481.1 656.9h.5M479.9 664.6h.5M479.3 655.5h.5M479.0 662.0h.5M482.7 655.7h.5M480.1 664.9h.5M480.7 677.0h.5M480.6 673.8h.5M480.5 652.7h.5M481.5 663.7h.5M480.8 646.3h.5M481.8 646.6h.5M480.6 668.6h.5M480.9 651.5h.5M480.6 650.1h.5M479.9 647.3h.5M481.5 677.7h.5M480.7 666.8h.5M479.7 661.9h.5M480.9 677.5h.5M479.8 670.2h.5M479.6 667.5h.5M479.6 647.0h.5M481.6 652.7h.5M479.8 658.0h.5M480.3 653.3h.5M478.7 658.8h.5M481.0 659.1h.5M480.6 677.4h.5M480.4 660.9h.5M479.3 648.5h.5M480.6 648.7h.5M479.6 677.9h.5M481.7 669.0h.5M481.3 664.0h.5M479.2 654.3h.5M481.8 669.2h.5M478.1 674.1h.5M482.0 653.5h.5M481.6 657.4h.5M479.9 651.1h.5M480.8 653.5h.5M480.9 658.9h.5M479.7 668.8h.5M478.4 677.7h.5M482.7 655.7h.5M479.9 647.7h.5M479.7 678.3h.5M480.1 647.1h.5M481.5 668.4h.5M480.3 670.0h.5M478.7 673.7h.5M480.9 650.3h.5M481.9 673.2h.5M477.7 665.6h.5M480.2 664.6h.5M480.3 655.9h.5M480.9 654.7h.5M483.2 652.7h.5M483.1 731.9h.5M483.2 739.4h.5M483.2 738.2h.5M481.8 738.8h.5M481.8 744.6h.5M482.3 739.5h.5M483.2 745.5h.5M482.5 743.7h.5M482.6 738.0h.5M482.4 735.3h.5M481.8 737.5h.5M483.1 737.4h.5M482.2 744.2h.5M483.0 740.1h.5M482.9 739.0h.5M482.3 747.2h.5M482.0 739.2h.5M483.3 743.1h.5M482.2 744.4h.5M481.8 742.7h.5M482.2 743.1h.5M482.7 735.4h.5M483.3 754.4h.5M483.1 738.5h.5M579.1 704.1h.5M575.9 704.2h.5M583.2 708.1h.5M580.1 704.7h.5M579.1 706.0h.5M583.5 700.7h.5M580.4 708.9h.5M575.9 695.1h.5M583.0 700.9h.5M582.3 705.8h.5M578.7 704.6h.5M579.6 688.7h.5M581.6 701.7h.5M581.7 707.6h.5M578.4 711.1h.5M576.5 706.8h.5M578.3 695.2h.5M577.2 704.2h.5M580.1 709.9h.5M582.6 703.1h.5M583.1 698.9h.5M576.4 700.7h.5M578.0 706.5h.5M582.4 698.9h.5M579.9 706.1h.5M579.9 709.6h.5M581.1 700.3h.5M582.3 692.7h.5M579.2 692.2h.5M580.3 704.0h.5M577.5 703.9h.5M578.9 703.0h.5M578.7 696.6h.5M578.4 706.9h.5M580.0 700.0h.5M580.3 704.3h.5M577.9 697.8h.5M577.5 700.8h.5M580.7 714.1h.5M580.2 702.2h.5M576.7 697.8h.5M578.4 699.3h.5M582.6 701.8h.5M580.0 701.1h.5M576.5 702.0h.5M579.3 704.8h.5M578.4 702.4h.5M579.3 692.1h.5M580.5 700.4h.5M581.1 700.8h.5M580.3 698.2h.5M583.0 699.4h.5M583.0 704.6h.5M581.3 700.7h.5M579.2 699.8h.5M577.3 706.4h.5M580.3 708.9h.5M583.2 688.0h.5M582.8 701.9h.5M581.7 703.1h.5M580.4 707.7h.5M577.0 706.1h.5M582.4 703.7h.5M579.2 698.1h.5M576.0 706.7h.5M583.2 689.9h.5M579.0 689.0h.5M581.3 703.7h.5M581.5 709.1h.5M581.0 715.4h.5M582.4 706.8h.5M582.1 703.4h.5M581.1 710.4h.5M581.9 698.5h.5M579.3 703.6h.5M583.2 698.2h.5M577.1 701.1h.5M579.0 703.5h.5M576.1 699.4h.5M578.2 706.8h.5M578.0 707.8h.5M581.8 697.9h.5M582.1 708.2h.5M581.0 698.8h.5M576.3 712.0h.5M582.6 706.1h.5M581.0 706.4h.5M578.3 701.8h.5M582.6 714.4h.5M576.6 713.9h.5M582.2 711.4h.5M578.5 703.8h.5M576.0 700.5h.5M581.4 703.8h.5M581.9 704.8h.5M578.9 705.5h.5M577.9 697.7h.5M575.6 724.1h.5M575.3 729.3h.5M576.3 719.0h.5M576.3 735.0h.5M575.1 729.4h.5M576.6 737.3h.5M576.8 718.9h.5M575.6 714.7h.5M577.5 720.5h.5M574.8 717.8h.5M576.4 718.4h.5M575.9 716.8h.5M575.6 726.1h.5M574.8 733.8h.5M575.1 724.1h.5M575.3 727.2h.5M577.8 696.7h.5M575.6 719.2h.5M578.4 723.0h.5M575.2 715.4h.5M575.0 728.0h.5M578.5 716.9h.5M577.7 732.8h.5M576.3 725.4h.5M576.7 719.9h.5M576.8 718.6h.5M578.3 726.3h.5M578.1 726.4h.5M577.6 716.0h.5M576.7 724.9h.5M578.2 723.6h.5M578.0 722.3h.5M577.8 718.7h.5M575.1 726.8h.5M574.8 716.7h.5M578.4 721.2h.5M577.3 714.7h.5M575.8 722.9h.5M575.4 726.6h.5M578.6 719.9h.5M576.5 727.0h.5M577.1 723.6h.5M577.1 720.9h.5M575.6 731.6h.5M576.6 727.2h.5M577.3 725.3h.5M576.1 719.4h.5M578.0 726.2h.5M576.2 726.5h.5M577.0 726.4h.5M575.8 727.0h.5M576.7 733.8h.5M577.2 724.4h.5M578.3 719.0h.5M579.0 711.5h.5M576.1 718.1h.5M632.6 696.1h.5M632.4 706.3h.5M632.9 693.8h.5M631.9 699.1h.5M634.0 707.8h.5M632.1 697.6h.5M631.8 695.0h.5M633.0 696.7h.5M633.1 701.2h.5M632.0 692.1h.5M633.4 701.7h.5M631.9 702.0h.5M633.0 708.8h.5M632.5 690.6h.5M632.6 697.3h.5M632.0 693.5h.5M633.4 699.3h.5M633.2 698.5h.5M633.6 702.1h.5M633.4 707.4h.5M634.1 709.8h.5M631.8 698.1h.5M633.2 704.9h.5M634.0 701.8h.5M631.8 703.7h.5M631.9 700.5h.5M633.2 688.9h.5M632.4 693.8h.5M632.2 699.2h.5M632.4 693.5h.5M632.9 699.3h.5M633.6 701.4h.5M633.0 720.2h.5M633.5 719.0h.5M632.6 730.3h.5M632.6 730.5h.5M631.4 720.9h.5M631.9 715.8h.5M632.9 712.4h.5M632.2 729.6h.5M632.6 726.6h.5M632.3 717.7h.5M632.4 728.2h.5M632.1 720.1h.5M631.5 712.8h.5M632.2 720.9h.5M632.2 723.5h.5M632.5 720.7h.5M632.8 722.3h.5M483.3 780.5h.5M472.3 747.9h.5M476.5 751.0h.5M471.1 759.7h.5M475.3 728.8h.5M478.0 645.2h.5M476.0 744.3h.5M470.5 702.4h.5M476.3 668.5h.5M480.1 676.7h.5M475.3 720.8h.5M470.6 755.3h.5M468.1 662.4h.5M480.0 734.3h.5M479.1 768.3h.5M478.8 754.6h.5M471.3 776.2h.5M479.0 693.8h.5M581.5 648.0h.5M582.6 683.4h.5M581.5 641.9h.5M578.8 709.1h.5M579.5 715.0h.5M583.8 762.0h.5M578.6 648.2h.5M577.1 757.5h.5M581.4 716.4h.5M581.7 669.5h.5M633.6 771.4h.5M633.7 648.5h.5M633.3 761.6h.5" stroke="#ff7f0e" stroke-width=".5" opacity=".65" fill="none"/>
<path d="M485.6 727.9h.5M484.2 718.4h.5M484.3 715.6h.5M485.0 723.2h.5M486.9 723.8h.5M486.1 720.0h.5M484.5 730.2h.5M487.3 720.6h.5M484.4 717.8h.5M486.1 730.5h.5M485.5 715.5h.5M484.4 731.3h.5M485.3 717.2h.5M485.6 732.5h.5M484.7 748.6h.5M486.5 721.3h.5M486.5 724.1h.5M484.7 720.2h.5M484.2 714.0h.5M485.9 719.1h.5M484.8 729.6h.5M484.5 718.5h.5M484.6 709.2h.5M484.9 726.2h.5M486.3 725.6h.5M484.8 726.9h.5M486.7 718.6h.5M484.8 720.5h.5M484.4 727.5h.5M484.1 725.3h.5M486.0 711.3h.5M485.1 721.7h.5M485.6 722.0h.5M486.1 724.6h.5M484.8 725.7h.5M484.0 734.4h.5M487.4 719.4h.5M485.7 723.1h.5M484.6 719.1h.5M486.6 718.5h.5M486.8 714.2h.5M486.2 720.4h.5M486.4 718.6h.5M485.9 722.4h.5M494.5 703.8h.5M489.2 707.1h.5M491.3 702.7h.5M492.6 702.1h.5M495.2 682.9h.5M493.1 695.4h.5M493.6 694.3h.5M490.5 700.9h.5M491.7 700.8h.5M493.2 708.7h.5M489.9 700.9h.5M494.8 703.9h.5M490.0 713.8h.5M491.9 710.8h.5M492.0 714.0h.5M491.6 711.9h.5M493.4 701.1h.5M488.4 704.4h.5M490.6 692.4h.5M491.2 709.5h.5M493.3 704.3h.5M492.5 698.3h.5M490.6 697.3h.5M493.6 704.4h.5M495.8 701.7h.5M490.4 702.0h.5M492.9 707.3h.5M492.6 683.9h.5M490.7 698.1h.5M488.7 700.6h.5M490.0 701.0h.5M489.6 712.8h.5M489.4 698.3h.5M489.7 711.4h.5M489.2 699.0h.5M490.1 707.9h.5M494.9 704.4h.5M488.3 704.6h.5M494.1 689.7h.5M492.6 700.3h.5M494.0 715.2h.5M493.4 703.7h.5M494.4 705.7h.5M491.0 692.0h.5M491.4 699.4h.5M492.5 696.1h.5M495.8 703.2h.5M489.4 693.6h.5M491.4 696.5h.5M491.3 713.9h.5M490.2 708.6h.5M493.4 705.1h.5M489.2 702.2h.5M488.4 711.4h.5M490.6 701.5h.5M493.7 696.0h.5M488.2 706.0h.5M492.2 695.5h.5M491.8 703.2h.5M491.3 703.8h.5M491.8 708.3h.5M494.0 709.2h.5M489.7 710.0h.5M492.5 708.8h.5M494.3 704.5h.5M494.0 708.3h.5M491.0 705.9h.5M490.7 687.5h.5M491.4 701.0h.5M494.2 709.9h.5M495.3 702.3h.5M495.0 702.9h.5M491.5 707.2h.5M490.4 707.1h.5M494.7 712.0h.5M495.0 701.3h.5M491.4 700.3h.5M494.5 706.0h.5M491.3 691.9h.5M492.9 707.8h.5M494.2 706.4h.5M491.6 703.7h.5M493.5 692.8h.5M495.5 709.3h.5M488.9 706.5h.5M491.2 706.7h.5M494.1 707.9h.5M491.6 703.8h.5M491.3 704.5h.5M490.5 701.8h.5M491.6 709.9h.5M488.3 701.9h.5M494.2 701.3h.5M495.7 704.0h.5M489.1 701.5h.5M493.0 702.9h.5M488.7 703.2h.5M491.3 721.9h.5M491.3 721.2h.5M491.6 720.6h.5M490.2 726.4h.5M491.8 720.6h.5M490.6 729.8h.5M492.4 727.7h.5M491.2 723.5h.5M492.2 720.9h.5M492.0 722.5h.5M490.2 717.9h.5M490.2 722.9h.5M491.5 722.7h.5M491.5 716.2h.5M492.3 734.3h.5M491.4 746.3h.5M491.0 716.5h.5M490.3 719.0h.5M491.0 723.9h.5M491.1 725.1h.5M490.3 727.5h.5M490.8 721.5h.5M491.3 732.2h.5M491.1 725.6h.5M490.9 717.5h.5M492.2 731.8h.5M490.2 717.2h.5M491.5 720.0h.5M492.0 725.0h.5M490.9 720.1h.5M490.2 725.4h.5M492.0 726.5h.5M494.1 752.5h.5M493.2 745.6h.5M492.2 741.5h.5M494.7 733.6h.5M493.9 735.3h.5M491.8 741.2h.5M493.5 743.5h.5M494.6 751.2h.5M494.6 752.6h.5M494.3 742.6h.5M493.9 742.7h.5M495.0 745.1h.5M493.0 736.9h.5M493.2 746.8h.5M492.8 733.5h.5M493.1 741.4h.5M494.2 743.4h.5M494.0 737.5h.5M492.6 742.9h.5M487.3 744.9h.5M487.5 744.4h.5M486.7 748.3h.5M486.5 735.2h.5M487.3 745.8h.5M488.3 750.8h.5M486.5 733.8h.5M488.8 738.4h.5M485.7 747.7h.5M487.1 750.9h.5M488.3 751.8h.5M487.4 736.6h.5M487.0 735.7h.5M487.3 739.8h.5M487.2 736.6h.5M486.3 740.3h.5M488.8 749.4h.5M487.3 753.0h.5M487.8 749.6h.5M588.1 739.6h.5M588.8 746.4h.5M588.6 748.4h.5M585.9 739.2h.5M589.5 740.1h.5M586.6 737.9h.5M586.4 732.6h.5M589.7 743.5h.5M584.6 751.0h.5M589.1 735.0h.5M588.1 746.3h.5M587.1 751.1h.5M586.0 752.5h.5M585.4 740.7h.5M584.2 736.4h.5M587.1 739.7h.5M585.9 738.4h.5M589.7 739.7h.5M585.5 742.2h.5M588.8 741.2h.5M588.0 744.8h.5M586.3 749.9h.5M586.1 741.1h.5M587.2 739.5h.5M586.9 738.1h.5M584.9 744.5h.5M587.6 740.3h.5M587.0 742.0h.5M584.5 732.0h.5M584.5 744.5h.5M586.9 737.0h.5M588.3 739.1h.5M590.2 744.1h.5M588.6 739.3h.5M589.4 741.8h.5M587.8 738.0h.5M587.9 740.0h.5M587.1 748.1h.5M587.0 747.9h.5M589.9 746.1h.5M589.0 737.5h.5M587.9 739.5h.5M584.5 741.9h.5M585.4 746.0h.5M584.3 736.4h.5M589.9 744.7h.5M585.1 745.1h.5M588.8 737.7h.5M587.0 742.4h.5M585.1 742.1h.5M589.5 739.5h.5M585.8 742.8h.5M588.0 742.5h.5M585.5 739.4h.5M589.1 745.3h.5M587.7 741.9h.5M588.0 746.4h.5M590.3 733.9h.5M586.6 737.9h.5M588.8 744.4h.5M584.8 748.0h.5M587.8 738.3h.5M586.1 741.7h.5M585.4 744.3h.5M584.5 736.5h.5M589.3 744.6h.5M587.8 738.5h.5M590.0 742.6h.5M587.6 743.3h.5M584.3 735.7h.5M589.9 739.2h.5M585.1 732.8h.5M586.6 735.8h.5M588.1 737.0h.5M587.9 741.7h.5M588.4 749.9h.5M584.5 739.7h.5M637.5 742.5h.5M635.4 743.2h.5M641.6 746.6h.5M642.7 734.4h.5M634.8 740.5h.5M637.5 734.6h.5M641.5 739.3h.5M640.3 738.6h.5M639.0 748.3h.5M640.4 738.8h.5M640.2 745.5h.5M641.1 747.3h.5M642.9 748.0h.5M639.1 740.6h.5M636.9 749.1h.5M641.0 755.2h.5M641.8 740.1h.5M642.4 741.0h.5M641.5 735.0h.5M634.8 751.1h.5M639.3 740.5h.5M638.1 742.8h.5M638.1 747.9h.5M635.4 732.9h.5M636.6 740.5h.5M638.8 745.3h.5M639.8 730.7h.5M643.5 743.2h.5M635.2 747.6h.5M642.9 750.1h.5M636.4 755.2h.5M634.8 733.1h.5M642.2 752.2h.5M640.4 753.8h.5M640.5 742.2h.5M640.0 746.7h.5M635.5 742.0h.5M643.5 740.3h.5M635.0 740.5h.5M636.7 739.3h.5M636.4 744.3h.5M641.4 745.3h.5M642.9 736.8h.5M639.5 742.3h.5M641.6 753.5h.5M636.5 746.1h.5M638.5 750.2h.5M640.2 742.9h.5M634.4 742.8h.5M643.5 753.0h.5M637.3 751.9h.5M637.6 750.4h.5M634.8 743.4h.5M639.0 749.1h.5M639.4 745.5h.5M642.1 746.5h.5M639.0 744.1h.5M635.7 754.0h.5M638.4 735.5h.5M641.2 748.8h.5M642.5 745.1h.5M634.6 743.7h.5M641.3 747.8h.5M641.2 744.6h.5M640.4 745.0h.5M634.9 739.0h.5M637.4 756.9h.5M635.8 744.3h.5M636.5 753.0h.5M637.4 744.4h.5M639.6 745.0h.5M635.9 739.9h.5M641.3 741.9h.5M635.5 740.0h.5M637.6 736.7h.5M636.5 754.4h.5M641.1 748.4h.5M636.9 737.4h.5M643.2 744.2h.5M642.2 732.0h.5M640.4 748.3h.5M636.0 741.6h.5M642.4 744.9h.5M638.0 748.5h.5M642.7 749.7h.5M635.1 751.0h.5M634.9 744.2h.5M639.7 744.4h.5M637.8 752.6h.5M640.4 753.2h.5M642.9 742.2h.5M640.9 744.8h.5M638.2 744.1h.5M637.4 749.2h.5M639.7 746.1h.5M640.9 744.8h.5M640.4 755.0h.5M639.7 726.5h.5M640.6 747.7h.5M642.3 742.5h.5M636.4 740.1h.5M636.1 745.7h.5M642.2 746.3h.5M634.9 755.1h.5M636.6 749.6h.5M639.8 749.4h.5M639.6 744.9h.5M638.5 742.8h.5M640.3 741.7h.5M634.3 745.5h.5M639.9 746.3h.5M635.5 746.5h.5M637.8 751.1h.5M641.4 752.5h.5M636.3 746.2h.5M642.9 736.9h.5M641.4 747.8h.5M639.5 747.8h.5M636.5 738.0h.5M636.3 732.1h.5M635.3 719.5h.5M636.4 722.6h.5M635.3 732.2h.5M635.3 724.4h.5M636.1 718.2h.5M635.8 731.6h.5M636.4 733.7h.5M634.8 729.1h.5M636.2 725.3h.5M636.4 729.3h.5M636.5 725.8h.5M634.3 734.7h.5M635.4 731.8h.5M636.9 732.2h.5M635.6 722.8h.5M634.4 735.3h.5M635.7 723.4h.5M634.1 725.8h.5M634.9 728.4h.5M637.3 730.8h.5M636.4 728.4h.5M493.4 675.3h.5M493.6 740.5h.5M485.2 766.5h.5M492.5 705.9h.5M493.4 708.5h.5M494.7 645.5h.5M484.4 739.2h.5M489.7 713.4h.5M487.4 736.9h.5M495.8 706.7h.5M493.2 698.2h.5M489.3 714.5h.5M493.9 689.0h.5M484.0 751.6h.5M587.3 707.2h.5M586.3 708.3h.5M584.8 722.3h.5M588.6 718.3h.5M589.6 762.5h.5M588.5 705.1h.5M586.5 689.1h.5M590.6 649.2h.5M642.6 743.9h.5M635.8 712.4h.5M635.5 643.4h.5M639.7 731.2h.5M642.6 650.4h.5M642.3 711.6h.5M641.3 680.9h.5M638.8 744.8h.5M637.3 645.1h.5M637.0 738.5h.5M634.8 783.4h.5" stroke="#2ca02c" stroke-width=".5" opacity=".65" fill="none"/>
<path d="M502.0 742.6h.5M502.0 740.1h.5M501.8 737.5h.5M499.9 745.7h.5M501.8 750.3h.5M499.4 753.4h.5M500.3 738.5h.5M497.6 747.2h.5M498.5 739.1h.5M503.0 743.2h.5M501.2 744.5h.5M501.5 738.4h.5M498.3 740.9h.5M497.1 745.2h.5M496.8 739.1h.5M496.4 739.1h.5M496.9 742.5h.5M503.1 747.0h.5M501.6 743.2h.5M498.2 734.4h.5M499.9 738.5h.5M496.2 732.7h.5M501.1 737.3h.5M495.9 743.5h.5M496.7 746.8h.5M497.0 717.5h.5M497.8 746.0h.5M501.6 744.8h.5M498.3 737.9h.5M502.7 724.5h.5M500.1 748.7h.5M496.7 750.1h.5M499.6 734.3h.5M499.1 744.3h.5M497.5 739.8h.5M497.4 741.3h.5M501.2 743.4h.5M500.5 742.6h.5M498.4 748.1h.5M500.5 739.1h.5M496.2 750.2h.5M497.7 742.1h.5M501.6 748.1h.5M496.3 751.9h.5M501.3 745.3h.5M502.6 746.4h.5M500.9 739.6h.5M498.1 735.0h.5M502.8 742.4h.5M499.9 734.5h.5M503.1 753.1h.5M499.4 736.7h.5M499.6 742.9h.5M499.7 749.1h.5M503.4 736.4h.5M501.9 739.4h.5M496.7 736.8h.5M500.6 744.9h.5M500.4 738.2h.5M502.8 749.4h.5M502.9 739.4h.5M500.5 754.1h.5M497.1 756.7h.5M499.6 735.2h.5M500.3 737.9h.5M501.0 739.7h.5M499.7 747.5h.5M503.0 737.6h.5M496.2 745.1h.5M500.5 745.2h.5M503.0 748.1h.5M496.5 745.0h.5M500.9 739.7h.5M499.7 744.6h.5M498.1 732.8h.5M498.0 741.2h.5M503.2 743.2h.5M500.2 747.2h.5M497.3 738.7h.5M503.0 750.8h.5M496.7 751.7h.5M497.2 745.2h.5M500.1 749.5h.5M501.8 756.1h.5M498.3 741.0h.5M502.2 742.8h.5M502.3 748.6h.5M499.2 742.8h.5M496.2 746.0h.5M499.7 737.5h.5M498.3 746.9h.5M499.2 740.0h.5M502.3 745.9h.5M500.4 727.2h.5M500.4 721.3h.5M499.3 720.9h.5M498.7 717.7h.5M499.3 716.2h.5M500.5 725.9h.5M499.3 721.9h.5M499.8 726.9h.5M500.4 714.8h.5M498.9 749.2h.5M499.1 730.7h.5M499.5 721.7h.5M499.1 722.4h.5M500.5 718.2h.5M499.5 731.9h.5M499.7 719.5h.5M499.3 723.5h.5M500.0 725.4h.5M498.7 725.3h.5M500.6 727.2h.5M498.9 722.4h.5M499.9 728.3h.5M499.8 728.1h.5M499.4 720.0h.5M499.5 715.1h.5M499.1 719.0h.5M499.7 715.0h.5M499.3 709.6h.5M503.8 706.7h.5M503.9 709.0h.5M506.0 710.8h.5M506.7 700.9h.5M505.1 698.2h.5M505.5 711.7h.5M507.4 709.6h.5M504.9 718.3h.5M506.9 708.3h.5M505.6 705.7h.5M506.5 715.5h.5M503.9 711.9h.5M505.2 709.7h.5M502.8 709.9h.5M507.1 704.6h.5M504.9 705.4h.5M506.0 710.7h.5M507.4 713.4h.5M506.9 706.3h.5M506.2 706.8h.5M504.7 709.6h.5M505.2 708.8h.5M507.6 703.3h.5M505.4 708.0h.5M506.6 715.4h.5M507.7 709.6h.5M503.4 711.5h.5M507.7 707.0h.5M504.2 701.4h.5M505.9 707.2h.5M505.9 703.4h.5M507.3 692.6h.5M508.1 708.7h.5M507.9 706.7h.5M503.5 706.4h.5M506.3 708.8h.5M507.4 706.7h.5M504.6 700.4h.5M503.9 693.3h.5M502.9 704.7h.5M505.2 706.6h.5M505.7 706.5h.5M506.2 703.0h.5M506.7 712.1h.5M503.0 706.4h.5M503.1 708.8h.5M506.7 706.7h.5M504.9 708.1h.5M507.2 710.0h.5M504.0 719.2h.5M505.9 713.1h.5M506.4 716.5h.5M507.3 709.9h.5M504.1 709.0h.5M504.4 708.2h.5M506.2 701.7h.5M502.7 707.0h.5M504.0 712.3h.5M507.2 712.2h.5M504.6 711.3h.5M504.2 706.5h.5M507.8 706.1h.5M506.4 701.2h.5M507.5 709.4h.5M504.5 709.0h.5M503.2 711.3h.5M503.0 708.3h.5M507.4 704.3h.5M503.3 705.3h.5M592.4 743.5h.5M592.7 732.0h.5M592.2 731.8h.5M592.3 755.6h.5M592.9 742.6h.5M592.3 737.7h.5M592.5 743.3h.5M593.0 743.1h.5M592.0 742.4h.5M592.6 738.8h.5M593.1 742.9h.5M593.0 736.7h.5M593.3 747.7h.5M592.2 739.4h.5M592.5 738.4h.5M592.3 757.4h.5M592.1 741.7h.5M592.8 742.2h.5M592.2 746.3h.5M592.7 732.4h.5M593.9 664.8h.5M595.1 651.8h.5M595.5 652.9h.5M592.7 664.9h.5M593.8 650.5h.5M593.0 672.9h.5M592.8 650.9h.5M594.4 669.4h.5M594.1 662.4h.5M595.3 656.6h.5M594.8 670.1h.5M593.6 661.8h.5M595.3 649.7h.5M595.3 670.2h.5M594.4 662.8h.5M594.7 668.8h.5M594.8 663.6h.5M595.4 677.0h.5M594.5 662.4h.5M597.1 650.5h.5M593.1 655.7h.5M594.6 654.0h.5M594.2 660.0h.5M594.5 653.1h.5M593.3 665.7h.5M593.1 651.3h.5M594.6 669.3h.5M593.8 671.7h.5M594.7 661.8h.5M594.1 657.7h.5M594.1 665.4h.5M592.5 658.9h.5M593.3 666.5h.5M594.3 657.2h.5M594.1 668.2h.5M596.5 664.6h.5M594.6 660.0h.5M592.5 657.4h.5M595.4 661.7h.5M593.8 662.9h.5M593.6 674.1h.5M595.5 663.8h.5M592.1 661.0h.5M595.5 672.4h.5M596.2 689.2h.5M593.3 671.9h.5M593.8 674.4h.5M593.8 677.5h.5M594.5 693.4h.5M594.3 676.3h.5M595.1 677.9h.5M593.9 673.1h.5M595.8 686.6h.5M593.6 685.7h.5M593.6 672.3h.5M593.8 684.2h.5M594.5 688.3h.5M593.4 684.9h.5M594.8 694.8h.5M594.2 685.4h.5M593.3 674.3h.5M595.7 679.6h.5M595.1 679.3h.5M594.5 681.7h.5M595.2 674.6h.5M594.3 674.6h.5M595.4 694.0h.5M595.8 695.2h.5M594.4 688.6h.5M594.5 691.9h.5M593.8 690.8h.5M594.5 682.3h.5M595.1 683.9h.5M593.6 676.9h.5M594.3 686.3h.5M596.4 685.4h.5M596.3 697.7h.5M594.4 693.2h.5M594.4 711.5h.5M596.8 696.9h.5M596.1 699.7h.5M595.7 702.7h.5M594.5 702.3h.5M596.0 709.9h.5M596.3 698.9h.5M594.8 698.9h.5M595.1 695.4h.5M594.7 696.9h.5M595.2 698.0h.5M594.6 709.3h.5M594.9 704.2h.5M595.5 700.4h.5M595.7 697.5h.5M595.2 696.4h.5M595.5 701.5h.5M596.5 709.8h.5M595.2 695.4h.5M594.5 699.6h.5M595.7 702.7h.5M594.4 706.1h.5M595.0 706.4h.5M595.8 707.0h.5M595.2 697.6h.5M596.4 700.5h.5M594.6 700.2h.5M596.0 705.6h.5M596.6 692.9h.5M594.6 702.1h.5M644.8 742.9h.5M644.8 744.6h.5M644.5 745.3h.5M645.2 750.4h.5M644.0 740.2h.5M644.2 752.8h.5M645.6 749.4h.5M644.7 748.9h.5M645.3 743.0h.5M645.6 741.7h.5M644.0 746.1h.5M643.9 756.4h.5M644.4 740.9h.5M645.9 741.1h.5M643.9 746.8h.5M645.2 745.0h.5M644.3 737.3h.5M644.0 740.8h.5M643.8 744.5h.5M643.9 746.2h.5M645.2 736.7h.5M645.0 745.2h.5M645.4 748.9h.5M644.7 750.8h.5M645.7 745.1h.5M644.0 742.3h.5M644.2 737.2h.5M645.8 745.8h.5M645.4 747.5h.5M643.9 748.7h.5M646.0 744.6h.5M644.5 742.8h.5M506.5 775.2h.5M500.2 664.9h.5M496.8 675.9h.5M502.6 685.5h.5M501.1 740.2h.5M501.6 692.0h.5M497.9 761.2h.5M496.2 714.9h.5M502.1 772.1h.5M500.5 734.9h.5M502.1 755.8h.5M502.2 777.0h.5M502.6 657.4h.5M507.2 653.1h.5M592.1 695.0h.5M592.4 734.2h.5M597.6 738.4h.5M594.8 714.5h.5M593.7 712.4h.5M595.9 687.6h.5M592.5 667.7h.5M591.3 721.5h.5M645.8 718.1h.5M644.2 750.2h.5M646.0 698.0h.5M646.7 659.0h.5" stroke="#d62728" stroke-width=".5" opacity=".65" fill="none"/>
<path d="M509.4 699.0h.5M510.7 696.3h.5M512.4 703.1h.5M509.5 705.0h.5M509.0 709.9h.5M513.1 699.7h.5M508.5 705.2h.5M513.1 705.7h.5M509.3 688.1h.5M508.3 702.7h.5M511.1 700.8h.5M513.6 700.6h.5M510.2 707.7h.5M510.4 703.8h.5M511.8 700.1h.5M510.7 704.6h.5M510.0 696.8h.5M512.0 701.4h.5M512.7 684.3h.5M513.2 699.6h.5M509.1 704.3h.5M508.4 699.4h.5M511.0 695.7h.5M509.3 697.1h.5M513.2 704.2h.5M511.2 707.4h.5M511.0 703.7h.5M511.2 705.8h.5M510.8 694.0h.5M512.6 729.6h.5M510.6 712.0h.5M508.4 707.8h.5M512.0 703.8h.5M510.3 706.2h.5M509.5 726.8h.5M509.2 704.7h.5M510.8 708.6h.5M510.8 705.1h.5M508.6 704.7h.5M512.0 703.0h.5M510.1 715.5h.5M510.7 701.0h.5M510.8 711.8h.5M512.6 706.4h.5M510.5 699.6h.5M510.0 706.6h.5M508.7 708.2h.5M509.9 703.5h.5M508.5 705.9h.5M508.8 705.5h.5M513.5 699.0h.5M510.6 712.3h.5M512.2 699.0h.5M508.5 698.4h.5M511.4 709.3h.5M511.5 697.6h.5M509.4 706.7h.5M509.3 708.6h.5M513.0 712.8h.5M510.5 713.0h.5M513.1 708.4h.5M511.6 699.4h.5M513.1 702.8h.5M511.6 711.5h.5M508.5 706.4h.5M511.8 699.8h.5M508.2 701.0h.5M508.7 706.2h.5M511.6 705.7h.5M518.2 723.8h.5M519.4 711.7h.5M513.7 707.8h.5M516.0 707.0h.5M515.7 708.5h.5M515.9 705.8h.5M513.7 716.9h.5M515.3 706.9h.5M517.6 706.0h.5M514.4 708.6h.5M514.4 720.1h.5M514.9 700.9h.5M519.1 720.8h.5M516.7 712.4h.5M516.7 713.9h.5M515.6 706.6h.5M519.4 705.2h.5M516.9 706.7h.5M516.0 715.7h.5M514.0 713.6h.5M514.9 708.7h.5M517.2 707.8h.5M517.2 704.1h.5M514.5 705.7h.5M517.6 714.5h.5M518.1 698.2h.5M518.9 710.7h.5M517.8 711.3h.5M516.1 713.5h.5M517.4 715.9h.5M513.8 712.4h.5M515.9 701.4h.5M518.4 710.2h.5M515.2 718.9h.5M518.4 699.8h.5M517.0 714.9h.5M518.6 711.9h.5M516.8 712.5h.5M515.9 706.2h.5M513.7 709.1h.5M517.2 708.1h.5M519.1 708.8h.5M515.2 713.3h.5M516.4 700.8h.5M514.3 707.1h.5M514.4 706.9h.5M517.5 706.4h.5M519.0 705.7h.5M516.3 710.9h.5M513.7 709.5h.5M517.4 721.0h.5M519.1 712.6h.5M517.7 715.8h.5M519.3 706.1h.5M516.0 705.0h.5M516.4 700.6h.5M519.1 708.0h.5M513.6 699.4h.5M519.1 701.1h.5M515.1 700.9h.5M516.6 716.2h.5M519.0 718.8h.5M514.0 710.3h.5M517.0 705.0h.5M516.1 708.2h.5M516.9 713.2h.5M514.4 704.6h.5M517.7 713.5h.5M515.3 709.6h.5M517.0 709.0h.5M515.7 705.8h.5M516.3 710.9h.5M516.0 713.9h.5M518.0 705.2h.5M515.2 714.1h.5M514.3 707.9h.5M514.0 707.4h.5M514.0 737.9h.5M512.2 723.3h.5M513.4 714.2h.5M512.6 727.3h.5M513.4 721.0h.5M513.1 716.5h.5M514.3 715.5h.5M513.8 714.8h.5M513.4 731.4h.5M514.8 717.7h.5M515.3 725.2h.5M512.9 716.7h.5M513.6 717.2h.5M513.7 728.9h.5M512.5 728.9h.5M515.4 730.8h.5M514.4 724.0h.5M512.9 729.8h.5M514.2 716.6h.5M514.1 732.9h.5M513.3 735.5h.5M513.3 717.8h.5M514.0 733.1h.5M514.5 728.8h.5M515.2 733.2h.5M513.7 731.6h.5M513.7 737.3h.5M512.6 732.0h.5M512.5 726.0h.5M513.6 722.6h.5M512.9 730.0h.5M512.2 715.5h.5M513.0 738.0h.5M603.5 712.3h.5M602.1 709.8h.5M598.6 699.5h.5M599.2 706.6h.5M600.3 700.9h.5M598.9 711.7h.5M603.2 715.4h.5M602.7 695.8h.5M598.8 703.2h.5M602.4 702.9h.5M599.1 703.1h.5M603.0 688.3h.5M603.2 705.6h.5M600.3 709.7h.5M602.3 705.4h.5M599.9 713.5h.5M602.8 701.6h.5M599.3 702.9h.5M599.2 699.3h.5M603.4 702.1h.5M600.3 696.2h.5M601.0 702.5h.5M599.2 702.2h.5M603.1 700.3h.5M603.0 698.9h.5M602.6 700.8h.5M601.1 699.7h.5M601.2 701.1h.5M600.0 709.0h.5M599.1 687.8h.5M600.8 711.7h.5M600.7 705.7h.5M600.5 712.4h.5M602.8 698.8h.5M598.7 700.3h.5M599.4 714.5h.5M601.6 704.4h.5M599.9 695.3h.5M599.2 702.6h.5M599.4 707.4h.5M602.6 698.3h.5M602.5 701.8h.5M599.5 699.1h.5M599.5 722.5h.5M603.1 694.6h.5M601.1 696.4h.5M601.5 695.1h.5M599.8 701.4h.5M601.9 702.0h.5M600.4 706.2h.5M601.0 706.6h.5M602.6 698.0h.5M598.9 710.4h.5M603.0 701.7h.5M602.4 697.2h.5M601.0 709.4h.5M602.0 704.5h.5M600.3 703.8h.5M600.9 710.4h.5M602.5 709.4h.5M600.7 701.4h.5M603.5 712.5h.5M600.1 705.1h.5M600.3 694.1h.5M599.7 702.6h.5M508.5 693.0h.5M515.5 729.7h.5M509.0 729.5h.5M516.0 740.5h.5M514.7 688.4h.5M508.8 656.6h.5M509.5 709.0h.5M515.4 717.7h.5M515.7 690.4h.5M510.1 724.7h.5M517.4 693.7h.5M509.8 772.0h.5M509.2 734.6h.5M602.3 666.3h.5M601.6 707.7h.5M598.8 659.2h.5M602.9 772.8h.5M599.8 725.2h.5M600.7 716.3h.5M600.0 715.4h.5" stroke="#9467bd" stroke-width=".5" opacity=".65" fill="none"/>
<path d="M522.9 726.8h.5M520.4 728.0h.5M525.7 743.5h.5M521.6 720.7h.5M527.5 726.3h.5M525.6 725.7h.5M528.4 725.5h.5M523.7 726.9h.5M524.9 725.8h.5M524.2 731.4h.5M520.6 711.3h.5M529.2 720.9h.5M528.5 724.5h.5M528.6 723.9h.5M529.1 726.5h.5M520.3 728.1h.5M527.6 727.9h.5M526.1 714.4h.5M529.3 725.2h.5M524.8 730.6h.5M519.8 723.1h.5M522.1 722.3h.5M523.7 724.3h.5M523.2 723.2h.5M528.3 717.2h.5M521.2 723.3h.5M520.3 724.9h.5M529.5 719.6h.5M528.2 726.4h.5M524.9 718.5h.5M529.4 725.5h.5M525.4 729.6h.5M521.2 730.7h.5M524.1 730.9h.5M521.0 719.9h.5M526.6 729.0h.5M523.2 724.8h.5M529.7 727.1h.5M529.9 726.2h.5M528.3 728.0h.5M520.1 730.3h.5M525.2 724.7h.5M519.7 726.2h.5M525.3 722.8h.5M524.8 729.4h.5M527.1 725.4h.5M529.5 721.9h.5M521.7 727.0h.5M522.8 720.9h.5M526.6 726.0h.5M528.7 726.8h.5M526.9 720.2h.5M526.2 732.3h.5M525.9 721.5h.5M524.5 728.0h.5M524.2 724.6h.5M527.4 731.1h.5M524.2 712.0h.5M522.0 717.0h.5M521.2 705.6h.5M522.6 728.0h.5M521.3 727.4h.5M524.0 717.2h.5M529.9 722.1h.5M526.0 731.7h.5M526.1 721.3h.5M521.4 725.8h.5M529.8 726.6h.5M522.5 735.7h.5M520.7 720.4h.5M522.1 714.2h.5M528.7 728.9h.5M523.4 719.1h.5M526.3 727.2h.5M529.3 718.0h.5M525.3 726.7h.5M521.7 724.1h.5M523.8 723.8h.5M523.9 729.8h.5M522.2 723.0h.5M525.5 731.1h.5M527.4 723.8h.5M528.8 726.9h.5M524.1 734.5h.5M519.7 718.9h.5M527.7 721.7h.5M530.4 727.9h.5M529.6 724.1h.5M528.1 725.7h.5M527.8 718.4h.5M528.8 731.0h.5M526.1 719.8h.5M522.8 728.1h.5M527.9 717.6h.5M530.3 705.1h.5M520.1 727.2h.5M523.6 727.1h.5M527.6 730.9h.5M527.8 722.4h.5M520.6 721.0h.5M529.6 720.1h.5M524.2 730.6h.5M521.9 722.2h.5M524.1 728.0h.5M524.2 722.4h.5M527.7 722.5h.5M523.3 722.7h.5M523.4 732.8h.5M528.5 719.4h.5M526.1 735.3h.5M527.4 737.7h.5M525.8 729.4h.5M526.0 726.2h.5M521.6 718.4h.5M523.9 720.9h.5M523.4 729.0h.5M527.2 723.5h.5M527.2 725.1h.5M520.5 715.8h.5M528.7 725.0h.5M529.5 716.3h.5M527.6 721.2h.5M524.2 728.9h.5M526.6 723.1h.5M526.1 736.7h.5M526.4 718.9h.5M520.8 722.7h.5M524.4 729.8h.5M525.9 728.9h.5M523.9 726.9h.5M529.2 703.5h.5M521.9 726.3h.5M529.2 724.2h.5M523.7 720.3h.5M520.9 705.3h.5M520.1 711.8h.5M519.0 701.2h.5M518.9 697.0h.5M518.7 709.9h.5M520.7 694.2h.5M519.2 694.1h.5M518.9 712.7h.5M520.2 710.6h.5M519.9 694.9h.5M519.5 711.3h.5M518.4 710.2h.5M517.9 702.6h.5M519.4 695.7h.5M518.1 695.2h.5M518.5 703.8h.5M519.2 706.5h.5M520.1 699.5h.5M519.0 708.7h.5M519.4 710.3h.5M520.2 701.9h.5M519.1 701.4h.5M518.3 695.5h.5M604.3 677.0h.5M606.3 676.9h.5M605.3 686.1h.5M606.9 690.3h.5M603.3 683.7h.5M605.6 685.3h.5M604.3 677.3h.5M606.1 693.3h.5M603.9 673.9h.5M604.5 695.0h.5M605.0 690.7h.5M605.1 684.5h.5M605.3 688.3h.5M605.5 690.2h.5M605.3 680.6h.5M604.5 680.4h.5M605.5 683.1h.5M605.3 683.9h.5M606.6 688.7h.5M603.2 673.0h.5M603.7 692.7h.5M605.3 677.6h.5M603.8 674.0h.5M606.3 689.5h.5M602.8 683.1h.5M607.3 690.3h.5M606.6 672.9h.5M606.5 679.4h.5M606.6 680.8h.5M605.2 680.2h.5M605.1 694.6h.5M604.8 680.6h.5M603.8 692.2h.5M605.5 717.8h.5M607.7 729.2h.5M606.7 717.8h.5M608.1 724.6h.5M607.0 721.2h.5M608.6 724.7h.5M606.6 720.8h.5M608.1 725.9h.5M605.6 711.1h.5M607.9 721.7h.5M608.6 720.8h.5M607.5 719.7h.5M608.3 716.0h.5M606.1 725.2h.5M604.6 722.0h.5M606.1 724.1h.5M607.1 722.3h.5M607.1 723.4h.5M604.7 729.0h.5M605.2 719.7h.5M607.5 718.3h.5M606.7 724.1h.5M605.6 724.5h.5M606.8 724.6h.5M607.5 719.9h.5M607.4 733.0h.5M607.1 726.5h.5M605.6 728.3h.5M607.6 720.2h.5M607.0 721.0h.5M608.5 717.3h.5M608.3 719.4h.5M606.1 726.5h.5M608.5 721.4h.5M607.5 723.5h.5M606.7 724.4h.5M608.2 722.7h.5M606.9 729.5h.5M608.0 733.2h.5M604.6 716.8h.5M606.5 743.2h.5M608.5 716.9h.5M607.8 718.9h.5M604.9 723.5h.5M605.8 722.1h.5M607.6 728.4h.5M607.7 713.3h.5M608.8 718.4h.5M604.9 712.1h.5M606.7 723.1h.5M604.9 726.0h.5M605.8 735.7h.5M606.4 735.1h.5M604.8 728.4h.5M606.3 715.4h.5M607.8 720.5h.5M601.9 740.3h.5M603.1 743.0h.5M603.3 735.0h.5M601.9 735.6h.5M602.0 744.6h.5M603.7 735.1h.5M603.7 739.8h.5M601.1 738.5h.5M603.4 733.1h.5M604.3 735.6h.5M604.1 748.3h.5M602.9 751.6h.5M601.8 734.2h.5M604.0 742.3h.5M604.0 748.4h.5M601.5 744.7h.5M602.6 750.3h.5M602.3 744.1h.5M603.9 735.4h.5M523.7 702.6h.5M529.0 670.5h.5M528.2 772.3h.5M528.4 782.6h.5M527.9 651.2h.5M522.9 653.1h.5M522.5 707.1h.5M523.8 770.1h.5M529.7 742.4h.5M525.0 765.6h.5M520.2 645.9h.5M529.0 716.7h.5M605.2 676.8h.5M605.3 714.6h.5M607.9 722.6h.5M606.1 732.1h.5M606.8 774.2h.5M606.4 659.4h.5" stroke="#8c564b" stroke-width=".5" opacity=".65" fill="none"/>
<path d="M534.9 698.9h.5M533.5 683.6h.5M539.6 700.3h.5M533.3 708.2h.5M536.8 701.3h.5M534.9 684.9h.5M537.3 711.0h.5M533.4 704.3h.5M539.0 702.0h.5M530.6 702.0h.5M537.8 705.9h.5M538.3 700.6h.5M533.0 688.6h.5M539.8 706.8h.5M535.2 709.0h.5M531.8 702.3h.5M536.8 708.2h.5M538.4 699.2h.5M533.3 698.8h.5M532.2 710.6h.5M535.0 699.6h.5M534.9 702.2h.5M534.4 701.5h.5M531.3 711.0h.5M533.2 694.4h.5M532.0 705.3h.5M537.2 695.9h.5M538.0 712.4h.5M539.0 706.9h.5M531.7 685.8h.5M531.9 706.4h.5M536.1 707.0h.5M535.1 696.0h.5M539.3 701.3h.5M534.2 705.5h.5M535.0 705.0h.5M531.5 693.4h.5M538.7 701.9h.5M535.1 701.3h.5M534.6 715.3h.5M536.8 697.3h.5M531.2 700.3h.5M537.2 701.5h.5M538.4 681.2h.5M535.1 703.1h.5M531.8 698.8h.5M540.0 701.7h.5M532.2 704.5h.5M539.0 710.5h.5M534.6 701.7h.5M535.6 699.6h.5M530.6 705.7h.5M536.3 699.0h.5M535.1 709.8h.5M531.5 711.8h.5M537.5 705.5h.5M537.9 704.4h.5M534.8 714.6h.5M531.4 703.5h.5M538.4 709.8h.5M531.3 707.1h.5M531.7 711.2h.5M537.4 706.4h.5M531.7 698.8h.5M538.4 707.0h.5M537.4 700.8h.5M532.7 699.5h.5M534.2 697.2h.5M531.8 700.2h.5M533.5 709.0h.5M537.7 705.4h.5M531.6 705.5h.5M536.3 706.4h.5M535.2 700.9h.5M534.4 695.2h.5M531.3 694.0h.5M533.1 694.0h.5M531.9 712.4h.5M533.2 701.3h.5M533.0 700.2h.5M539.1 701.5h.5M539.6 703.3h.5M531.2 707.6h.5M532.0 705.0h.5M532.4 701.0h.5M535.4 701.0h.5M538.9 709.0h.5M535.7 703.1h.5M538.0 706.1h.5M538.2 704.4h.5M539.5 705.9h.5M537.5 701.1h.5M532.0 713.1h.5M534.4 703.6h.5M532.9 702.7h.5M535.9 708.0h.5M539.3 703.8h.5M531.4 691.0h.5M534.8 712.1h.5M539.4 706.3h.5M536.2 707.0h.5M537.6 695.7h.5M533.5 718.5h.5M532.5 699.3h.5M534.6 702.2h.5M533.0 695.7h.5M538.8 705.9h.5M531.0 708.6h.5M538.4 701.8h.5M534.2 703.9h.5M539.7 696.9h.5M536.7 699.3h.5M535.5 699.1h.5M531.4 705.3h.5M536.0 705.8h.5M537.8 716.2h.5M540.0 698.2h.5M534.7 710.7h.5M539.6 713.5h.5M537.6 714.3h.5M539.5 723.6h.5M540.2 731.8h.5M538.6 731.4h.5M540.1 727.6h.5M539.9 715.9h.5M538.3 714.3h.5M539.5 720.1h.5M541.6 722.7h.5M537.5 714.1h.5M539.7 726.5h.5M539.8 727.8h.5M538.5 733.2h.5M540.2 718.3h.5M538.4 717.3h.5M539.3 716.4h.5M539.8 731.9h.5M538.5 719.4h.5M538.5 728.8h.5M540.6 724.9h.5M540.9 722.1h.5M539.4 719.6h.5M531.8 746.2h.5M530.4 732.9h.5M529.7 749.8h.5M530.5 737.7h.5M529.6 747.9h.5M529.9 746.4h.5M530.1 737.0h.5M530.7 744.3h.5M532.0 748.7h.5M530.7 737.0h.5M530.4 751.6h.5M530.2 746.1h.5M531.4 733.6h.5M530.4 746.1h.5M532.0 751.0h.5M529.5 736.0h.5M528.4 744.4h.5M532.6 751.5h.5M530.3 746.3h.5M610.3 698.4h.5M611.2 703.1h.5M614.5 705.7h.5M612.0 702.7h.5M612.1 702.6h.5M613.4 708.1h.5M611.1 693.6h.5M612.0 714.1h.5M614.4 706.4h.5M612.1 702.6h.5M611.2 698.9h.5M612.0 696.5h.5M610.5 707.8h.5M614.7 702.9h.5M609.7 709.7h.5M612.6 710.8h.5M609.8 701.0h.5M611.6 700.1h.5M612.4 701.9h.5M611.1 706.2h.5M610.9 701.8h.5M613.4 705.5h.5M613.5 711.5h.5M610.7 704.6h.5M610.7 709.0h.5M610.5 718.7h.5M610.8 701.6h.5M612.9 711.5h.5M611.2 704.0h.5M609.9 701.5h.5M611.0 709.8h.5M612.0 699.6h.5M612.5 713.6h.5M612.0 704.0h.5M612.6 702.9h.5M612.2 707.9h.5M613.2 704.7h.5M614.1 696.9h.5M611.6 707.2h.5M610.4 701.1h.5M610.1 697.6h.5M613.6 701.9h.5M614.1 702.6h.5M613.1 699.2h.5M612.3 704.1h.5M610.8 713.7h.5M613.4 699.5h.5M611.5 711.0h.5M610.9 707.4h.5M611.8 698.3h.5M612.3 705.8h.5M611.5 699.4h.5M613.3 704.4h.5M613.5 709.7h.5M614.5 688.7h.5M612.9 682.5h.5M613.8 708.1h.5M611.3 716.6h.5M610.5 704.2h.5M614.7 702.1h.5M610.7 731.3h.5M611.5 701.6h.5M614.3 701.5h.5M614.1 691.7h.5M611.7 700.1h.5M608.7 734.2h.5M610.2 746.0h.5M609.0 738.2h.5M609.9 744.4h.5M610.1 740.6h.5M611.1 732.9h.5M609.8 733.7h.5M610.1 736.4h.5M610.4 737.0h.5M610.9 739.0h.5M609.8 736.6h.5M609.7 734.9h.5M609.8 738.6h.5M610.3 746.9h.5M610.2 741.9h.5M609.9 735.6h.5M608.8 736.5h.5M609.9 739.1h.5M609.8 735.9h.5M538.8 737.7h.5M535.7 695.0h.5M537.7 776.4h.5M535.5 674.1h.5M534.2 682.5h.5M538.6 688.3h.5M535.7 697.6h.5M530.9 772.3h.5M536.9 745.0h.5M533.4 777.6h.5M534.9 697.2h.5M530.7 739.0h.5M612.3 684.3h.5M614.3 746.3h.5M614.9 709.0h.5M614.0 733.8h.5M610.5 652.0h.5M614.6 776.1h.5" stroke="#e377c2" stroke-width=".5" opacity=".65" fill="none"/>
<path d="M546.6 685.4h.5M546.8 694.7h.5M543.3 682.8h.5M541.4 679.6h.5M547.1 674.7h.5M543.3 685.8h.5M545.3 689.6h.5M547.8 678.0h.5M545.4 683.7h.5M545.7 687.0h.5M548.5 682.9h.5M545.7 683.2h.5M545.5 673.3h.5M540.9 681.8h.5M544.0 692.3h.5M548.3 687.5h.5M544.1 674.5h.5M541.5 682.8h.5M543.9 673.6h.5M545.4 681.8h.5M547.8 679.1h.5M548.4 688.0h.5M542.9 689.8h.5M542.5 693.9h.5M547.6 682.1h.5M547.2 689.7h.5M547.8 683.4h.5M545.0 685.0h.5M544.7 686.7h.5M544.4 680.2h.5M545.2 679.0h.5M544.2 709.1h.5M546.5 675.1h.5M545.9 685.5h.5M542.6 685.4h.5M546.3 679.2h.5M543.5 680.8h.5M547.4 681.5h.5M541.2 683.6h.5M544.1 676.2h.5M548.2 679.9h.5M542.4 684.6h.5M541.9 671.7h.5M542.5 673.6h.5M548.3 686.4h.5M545.5 685.8h.5M545.9 687.9h.5M546.8 687.1h.5M541.8 681.4h.5M546.2 681.0h.5M542.8 685.5h.5M545.1 689.3h.5M546.8 682.3h.5M544.8 687.1h.5M540.7 688.3h.5M541.2 678.0h.5M547.9 683.9h.5M543.3 681.9h.5M545.0 681.9h.5M541.7 688.9h.5M547.5 691.3h.5M545.2 679.4h.5M542.0 684.9h.5M544.4 684.9h.5M542.2 692.9h.5M547.8 681.1h.5M545.9 673.5h.5M547.6 680.9h.5M546.2 688.1h.5M545.3 681.9h.5M547.3 683.7h.5M542.1 679.9h.5M546.5 682.2h.5M545.0 680.1h.5M542.7 689.4h.5M546.2 679.9h.5M546.7 687.9h.5M543.7 688.1h.5M548.4 681.3h.5M547.0 681.1h.5M543.7 682.4h.5M543.2 690.4h.5M546.9 685.7h.5M546.2 681.8h.5M547.1 680.3h.5M546.5 686.5h.5M544.3 681.5h.5M545.3 681.9h.5M546.5 692.3h.5M543.0 686.5h.5M546.6 683.8h.5M547.5 686.1h.5M542.1 681.4h.5M542.7 691.0h.5M548.0 679.1h.5M547.8 675.3h.5M545.1 696.3h.5M548.3 695.3h.5M548.2 713.2h.5M549.1 697.9h.5M552.0 711.2h.5M549.6 694.4h.5M548.8 710.9h.5M548.7 700.3h.5M549.2 710.7h.5M550.3 705.6h.5M550.2 699.3h.5M549.8 712.1h.5M550.4 705.3h.5M548.1 710.0h.5M548.3 713.9h.5M550.1 693.5h.5M549.2 691.7h.5M547.9 709.4h.5M549.0 714.4h.5M548.4 707.5h.5M549.2 694.2h.5M548.0 697.1h.5M549.6 698.0h.5M547.3 710.4h.5M549.6 709.2h.5M549.6 707.4h.5M550.2 706.5h.5M551.2 709.9h.5M550.8 704.8h.5M548.9 698.0h.5M547.7 714.3h.5M550.2 713.7h.5M548.5 702.3h.5M548.5 707.7h.5M617.6 694.0h.5M615.3 725.6h.5M617.7 734.3h.5M618.1 710.8h.5M615.6 735.9h.5M616.4 727.7h.5M615.1 717.6h.5M616.4 727.0h.5M619.7 725.9h.5M616.0 723.2h.5M618.4 728.1h.5M617.8 719.3h.5M615.1 717.6h.5M617.1 714.0h.5M615.0 724.2h.5M618.8 725.5h.5M616.4 719.6h.5M619.1 722.5h.5M618.4 728.7h.5M615.6 721.6h.5M617.5 723.7h.5M617.5 725.7h.5M615.4 726.7h.5M619.5 716.3h.5M617.3 731.7h.5M618.0 725.6h.5M616.7 711.1h.5M616.6 711.1h.5M619.1 737.9h.5M614.9 719.2h.5M619.4 716.6h.5M619.7 725.1h.5M615.6 722.4h.5M618.0 715.4h.5M618.9 716.1h.5M616.6 721.4h.5M616.8 714.2h.5M615.5 727.0h.5M617.4 725.8h.5M616.9 717.8h.5M614.9 722.2h.5M618.8 714.9h.5M616.3 718.7h.5M615.7 711.5h.5M618.8 723.9h.5M618.1 723.6h.5M617.9 726.7h.5M615.0 723.7h.5M617.2 718.9h.5M615.4 731.0h.5M619.4 724.6h.5M615.9 720.3h.5M619.5 730.3h.5M616.5 724.4h.5M615.4 718.8h.5M615.0 706.3h.5M616.5 727.9h.5M616.0 722.7h.5M615.7 738.2h.5M617.1 715.7h.5M614.9 719.0h.5M615.2 721.6h.5M618.4 721.2h.5M617.2 716.0h.5M618.5 723.7h.5M546.2 732.9h.5M541.4 704.7h.5M544.4 643.7h.5M540.5 715.6h.5M541.2 738.1h.5M542.3 755.5h.5M543.2 692.6h.5M543.5 745.2h.5M545.7 766.6h.5M543.1 770.7h.5M542.3 761.8h.5M617.0 648.7h.5M616.2 759.2h.5M617.0 745.6h.5M618.6 681.5h.5M615.6 666.5h.5" stroke="#7f7f7f" stroke-width=".5" opacity=".65" fill="none"/>
<path d="M550.4 665.4h.5M550.8 671.3h.5M547.7 682.9h.5M549.5 676.0h.5M550.0 670.1h.5M550.7 686.2h.5M550.7 670.3h.5M549.8 676.4h.5M548.9 664.5h.5M549.2 685.6h.5M549.3 674.3h.5M550.6 670.4h.5M549.7 684.7h.5M550.2 680.8h.5M548.2 665.3h.5M550.9 679.3h.5M550.0 679.6h.5M547.9 667.1h.5M549.3 673.4h.5M548.9 680.7h.5M549.2 668.5h.5M548.8 684.1h.5M549.0 673.9h.5M549.6 679.0h.5M549.5 680.3h.5M550.7 678.7h.5M548.4 671.7h.5M552.2 713.8h.5M551.9 714.4h.5M550.8 713.5h.5M551.5 711.7h.5M551.3 709.4h.5M552.2 714.4h.5M552.2 722.0h.5M552.3 716.6h.5M550.6 708.5h.5M551.0 718.0h.5M551.4 721.4h.5M551.0 710.0h.5M551.7 719.8h.5M550.9 723.0h.5M551.2 711.4h.5M551.5 722.0h.5M552.0 714.8h.5M551.2 710.8h.5M551.3 711.6h.5M552.1 708.6h.5M552.0 724.9h.5M551.2 716.4h.5M551.8 720.0h.5M552.3 705.4h.5M551.4 712.7h.5M550.8 713.6h.5M550.3 713.6h.5M551.6 714.0h.5M554.9 728.1h.5M554.7 714.0h.5M555.7 721.4h.5M555.6 726.6h.5M554.6 720.1h.5M555.5 722.6h.5M554.8 720.8h.5M553.9 726.9h.5M556.7 722.9h.5M554.1 711.0h.5M554.3 722.6h.5M554.0 722.1h.5M555.7 730.5h.5M553.9 717.4h.5M556.6 722.4h.5M554.7 720.1h.5M556.7 728.2h.5M555.4 722.1h.5M554.9 722.8h.5M556.7 726.6h.5M554.8 716.2h.5M554.3 734.3h.5M556.0 722.5h.5M556.1 719.5h.5M557.3 727.6h.5M554.6 723.5h.5M556.8 720.6h.5M554.9 723.9h.5M557.2 725.7h.5M557.5 730.6h.5M554.3 725.2h.5M557.1 720.2h.5M553.8 727.3h.5M553.7 719.9h.5M554.1 723.9h.5M557.4 717.8h.5M556.8 726.5h.5M555.9 727.2h.5M556.0 725.1h.5M555.2 719.1h.5M556.4 720.6h.5M554.7 727.7h.5M556.5 725.1h.5M554.5 728.1h.5M557.7 724.0h.5M554.3 714.5h.5M557.3 725.7h.5M555.2 718.9h.5M555.2 719.3h.5M557.4 721.5h.5M555.1 718.1h.5M557.0 719.6h.5M620.3 686.5h.5M620.5 686.0h.5M620.3 687.8h.5M619.7 689.1h.5M621.0 682.4h.5M620.6 671.2h.5M622.0 678.7h.5M620.7 675.2h.5M619.7 683.0h.5M617.5 691.9h.5M622.4 687.6h.5M620.0 676.8h.5M619.6 686.3h.5M620.4 691.4h.5M621.2 675.4h.5M622.1 672.8h.5M620.2 684.6h.5M621.0 694.7h.5M619.7 682.5h.5M619.8 671.1h.5M620.6 682.6h.5M621.7 683.0h.5M619.9 683.1h.5M621.7 682.9h.5M619.3 673.9h.5M622.5 685.9h.5M621.4 682.2h.5M619.0 673.2h.5M619.4 682.3h.5M620.7 685.9h.5M618.2 690.7h.5M618.9 687.4h.5M619.2 695.4h.5M618.5 681.8h.5M622.1 684.8h.5M620.8 680.3h.5M619.3 679.3h.5M619.9 672.1h.5M622.2 684.3h.5M620.8 684.6h.5M621.2 682.1h.5M621.0 689.0h.5M621.0 686.2h.5M621.8 745.0h.5M621.3 739.9h.5M621.4 736.6h.5M622.5 751.9h.5M623.0 737.6h.5M622.6 751.7h.5M624.2 738.7h.5M621.5 743.5h.5M620.7 746.8h.5M620.9 741.5h.5M621.3 749.2h.5M621.5 751.2h.5M621.5 742.8h.5M621.8 749.4h.5M623.0 746.7h.5M621.5 736.5h.5M623.1 734.9h.5M620.1 741.2h.5M621.4 749.9h.5M556.8 741.8h.5M551.5 652.0h.5M552.4 705.1h.5M558.1 674.6h.5M555.5 702.5h.5M550.2 782.4h.5M551.5 655.9h.5M550.7 645.9h.5M554.9 641.5h.5M556.0 670.2h.5M621.1 674.8h.5M621.9 739.5h.5M622.0 678.0h.5M623.5 643.0h.5" stroke="#bcbd22" stroke-width=".5" opacity=".65" fill="none"/>
<path d="M558.0 725.5h.5M559.5 717.6h.5M559.3 722.7h.5M562.3 732.9h.5M560.2 724.9h.5M558.4 718.6h.5M562.5 722.3h.5M563.1 719.9h.5M562.1 721.2h.5M560.4 721.0h.5M564.3 715.9h.5M564.8 717.1h.5M564.4 732.1h.5M564.4 719.7h.5M561.6 716.1h.5M562.9 726.5h.5M563.4 723.9h.5M560.8 727.0h.5M561.9 726.2h.5M563.9 718.9h.5M560.3 728.2h.5M564.1 724.8h.5M563.0 726.3h.5M557.8 721.9h.5M560.5 735.6h.5M558.2 729.0h.5M562.5 723.4h.5M565.1 721.8h.5M561.0 720.2h.5M559.1 725.3h.5M564.5 724.6h.5M563.0 716.6h.5M559.5 725.9h.5M560.0 720.6h.5M563.1 723.3h.5M558.3 716.3h.5M557.8 708.5h.5M562.0 722.4h.5M558.3 723.7h.5M565.7 727.0h.5M563.9 716.7h.5M560.0 715.8h.5M564.1 730.0h.5M563.6 722.4h.5M558.4 728.4h.5M559.7 721.1h.5M558.3 720.2h.5M562.6 715.6h.5M564.5 721.8h.5M559.6 720.6h.5M560.5 714.8h.5M563.4 719.4h.5M560.4 725.2h.5M559.1 728.8h.5M560.8 710.4h.5M562.2 721.5h.5M562.8 725.1h.5M559.2 722.5h.5M558.3 718.0h.5M561.7 718.0h.5M557.7 714.8h.5M564.3 730.6h.5M565.6 715.8h.5M564.8 721.3h.5M559.0 725.0h.5M565.8 726.3h.5M559.7 723.4h.5M557.9 726.0h.5M564.5 730.5h.5M563.8 728.1h.5M557.9 719.9h.5M560.8 727.0h.5M560.3 719.9h.5M558.2 724.7h.5M564.7 715.1h.5M559.5 717.3h.5M562.5 719.0h.5M561.7 726.1h.5M563.0 721.3h.5M559.4 718.1h.5M559.5 720.7h.5M558.2 719.9h.5M558.4 717.7h.5M563.8 714.7h.5M562.4 720.7h.5M564.6 736.4h.5M559.2 725.1h.5M564.2 733.0h.5M562.4 715.9h.5M558.3 718.1h.5M562.5 726.1h.5M561.5 716.1h.5M560.7 725.1h.5M559.2 722.4h.5M565.0 722.4h.5M563.7 711.6h.5M563.6 722.8h.5M565.2 721.5h.5M558.4 718.3h.5M563.4 723.7h.5M562.7 725.7h.5M565.2 745.4h.5M565.2 744.3h.5M567.9 733.1h.5M566.5 751.9h.5M565.8 733.8h.5M566.7 744.9h.5M565.9 748.8h.5M566.4 740.9h.5M565.7 737.3h.5M567.0 745.6h.5M564.4 748.9h.5M565.7 751.5h.5M564.3 734.0h.5M566.1 738.4h.5M564.8 742.9h.5M566.4 747.1h.5M564.6 746.0h.5M564.5 744.4h.5M566.7 735.5h.5M623.5 703.9h.5M625.4 702.8h.5M626.8 704.5h.5M625.1 714.9h.5M626.4 699.2h.5M623.9 713.4h.5M623.8 707.0h.5M623.5 690.2h.5M623.3 698.4h.5M624.1 706.4h.5M627.0 700.3h.5M624.6 709.4h.5M624.6 706.0h.5M624.4 701.9h.5M624.1 697.4h.5M623.9 702.0h.5M623.6 702.6h.5M624.7 701.7h.5M627.1 703.7h.5M626.1 702.8h.5M625.4 699.2h.5M623.8 700.6h.5M624.1 708.2h.5M626.4 703.7h.5M625.3 704.4h.5M627.2 706.4h.5M624.2 704.2h.5M626.9 709.3h.5M625.9 701.2h.5M624.3 697.1h.5M623.8 716.6h.5M625.2 705.0h.5M624.2 705.9h.5M626.2 700.7h.5M625.8 710.2h.5M623.3 697.9h.5M624.3 699.8h.5M625.1 704.7h.5M624.6 709.4h.5M625.1 704.1h.5M627.3 697.4h.5M626.7 701.8h.5M625.1 707.8h.5M623.7 705.2h.5M623.8 697.9h.5M625.0 705.1h.5M624.7 697.8h.5M624.0 712.0h.5M626.8 701.7h.5M626.2 709.8h.5M625.8 705.0h.5M625.4 692.5h.5M560.9 761.8h.5M559.6 753.1h.5M566.7 759.3h.5M560.8 664.3h.5M565.5 650.6h.5M561.5 729.0h.5M565.4 725.3h.5M562.6 685.2h.5M564.4 744.9h.5M565.3 703.9h.5M627.0 701.2h.5M626.8 640.2h.5M623.9 777.8h.5M625.7 711.5h.5" stroke="#17becf" stroke-width=".5" opacity=".65" fill="none"/>
<rect x="452.4" y="637.7" width="195.2" height="148.7" fill="none" stroke="#808080" stroke-width="0.7"/>
<text x="454.80" y="636.70" font-size="3.7" fill="#3f8ccb">03EM3_RD</text>
<text x="460.26" y="791.00" font-size="3.5" text-anchor="middle" fill="#222">1</text>
<line x1="452.40" y1="786.40" x2="452.40" y2="787.60" stroke="#444" stroke-width="0.4"/>
<text x="475.78" y="791.00" font-size="3.5" text-anchor="middle" fill="#222">2</text>
<line x1="468.12" y1="786.40" x2="468.12" y2="787.60" stroke="#444" stroke-width="0.4"/>
<text x="489.69" y="791.00" font-size="3.5" text-anchor="middle" fill="#222">3</text>
<line x1="483.45" y1="786.40" x2="483.45" y2="787.60" stroke="#444" stroke-width="0.4"/>
<text x="501.97" y="791.00" font-size="3.5" text-anchor="middle" fill="#222">4</text>
<line x1="495.94" y1="786.40" x2="495.94" y2="787.60" stroke="#444" stroke-width="0.4"/>
<text x="513.70" y="791.00" font-size="3.5" text-anchor="middle" fill="#222">5</text>
<line x1="507.99" y1="786.40" x2="507.99" y2="787.60" stroke="#444" stroke-width="0.4"/>
<text x="524.79" y="791.00" font-size="3.5" text-anchor="middle" fill="#222">6</text>
<line x1="519.40" y1="786.40" x2="519.40" y2="787.60" stroke="#444" stroke-width="0.4"/>
<text x="535.21" y="791.00" font-size="3.5" text-anchor="middle" fill="#222">7</text>
<line x1="530.19" y1="786.40" x2="530.19" y2="787.60" stroke="#444" stroke-width="0.4"/>
<text x="544.84" y="791.00" font-size="3.5" text-anchor="middle" fill="#222">8</text>
<line x1="540.22" y1="786.40" x2="540.22" y2="787.60" stroke="#444" stroke-width="0.4"/>
<text x="553.90" y="791.00" font-size="3.5" text-anchor="middle" fill="#222">9</text>
<line x1="549.45" y1="786.40" x2="549.45" y2="787.60" stroke="#444" stroke-width="0.4"/>
<text x="562.63" y="791.00" font-size="3.5" text-anchor="middle" fill="#222">10</text>
<line x1="558.36" y1="786.40" x2="558.36" y2="787.60" stroke="#444" stroke-width="0.4"/>
<text x="571.16" y="791.00" font-size="3.5" text-anchor="middle" fill="#222">11</text>
<line x1="566.90" y1="786.40" x2="566.90" y2="787.60" stroke="#444" stroke-width="0.4"/>
<text x="579.63" y="791.00" font-size="3.5" text-anchor="middle" fill="#222">12</text>
<line x1="575.41" y1="786.40" x2="575.41" y2="787.60" stroke="#444" stroke-width="0.4"/>
<text x="587.49" y="791.00" font-size="3.5" text-anchor="middle" fill="#222">13</text>
<line x1="583.86" y1="786.40" x2="583.86" y2="787.60" stroke="#444" stroke-width="0.4"/>
<text x="594.50" y="791.00" font-size="3.5" text-anchor="middle" fill="#222">14</text>
<line x1="591.12" y1="786.40" x2="591.12" y2="787.60" stroke="#444" stroke-width="0.4"/>
<text x="601.12" y="791.00" font-size="3.5" text-anchor="middle" fill="#222">15</text>
<line x1="597.89" y1="786.40" x2="597.89" y2="787.60" stroke="#444" stroke-width="0.4"/>
<text x="607.20" y="791.00" font-size="3.5" text-anchor="middle" fill="#222">16</text>
<line x1="604.35" y1="786.40" x2="604.35" y2="787.60" stroke="#444" stroke-width="0.4"/>
<text x="612.61" y="791.00" font-size="3.5" text-anchor="middle" fill="#222">17</text>
<line x1="610.05" y1="786.40" x2="610.05" y2="787.60" stroke="#444" stroke-width="0.4"/>
<text x="617.63" y="791.00" font-size="3.5" text-anchor="middle" fill="#222">18</text>
<line x1="615.17" y1="786.40" x2="615.17" y2="787.60" stroke="#444" stroke-width="0.4"/>
<text x="621.96" y="791.00" font-size="3.5" text-anchor="middle" fill="#222">19</text>
<line x1="620.09" y1="786.40" x2="620.09" y2="787.60" stroke="#444" stroke-width="0.4"/>
<text x="625.81" y="791.00" font-size="3.5" text-anchor="middle" fill="#222">20</text>
<line x1="623.82" y1="786.40" x2="623.82" y2="787.60" stroke="#444" stroke-width="0.4"/>
<text x="629.31" y="791.00" font-size="3.5" text-anchor="middle" fill="#222">21</text>
<line x1="627.79" y1="786.40" x2="627.79" y2="787.60" stroke="#444" stroke-width="0.4"/>
<text x="632.44" y="791.00" font-size="3.5" text-anchor="middle" fill="#222">22</text>
<line x1="630.83" y1="786.40" x2="630.83" y2="787.60" stroke="#444" stroke-width="0.4"/>
<text x="638.96" y="791.00" font-size="3.5" text-anchor="middle" fill="#222">X</text>
<line x1="634.06" y1="786.40" x2="634.06" y2="787.60" stroke="#444" stroke-width="0.4"/>
<text x="645.73" y="791.00" font-size="3.5" text-anchor="middle" fill="#222">Y</text>
<line x1="643.85" y1="786.40" x2="643.85" y2="787.60" stroke="#444" stroke-width="0.4"/>
<text x="450.10" y="787.65" font-size="3.6" text-anchor="end" fill="#222">0</text>
<line x1="451.20" y1="786.40" x2="452.40" y2="786.40" stroke="#444" stroke-width="0.4"/>
<text x="450.10" y="750.48" font-size="3.6" text-anchor="end" fill="#222">1</text>
<line x1="451.20" y1="749.23" x2="452.40" y2="749.23" stroke="#444" stroke-width="0.4"/>
<text x="450.10" y="713.30" font-size="3.6" text-anchor="end" fill="#222">2</text>
<line x1="451.20" y1="712.05" x2="452.40" y2="712.05" stroke="#444" stroke-width="0.4"/>
<text x="450.10" y="676.12" font-size="3.6" text-anchor="end" fill="#222">3</text>
<line x1="451.20" y1="674.88" x2="452.40" y2="674.88" stroke="#444" stroke-width="0.4"/>
<text x="445.70" y="712.35" font-size="3.2" text-anchor="middle" fill="#111" transform="rotate(-90 445.70 712.35)" stroke="#111" stroke-width="0.15">RD (CN)</text>
</g>
</g>
<g id="pG">
<line x1="71.70" y1="831.00" x2="71.70" y2="918.90" stroke="#1a1a1a" stroke-width="1.1"/>
<line x1="71.20" y1="918.40" x2="344.80" y2="918.40" stroke="#1a1a1a" stroke-width="1.1"/>
<line x1="66.50" y1="918.40" x2="71.70" y2="918.40" stroke="#1a1a1a" stroke-width="1.1"/>
<text x="64.10" y="921.30" font-size="8" text-anchor="end" stroke="#000" stroke-width="0.18">0.0</text>
<line x1="66.50" y1="878.90" x2="71.70" y2="878.90" stroke="#1a1a1a" stroke-width="1.1"/>
<text x="64.10" y="881.80" font-size="8" text-anchor="end" stroke="#000" stroke-width="0.18">0.5</text>
<line x1="66.50" y1="839.40" x2="71.70" y2="839.40" stroke="#1a1a1a" stroke-width="1.1"/>
<text x="64.10" y="842.30" font-size="8" text-anchor="end" stroke="#000" stroke-width="0.18">1.0</text>
<text x="48.00" y="874.80" font-size="8.3" text-anchor="middle" transform="rotate(-90 48.00 874.80)" stroke="#000" stroke-width="0.18">Proportion</text>
<rect x="77.20" y="917.61" width="11.00" height="0.79" fill="#dab892" stroke="#222" stroke-width="0.45"/>
<rect x="77.20" y="893.91" width="11.00" height="23.70" fill="#e8760f" stroke="#222" stroke-width="0.45"/>
<rect x="77.20" y="861.12" width="11.00" height="32.78" fill="#d9220f" stroke="#222" stroke-width="0.45"/>
<rect x="77.20" y="839.40" width="11.00" height="21.73" fill="#277773" stroke="#222" stroke-width="0.45"/>
<line x1="82.70" y1="918.40" x2="82.70" y2="923.60" stroke="#1a1a1a" stroke-width="1.1"/>
<text x="82.70" y="934.00" font-size="8" text-anchor="middle" stroke="#000" stroke-width="0.18">3</text>
<rect x="93.93" y="915.63" width="11.00" height="2.76" fill="#dab892" stroke="#222" stroke-width="0.45"/>
<rect x="93.93" y="888.38" width="11.00" height="27.25" fill="#e8760f" stroke="#222" stroke-width="0.45"/>
<rect x="93.93" y="856.38" width="11.00" height="32.00" fill="#d9220f" stroke="#222" stroke-width="0.45"/>
<rect x="93.93" y="839.40" width="11.00" height="16.99" fill="#277773" stroke="#222" stroke-width="0.45"/>
<line x1="99.43" y1="918.40" x2="99.43" y2="923.60" stroke="#1a1a1a" stroke-width="1.1"/>
<text x="99.43" y="934.00" font-size="8" text-anchor="middle" stroke="#000" stroke-width="0.18">7</text>
<rect x="110.66" y="906.55" width="11.00" height="11.85" fill="#dab892" stroke="#222" stroke-width="0.45"/>
<rect x="110.66" y="839.40" width="11.00" height="67.15" fill="#e8760f" stroke="#222" stroke-width="0.45"/>
<line x1="116.16" y1="918.40" x2="116.16" y2="923.60" stroke="#1a1a1a" stroke-width="1.1"/>
<text x="116.16" y="934.00" font-size="8" text-anchor="middle" stroke="#000" stroke-width="0.18">11</text>
<rect x="127.39" y="910.50" width="11.00" height="7.90" fill="#dab892" stroke="#222" stroke-width="0.45"/>
<rect x="127.39" y="866.65" width="11.00" height="43.85" fill="#e8760f" stroke="#222" stroke-width="0.45"/>
<rect x="127.39" y="855.20" width="11.00" height="11.46" fill="#d9220f" stroke="#222" stroke-width="0.45"/>
<rect x="127.39" y="847.69" width="11.00" height="7.50" fill="#277773" stroke="#222" stroke-width="0.45"/>
<rect x="127.39" y="839.40" width="11.00" height="8.29" fill="#1d5f87" stroke="#222" stroke-width="0.45"/>
<line x1="132.89" y1="918.40" x2="132.89" y2="923.60" stroke="#1a1a1a" stroke-width="1.1"/>
<text x="132.89" y="934.00" font-size="8" text-anchor="middle" stroke="#000" stroke-width="0.18">14</text>
<rect x="160.85" y="915.63" width="11.00" height="2.76" fill="#dab892" stroke="#222" stroke-width="0.45"/>
<rect x="160.85" y="889.56" width="11.00" height="26.07" fill="#e8760f" stroke="#222" stroke-width="0.45"/>
<rect x="160.85" y="887.59" width="11.00" height="1.98" fill="#d9220f" stroke="#222" stroke-width="0.45"/>
<rect x="160.85" y="874.95" width="11.00" height="12.64" fill="#1d5f87" stroke="#222" stroke-width="0.45"/>
<rect x="160.85" y="844.93" width="11.00" height="30.02" fill="#11264a" stroke="#222" stroke-width="0.45"/>
<rect x="160.85" y="839.40" width="11.00" height="5.53" fill="#e0a51e" stroke="#222" stroke-width="0.45"/>
<line x1="166.35" y1="918.40" x2="166.35" y2="923.60" stroke="#1a1a1a" stroke-width="1.1"/>
<text x="166.35" y="934.00" font-size="8" text-anchor="middle" stroke="#000" stroke-width="0.18">1</text>
<rect x="177.58" y="913.26" width="11.00" height="5.13" fill="#dab892" stroke="#222" stroke-width="0.45"/>
<rect x="177.58" y="861.12" width="11.00" height="52.14" fill="#e8760f" stroke="#222" stroke-width="0.45"/>
<rect x="177.58" y="858.75" width="11.00" height="2.37" fill="#d9220f" stroke="#222" stroke-width="0.45"/>
<rect x="177.58" y="847.69" width="11.00" height="11.06" fill="#11264a" stroke="#222" stroke-width="0.45"/>
<rect x="177.58" y="839.40" width="11.00" height="8.29" fill="#e0a51e" stroke="#222" stroke-width="0.45"/>
<line x1="183.08" y1="918.40" x2="183.08" y2="923.60" stroke="#1a1a1a" stroke-width="1.1"/>
<text x="183.08" y="934.00" font-size="8" text-anchor="middle" stroke="#000" stroke-width="0.18">2</text>
<rect x="194.31" y="912.48" width="11.00" height="5.92" fill="#dab892" stroke="#222" stroke-width="0.45"/>
<rect x="194.31" y="887.59" width="11.00" height="24.89" fill="#e8760f" stroke="#222" stroke-width="0.45"/>
<rect x="194.31" y="884.43" width="11.00" height="3.16" fill="#277773" stroke="#222" stroke-width="0.45"/>
<rect x="194.31" y="867.05" width="11.00" height="17.38" fill="#1d5f87" stroke="#222" stroke-width="0.45"/>
<rect x="194.31" y="839.40" width="11.00" height="27.65" fill="#11264a" stroke="#222" stroke-width="0.45"/>
<line x1="199.81" y1="918.40" x2="199.81" y2="923.60" stroke="#1a1a1a" stroke-width="1.1"/>
<text x="199.81" y="934.00" font-size="8" text-anchor="middle" stroke="#000" stroke-width="0.18">4</text>
<rect x="211.04" y="914.45" width="11.00" height="3.95" fill="#dab892" stroke="#222" stroke-width="0.45"/>
<rect x="211.04" y="873.76" width="11.00" height="40.68" fill="#e8760f" stroke="#222" stroke-width="0.45"/>
<rect x="211.04" y="861.52" width="11.00" height="12.25" fill="#1d5f87" stroke="#222" stroke-width="0.45"/>
<rect x="211.04" y="839.40" width="11.00" height="22.12" fill="#11264a" stroke="#222" stroke-width="0.45"/>
<line x1="216.54" y1="918.40" x2="216.54" y2="923.60" stroke="#1a1a1a" stroke-width="1.1"/>
<text x="216.54" y="934.00" font-size="8" text-anchor="middle" stroke="#000" stroke-width="0.18">5</text>
<rect x="227.77" y="912.48" width="11.00" height="5.92" fill="#dab892" stroke="#222" stroke-width="0.45"/>
<rect x="227.77" y="886.80" width="11.00" height="25.68" fill="#e8760f" stroke="#222" stroke-width="0.45"/>
<rect x="227.77" y="871.79" width="11.00" height="15.01" fill="#d9220f" stroke="#222" stroke-width="0.45"/>
<rect x="227.77" y="864.68" width="11.00" height="7.11" fill="#277773" stroke="#222" stroke-width="0.45"/>
<rect x="227.77" y="851.64" width="11.00" height="13.03" fill="#1d5f87" stroke="#222" stroke-width="0.45"/>
<rect x="227.77" y="839.40" width="11.00" height="12.25" fill="#11264a" stroke="#222" stroke-width="0.45"/>
<line x1="233.27" y1="918.40" x2="233.27" y2="923.60" stroke="#1a1a1a" stroke-width="1.1"/>
<text x="233.27" y="934.00" font-size="8" text-anchor="middle" stroke="#000" stroke-width="0.18">6</text>
<rect x="244.50" y="915.24" width="11.00" height="3.16" fill="#dab892" stroke="#222" stroke-width="0.45"/>
<rect x="244.50" y="876.53" width="11.00" height="38.71" fill="#e8760f" stroke="#222" stroke-width="0.45"/>
<rect x="244.50" y="873.37" width="11.00" height="3.16" fill="#d9220f" stroke="#222" stroke-width="0.45"/>
<rect x="244.50" y="859.15" width="11.00" height="14.22" fill="#1d5f87" stroke="#222" stroke-width="0.45"/>
<rect x="244.50" y="846.90" width="11.00" height="12.25" fill="#11264a" stroke="#222" stroke-width="0.45"/>
<rect x="244.50" y="839.40" width="11.00" height="7.50" fill="#868a0c" stroke="#222" stroke-width="0.45"/>
<line x1="250.00" y1="918.40" x2="250.00" y2="923.60" stroke="#1a1a1a" stroke-width="1.1"/>
<text x="250.00" y="934.00" font-size="8" text-anchor="middle" stroke="#000" stroke-width="0.18">8</text>
<rect x="261.23" y="914.05" width="11.00" height="4.35" fill="#dab892" stroke="#222" stroke-width="0.45"/>
<rect x="261.23" y="888.77" width="11.00" height="25.28" fill="#e8760f" stroke="#222" stroke-width="0.45"/>
<rect x="261.23" y="884.82" width="11.00" height="3.95" fill="#d9220f" stroke="#222" stroke-width="0.45"/>
<rect x="261.23" y="869.81" width="11.00" height="15.01" fill="#1d5f87" stroke="#222" stroke-width="0.45"/>
<rect x="261.23" y="853.23" width="11.00" height="16.59" fill="#11264a" stroke="#222" stroke-width="0.45"/>
<rect x="261.23" y="839.40" width="11.00" height="13.83" fill="#e0a51e" stroke="#222" stroke-width="0.45"/>
<line x1="266.73" y1="918.40" x2="266.73" y2="923.60" stroke="#1a1a1a" stroke-width="1.1"/>
<text x="266.73" y="934.00" font-size="8" text-anchor="middle" stroke="#000" stroke-width="0.18">9</text>
<rect x="277.96" y="914.45" width="11.00" height="3.95" fill="#dab892" stroke="#222" stroke-width="0.45"/>
<rect x="277.96" y="889.17" width="11.00" height="25.28" fill="#e8760f" stroke="#222" stroke-width="0.45"/>
<rect x="277.96" y="885.62" width="11.00" height="3.55" fill="#d9220f" stroke="#222" stroke-width="0.45"/>
<rect x="277.96" y="872.98" width="11.00" height="12.64" fill="#1d5f87" stroke="#222" stroke-width="0.45"/>
<rect x="277.96" y="857.96" width="11.00" height="15.01" fill="#11264a" stroke="#222" stroke-width="0.45"/>
<rect x="277.96" y="839.40" width="11.00" height="18.56" fill="#e0a51e" stroke="#222" stroke-width="0.45"/>
<line x1="283.46" y1="918.40" x2="283.46" y2="923.60" stroke="#1a1a1a" stroke-width="1.1"/>
<text x="283.46" y="934.00" font-size="8" text-anchor="middle" stroke="#000" stroke-width="0.18">10</text>
<rect x="294.69" y="915.63" width="11.00" height="2.76" fill="#dab892" stroke="#222" stroke-width="0.45"/>
<rect x="294.69" y="884.03" width="11.00" height="31.60" fill="#e8760f" stroke="#222" stroke-width="0.45"/>
<rect x="294.69" y="879.69" width="11.00" height="4.35" fill="#d9220f" stroke="#222" stroke-width="0.45"/>
<rect x="294.69" y="867.05" width="11.00" height="12.64" fill="#11264a" stroke="#222" stroke-width="0.45"/>
<rect x="294.69" y="839.40" width="11.00" height="27.65" fill="#868a0c" stroke="#222" stroke-width="0.45"/>
<line x1="300.19" y1="918.40" x2="300.19" y2="923.60" stroke="#1a1a1a" stroke-width="1.1"/>
<text x="300.19" y="934.00" font-size="8" text-anchor="middle" stroke="#000" stroke-width="0.18">12</text>
<rect x="311.42" y="906.55" width="11.00" height="11.85" fill="#dab892" stroke="#222" stroke-width="0.45"/>
<rect x="311.42" y="866.65" width="11.00" height="39.89" fill="#e8760f" stroke="#222" stroke-width="0.45"/>
<rect x="311.42" y="854.41" width="11.00" height="12.25" fill="#1d5f87" stroke="#222" stroke-width="0.45"/>
<rect x="311.42" y="839.40" width="11.00" height="15.01" fill="#11264a" stroke="#222" stroke-width="0.45"/>
<line x1="316.92" y1="918.40" x2="316.92" y2="923.60" stroke="#1a1a1a" stroke-width="1.1"/>
<text x="316.92" y="934.00" font-size="8" text-anchor="middle" stroke="#000" stroke-width="0.18">13</text>
<rect x="328.15" y="913.26" width="11.00" height="5.13" fill="#dab892" stroke="#222" stroke-width="0.45"/>
<rect x="328.15" y="868.63" width="11.00" height="44.63" fill="#e8760f" stroke="#222" stroke-width="0.45"/>
<rect x="328.15" y="859.15" width="11.00" height="9.48" fill="#1d5f87" stroke="#222" stroke-width="0.45"/>
<rect x="328.15" y="839.40" width="11.00" height="19.75" fill="#11264a" stroke="#222" stroke-width="0.45"/>
<line x1="333.65" y1="918.40" x2="333.65" y2="923.60" stroke="#1a1a1a" stroke-width="1.1"/>
<text x="333.65" y="934.00" font-size="8" text-anchor="middle" stroke="#000" stroke-width="0.18">15</text>
<line x1="149.62" y1="918.40" x2="149.62" y2="923.60" stroke="#1a1a1a" stroke-width="1.1"/>
<text x="208.00" y="944.60" font-size="8" text-anchor="middle" stroke="#000" stroke-width="0.18">Patient</text>
<rect x="50.40" y="956.50" width="13.70" height="5.20" fill="#dab892" stroke="#222" stroke-width="0.45"/>
<text x="71.80" y="961.90" font-size="8" stroke="#000" stroke-width="0.18">SBS1</text>
<rect x="50.40" y="967.20" width="13.70" height="5.20" fill="#e8760f" stroke="#222" stroke-width="0.45"/>
<text x="71.80" y="972.60" font-size="8" stroke="#000" stroke-width="0.18">SBS5</text>
<rect x="134.40" y="956.50" width="13.70" height="5.20" fill="#d9220f" stroke="#222" stroke-width="0.45"/>
<text x="155.80" y="961.90" font-size="8" stroke="#000" stroke-width="0.18">SBS2</text>
<rect x="134.40" y="967.20" width="13.70" height="5.20" fill="#277773" stroke="#222" stroke-width="0.45"/>
<text x="155.80" y="972.60" font-size="8" stroke="#000" stroke-width="0.18">SBS13</text>
<rect x="218.40" y="956.50" width="13.70" height="5.20" fill="#1d5f87" stroke="#222" stroke-width="0.45"/>
<text x="239.80" y="961.90" font-size="8" stroke="#000" stroke-width="0.18">SBS8</text>
<rect x="218.40" y="967.20" width="13.70" height="5.20" fill="#11264a" stroke="#222" stroke-width="0.45"/>
<text x="239.80" y="972.60" font-size="8" stroke="#000" stroke-width="0.18">SBS9</text>
<rect x="298.90" y="956.50" width="13.70" height="5.20" fill="#868a0c" stroke="#222" stroke-width="0.45"/>
<text x="320.30" y="961.90" font-size="8" stroke="#000" stroke-width="0.18">SBS18</text>
<rect x="298.90" y="967.20" width="13.70" height="5.20" fill="#e0a51e" stroke="#222" stroke-width="0.45"/>
<text x="320.30" y="972.60" font-size="8" stroke="#000" stroke-width="0.18">SBS-MM1</text>
</g>
<g id="pH">
<line x1="471.40" y1="839.80" x2="471.40" y2="953.80" stroke="#1a1a1a" stroke-width="1.1"/>
<line x1="470.90" y1="953.30" x2="585.50" y2="953.30" stroke="#1a1a1a" stroke-width="1.1"/>
<line x1="465.80" y1="953.30" x2="471.40" y2="953.30" stroke="#1a1a1a" stroke-width="1.1"/>
<text x="463.00" y="957.90" font-size="11" text-anchor="end" stroke="#000" stroke-width="0.24">0</text>
<line x1="465.80" y1="901.70" x2="471.40" y2="901.70" stroke="#1a1a1a" stroke-width="1.1"/>
<text x="463.00" y="906.30" font-size="11" text-anchor="end" stroke="#000" stroke-width="0.24">50</text>
<line x1="465.80" y1="850.10" x2="471.40" y2="850.10" stroke="#1a1a1a" stroke-width="1.1"/>
<text x="463.00" y="854.70" font-size="11" text-anchor="end" stroke="#000" stroke-width="0.24">100</text>
<line x1="471.40" y1="953.30" x2="471.40" y2="958.60" stroke="#1a1a1a" stroke-width="1.1"/>
<text x="471.40" y="973.40" font-size="11" text-anchor="middle" stroke="#000" stroke-width="0.24">0</text>
<line x1="509.30" y1="953.30" x2="509.30" y2="958.60" stroke="#1a1a1a" stroke-width="1.1"/>
<text x="509.30" y="973.40" font-size="11" text-anchor="middle" stroke="#000" stroke-width="0.24">50</text>
<line x1="547.20" y1="953.30" x2="547.20" y2="958.60" stroke="#1a1a1a" stroke-width="1.1"/>
<text x="547.20" y="973.40" font-size="11" text-anchor="middle" stroke="#000" stroke-width="0.24">100</text>
<line x1="585.10" y1="953.30" x2="585.10" y2="958.60" stroke="#1a1a1a" stroke-width="1.1"/>
<text x="585.10" y="973.40" font-size="11" text-anchor="middle" stroke="#000" stroke-width="0.24">150</text>
<text x="528.40" y="990.70" font-size="11" text-anchor="middle" stroke="#000" stroke-width="0.24">Months</text>
<text x="436.60" y="897.00" font-size="11" text-anchor="middle" transform="rotate(-90 436.60 897.00)" stroke="#000" stroke-width="0.24">Probability of Survival</text>
<path d="M472.1 850.1L472.1 864.4L474.0 864.4L474.0 868.1L477.2 868.1L477.2 873.1L480.2 873.1L480.2 879.3L483.2 879.3L483.2 884.7L485.1 884.7L485.1 890.4L486.9 890.4L486.9 899.0L487.6 899.0L487.6 913.3L498.7 913.3L498.7 917.5L504.2 917.5L504.2 925.4L521.7 925.4L521.7 934.3L550.1 934.3L550.1 953.3" fill="none" stroke="#dab892" stroke-width="1.6"/>
<path d="M472.1 864.4L472.1 884.7L476.5 884.7L476.5 895.3L477.7 895.3L477.7 906.9L486.4 906.9L486.4 918.8L493.3 918.8L493.3 929.4L498.2 929.4L498.2 941.0L504.4 941.0L504.4 953.3" fill="none" stroke="#e8760f" stroke-width="1.6"/>
<rect x="498.61" y="916.23" width="1.30" height="2.20" fill="#111"/>
<rect x="501.08" y="916.23" width="1.30" height="2.20" fill="#111"/>
<rect x="516.39" y="922.90" width="1.30" height="2.20" fill="#111"/>
<rect x="545.03" y="932.28" width="1.30" height="2.20" fill="#111"/>
<rect x="470.90" y="875.60" width="1.00" height="9.00" fill="#222"/>
<line x1="539.50" y1="850.90" x2="558.50" y2="850.90" stroke="#dab892" stroke-width="1.6"/>
<line x1="539.50" y1="871.40" x2="558.50" y2="871.40" stroke="#e8760f" stroke-width="1.6"/>
<rect x="548.30" y="848.60" width="1.30" height="2.30" fill="#111"/>
<rect x="548.30" y="869.10" width="1.30" height="2.30" fill="#111"/>
<text x="567.70" y="854.80" font-size="11" stroke="#000" stroke-width="0.24">MAPK</text>
<text x="567.70" y="875.30" font-size="11" stroke="#000" stroke-width="0.24">Non-MAPK</text>
<text x="559.80" y="915.80" font-size="10.6" stroke="#000" stroke-width="0.23">p=0.113</text>
</g>
</svg>
</body></html>
